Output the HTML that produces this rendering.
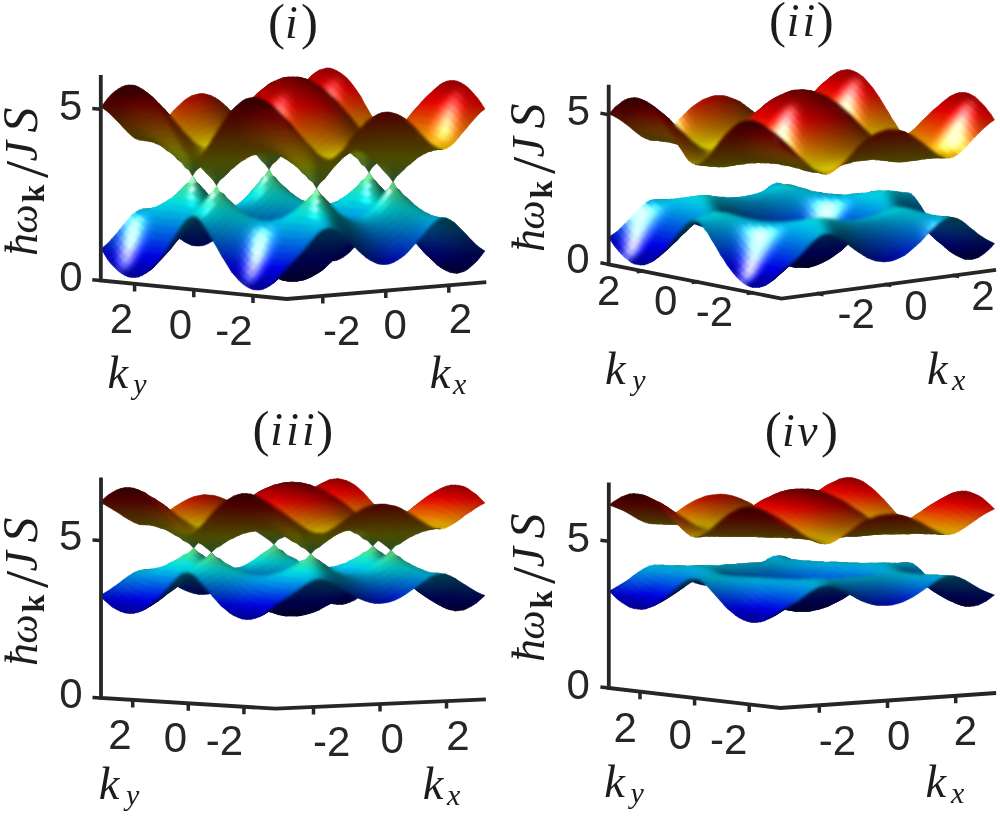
<!DOCTYPE html>
<html><head><meta charset="utf-8"><title>Magnon bands</title>
<style>
html,body{margin:0;padding:0;background:#fff}
body{width:1000px;height:816px;overflow:hidden;position:relative}
svg{position:absolute;left:0;top:0}
.sf path{fill:currentColor;stroke:currentColor;stroke-width:1;stroke-linejoin:round}
</style></head><body>
<svg width="1000" height="816" viewBox="0 0 1000 816">
<rect width="1000" height="816" fill="#fff"/>
<defs><filter id="fsil" x="94" y="163" width="395" height="132" filterUnits="userSpaceOnUse" color-interpolation-filters="sRGB"><feGaussianBlur stdDeviation="1.35"/><feComponentTransfer><feFuncA type="linear" slope="2.4" intercept="-1.3"/></feComponentTransfer></filter>
<filter id="fsiu" x="94" y="62" width="395" height="132" filterUnits="userSpaceOnUse" color-interpolation-filters="sRGB"><feGaussianBlur stdDeviation="1.35"/><feComponentTransfer><feFuncA type="linear" slope="2.4" intercept="-1.3"/></feComponentTransfer></filter>
<filter id="fsiil" x="602" y="177" width="397" height="116" filterUnits="userSpaceOnUse" color-interpolation-filters="sRGB"><feGaussianBlur stdDeviation="1.35"/><feComponentTransfer><feFuncA type="linear" slope="2.4" intercept="-1.3"/></feComponentTransfer></filter>
<filter id="fsiiu" x="602" y="63" width="397" height="116" filterUnits="userSpaceOnUse" color-interpolation-filters="sRGB"><feGaussianBlur stdDeviation="1.35"/><feComponentTransfer><feFuncA type="linear" slope="2.4" intercept="-1.3"/></feComponentTransfer></filter>
<filter id="fsiiil" x="93" y="538" width="397" height="87" filterUnits="userSpaceOnUse" color-interpolation-filters="sRGB"><feGaussianBlur stdDeviation="1.45"/><feComponentTransfer><feFuncA type="linear" slope="2.4" intercept="-1.3"/></feComponentTransfer></filter>
<filter id="fsiiiu" x="93" y="472" width="397" height="87" filterUnits="userSpaceOnUse" color-interpolation-filters="sRGB"><feGaussianBlur stdDeviation="1.45"/><feComponentTransfer><feFuncA type="linear" slope="2.4" intercept="-1.3"/></feComponentTransfer></filter>
<filter id="fsivl" x="602" y="549" width="397" height="79" filterUnits="userSpaceOnUse" color-interpolation-filters="sRGB"><feGaussianBlur stdDeviation="1.45"/><feComponentTransfer><feFuncA type="linear" slope="2.4" intercept="-1.3"/></feComponentTransfer></filter>
<filter id="fsivu" x="602" y="471" width="397" height="78" filterUnits="userSpaceOnUse" color-interpolation-filters="sRGB"><feGaussianBlur stdDeviation="1.45"/><feComponentTransfer><feFuncA type="linear" slope="2.4" intercept="-1.3"/></feComponentTransfer></filter></defs>
<g id="sil" class="sf" transform="scale(.5)">
<path color=#000b4c d="M429 474l8-5-7 10-8 5z"/>
<path color=#00084c d="M422 478l7-4-7 10-7 4z"/>
<path color=#00064c d="M414 481l8-3-7 10-8 3z"/>
<path color=#00054c d="M407 482l7-1-7 10-7 1z"/>
<path color=#00054c d="M399 482l8 0-7 10-8 0z"/>
<path color=#00064c d="M391 481l8 1-7 10-8-1z"/>
<path color=#00084c d="M384 478l7 3-7 10-7-3z"/>
<path color=#000b4c d="M376 474l8 4-7 10-8-4z"/>
<path color=#000e4c d="M368 469l8 5-7 10-7-5z"/>
<path color=#00134c d="M361 463l7 6-6 10-8-6z"/>
<path color=#00404c d="M292 418l8-1-7 1-8 0z"/>
<path color=#00b0d6 d="M285 423l7-5-7 0-7 2z"/>
<path color=#03addc d="M277 430l8-7-7-3-8 5z"/>
<path color=#42dcff d="M269 438l8-8-7-5-8 6z"/>
<path color=#7cffff d="M262 448l7-10-7-7-7 9z"/>
<path color=#77e9ff d="M254 458l8-10-7-8-8 9z"/>
<path color=#59b8ff d="M247 468l7-10-7-9-7 9z"/>
<path color=#3984fe d="M239 478l8-10-7-10-8 10z"/>
<path color=#1e58e0 d="M231 487l8-9-7-10-8 9z"/>
<path color=#0c36ca d="M224 495l7-8-7-10-7 8z"/>
<path color=#031fbd d="M216 503l8-8-7-10-8 7z"/>
<path color=#0111b5 d="M209 509l7-6-7-11-7 6z"/>
<path color=#000e4c d="M421 470l8-3-7 11-8 3z"/>
<path color=#000d4c d="M413 471l8-1-7 11-7 1z"/>
<path color=#000d4c d="M406 471l7 0-6 11-8 0z"/>
<path color=#000e4c d="M398 470l8 1-7 11-8-1z"/>
<path color=#00104c d="M391 467l7 3-7 11-7-3z"/>
<path color=#00134c d="M383 464l8 3-7 11-8-4z"/>
<path color=#00174c d="M375 459l8 5-7 10-8-5z"/>
<path color=#001b4c d="M368 453l7 6-7 10-7-6z"/>
<path color=#00b2d2 d="M299 419l8-4-7 2-8 1z"/>
<path color=#00b7e1 d="M292 426l7-7-7-1-7 5z"/>
<path color=#10b8ef d="M284 434l8-8-7-3-8 7z"/>
<path color=#7ff d="M276 444l8-10-7-4-8 8z"/>
<path color=#bfffff d="M269 455l7-11-7-6-7 10z"/>
<path color=#c3ffff d="M261 466l8-11-7-7-8 10z"/>
<path color=#a3f4ff d="M253 476l8-10-7-8-7 10z"/>
<path color=#76b3ff d="M246 487l7-11-6-8-8 10z"/>
<path color=#4872ff d="M238 496l8-9-7-9-8 9z"/>
<path color=#223be5 d="M231 505l7-9-7-9-7 8z"/>
<path color=#0b16ca d="M223 512l8-7-7-10-8 8z"/>
<path color=#0202bb d="M215 519l8-7-7-9-7 6z"/>
<path color=#00164c d="M420 460l8-1-7 11-8 1z"/>
<path color=#00164c d="M413 460l7 0-7 11-7 0z"/>
<path color=#00174c d="M405 459l8 1-7 11-8-1z"/>
<path color=#00194c d="M397 456l8 3-7 11-7-3z"/>
<path color=#001c4c d="M390 452l7 4-6 11-8-3z"/>
<path color=#001f4c d="M382 448l8 4-7 12-8-5z"/>
<path color=#00244c d="M375 442l7 6-7 11-7-6z"/>
<path color=#00c1e0 d="M306 420l8-7-7 2-8 4z"/>
<path color=#00b7e5 d="M298 428l8-8-7-1-7 7z"/>
<path color=#16b8f6 d="M291 439l7-11-6-2-8 8z"/>
<path color=#6af4ff d="M283 450l8-11-7-5-8 10z"/>
<path color=#b7ffff d="M276 461l7-11-7-6-7 11z"/>
<path color=#dcffff d="M268 473l8-12-7-6-8 11z"/>
<path color=#dbffff d="M260 484l8-11-7-7-8 10z"/>
<path color=#bdecff d="M253 495l7-11-7-8-7 11z"/>
<path color=#89a5ff d="M245 504l8-9-7-8-8 9z"/>
<path color=#4f59ff d="M237 513l8-9-7-8-7 9z"/>
<path color=#2020e0 d="M230 521l7-8-6-8-8 7z"/>
<path color=#0808b7 d="M222 528l8-7-7-9-8 7z"/>
<path color=#00204c d="M412 447l8 2-7 11-8-1z"/>
<path color=#00224c d="M404 445l8 2-7 12-8-3z"/>
<path color=#00254c d="M397 441l7 4-7 11-7-4z"/>
<path color=#00284c d="M389 436l8 5-7 11-8-4z"/>
<path color=#00c5d5 d="M321 412l7-7-7 4-7 4z"/>
<path color=#00c7e5 d="M313 420l8-8-7 1-8 7z"/>
<path color=#00b5e5 d="M305 431l8-11-7 0-8 8z"/>
<path color=#0fabef d="M298 443l7-12-7-3-7 11z"/>
<path color=#3ec0ff d="M290 455l8-12-7-4-8 11z"/>
<path color=#79e2ff d="M282 467l8-12-7-5-7 11z"/>
<path color=#aefeff d="M275 479l7-12-6-6-8 12z"/>
<path color=#d1ffff d="M267 491l8-12-7-6-8 11z"/>
<path color=#dbfeff d="M260 501l7-10-7-7-7 11z"/>
<path color=#c4d2ff d="M252 512l8-11-7-6-8 9z"/>
<path color=#8c8cff d="M244 521l8-9-7-8-8 9z"/>
<path color=#4747ff d="M237 529l7-8-7-8-7 8z"/>
<path color=#1616bd d="M229 535l8-6-7-8-8 7z"/>
<path color=#002d4c d="M404 430l7 4-7 11-7-4z"/>
<path color=#00314c d="M396 425l8 5-7 11-8-5z"/>
<path color=#00d5de d="M327 410l8-9-7 4-7 7z"/>
<path color=#00c9e4 d="M320 421l7-11-6 2-8 8z"/>
<path color=#00b2e3 d="M312 433l8-12-7-1-8 11z"/>
<path color=#079ee7 d="M305 446l7-13-7-2-7 12z"/>
<path color=#1b97f9 d="M297 459l8-13-7-3-8 12z"/>
<path color=#3b9cff d="M289 472l8-13-7-4-8 12z"/>
<path color=#62a9ff d="M282 484l7-12-7-5-7 12z"/>
<path color=#8bb9ff d="M274 496l8-12-7-5-8 12z"/>
<path color=#aec5ff d="M266 507l8-11-7-5-7 10z"/>
<path color=#bdbfff d="M259 518l7-11-6-6-8 11z"/>
<path color=#a7a7ff d="M251 527l8-9-7-6-8 9z"/>
<path color=#6b6bff d="M244 535l7-8-7-6-7 8z"/>
<path color=#2a2acb d="M236 542l8-7-7-6-8 6z"/>
<path color=#0ed2c3 d="M342 398l8-8-7 6-8 5z"/>
<path color=#00dee0 d="M334 409l8-11-7 3-8 9z"/>
<path color=#00c9e2 d="M327 422l7-13-7 1-7 11z"/>
<path color=#00afe2 d="M319 435l8-13-7-1-8 12z"/>
<path color=#0395e2 d="M311 449l8-14-7-2-7 13z"/>
<path color=#0980e8 d="M304 462l7-13-6-3-8 13z"/>
<path color=#1570f3 d="M296 476l8-14-7-3-8 13z"/>
<path color=#2766ff d="M289 488l7-12-7-4-7 12z"/>
<path color=#3e63ff d="M281 501l8-13-7-4-8 12z"/>
<path color=#5866ff d="M273 512l8-11-7-5-8 11z"/>
<path color=#6f6fff d="M266 523l7-11-7-5-7 11z"/>
<path color=#7575ff d="M258 532l8-9-7-5-8 9z"/>
<path color=#5b5bff d="M250 540l8-8-7-5-7 8z"/>
<path color=#2c2cc8 d="M243 547l7-7-6-5-8 7z"/>
<path color=#1adac1 d="M349 396l7-12-6 6-8 8z"/>
<path color=#03e0dd d="M341 409l8-13-7 2-8 11z"/>
<path color=#00c9e1 d="M334 422l7-13-7 0-7 13z"/>
<path color=#00ace0 d="M326 437l8-15-7 0-8 13z"/>
<path color=#0190e0 d="M318 451l8-14-7-2-8 14z"/>
<path color=#0374e2 d="M311 465l7-14-7-2-7 13z"/>
<path color=#065be5 d="M303 479l8-14-7-3-8 14z"/>
<path color=#0a44e9 d="M295 492l8-13-7-3-7 12z"/>
<path color=#1130f0 d="M288 504l7-12-6-4-8 13z"/>
<path color=#1a20f9 d="M280 516l8-12-7-3-8 11z"/>
<path color=#2323f2 d="M273 526l7-10-7-4-7 11z"/>
<path color=#2828e3 d="M265 536l8-10-7-3-8 9z"/>
<path color=#2323cb d="M257 544l8-8-7-4-8 8z"/>
<path color=#1313aa d="M250 551l7-7-7-4-7 7z"/>
<path color=#1fc7a8 d="M508 377l8-10-7 8-8 9z"/>
<path color=#0fcbbc d="M500 386l8-9-7 7-7 8z"/>
<path color=#00cbcc d="M493 394l7-8-6 6-8 8z"/>
<path color=#00bdcb d="M485 401l8-7-7 6-8 7z"/>
<path color=#37d39c d="M363 381l8-12-7 7-8 8z"/>
<path color=#22debc d="M356 394l7-13-7 3-7 12z"/>
<path color=#07dfd8 d="M348 408l8-14-7 2-8 13z"/>
<path color=#00c9df d="M340 423l8-15-7 1-7 13z"/>
<path color=#00abdf d="M333 438l7-15-6-1-8 15z"/>
<path color=#008ddf d="M325 452l8-14-7-1-8 14z"/>
<path color=#016fe0 d="M318 467l7-15-7-1-7 14z"/>
<path color=#0153e1 d="M310 481l8-14-7-2-8 14z"/>
<path color=#0237e2 d="M302 494l8-13-7-2-8 13z"/>
<path color=#031de3 d="M295 507l7-13-7-2-7 12z"/>
<path color=#0405e5 d="M287 518l8-11-7-3-8 12z"/>
<path color=#0505d1 d="M280 529l7-11-7-2-7 10z"/>
<path color=#0505bd d="M272 539l8-10-7-3-8 10z"/>
<path color=#0404aa d="M264 547l8-8-7-3-8 8z"/>
<path color=#020297 d="M257 554l7-7-7-3-7 7z"/>
<path color=#52c573 d="M530 352l8-13-7 12-8 6z"/>
<path color=#45da95 d="M523 364l7-12-7 5-7 10z"/>
<path color=#30deae d="M515 375l8-11-7 3-8 10z"/>
<path color=#1ce0c5 d="M507 384l8-9-7 2-8 9z"/>
<path color=#0ae1d8 d="M500 393l7-9-7 2-7 8z"/>
<path color=#00dbe1 d="M492 400l8-7-7 1-8 7z"/>
<path color=#00ccde d="M484 405l8-5-7 1-7 6z"/>
<path color=#00bed9 d="M477 410l7-5-6 2-8 4z"/>
<path color=#5c7 d="M378 366l7-14-6 12-8 5z"/>
<path color=#44de9b d="M370 380l8-14-7 3-8 12z"/>
<path color=#27dfb8 d="M363 394l7-14-7 1-7 13z"/>
<path color=#09dfd6 d="M355 409l8-15-7 0-8 14z"/>
<path color=#00c9df d="M347 424l8-15-7-1-8 15z"/>
<path color=#00aadf d="M340 439l7-15-7-1-7 15z"/>
<path color=#008bdf d="M332 453l8-14-7-1-8 14z"/>
<path color=#006ddf d="M324 468l8-15-7-1-7 15z"/>
<path color=#0050e0 d="M317 482l7-14-6-1-8 14z"/>
<path color=#0034e1 d="M309 495l8-13-7-1-8 13z"/>
<path color=#0019e2 d="M302 508l7-13-7-1-7 13z"/>
<path color=#0000e2 d="M294 520l8-12-7-1-8 11z"/>
<path color=#0000cb d="M286 530l8-10-7-2-7 11z"/>
<path color=#0000b7 d="M279 540l7-10-6-1-8 10z"/>
<path color=#0000a4 d="M271 548l8-8-7-1-8 8z"/>
<path color=#000094 d="M264 555l7-7-7-1-7 7z"/>
<path color=#204c2d d="M545 352l7 4-7-4-7-13z"/>
<path color=#67da88 d="M537 358l8-6-7-13-8 13z"/>
<path color=#dcffff d="M529 368l8-10-7-6-7 12z"/>
<path color=#6dffec d="M522 378l7-10-6-4-8 11z"/>
<path color=#36fadf d="M514 387l8-9-7-3-8 9z"/>
<path color=#13ebe1 d="M507 396l7-9-7-3-7 9z"/>
<path color=#02dde3 d="M499 403l8-7-7-3-8 7z"/>
<path color=#00ccdf d="M491 408l8-5-7-3-8 5z"/>
<path color=#00bed9 d="M484 413l7-5-7-3-7 5z"/>
<path color=#00afcf d="M476 415l8-2-7-3-8 3z"/>
<path color=#204c2d d="M392 365l8 5-7-6-8-12z"/>
<path color=#b3ffd5 d="M385 370l7-5-7-13-7 14z"/>
<path color=#51eca8 d="M377 382l8-12-7-4-8 14z"/>
<path color=#28e0b9 d="M369 396l8-14-7-2-7 14z"/>
<path color=#09dfd6 d="M362 410l7-14-6-2-8 15z"/>
<path color=#00c9df d="M354 424l8-14-7-1-8 15z"/>
<path color=#00aadf d="M347 439l7-15-7 0-7 15z"/>
<path color=#008bdf d="M339 454l8-15-7 0-8 14z"/>
<path color=#006ddf d="M331 468l8-14-7-1-8 15z"/>
<path color=#0050e0 d="M324 482l7-14-7 0-7 14z"/>
<path color=#0033e1 d="M316 495l8-13-7 0-8 13z"/>
<path color=#0018e1 d="M309 508l7-13-7 0-7 13z"/>
<path color=#0000e2 d="M301 520l8-12-7 0-8 12z"/>
<path color=#0000cb d="M293 530l8-10-7 0-8 10z"/>
<path color=#0000b7 d="M286 540l7-10-7 0-7 10z"/>
<path color=#0000a4 d="M278 548l8-8-7 0-8 8z"/>
<path color=#000094 d="M271 555l7-7-7 0-7 7z"/>
<path color=#003 d="M666 515l7 6-7 1-7-6z"/>
<path color=#267650 d="M552 365l7 0-7-9-7-4z"/>
<path color=#34a975 d="M544 370l8-5-7-13-8 6z"/>
<path color=#32c395 d="M536 378l8-8-7-12-8 10z"/>
<path color=#3ee7c8 d="M529 387l7-9-7-10-7 10z"/>
<path color=#39f6e7 d="M521 395l8-8-7-9-8 9z"/>
<path color=#1ce7e8 d="M513 403l8-8-7-8-7 9z"/>
<path color=#09c6d4 d="M506 410l7-7-6-7-8 7z"/>
<path color=#01b0c9 d="M498 415l8-5-7-7-8 5z"/>
<path color=#00a2c2 d="M491 419l7-4-7-7-7 5z"/>
<path color=#0095b9 d="M483 422l8-3-7-6-8 2z"/>
<path color=#0088ac d="M475 423l8-1-7-7-7 2z"/>
<path color=#0c4c41 d="M414 388l8 8-7-9-7-8z"/>
<path color=#124c3a d="M407 381l7 7-6-9-8-9z"/>
<path color=#1e6244 d="M399 377l8 4-7-11-8-5z"/>
<path color=#34a16d d="M392 379l7-2-7-12-7 5z"/>
<path color=#d2ffff d="M384 387l8-8-7-9-8 12z"/>
<path color=#42fddb d="M376 398l8-11-7-5-8 14z"/>
<path color=#09e1da d="M369 411l7-13-7-2-7 14z"/>
<path color=#00c9df d="M361 425l8-14-7-1-8 14z"/>
<path color=#00abdf d="M354 439l7-14-7-1-7 15z"/>
<path color=#008cdf d="M346 454l8-15-7 0-8 15z"/>
<path color=#006fdf d="M338 468l8-14-7 0-8 14z"/>
<path color=#0052df d="M331 481l7-13-7 0-7 14z"/>
<path color=#0035e0 d="M323 494l8-13-7 1-8 13z"/>
<path color=#001be1 d="M315 507l8-13-7 1-7 13z"/>
<path color=#0002e1 d="M308 519l7-12-6 1-8 12z"/>
<path color=#0000cd d="M300 529l8-10-7 1-8 10z"/>
<path color=#0000b8 d="M293 539l7-10-7 1-7 10z"/>
<path color=#0000a6 d="M285 547l8-8-7 1-8 8z"/>
<path color=#000095 d="M277 554l8-7-7 1-7 7z"/>
<path color=#000035 d="M673 512l7 6-7 3-7-6z"/>
<path color=#136451 d="M566 375l8 3-7-6-8-7z"/>
<path color=#1f8c6e d="M558 377l8-2-7-10-7 0z"/>
<path color=#20a686 d="M551 382l7-5-6-12-8 5z"/>
<path color=#18b29a d="M543 390l8-8-7-12-8 8z"/>
<path color=#0cb9ae d="M536 398l7-8-7-12-7 9z"/>
<path color=#01b9bc d="M528 406l8-8-7-11-8 8z"/>
<path color=#01acbc d="M520 413l8-7-7-11-8 8z"/>
<path color=#009eb9 d="M513 419l7-6-7-10-7 7z"/>
<path color=#0091b5 d="M505 424l8-5-7-9-8 5z"/>
<path color=#0085af d="M498 428l7-4-7-9-7 4z"/>
<path color=#007aa6 d="M490 431l8-3-7-9-8 3z"/>
<path color=#0b5449 d="M414 394l7 6-7-12-7-7z"/>
<path color=#136451 d="M406 390l8 4-7-13-8-4z"/>
<path color=#1e8c6d d="M398 389l8 1-7-13-7 2z"/>
<path color=#26c29d d="M391 394l7-5-6-10-8 8z"/>
<path color=#8dffff d="M383 402l8-8-7-7-8 11z"/>
<path color=#0ce9e6 d="M376 413l7-11-7-4-7 13z"/>
<path color=#00cae1 d="M368 426l8-13-7-2-8 14z"/>
<path color=#00ace0 d="M360 439l8-13-7-1-7 14z"/>
<path color=#008fdf d="M353 453l7-14-6 0-8 15z"/>
<path color=#0072df d="M345 466l8-13-7 1-8 14z"/>
<path color=#0055df d="M338 480l7-14-7 2-7 13z"/>
<path color=#003adf d="M330 493l8-13-7 1-8 13z"/>
<path color=#001fdf d="M322 505l8-12-7 1-8 13z"/>
<path color=#0007df d="M315 516l7-11-7 2-7 12z"/>
<path color=#0000cf d="M307 527l8-11-7 3-8 10z"/>
<path color=#00b d="M299 536l8-9-7 2-7 10z"/>
<path color=#0000a8 d="M292 544l7-8-6 3-8 8z"/>
<path color=#000098 d="M284 551l8-7-7 3-8 7z"/>
<path color=#000037 d="M680 508l7 6-7 4-7-6z"/>
<path color=#065d57 d="M581 386l7 4-7-5-7-7z"/>
<path color=#0e8172 d="M573 386l8 0-7-8-8-3z"/>
<path color=#129b89 d="M565 389l8-3-7-11-8 2z"/>
<path color=#0da89b d="M558 395l7-6-7-12-7 5z"/>
<path color=#03afac d="M550 402l8-7-7-13-8 8z"/>
<path color=#00a9b2 d="M542 410l8-8-7-12-7 8z"/>
<path color=#009db3 d="M535 418l7-8-6-12-8 8z"/>
<path color=#0090b2 d="M527 425l8-7-7-12-8 7z"/>
<path color=#0084af d="M520 431l7-6-7-12-7 6z"/>
<path color=#0078aa d="M512 436l8-5-7-12-8 5z"/>
<path color=#006da4 d="M504 440l8-4-7-12-7 4z"/>
<path color=#00649c d="M497 442l7-2-6-12-8 3z"/>
<path color=#08625b d="M413 402l8 4-7-12-8-4z"/>
<path color=#0e7d6f d="M405 400l8 2-7-12-8-1z"/>
<path color=#13aa97 d="M398 401l7-1-7-11-7 5z"/>
<path color=#27ebdd d="M390 407l8-6-7-7-8 8z"/>
<path color=#17f5f8 d="M383 416l7-9-7-5-7 11z"/>
<path color=#01cae3 d="M375 426l8-10-7-3-8 13z"/>
<path color=#00afe1 d="M367 439l8-13-7 0-8 13z"/>
<path color=#0092e0 d="M360 451l7-12-7 0-7 14z"/>
<path color=#0076df d="M352 464l8-13-7 2-8 13z"/>
<path color=#005ade d="M344 477l8-13-7 2-7 14z"/>
<path color=#003fdd d="M337 490l7-13-6 3-8 13z"/>
<path color=#0026dd d="M329 502l8-12-7 3-8 12z"/>
<path color=#000edc d="M322 513l7-11-7 3-7 11z"/>
<path color=#0000d4 d="M314 523l8-10-7 3-8 11z"/>
<path color=#0000bf d="M306 532l8-9-7 4-8 9z"/>
<path color=#0000ac d="M299 541l7-9-7 4-7 8z"/>
<path color=#00009b d="M291 547l8-6-7 3-8 7z"/>
<path color=#00003b d="M687 503l7 6-7 5-7-6z"/>
<path color=#000040 d="M679 497l8 6-7 5-8-6z"/>
<path color=#017b7a d="M587 394l8 1-7-5-7-4z"/>
<path color=#049893 d="M580 396l7-2-6-8-8 0z"/>
<path color=#02a6a5 d="M572 401l8-5-7-10-8 3z"/>
<path color=#00a6ad d="M565 407l7-6-7-12-7 6z"/>
<path color=#009eaf d="M557 415l8-8-7-12-8 7z"/>
<path color=#0093b0 d="M549 423l8-8-7-13-8 8z"/>
<path color=#0086b0 d="M542 430l7-7-7-13-7 8z"/>
<path color=#0079ad d="M534 437l8-7-7-12-8 7z"/>
<path color=#006daa d="M527 443l7-6-7-12-7 6z"/>
<path color=#0062a5 d="M519 448l8-5-7-12-8 5z"/>
<path color=#00599f d="M511 452l8-4-7-12-8 4z"/>
<path color=#017170 d="M412 410l8 3-7-11-8-2z"/>
<path color=#049490 d="M405 409l7 1-7-10-7 1z"/>
<path color=#02c2c0 d="M397 412l8-3-7-8-8 6z"/>
<path color=#0de2eb d="M389 418l8-6-7-5-7 9z"/>
<path color=#01c9e5 d="M382 427l7-9-6-2-8 10z"/>
<path color=#00b1e3 d="M374 438l8-11-7-1-8 13z"/>
<path color=#0097e0 d="M367 449l7-11-7 1-7 12z"/>
<path color=#007cde d="M359 462l8-13-7 2-8 13z"/>
<path color=#0061dc d="M351 474l8-12-7 2-8 13z"/>
<path color=#0047db d="M344 486l7-12-7 3-7 13z"/>
<path color=#002eda d="M336 497l8-11-7 4-8 12z"/>
<path color=#0017d9 d="M328 508l8-11-7 5-7 11z"/>
<path color=#0002d7 d="M321 518l7-10-6 5-8 10z"/>
<path color=#0000c4 d="M313 528l8-10-7 5-8 9z"/>
<path color=#0000b2 d="M306 536l7-8-7 4-7 9z"/>
<path color=#0000a1 d="M298 542l8-6-7 5-8 6z"/>
<path color=#000040 d="M693 497l8 6-7 6-7-6z"/>
<path color=#000045 d="M686 491l7 6-6 6-8-6z"/>
<path color=#006f78 d="M602 401l8 2-7-3-8-5z"/>
<path color=#009198 d="M594 402l8-1-7-6-8-1z"/>
<path color=#00a0a9 d="M587 406l7-4-7-8-7 2z"/>
<path color=#00a0b0 d="M579 412l8-6-7-10-8 5z"/>
<path color=#0098b2 d="M572 419l7-7-7-11-7 6z"/>
<path color=#008cb2 d="M564 427l8-8-7-12-8 8z"/>
<path color=#007fb1 d="M556 435l8-8-7-12-8 8z"/>
<path color=#0072af d="M549 443l7-8-7-12-7 7z"/>
<path color=#0065ad d="M541 449l8-6-7-13-8 7z"/>
<path color=#0059a9 d="M533 455l8-6-7-12-7 6z"/>
<path color=#00c6d5 d="M396 421l8-3-7-6-8 6z"/>
<path color=#00c7e5 d="M389 428l7-7-7-3-7 9z"/>
<path color=#00b5e4 d="M381 437l8-9-7-1-8 11z"/>
<path color=#000040 d="M305 536l7-7-6 7-8 6z"/>
<path color=#000046 d="M700 490l8 5-7 8-8-6z"/>
<path color=#00004b d="M693 483l7 7-7 7-7-6z"/>
<path color=#00899a d="M609 407l7-1-6-3-8-2z"/>
<path color=#009eb1 d="M601 410l8-3-7-6-8 1z"/>
<path color=#009eb7 d="M594 415l7-5-7-8-7 4z"/>
<path color=#0096b8 d="M586 422l8-7-7-9-8 6z"/>
<path color=#008ab8 d="M578 431l8-9-7-10-7 7z"/>
<path color=#007cb6 d="M571 439l7-8-6-12-8 8z"/>
<path color=#006db4 d="M563 447l8-8-7-12-8 8z"/>
<path color=#005fb1 d="M556 455l7-8-7-12-7 8z"/>
<path color=#000046 d="M312 529l7-7-7 7-7 7z"/>
<path color=#00004c d="M707 482l8 5-7 8-8-5z"/>
<path color=#00044c d="M700 475l7 7-7 8-7-7z"/>
<path color=#0199c2 d="M601 424l7-7-7-7-7 5z"/>
<path color=#028dc2 d="M593 433l8-9-7-9-8 7z"/>
<path color=#027dbf d="M585 441l8-8-7-11-8 9z"/>
<path color=#00044c d="M326 514l8-8-7 8-8 8z"/>
<path color=#00004c d="M319 520l7-6-7 8-7 7z"/>
<path color=#00114c d="M341 497l7-8-6 9-8 8z"/>
<path color=#000b4c d="M333 505l8-8-7 9-8 8z"/>
<path color=#00074c d="M326 511l7-6-7 9-7 6z"/>
<path color=#00244c d="M363 471l8-9-7 9-8 9z"/>
<path color=#001e4c d="M355 479l8-8-7 9-8 9z"/>
<path color=#00184c d="M348 487l7-8-7 10-7 8z"/>
<path color=#00134c d="M340 495l8-8-7 10-8 8z"/>
<path color=#000f4c d="M333 501l7-6-7 10-7 6z"/>
<path color=#003c4c d="M393 437l7-5-7 6-7 7z"/>
<path color=#00374c d="M385 445l8-8-7 8-8 8z"/>
<path color=#00324c d="M377 453l8-8-7 8-7 9z"/>
<path color=#002c4c d="M370 461l7-8-6 9-8 9z"/>
<path color=#00264c d="M362 469l8-8-7 10-8 8z"/>
<path color=#00204c d="M355 477l7-8-7 10-7 8z"/>
<path color=#001b4c d="M347 484l8-7-7 10-8 8z"/>
<path color=#00174c d="M339 490l8-6-7 11-7 6z"/>
<path color=#00444c d="M666 406l8-3-7 4-8 1z"/>
<path color=#00c1e0 d="M659 413l7-7-7 2-7 4z"/>
<path color=#003e4c d="M392 435l8-6-7 8-8 8z"/>
<path color=#00394c d="M384 443l8-8-7 10-8 8z"/>
<path color=#00344c d="M377 450l7-7-7 10-7 8z"/>
<path color=#002e4c d="M369 458l8-8-7 11-8 8z"/>
<path color=#00294c d="M361 466l8-8-7 11-7 8z"/>
<path color=#00244c d="M354 473l7-7-6 11-8 7z"/>
<path color=#001f4c d="M346 479l8-6-7 11-8 6z"/>
<path color=#00c5d5 d="M673 405l8-7-7 5-8 3z"/>
<path color=#00c7e5 d="M665 413l8-8-7 1-7 7z"/>
<path color=#00414c d="M391 432l8-7-7 10-8 8z"/>
<path color=#003c4c d="M384 439l7-7-7 11-7 7z"/>
<path color=#00374c d="M376 447l8-8-7 11-8 8z"/>
<path color=#00324c d="M368 455l8-8-7 11-8 8z"/>
<path color=#002d4c d="M361 462l7-7-7 11-7 7z"/>
<path color=#00284c d="M353 468l8-6-7 11-8 6z"/>
<path color=#00d5de d="M680 403l8-9-7 4-8 7z"/>
<path color=#00c9e4 d="M672 414l8-11-7 2-8 8z"/>
<path color=#02b4e5 d="M665 426l7-12-7-1-7 11z"/>
<path color=#00454c d="M390 428l8-7-7 11-7 7z"/>
<path color=#00404c d="M383 436l7-8-6 11-8 8z"/>
<path color=#003a4c d="M375 444l8-8-7 11-8 8z"/>
<path color=#00364c d="M368 451l7-7-7 11-7 7z"/>
<path color=#00314c d="M360 457l8-6-7 11-8 6z"/>
<path color=#0ed2c3 d="M694 391l8-8-7 6-7 5z"/>
<path color=#00dee0 d="M687 402l7-11-6 3-8 9z"/>
<path color=#00c9e2 d="M679 415l8-13-7 1-8 11z"/>
<path color=#02b1e3 d="M672 428l7-13-7-1-7 12z"/>
<path color=#00494c d="M390 425l7-8-7 11-7 8z"/>
<path color=#00434c d="M382 433l8-8-7 11-8 8z"/>
<path color=#003e4c d="M374 440l8-7-7 11-7 7z"/>
<path color=#003a4c d="M367 447l7-7-6 11-8 6z"/>
<path color=#1adac1 d="M701 389l8-12-7 6-8 8z"/>
<path color=#03e0dd d="M694 402l7-13-7 2-7 11z"/>
<path color=#00c9e1 d="M686 415l8-13-7 0-8 13z"/>
<path color=#02aee1 d="M678 430l8-15-7 0-7 13z"/>
<path color=#00464c d="M381 432l8-8-7 9-8 7z"/>
<path color=#00414c d="M374 438l7-6-7 8-7 7z"/>
<path color=#37d39c d="M716 374l7-12-6 7-8 8z"/>
<path color=#22debc d="M708 387l8-13-7 3-8 12z"/>
<path color=#07dfd8 d="M701 401l7-14-7 2-7 13z"/>
<path color=#00c9e0 d="M693 416l8-15-7 1-8 13z"/>
<path color=#01ace0 d="M685 431l8-15-7-1-8 15z"/>
<path color=#1fc7a8 d="M403 409l8-10-7 8-7 9z"/>
<path color=#0fcbbc d="M396 418l7-9-6 7-8 8z"/>
<path color=#00cbcc d="M388 426l8-8-7 6-8 8z"/>
<path color=#00bdcb d="M381 433l7-7-7 6-7 6z"/>
<path color=#5c7 d="M730 359l8-14-7 12-8 5z"/>
<path color=#44de9b d="M723 373l7-14-7 3-7 12z"/>
<path color=#27dfb8 d="M715 387l8-14-7 1-8 13z"/>
<path color=#09dfd6 d="M707 402l8-15-7 0-7 14z"/>
<path color=#00c9df d="M700 417l7-15-6-1-8 15z"/>
<path color=#01abdf d="M692 432l8-15-7-1-8 15z"/>
<path color=#018ce0 d="M685 446l7-14-7-1-7 14z"/>
<path color=#000028 d="M570 561l8 2-7-2-8-1z"/>
<path color=#00002a d="M563 558l7 3-7-1-7-3z"/>
<path color=#00002d d="M555 554l8 4-7-1-8-5z"/>
<path color=#45da95 d="M418 395l8-11-7 5-8 10z"/>
<path color=#30deae d="M410 406l8-11-7 4-8 10z"/>
<path color=#1ce0c5 d="M403 416l7-10-7 3-7 9z"/>
<path color=#0ae1d8 d="M395 424l8-8-7 2-8 8z"/>
<path color=#00dbe1 d="M388 431l7-7-7 2-7 7z"/>
<path color=#204c2d d="M745 358l7 5-6-6-8-12z"/>
<path color=#7cf39e d="M737 363l8-5-7-13-8 14z"/>
<path color=#6dffc3 d="M730 375l7-12-7-4-7 14z"/>
<path color=#2de5bd d="M722 389l8-14-7-2-8 14z"/>
<path color=#0be1d7 d="M714 403l8-14-7-2-8 15z"/>
<path color=#01cadf d="M707 417l7-14-7-1-7 15z"/>
<path color=#01abdf d="M699 432l8-15-7 0-8 15z"/>
<path color=#008cdf d="M692 447l7-15-7 0-7 14z"/>
<path color=#000028 d="M577 561l8 2-7 0-8-2z"/>
<path color=#00002a d="M570 558l7 3-7 0-7-3z"/>
<path color=#00002d d="M562 554l8 4-7 0-8-4z"/>
<path color=#71e493 d="M433 390l7-6-7-13-7 13z"/>
<path color=#d8ffff d="M425 400l8-10-7-6-8 11z"/>
<path color=#68ffe6 d="M417 410l8-10-7-5-8 11z"/>
<path color=#34f9dd d="M410 419l7-9-7-4-7 10z"/>
<path color=#13ebe1 d="M402 427l8-8-7-3-8 8z"/>
<path color=#02dde3 d="M395 434l7-7-7-3-7 7z"/>
<path color=#0c4c41 d="M767 381l8 8-7-9-8-8z"/>
<path color=#124c3a d="M759 374l8 7-7-9-8-9z"/>
<path color=#1e6244 d="M752 370l7 4-7-11-7-5z"/>
<path color=#34a16d d="M744 372l8-2-7-12-8 5z"/>
<path color=#99fffe d="M736 380l8-8-7-9-7 12z"/>
<path color=#6cffff d="M729 391l7-11-6-5-8 14z"/>
<path color=#10e8e1 d="M721 404l8-13-7-2-8 14z"/>
<path color=#01cae1 d="M714 418l7-14-7-1-7 14z"/>
<path color=#00abdf d="M706 432l8-14-7-1-8 15z"/>
<path color=#008ddf d="M698 447l8-15-7 0-7 15z"/>
<path color=#000028 d="M599 561l8-1-7 1-8 2z"/>
<path color=#000028 d="M592 561l7 0-7 2-7 0z"/>
<path color=#000029 d="M584 560l8 1-7 2-8-2z"/>
<path color=#00002b d="M577 557l7 3-7 1-7-3z"/>
<path color=#00002e d="M569 552l8 5-7 1-8-4z"/>
<path color=#000032 d="M561 546l8 6-7 2-8-6z"/>
<path color=#267650 d="M447 396l8 1-7-9-8-4z"/>
<path color=#34a975 d="M439 401l8-5-7-12-7 6z"/>
<path color=#36c699 d="M432 410l7-9-6-11-8 10z"/>
<path color=#4df5d6 d="M424 418l8-8-7-10-8 10z"/>
<path color=#4cfffa d="M417 427l7-9-7-8-7 9z"/>
<path color=#2bf6f7 d="M409 435l8-8-7-8-8 8z"/>
<path color=#10cddb d="M401 441l8-6-7-8-7 7z"/>
<path color=#0b5449 d="M766 387l8 6-7-12-8-7z"/>
<path color=#136451 d="M759 383l7 4-7-13-7-4z"/>
<path color=#1e8c6d d="M751 382l8 1-7-13-8 2z"/>
<path color=#25c09b d="M743 387l8-5-7-10-8 8z"/>
<path color=#8effff d="M736 395l7-8-7-7-7 11z"/>
<path color=#20fdfa d="M728 406l8-11-7-4-8 13z"/>
<path color=#02cbe3 d="M721 419l7-13-7-2-7 14z"/>
<path color=#00ade0 d="M713 432l8-13-7-1-8 14z"/>
<path color=#008fdf d="M705 446l8-14-7 0-8 15z"/>
<path color=#00002b d="M614 557l8-3-7 3-8 3z"/>
<path color=#00002a d="M606 559l8-2-7 3-8 1z"/>
<path color=#00002a d="M599 559l7 0-7 2-7 0z"/>
<path color=#00002b d="M591 557l8 2-7 2-8-1z"/>
<path color=#00002d d="M583 554l8 3-7 3-7-3z"/>
<path color=#000030 d="M576 550l7 4-6 3-8-5z"/>
<path color=#000034 d="M568 544l8 6-7 2-8-6z"/>
<path color=#136451 d="M462 407l7 3-7-7-7-6z"/>
<path color=#1f8c6e d="M454 408l8-1-7-10-8-1z"/>
<path color=#20a686 d="M446 414l8-6-7-12-8 5z"/>
<path color=#18b29b d="M439 421l7-7-7-13-7 9z"/>
<path color=#0dbaaf d="M431 429l8-8-7-11-8 8z"/>
<path color=#03babd d="M423 437l8-8-7-11-7 9z"/>
<path color=#02adbd d="M416 445l7-8-6-10-8 8z"/>
<path color=#019eba d="M408 451l8-6-7-10-8 6z"/>
<path color=#08625b d="M766 395l7 4-7-12-7-4z"/>
<path color=#0e7d6f d="M758 393l8 2-7-12-8-1z"/>
<path color=#13aa97 d="M750 394l8-1-7-11-8 5z"/>
<path color=#17dbcc d="M743 400l7-6-7-7-7 8z"/>
<path color=#2affff d="M735 409l8-9-7-5-8 11z"/>
<path color=#03cce5 d="M727 419l8-10-7-3-7 13z"/>
<path color=#00afe1 d="M720 432l7-13-6 0-8 13z"/>
<path color=#0092e0 d="M712 444l8-12-7 0-8 14z"/>
<path color=#000030 d="M628 550l8-4-7 4-7 4z"/>
<path color=#00002e d="M621 553l7-3-6 4-8 3z"/>
<path color=#00002d d="M613 555l8-2-7 4-8 2z"/>
<path color=#00002d d="M606 555l7 0-7 4-7 0z"/>
<path color=#00002e d="M598 553l8 2-7 4-8-2z"/>
<path color=#000030 d="M590 550l8 3-7 4-8-3z"/>
<path color=#003 d="M583 546l7 4-7 4-7-4z"/>
<path color=#000037 d="M575 540l8 6-7 4-8-6z"/>
<path color=#0e8172 d="M468 417l8 1-7-8-7-3z"/>
<path color=#129b89 d="M461 420l7-3-6-10-8 1z"/>
<path color=#0da89b d="M453 426l8-6-7-12-8 6z"/>
<path color=#03afac d="M446 434l7-8-7-12-7 7z"/>
<path color=#00a9b2 d="M438 442l8-8-7-13-8 8z"/>
<path color=#009db3 d="M430 449l8-7-7-13-8 8z"/>
<path color=#0090b2 d="M423 456l7-7-7-12-7 8z"/>
<path color=#0084af d="M415 462l8-6-7-11-8 6z"/>
<path color=#017170 d="M765 403l7 3-6-11-8-2z"/>
<path color=#049490 d="M757 402l8 1-7-10-8 1z"/>
<path color=#02c2c0 d="M750 405l7-3-7-8-7 6z"/>
<path color=#0ce1ea d="M742 411l8-6-7-5-8 9z"/>
<path color=#02cbe6 d="M734 420l8-9-7-2-8 10z"/>
<path color=#00b1e3 d="M727 431l7-11-7-1-7 13z"/>
<path color=#0097e0 d="M719 442l8-11-7 1-8 12z"/>
<path color=#000037 d="M643 541l8-6-7 6-8 5z"/>
<path color=#000034 d="M635 545l8-4-7 5-8 4z"/>
<path color=#000032 d="M628 548l7-3-7 5-7 3z"/>
<path color=#000031 d="M620 549l8-1-7 5-8 2z"/>
<path color=#000031 d="M612 549l8 0-7 6-7 0z"/>
<path color=#000032 d="M605 548l7 1-6 6-8-2z"/>
<path color=#000034 d="M597 545l8 3-7 5-8-3z"/>
<path color=#000037 d="M590 541l7 4-7 5-7-4z"/>
<path color=#00003b d="M582 535l8 6-7 5-8-6z"/>
<path color=#000040 d="M574 528l8 7-7 5-8-7z"/>
<path color=#017b7a d="M483 425l8 2-7-5-8-4z"/>
<path color=#049893 d="M475 427l8-2-7-7-8-1z"/>
<path color=#02a6a5 d="M468 432l7-5-7-10-7 3z"/>
<path color=#00a6ad d="M460 439l8-7-7-12-8 6z"/>
<path color=#009eaf d="M452 446l8-7-7-13-7 8z"/>
<path color=#0093b0 d="M445 454l7-8-6-12-8 8z"/>
<path color=#0086b0 d="M437 462l8-8-7-12-8 7z"/>
<path color=#0079ad d="M430 469l7-7-7-13-7 7z"/>
<path color=#006daa d="M422 474l8-5-7-13-8 6z"/>
<path color=#00c6d5 d="M749 414l7-3-6-6-8 6z"/>
<path color=#00c7e5 d="M741 421l8-7-7-3-8 9z"/>
<path color=#00b5e4 d="M734 430l7-9-7-1-7 11z"/>
<path color=#00003c d="M650 535l7-6-6 6-8 6z"/>
<path color=#000039 d="M642 539l8-4-7 6-8 4z"/>
<path color=#000037 d="M635 541l7-2-7 6-7 3z"/>
<path color=#000036 d="M627 543l8-2-7 7-8 1z"/>
<path color=#000036 d="M619 543l8 0-7 6-8 0z"/>
<path color=#000037 d="M612 541l7 2-7 6-7-1z"/>
<path color=#000039 d="M604 538l8 3-7 7-8-3z"/>
<path color=#00003c d="M596 534l8 4-7 7-7-4z"/>
<path color=#000040 d="M589 529l7 5-6 7-8-6z"/>
<path color=#000045 d="M581 522l8 7-7 6-8-7z"/>
<path color=#006f78 d="M497 433l8 2-7-3-7-5z"/>
<path color=#009198 d="M490 433l7 0-6-6-8-2z"/>
<path color=#00a0a9 d="M482 437l8-4-7-8-8 2z"/>
<path color=#00a0b0 d="M475 443l7-6-7-10-7 5z"/>
<path color=#0098b2 d="M467 451l8-8-7-11-8 7z"/>
<path color=#008db2 d="M459 459l8-8-7-12-8 7z"/>
<path color=#007fb1 d="M452 467l7-8-7-13-7 8z"/>
<path color=#0072b0 d="M444 474l8-7-7-13-8 8z"/>
<path color=#0065ad d="M436 481l8-7-7-12-7 7z"/>
<path color=#0059a9 d="M429 487l7-6-6-12-8 5z"/>
<path color=#000046 d="M664 522l8-7-7 7-8 7z"/>
<path color=#000042 d="M657 527l7-5-7 7-7 6z"/>
<path color=#00003f d="M649 531l8-4-7 8-8 4z"/>
<path color=#00003d d="M641 534l8-3-7 8-7 2z"/>
<path color=#00003b d="M634 535l7-1-6 7-8 2z"/>
<path color=#00003b d="M626 535l8 0-7 8-8 0z"/>
<path color=#00003d d="M619 534l7 1-7 8-7-2z"/>
<path color=#00003f d="M611 531l8 3-7 7-8-3z"/>
<path color=#000042 d="M603 527l8 4-7 7-8-4z"/>
<path color=#000046 d="M596 521l7 6-7 7-7-5z"/>
<path color=#00004b d="M588 515l8 6-7 8-8-7z"/>
<path color=#00899a d="M504 438l8 0-7-3-8-2z"/>
<path color=#009eb1 d="M497 441l7-3-7-5-7 0z"/>
<path color=#009eb7 d="M489 447l8-6-7-8-8 4z"/>
<path color=#0096b8 d="M481 454l8-7-7-10-7 6z"/>
<path color=#018ab8 d="M474 462l7-8-6-11-8 8z"/>
<path color=#017cb7 d="M466 471l8-9-7-11-8 8z"/>
<path color=#006db4 d="M459 479l7-8-7-12-7 8z"/>
<path color=#005fb1 d="M451 487l8-8-7-12-8 7z"/>
<path color=#0051ae d="M443 494l8-7-7-13-8 7z"/>
<path color=#0046a9 d="M436 499l7-5-7-13-7 6z"/>
<path color=#00044c d="M679 507l7-8-6 8-8 8z"/>
<path color=#00004c d="M671 513l8-6-7 8-8 7z"/>
<path color=#000048 d="M664 518l7-5-7 9-7 5z"/>
<path color=#000045 d="M656 522l8-4-7 9-8 4z"/>
<path color=#000043 d="M648 525l8-3-7 9-8 3z"/>
<path color=#000042 d="M641 526l7-1-7 9-7 1z"/>
<path color=#000042 d="M633 526l8 0-7 9-8 0z"/>
<path color=#000043 d="M625 525l8 1-7 9-7-1z"/>
<path color=#000045 d="M618 522l7 3-6 9-8-3z"/>
<path color=#000048 d="M610 518l8 4-7 9-8-4z"/>
<path color=#00004c d="M603 513l7 5-7 9-7-6z"/>
<path color=#00044c d="M595 507l8 6-7 8-8-6z"/>
<path color=#008299 d="M519 441l7 1-6-1-8-3z"/>
<path color=#009eb9 d="M511 444l8-3-7-3-8 0z"/>
<path color=#00a2c2 d="M504 449l7-5-7-6-7 3z"/>
<path color=#029ac3 d="M496 456l8-7-7-8-8 6z"/>
<path color=#048fc3 d="M488 464l8-8-7-9-8 7z"/>
<path color=#047fc1 d="M481 473l7-9-7-10-7 8z"/>
<path color=#026dbd d="M473 482l8-9-7-11-8 9z"/>
<path color=#015cb9 d="M465 490l8-8-7-11-7 8z"/>
<path color=#004db5 d="M458 498l7-8-6-11-8 8z"/>
<path color=#003fb1 d="M450 505l8-7-7-11-8 7z"/>
<path color=#0033ac d="M443 512l7-7-7-11-7 5z"/>
<path color=#00114c d="M693 490l8-8-7 9-8 8z"/>
<path color=#000b4c d="M686 498l7-8-7 9-7 8z"/>
<path color=#00074c d="M678 504l8-6-7 9-8 6z"/>
<path color=#00034c d="M670 509l8-5-7 9-7 5z"/>
<path color=#00004c d="M663 513l7-4-6 9-8 4z"/>
<path color=#00004a d="M655 516l8-3-7 9-8 3z"/>
<path color=#000049 d="M648 517l7-1-7 9-7 1z"/>
<path color=#000049 d="M640 517l8 0-7 9-8 0z"/>
<path color=#00004a d="M632 515l8 2-7 9-8-1z"/>
<path color=#00004c d="M625 513l7 2-7 10-7-3z"/>
<path color=#00034c d="M617 509l8 4-7 9-8-4z"/>
<path color=#00074c d="M610 504l7 5-7 9-7-5z"/>
<path color=#000b4c d="M602 498l8 6-7 9-8-6z"/>
<path color=#009ebd d="M526 444l7-2-7 0-7-1z"/>
<path color=#00a9ce d="M518 449l8-5-7-3-8 3z"/>
<path color=#05a5d3 d="M510 456l8-7-7-5-7 5z"/>
<path color=#15a5de d="M503 464l7-8-6-7-8 7z"/>
<path color=#1795dc d="M495 474l8-10-7-8-8 8z"/>
<path color=#107cd2 d="M488 483l7-9-7-10-7 9z"/>
<path color=#0964c8 d="M480 492l8-9-7-10-8 9z"/>
<path color=#044ec0 d="M472 501l8-9-7-10-8 8z"/>
<path color=#013cba d="M465 510l7-9-7-11-7 8z"/>
<path color=#002db5 d="M457 517l8-7-7-12-8 7z"/>
<path color=#0021b0 d="M450 523l7-6-7-12-7 7z"/>
<path color=#00184c d="M700 480l8-8-7 10-8 8z"/>
<path color=#00134c d="M693 488l7-8-7 10-7 8z"/>
<path color=#000e4c d="M685 494l8-6-7 10-8 6z"/>
<path color=#000b4c d="M677 499l8-5-7 10-8 5z"/>
<path color=#00084c d="M670 503l7-4-7 10-7 4z"/>
<path color=#00064c d="M662 505l8-2-7 10-8 3z"/>
<path color=#00054c d="M654 507l8-2-7 11-7 1z"/>
<path color=#00054c d="M647 507l7 0-6 10-8 0z"/>
<path color=#00064c d="M639 505l8 2-7 10-8-2z"/>
<path color=#00084c d="M632 503l7 2-7 10-7-2z"/>
<path color=#000b4c d="M624 499l8 4-7 10-8-4z"/>
<path color=#000e4c d="M616 494l8 5-7 10-7-5z"/>
<path color=#00134c d="M609 488l7 6-6 10-8-6z"/>
<path color=#00b0d6 d="M533 447l7-4-7-1-7 2z"/>
<path color=#02addc d="M525 454l8-7-7-3-8 5z"/>
<path color=#32ccff d="M517 463l8-9-7-5-8 7z"/>
<path color=#55dcff d="M510 472l7-9-7-7-7 8z"/>
<path color=#4abcff d="M502 482l8-10-7-8-8 10z"/>
<path color=#3190f9 d="M495 492l7-10-7-8-7 9z"/>
<path color=#1c67e0 d="M487 502l8-10-7-9-8 9z"/>
<path color=#0d46ce d="M479 511l8-9-7-10-8 9z"/>
<path color=#042ec2 d="M472 520l7-9-7-10-7 9z"/>
<path color=#011dba d="M464 527l8-7-7-10-8 7z"/>
<path color=#0010b4 d="M457 534l7-7-7-10-7 6z"/>
<path color=#001b4c d="M699 477l8-7-7 10-7 8z"/>
<path color=#00174c d="M692 483l7-6-6 11-8 6z"/>
<path color=#00134c d="M684 488l8-5-7 11-8 5z"/>
<path color=#00104c d="M677 492l7-4-7 11-7 4z"/>
<path color=#000e4c d="M669 494l8-2-7 11-8 2z"/>
<path color=#000d4c d="M661 496l8-2-7 11-8 2z"/>
<path color=#000d4c d="M654 496l7 0-7 11-7 0z"/>
<path color=#000e4c d="M646 494l8 2-7 11-8-2z"/>
<path color=#00104c d="M639 492l7 2-7 11-7-2z"/>
<path color=#00134c d="M631 488l8 4-7 11-8-4z"/>
<path color=#00174c d="M623 483l8 5-7 11-8-5z"/>
<path color=#001b4c d="M616 478l7 5-7 11-7-6z"/>
<path color=#00b2d2 d="M547 444l8-5-7 2-8 2z"/>
<path color=#00b7e1 d="M539 450l8-6-7-1-7 4z"/>
<path color=#15bdf4 d="M532 459l7-9-6-3-8 7z"/>
<path color=#7cffff d="M524 469l8-10-7-5-8 9z"/>
<path color=#abffff d="M517 480l7-11-7-6-7 9z"/>
<path color=#9ff d="M509 490l8-10-7-8-8 10z"/>
<path color=#71c2ff d="M501 501l8-11-7-8-7 10z"/>
<path color=#4784ff d="M494 511l7-10-6-9-8 10z"/>
<path color=#254fec d="M486 521l8-10-7-9-8 9z"/>
<path color=#0f28d2 d="M479 529l7-8-7-10-7 9z"/>
<path color=#040fc3 d="M471 537l8-8-7-9-8 7z"/>
<path color=#0101ba d="M463 544l8-7-7-10-7 7z"/>
<path color=#001f4c d="M699 472l7-6-7 11-7 6z"/>
<path color=#001c4c d="M691 477l8-5-7 11-8 5z"/>
<path color=#00194c d="M683 481l8-4-7 11-7 4z"/>
<path color=#00174c d="M676 483l7-2-6 11-8 2z"/>
<path color=#00164c d="M668 485l8-2-7 11-8 2z"/>
<path color=#00164c d="M661 485l7 0-7 11-7 0z"/>
<path color=#00174c d="M653 483l8 2-7 11-8-2z"/>
<path color=#00194c d="M645 481l8 2-7 11-7-2z"/>
<path color=#001c4c d="M638 477l7 4-6 11-8-4z"/>
<path color=#001f4c d="M630 472l8 5-7 11-8-5z"/>
<path color=#00244c d="M623 467l7 5-7 11-7-5z"/>
<path color=#00c1e0 d="M554 444l8-6-7 1-8 5z"/>
<path color=#00b7e5 d="M546 453l8-9-7 0-8 6z"/>
<path color=#26c8ff d="M539 463l7-10-7-3-7 9z"/>
<path color=#8effff d="M531 474l8-11-7-4-8 10z"/>
<path color=#cfffff d="M524 486l7-12-7-5-7 11z"/>
<path color=#d7ffff d="M516 497l8-11-7-6-8 10z"/>
<path color=#bcffff d="M508 509l8-12-7-7-8 11z"/>
<path color=#8dbcff d="M501 519l7-10-7-8-7 10z"/>
<path color=#5974ff d="M493 529l8-10-7-8-8 10z"/>
<path color=#2b35f4 d="M485 538l8-9-7-8-7 8z"/>
<path color=#0e0ece d="M478 546l7-8-6-9-8 8z"/>
<path color=#0303b2 d="M470 552l8-6-7-9-8 7z"/>
<path color=#000655 d="M843 498l7 9-7-8-7-8z"/>
<path color=#000f5a d="M835 488l8 10-7-7-8-9z"/>
<path color=#00224c d="M690 470l8-4-7 11-8 4z"/>
<path color=#00204c d="M683 472l7-2-7 11-7 2z"/>
<path color=#001f4c d="M675 473l8-1-7 11-8 2z"/>
<path color=#001f4c d="M668 473l7 0-7 12-7 0z"/>
<path color=#00204c d="M660 472l8 1-7 12-8-2z"/>
<path color=#00224c d="M652 470l8 2-7 11-8-2z"/>
<path color=#00254c d="M645 466l7 4-7 11-7-4z"/>
<path color=#00284c d="M637 461l8 5-7 11-8-5z"/>
<path color=#00c5d5 d="M568 436l8-6-7 4-7 4z"/>
<path color=#00c7e5 d="M561 445l7-9-6 2-8 6z"/>
<path color=#01b6e6 d="M553 456l8-11-7-1-8 9z"/>
<path color=#20bcff d="M546 467l7-11-7-3-7 10z"/>
<path color=#68eaff d="M538 479l8-12-7-4-8 11z"/>
<path color=#abffff d="M530 492l8-13-7-5-7 12z"/>
<path color=#d4ffff d="M523 504l7-12-6-6-8 11z"/>
<path color=#e0ffff d="M515 515l8-11-7-7-8 12z"/>
<path color=#cef0ff d="M508 526l7-11-7-6-7 10z"/>
<path color=#a0aeff d="M500 536l8-10-7-7-8 10z"/>
<path color=#6161ff d="M492 545l8-9-7-7-8 9z"/>
<path color=#2828e1 d="M485 553l7-8-7-7-7 8z"/>
<path color=#0a0ab1 d="M477 560l8-7-7-7-8 6z"/>
<path color=#000049 d="M857 513l8 8-7-7-8-7z"/>
<path color=#000157 d="M850 504l7 9-7-6-7-9z"/>
<path color=#000a5d d="M842 494l8 10-7-6-8-10z"/>
<path color=#001562 d="M834 483l8 11-7-6-7-10z"/>
<path color=#00294c d="M690 461l7-2-7 11-7 2z"/>
<path color=#00284c d="M682 463l8-2-7 11-8 1z"/>
<path color=#00284c d="M674 463l8 0-7 10-7 0z"/>
<path color=#00294c d="M667 461l7 2-6 10-8-1z"/>
<path color=#002b4c d="M659 459l8 2-7 11-8-2z"/>
<path color=#002d4c d="M652 455l7 4-7 11-7-4z"/>
<path color=#00314c d="M644 450l8 5-7 11-8-5z"/>
<path color=#00d5de d="M575 435l8-9-7 4-8 6z"/>
<path color=#00c9e4 d="M568 446l7-11-7 1-7 9z"/>
<path color=#02b3e4 d="M560 458l8-12-7-1-8 11z"/>
<path color=#12a9f3 d="M553 470l7-12-7-2-7 11z"/>
<path color=#38b4ff d="M545 483l8-13-7-3-8 12z"/>
<path color=#67c8ff d="M537 496l8-13-7-4-8 13z"/>
<path color=#96ddff d="M530 509l7-13-7-4-7 12z"/>
<path color=#bceaff d="M522 521l8-12-7-5-8 11z"/>
<path color=#d0e7ff d="M514 532l8-11-7-6-7 11z"/>
<path color=#c5c7ff d="M507 542l7-10-6-6-8 10z"/>
<path color=#9696ff d="M499 552l8-10-7-6-8 9z"/>
<path color=#5050ff d="M492 560l7-8-7-7-7 8z"/>
<path color=#1919ba d="M484 567l8-7-7-7-8 7z"/>
<path color=#004 d="M879 533l8 5-7-5-8-5z"/>
<path color=#00003d d="M872 526l7 7-7-5-7-7z"/>
<path color=#000046 d="M864 518l8 8-7-5-8-8z"/>
<path color=#005 d="M857 508l7 10-7-5-7-9z"/>
<path color=#00065f d="M849 498l8 10-7-4-8-10z"/>
<path color=#001164 d="M841 487l8 11-7-4-8-11z"/>
<path color=#001e68 d="M834 476l7 11-7-4-7-11z"/>
<path color=#00314c d="M674 452l7 1-7 10-7-2z"/>
<path color=#00334c d="M666 449l8 3-7 9-8-2z"/>
<path color=#00364c d="M658 445l8 4-7 10-7-4z"/>
<path color=#0ed2c3 d="M590 423l8-9-7 6-8 6z"/>
<path color=#00dee0 d="M582 434l8-11-7 3-8 9z"/>
<path color=#00c9e2 d="M575 446l7-12-7 1-7 11z"/>
<path color=#01b0e3 d="M567 460l8-14-7 0-8 12z"/>
<path color=#099be9 d="M559 473l8-13-7-2-7 12z"/>
<path color=#198ff7 d="M552 487l7-14-6-3-8 13z"/>
<path color=#2f8aff d="M544 500l8-13-7-4-8 13z"/>
<path color=#4c8bff d="M537 513l7-13-7-4-7 13z"/>
<path color=#6b91ff d="M529 525l8-12-7-4-8 12z"/>
<path color=#8896ff d="M521 537l8-12-7-4-8 11z"/>
<path color=#99f d="M514 547l7-10-7-5-7 10z"/>
<path color=#8c8cff d="M506 557l8-10-7-5-8 10z"/>
<path color=#5d5dff d="M498 565l8-8-7-5-7 8z"/>
<path color=#2424c0 d="M491 572l7-7-6-5-8 7z"/>
<path color=#000035 d="M886 537l8 5-7-4-8-5z"/>
<path color=#00003a d="M879 530l7 7-7-4-7-7z"/>
<path color=#004 d="M871 521l8 9-7-4-8-8z"/>
<path color=#000054 d="M863 512l8 9-7-3-7-10z"/>
<path color=#000361 d="M856 502l7 10-6-4-8-10z"/>
<path color=#000e66 d="M848 491l8 11-7-4-8-11z"/>
<path color=#001b6a d="M841 479l7 12-7-4-7-11z"/>
<path color=#1adac1 d="M597 420l7-11-6 5-8 9z"/>
<path color=#03e0dd d="M589 433l8-13-7 3-8 11z"/>
<path color=#00c9e1 d="M582 447l7-14-7 1-7 12z"/>
<path color=#01ade1 d="M574 461l8-14-7-1-8 14z"/>
<path color=#0493e3 d="M566 475l8-14-7-1-8 13z"/>
<path color=#097be8 d="M559 489l7-14-7-2-7 14z"/>
<path color=#1166ef d="M551 503l8-14-7-2-8 13z"/>
<path color=#1b54fa d="M543 516l8-13-7-3-7 13z"/>
<path color=#2847ff d="M536 529l7-13-6-3-8 12z"/>
<path color=#363dff d="M528 540l8-11-7-4-8 12z"/>
<path color=#4242ff d="M521 551l7-11-7-3-7 10z"/>
<path color=#4343fe d="M513 561l8-10-7-4-8 10z"/>
<path color=#3232da d="M505 569l8-8-7-4-8 8z"/>
<path color=#1616ae d="M498 576l7-7-7-4-7 7z"/>
<path color=#003 d="M893 539l8 6-7-3-8-5z"/>
<path color=#000038 d="M886 532l7 7-7-2-7-7z"/>
<path color=#000043 d="M878 524l8 8-7-2-8-9z"/>
<path color=#000052 d="M870 515l8 9-7-3-8-9z"/>
<path color=#000162 d="M863 504l7 11-7-3-7-10z"/>
<path color=#000c67 d="M855 493l8 11-7-2-8-11z"/>
<path color=#001a6b d="M847 481l8 12-7-2-7-12z"/>
<path color=#00286e d="M840 468l7 13-6-2-8-13z"/>
<path color=#1fc7a8 d="M756 402l8-10-7 8-8 9z"/>
<path color=#0fcbbc d="M748 411l8-9-7 7-7 8z"/>
<path color=#00bdcb d="M733 426l8-7-7 6-8 6z"/>
<path color=#37d39c d="M611 405l8-11-7 7-8 8z"/>
<path color=#22debc d="M604 419l7-14-7 4-7 11z"/>
<path color=#07dfd8 d="M596 433l8-14-7 1-8 13z"/>
<path color=#00c9df d="M588 448l8-15-7 0-7 14z"/>
<path color=#01abe0 d="M581 462l7-14-6-1-8 14z"/>
<path color=#028ee0 d="M573 477l8-15-7-1-8 14z"/>
<path color=#0371e2 d="M566 491l7-14-7-2-7 14z"/>
<path color=#0456e4 d="M558 505l8-14-7-2-8 14z"/>
<path color=#063ce6 d="M550 519l8-14-7-2-8 13z"/>
<path color=#0924ea d="M543 531l7-12-7-3-7 13z"/>
<path color=#0c0ded d="M535 543l8-12-7-2-8 11z"/>
<path color=#0e0eda d="M527 554l8-11-7-3-7 11z"/>
<path color=#0d0dc6 d="M520 563l7-9-6-3-8 10z"/>
<path color=#0a0aaf d="M512 572l8-9-7-2-8 8z"/>
<path color=#040499 d="M505 579l7-7-7-3-7 7z"/>
<path color=#000032 d="M900 541l8 5-7-1-8-6z"/>
<path color=#000037 d="M892 534l8 7-7-2-7-7z"/>
<path color=#000042 d="M885 525l7 9-6-2-8-8z"/>
<path color=#000052 d="M877 516l8 9-7-1-8-9z"/>
<path color=#000062 d="M870 505l7 11-7-1-7-11z"/>
<path color=#000b68 d="M862 494l8 11-7-1-8-11z"/>
<path color=#00196c d="M854 482l8 12-7-1-8-12z"/>
<path color=#00286f d="M847 469l7 13-7-1-7-13z"/>
<path color=#52c573 d="M778 377l8-13-7 11-8 7z"/>
<path color=#45da95 d="M771 388l7-11-7 5-7 10z"/>
<path color=#30deae d="M763 399l8-11-7 4-8 10z"/>
<path color=#1ce0c5 d="M755 409l8-10-7 3-8 9z"/>
<path color=#0ae1d8 d="M748 417l7-8-7 2-7 8z"/>
<path color=#00dbe1 d="M740 424l8-7-7 2-8 7z"/>
<path color=#00ccde d="M732 430l8-6-7 2-7 6z"/>
<path color=#00bed9 d="M725 434l7-4-6 2-8 4z"/>
<path color=#00afcf d="M717 437l8-3-7 2-8 3z"/>
<path color=#00404c d="M710 439l7-2-7 2-7 1z"/>
<path color=#5c7 d="M626 390l7-13-6 11-8 6z"/>
<path color=#44de9b d="M618 404l8-14-7 4-8 11z"/>
<path color=#27dfb8 d="M611 419l7-15-7 1-7 14z"/>
<path color=#09dfd6 d="M603 433l8-14-7 0-8 14z"/>
<path color=#00c9df d="M595 448l8-15-7 0-8 15z"/>
<path color=#00aadf d="M588 463l7-15-7 0-7 14z"/>
<path color=#018cdf d="M580 478l8-15-7-1-8 15z"/>
<path color=#016ee0 d="M572 492l8-14-7-1-7 14z"/>
<path color=#0151e1 d="M565 506l7-14-6-1-8 14z"/>
<path color=#0134e1 d="M557 520l8-14-7-1-8 14z"/>
<path color=#011ae3 d="M550 532l7-12-7-1-7 12z"/>
<path color=#0101e3 d="M542 544l8-12-7-1-8 12z"/>
<path color=#0101cc d="M534 555l8-11-7-1-8 11z"/>
<path color=#0101b8 d="M527 565l7-10-7-1-7 9z"/>
<path color=#0000a5 d="M519 573l8-8-7-2-8 9z"/>
<path color=#000094 d="M512 580l7-7-7-1-7 7z"/>
<path color=#000032 d="M907 541l7 6-6-1-8-5z"/>
<path color=#000037 d="M899 534l8 7-7 0-8-7z"/>
<path color=#000042 d="M892 525l7 9-7 0-7-9z"/>
<path color=#000052 d="M884 516l8 9-7 0-8-9z"/>
<path color=#000062 d="M876 506l8 10-7 0-7-11z"/>
<path color=#000b68 d="M869 494l7 12-6-1-8-11z"/>
<path color=#00196c d="M861 482l8 12-7 0-8-12z"/>
<path color=#00286f d="M854 470l7 12-7 0-7-13z"/>
<path color=#003771 d="M846 457l8 13-7-1-8-13z"/>
<path color=#204c2d d="M793 377l7 4-7-5-7-12z"/>
<path color=#59cc7b d="M785 383l8-6-7-13-8 13z"/>
<path color=#edffff d="M777 393l8-10-7-6-7 11z"/>
<path color=#8ff d="M770 403l7-10-6-5-8 11z"/>
<path color=#44ffed d="M762 412l8-9-7-4-8 10z"/>
<path color=#17efe6 d="M755 420l7-8-7-3-7 8z"/>
<path color=#03dde4 d="M747 427l8-7-7-3-8 7z"/>
<path color=#00ccdf d="M739 433l8-6-7-3-8 6z"/>
<path color=#00bed9 d="M732 437l7-4-7-3-7 4z"/>
<path color=#00afcf d="M724 440l8-3-7-3-8 3z"/>
<path color=#00a0c0 d="M716 441l8-1-7-3-7 2z"/>
<path color=#0090ad d="M709 441l7 0-6-2-8 0z"/>
<path color=#008098 d="M701 440l8 1-7-2-8-2z"/>
<path color=#204c2d d="M640 390l8 5-7-7-8-11z"/>
<path color=#8affac d="M633 395l7-5-7-13-7 13z"/>
<path color=#64ffbb d="M625 407l8-12-7-5-8 14z"/>
<path color=#2be3bc d="M617 420l8-13-7-3-7 15z"/>
<path color=#0ae0d7 d="M610 434l7-14-6-1-8 14z"/>
<path color=#00c9df d="M602 449l8-15-7-1-8 15z"/>
<path color=#00aadf d="M595 464l7-15-7-1-7 15z"/>
<path color=#008bdf d="M587 478l8-14-7-1-8 15z"/>
<path color=#006ddf d="M579 493l8-15-7 0-8 14z"/>
<path color=#0050e0 d="M572 507l7-14-7-1-7 14z"/>
<path color=#0034e1 d="M564 520l8-13-7-1-8 14z"/>
<path color=#0019e2 d="M556 533l8-13-7 0-7 12z"/>
<path color=#0000e2 d="M549 544l7-11-6-1-8 12z"/>
<path color=#0000cb d="M541 555l8-11-7 0-8 11z"/>
<path color=#0000b7 d="M534 565l7-10-7 0-7 10z"/>
<path color=#0000a4 d="M526 573l8-8-7 0-8 8z"/>
<path color=#000094 d="M519 580l7-7-7 0-7 7z"/>
<path color=#003 d="M914 540l7 5-7 2-7-6z"/>
<path color=#000038 d="M906 532l8 8-7 1-8-7z"/>
<path color=#000043 d="M899 524l7 8-7 2-7-9z"/>
<path color=#000052 d="M891 515l8 9-7 1-8-9z"/>
<path color=#000162 d="M883 505l8 10-7 1-8-10z"/>
<path color=#000c67 d="M876 493l7 12-7 1-7-12z"/>
<path color=#001a6b d="M868 481l8 12-7 1-8-12z"/>
<path color=#00286e d="M860 469l8 12-7 1-7-12z"/>
<path color=#003870 d="M853 456l7 13-6 1-8-13z"/>
<path color=#267650 d="M800 389l7 1-7-9-7-4z"/>
<path color=#34a975 d="M792 394l8-5-7-12-8 6z"/>
<path color=#2fbf92 d="M784 403l8-9-7-11-8 10z"/>
<path color=#2bd4b5 d="M777 411l7-8-7-10-7 10z"/>
<path color=#22ded0 d="M769 420l8-9-7-8-8 9z"/>
<path color=#0cd7d8 d="M761 428l8-8-7-8-7 8z"/>
<path color=#03c0cf d="M754 434l7-6-6-8-8 7z"/>
<path color=#00afc8 d="M746 440l8-6-7-7-8 6z"/>
<path color=#00a2c2 d="M739 444l7-4-7-7-7 4z"/>
<path color=#0095b9 d="M731 447l8-3-7-7-8 3z"/>
<path color=#0088ac d="M723 448l8-1-7-7-8 1z"/>
<path color=#007c9c d="M716 448l7 0-7-7-7 0z"/>
<path color=#00708c d="M708 446l8 2-7-7-8-1z"/>
<path color=#00667b d="M701 443l7 3-7-6-7-3z"/>
<path color=#005e6c d="M693 439l8 4-7-6-8-5z"/>
<path color=#00585f d="M685 434l8 5-7-7-8-5z"/>
<path color=#005454 d="M678 428l7 6-7-7-7-7z"/>
<path color=#054d47 d="M670 420l8 8-7-8-8-8z"/>
<path color=#0c4c41 d="M662 413l8 7-7-8-7-9z"/>
<path color=#124c3a d="M655 406l7 7-6-10-8-8z"/>
<path color=#1e6244 d="M647 402l8 4-7-11-8-5z"/>
<path color=#34a16d d="M640 404l7-2-7-12-7 5z"/>
<path color=#afffff d="M632 412l8-8-7-9-8 12z"/>
<path color=#62fffb d="M624 423l8-11-7-5-8 13z"/>
<path color=#0de6df d="M617 436l7-13-7-3-7 14z"/>
<path color=#01cae0 d="M609 450l8-14-7-2-8 15z"/>
<path color=#00abdf d="M601 464l8-14-7-1-7 15z"/>
<path color=#008ddf d="M594 478l7-14-6 0-8 14z"/>
<path color=#006fdf d="M586 492l8-14-7 0-8 15z"/>
<path color=#0052df d="M579 506l7-14-7 1-7 14z"/>
<path color=#0035e0 d="M571 519l8-13-7 1-8 13z"/>
<path color=#001be1 d="M563 532l8-13-7 1-8 13z"/>
<path color=#0002e1 d="M556 543l7-11-7 1-7 11z"/>
<path color=#0000cd d="M548 554l8-11-7 1-8 11z"/>
<path color=#0000b8 d="M541 563l7-9-7 1-7 10z"/>
<path color=#0000a6 d="M533 572l8-9-7 2-8 8z"/>
<path color=#000095 d="M525 579l8-7-7 1-7 7z"/>
<path color=#000035 d="M921 537l7 6-7 2-7-5z"/>
<path color=#00003a d="M913 530l8 7-7 3-8-8z"/>
<path color=#004 d="M905 522l8 8-7 2-7-8z"/>
<path color=#000054 d="M898 513l7 9-6 2-8-9z"/>
<path color=#000361 d="M890 502l8 11-7 2-8-10z"/>
<path color=#000e66 d="M883 491l7 11-7 3-7-12z"/>
<path color=#001b6a d="M875 480l8 11-7 2-8-12z"/>
<path color=#002a6d d="M867 468l8 12-7 1-8-12z"/>
<path color=#00386e d="M860 455l7 13-7 1-7-13z"/>
<path color=#136451 d="M814 400l8 3-7-7-8-6z"/>
<path color=#1f8c6e d="M806 401l8-1-7-10-7-1z"/>
<path color=#20a686 d="M799 407l7-6-6-12-8 5z"/>
<path color=#18b29a d="M791 414l8-7-7-13-8 9z"/>
<path color=#0bb8ad d="M784 422l7-8-7-11-7 8z"/>
<path color=#00b8bb d="M776 430l8-8-7-11-8 9z"/>
<path color=#00abbb d="M768 438l8-8-7-10-8 8z"/>
<path color=#009eb9 d="M761 444l7-6-7-10-7 6z"/>
<path color=#0091b5 d="M753 449l8-5-7-10-8 6z"/>
<path color=#0085af d="M745 453l8-4-7-9-7 4z"/>
<path color=#007aa6 d="M738 456l7-3-6-9-8 3z"/>
<path color=#00709c d="M730 457l8-1-7-9-8 1z"/>
<path color=#00678f d="M723 457l7 0-7-9-7 0z"/>
<path color=#006082 d="M715 456l8 1-7-9-8-2z"/>
<path color=#005975 d="M707 453l8 3-7-10-7-3z"/>
<path color=#005469 d="M700 449l7 4-6-10-8-4z"/>
<path color=#00515f d="M692 444l8 5-7-10-8-5z"/>
<path color=#004f57 d="M685 438l7 6-7-10-7-6z"/>
<path color=#005052 d="M677 431l8 7-7-10-8-8z"/>
<path color=#05504b d="M669 425l8 6-7-11-8-7z"/>
<path color=#0b5449 d="M662 418l7 7-7-12-7-7z"/>
<path color=#136451 d="M654 414l8 4-7-12-8-4z"/>
<path color=#1e8c6d d="M646 414l8 0-7-12-7 2z"/>
<path color=#25c09c d="M639 418l7-4-6-10-8 8z"/>
<path color=#9bffff d="M631 427l8-9-7-6-8 11z"/>
<path color=#1bf8f5 d="M624 438l7-11-7-4-7 13z"/>
<path color=#01cbe2 d="M616 450l8-12-7-2-8 14z"/>
<path color=#00ace0 d="M608 464l8-14-7 0-8 14z"/>
<path color=#008fdf d="M601 477l7-13-7 0-7 14z"/>
<path color=#0072df d="M593 491l8-14-7 1-8 14z"/>
<path color=#0055df d="M586 504l7-13-7 1-7 14z"/>
<path color=#003adf d="M578 517l8-13-7 2-8 13z"/>
<path color=#001fdf d="M570 529l8-12-7 2-8 13z"/>
<path color=#0007df d="M563 541l7-12-7 3-7 11z"/>
<path color=#0000cf d="M555 551l8-10-7 2-8 11z"/>
<path color=#00b d="M547 561l8-10-7 3-7 9z"/>
<path color=#0000a8 d="M540 569l7-8-6 2-8 9z"/>
<path color=#000098 d="M532 576l8-7-7 3-8 7z"/>
<path color=#000037 d="M928 533l7 6-7 4-7-6z"/>
<path color=#00003d d="M920 526l8 7-7 4-8-7z"/>
<path color=#000046 d="M912 518l8 8-7 4-8-8z"/>
<path color=#005 d="M905 509l7 9-7 4-7-9z"/>
<path color=#00065f d="M897 499l8 10-7 4-8-11z"/>
<path color=#001164 d="M890 489l7 10-7 3-7-11z"/>
<path color=#001e68 d="M882 477l8 12-7 2-8-11z"/>
<path color=#002b6a d="M874 466l8 11-7 3-8-12z"/>
<path color=#00396b d="M867 454l7 12-7 2-7-13z"/>
<path color=#00466b d="M859 443l8 11-7 1-8-12z"/>
<path color=#065d57 d="M829 411l7 4-7-5-7-7z"/>
<path color=#0e8172 d="M821 410l8 1-7-8-8-3z"/>
<path color=#129b89 d="M813 413l8-3-7-10-8 1z"/>
<path color=#0da89b d="M806 419l7-6-7-12-7 6z"/>
<path color=#03afac d="M798 427l8-8-7-12-8 7z"/>
<path color=#00a9b2 d="M790 435l8-8-7-13-7 8z"/>
<path color=#009db3 d="M783 442l7-7-6-13-8 8z"/>
<path color=#0090b2 d="M775 449l8-7-7-12-8 8z"/>
<path color=#0084af d="M768 455l7-6-7-11-7 6z"/>
<path color=#0078aa d="M760 460l8-5-7-11-8 5z"/>
<path color=#006da4 d="M752 464l8-4-7-11-8 4z"/>
<path color=#00649c d="M745 467l7-3-7-11-7 3z"/>
<path color=#005c93 d="M737 468l8-1-7-11-8 1z"/>
<path color=#058 d="M730 468l7 0-7-11-7 0z"/>
<path color=#00507d d="M722 467l8 1-7-11-8-1z"/>
<path color=#004c72 d="M714 464l8 3-7-11-8-3z"/>
<path color=#004968 d="M707 460l7 4-7-11-7-4z"/>
<path color=#004860 d="M699 456l8 4-7-11-8-5z"/>
<path color=#004859 d="M691 450l8 6-7-12-7-6z"/>
<path color=#004a54 d="M684 444l7 6-6-12-8-7z"/>
<path color=#004f53 d="M676 437l8 7-7-13-8-6z"/>
<path color=#025655 d="M669 431l7 6-7-12-7-7z"/>
<path color=#08625b d="M661 426l8 5-7-13-8-4z"/>
<path color=#0e7d6f d="M653 424l8 2-7-12-8 0z"/>
<path color=#13aa97 d="M646 426l7-2-7-10-7 4z"/>
<path color=#1ce0d1 d="M638 432l8-6-7-8-8 9z"/>
<path color=#2affff d="M630 440l8-8-7-5-7 11z"/>
<path color=#02cbe5 d="M623 451l7-11-6-2-8 12z"/>
<path color=#00afe1 d="M615 463l8-12-7-1-8 14z"/>
<path color=#0092e0 d="M608 476l7-13-7 1-7 13z"/>
<path color=#0076df d="M600 489l8-13-7 1-8 14z"/>
<path color=#005ade d="M592 502l8-13-7 2-7 13z"/>
<path color=#003fdd d="M585 514l7-12-6 2-8 13z"/>
<path color=#0026dd d="M577 526l8-12-7 3-8 12z"/>
<path color=#000edc d="M570 537l7-11-7 3-7 12z"/>
<path color=#0000d4 d="M562 548l8-11-7 4-8 10z"/>
<path color=#0000bf d="M554 557l8-9-7 3-8 10z"/>
<path color=#0000ac d="M547 565l7-8-7 4-7 8z"/>
<path color=#00009b d="M539 572l8-7-7 4-8 7z"/>
<path color=#00003b d="M934 528l8 5-7 6-7-6z"/>
<path color=#000040 d="M927 521l7 7-6 5-8-7z"/>
<path color=#000049 d="M919 513l8 8-7 5-8-8z"/>
<path color=#000157 d="M912 505l7 8-7 5-7-9z"/>
<path color=#000a5d d="M904 495l8 10-7 4-8-10z"/>
<path color=#001562 d="M896 485l8 10-7 4-7-10z"/>
<path color=#002165 d="M889 474l7 11-6 4-8-12z"/>
<path color=#002d67 d="M881 463l8 11-7 3-8-11z"/>
<path color=#003967 d="M874 452l7 11-7 3-7-12z"/>
<path color=#004465 d="M866 442l8 10-7 2-8-11z"/>
<path color=#017b7a d="M835 418l8 2-7-5-7-4z"/>
<path color=#049893 d="M828 420l7-2-6-7-8-1z"/>
<path color=#02a6a5 d="M820 425l8-5-7-10-8 3z"/>
<path color=#00a6ad d="M813 432l7-7-7-12-7 6z"/>
<path color=#009eaf d="M805 439l8-7-7-13-8 8z"/>
<path color=#0093b0 d="M797 447l8-8-7-12-8 8z"/>
<path color=#0086af d="M790 455l7-8-7-12-7 7z"/>
<path color=#0079ad d="M782 462l8-7-7-13-8 7z"/>
<path color=#006daa d="M775 468l7-6-7-13-7 6z"/>
<path color=#0062a5 d="M767 473l8-5-7-13-8 5z"/>
<path color=#00599f d="M759 476l8-3-7-13-8 4z"/>
<path color=#005097 d="M752 479l7-3-7-12-7 3z"/>
<path color=#004a8e d="M744 480l8-1-7-12-8 1z"/>
<path color=#004585 d="M736 480l8 0-7-12-7 0z"/>
<path color=#00417b d="M729 479l7 1-6-12-8-1z"/>
<path color=#003f71 d="M721 476l8 3-7-12-8-3z"/>
<path color=#003e68 d="M714 473l7 3-7-12-7-4z"/>
<path color=#003e60 d="M706 468l8 5-7-13-8-4z"/>
<path color=#003f5a d="M698 462l8 6-7-12-8-6z"/>
<path color=#004155 d="M691 456l7 6-7-12-7-6z"/>
<path color=#004654 d="M683 450l8 6-7-12-8-7z"/>
<path color=#004d56 d="M675 443l8 7-7-13-7-6z"/>
<path color=#005b5e d="M668 438l7 5-6-12-8-5z"/>
<path color=#017170 d="M660 435l8 3-7-12-8-2z"/>
<path color=#049490 d="M653 434l7 1-7-11-7 2z"/>
<path color=#02c2c0 d="M645 437l8-3-7-8-8 6z"/>
<path color=#0fe4ed d="M637 443l8-6-7-5-8 8z"/>
<path color=#02cbe6 d="M630 452l7-9-7-3-7 11z"/>
<path color=#00b1e3 d="M622 462l8-10-7-1-8 12z"/>
<path color=#0097e0 d="M615 474l7-12-7 1-7 13z"/>
<path color=#007cde d="M607 486l8-12-7 2-8 13z"/>
<path color=#0061dc d="M599 498l8-12-7 3-8 13z"/>
<path color=#0047db d="M592 510l7-12-7 4-7 12z"/>
<path color=#002eda d="M584 522l8-12-7 4-8 12z"/>
<path color=#0017d9 d="M576 533l8-11-7 4-7 11z"/>
<path color=#0002d7 d="M569 543l7-10-6 4-8 11z"/>
<path color=#0000c4 d="M561 552l8-9-7 5-8 9z"/>
<path color=#0000b2 d="M554 560l7-8-7 5-7 8z"/>
<path color=#0000a1 d="M546 567l8-7-7 5-8 7z"/>
<path color=#000040 d="M941 522l8 5-7 6-8-5z"/>
<path color=#000045 d="M934 515l7 7-7 6-7-7z"/>
<path color=#00004c d="M926 508l8 7-7 6-8-8z"/>
<path color=#000655 d="M919 499l7 9-7 5-7-8z"/>
<path color=#000f5a d="M911 490l8 9-7 6-8-10z"/>
<path color=#00195f d="M903 480l8 10-7 5-8-10z"/>
<path color=#002461 d="M896 470l7 10-7 5-7-11z"/>
<path color=#002f62 d="M888 459l8 11-7 4-8-11z"/>
<path color=#003a61 d="M880 450l8 9-7 4-7-11z"/>
<path color=#00415d d="M873 441l7 9-6 2-8-10z"/>
<path color=#006f78 d="M850 426l8 2-7-3-8-5z"/>
<path color=#009198 d="M842 427l8-1-7-6-8-2z"/>
<path color=#00a0a9 d="M835 430l7-3-7-9-7 2z"/>
<path color=#00a0b0 d="M827 436l8-6-7-10-8 5z"/>
<path color=#0098b2 d="M819 444l8-8-7-11-7 7z"/>
<path color=#008cb2 d="M812 452l7-8-6-12-8 7z"/>
<path color=#007fb1 d="M804 460l8-8-7-13-8 8z"/>
<path color=#0072af d="M797 467l7-7-7-13-7 8z"/>
<path color=#0065ad d="M789 474l8-7-7-12-8 7z"/>
<path color=#0059a9 d="M781 480l8-6-7-12-7 6z"/>
<path color=#004ea3 d="M774 485l7-5-6-12-8 5z"/>
<path color=#00459d d="M766 489l8-4-7-12-8 3z"/>
<path color=#003e95 d="M759 491l7-2-7-13-7 3z"/>
<path color=#00398d d="M751 493l8-2-7-12-8 1z"/>
<path color=#003583 d="M743 493l8 0-7-13-8 0z"/>
<path color=#00337a d="M736 491l7 2-7-13-7-1z"/>
<path color=#003270 d="M728 489l8 2-7-12-8-3z"/>
<path color=#003268 d="M720 485l8 4-7-13-7-3z"/>
<path color=#003360 d="M713 481l7 4-6-12-8-5z"/>
<path color=#00345a d="M705 475l8 6-7-13-8-6z"/>
<path color=#003755 d="M698 469l7 6-7-13-7-6z"/>
<path color=#003c53 d="M690 462l8 7-7-13-8-6z"/>
<path color=#004254 d="M682 455l8 7-7-12-8-7z"/>
<path color=#004c59 d="M675 449l7 6-7-12-7-5z"/>
<path color=#005d67 d="M667 445l8 4-7-11-8-3z"/>
<path color=#007a81 d="M660 442l7 3-7-10-7-1z"/>
<path color=#00a4ac d="M652 442l8 0-7-8-8 3z"/>
<path color=#00c6d5 d="M644 446l8-4-7-5-8 6z"/>
<path color=#00c8e5 d="M637 452l7-6-7-3-7 9z"/>
<path color=#00b5e4 d="M629 461l8-9-7 0-8 10z"/>
<path color=#009ce1 d="M621 472l8-11-7 1-7 12z"/>
<path color=#0083dd d="M614 483l7-11-6 2-8 12z"/>
<path color=#0069da d="M606 494l8-11-7 3-8 12z"/>
<path color=#0050d8 d="M599 506l7-12-7 4-7 12z"/>
<path color=#0039d6 d="M591 517l8-11-7 4-8 12z"/>
<path color=#0022d4 d="M583 527l8-10-7 5-8 11z"/>
<path color=#000ed2 d="M576 537l7-10-7 6-7 10z"/>
<path color=#000040 d="M553 561l7-7-6 6-8 7z"/>
<path color=#000046 d="M948 515l8 5-7 7-8-5z"/>
<path color=#00004b d="M941 508l7 7-7 7-7-7z"/>
<path color=#00044c d="M933 501l8 7-7 7-8-7z"/>
<path color=#000b52 d="M925 492l8 9-7 7-7-9z"/>
<path color=#001458 d="M918 484l7 8-6 7-8-9z"/>
<path color=#001e5b d="M910 474l8 10-7 6-8-10z"/>
<path color=#00285d d="M903 465l7 9-7 6-7-10z"/>
<path color=#00315d d="M895 455l8 10-7 5-8-11z"/>
<path color=#00385a d="M887 447l8 8-7 4-8-9z"/>
<path color=#003b52 d="M880 439l7 8-7 3-7-9z"/>
<path color=#003d4c d="M872 434l8 5-7 2-8-8z"/>
<path color=#00899a d="M857 431l7 0-6-3-8-2z"/>
<path color=#009eb1 d="M849 434l8-3-7-5-8 1z"/>
<path color=#009eb7 d="M842 440l7-6-7-7-7 3z"/>
<path color=#0096b8 d="M834 447l8-7-7-10-8 6z"/>
<path color=#008ab7 d="M826 455l8-8-7-11-8 8z"/>
<path color=#007bb6 d="M819 464l7-9-7-11-7 8z"/>
<path color=#006db4 d="M811 472l8-8-7-12-8 8z"/>
<path color=#005fb1 d="M804 480l7-8-7-12-7 7z"/>
<path color=#0051ae d="M796 487l8-7-7-13-8 7z"/>
<path color=#0046a9 d="M788 493l8-6-7-13-8 6z"/>
<path color=#003ca4 d="M781 498l7-5-7-13-7 5z"/>
<path color=#00339d d="M773 501l8-3-7-13-8 4z"/>
<path color=#002d95 d="M765 504l8-3-7-12-7 2z"/>
<path color=#00298d d="M758 505l7-1-6-13-8 2z"/>
<path color=#002683 d="M750 505l8 0-7-12-8 0z"/>
<path color=#00257a d="M743 504l7 1-7-12-7-2z"/>
<path color=#002570 d="M735 501l8 3-7-13-8-2z"/>
<path color=#002668 d="M727 498l8 3-7-12-8-4z"/>
<path color=#002760 d="M720 493l7 5-7-13-7-4z"/>
<path color=#002a59 d="M712 487l8 6-7-12-8-6z"/>
<path color=#002d55 d="M704 481l8 6-7-12-7-6z"/>
<path color=#003152 d="M697 474l7 7-6-12-8-7z"/>
<path color=#003751 d="M689 467l8 7-7-12-8-7z"/>
<path color=#003f54 d="M682 460l7 7-7-12-7-6z"/>
<path color=#004c5d d="M674 454l8 6-7-11-8-4z"/>
<path color=#006170 d="M666 450l8 4-7-9-7-3z"/>
<path color=#008393 d="M659 448l7 2-6-8-8 0z"/>
<path color=#00adc2 d="M651 449l8-1-7-6-8 4z"/>
<path color=#00c1e0 d="M644 453l7-4-7-3-7 6z"/>
<path color=#00b7e5 d="M636 460l8-7-7-1-8 9z"/>
<path color=#00a2e0 d="M628 469l8-9-7 1-8 11z"/>
<path color=#008adc d="M621 479l7-10-7 3-7 11z"/>
<path color=#0072d8 d="M613 489l8-10-7 4-8 11z"/>
<path color=#005bd4 d="M605 500l8-11-7 5-7 12z"/>
<path color=#0044d2 d="M598 511l7-11-6 6-8 11z"/>
<path color=#002fcf d="M590 521l8-10-7 6-8 10z"/>
<path color=#00004b d="M567 547l8-8-7 7-8 8z"/>
<path color=#000046 d="M560 553l7-6-7 7-7 7z"/>
<path color=#00004c d="M955 506l8 5-7 9-8-5z"/>
<path color=#00044c d="M948 500l7 6-7 9-7-7z"/>
<path color=#000a4c d="M940 493l8 7-7 8-8-7z"/>
<path color=#001150 d="M932 485l8 8-7 8-8-9z"/>
<path color=#001954 d="M925 476l7 9-7 7-7-8z"/>
<path color=#002257 d="M917 468l8 8-7 8-8-10z"/>
<path color=#002b58 d="M909 459l8 9-7 6-7-9z"/>
<path color=#003256 d="M902 451l7 8-6 6-8-10z"/>
<path color=#003650 d="M894 443l8 8-7 4-8-8z"/>
<path color=#003a4c d="M887 438l7 5-7 4-7-8z"/>
<path color=#003e4c d="M879 435l8 3-7 1-8-5z"/>
<path color=#008299 d="M871 434l8 1-7-1-8-3z"/>
<path color=#009eb9 d="M864 437l7-3-7-3-7 0z"/>
<path color=#00a2c2 d="M856 442l8-5-7-6-8 3z"/>
<path color=#0099c2 d="M848 449l8-7-7-8-7 6z"/>
<path color=#008bc0 d="M841 457l7-8-6-9-8 7z"/>
<path color=#007bbd d="M833 466l8-9-7-10-8 8z"/>
<path color=#006bbb d="M826 475l7-9-7-11-7 9z"/>
<path color=#005bb8 d="M818 483l8-8-7-11-8 8z"/>
<path color=#004cb5 d="M810 491l8-8-7-11-7 8z"/>
<path color=#003fb1 d="M803 498l7-7-6-11-8 7z"/>
<path color=#0033ac d="M795 505l8-7-7-11-8 6z"/>
<path color=#0029a6 d="M788 510l7-5-7-12-7 5z"/>
<path color=#00229f d="M780 514l8-4-7-12-8 3z"/>
<path color=#001c97 d="M772 516l8-2-7-13-8 3z"/>
<path color=#00198e d="M765 517l7-1-7-12-7 1z"/>
<path color=#001784 d="M757 517l8 0-7-12-8 0z"/>
<path color=#00177a d="M749 516l8 1-7-12-7-1z"/>
<path color=#001871 d="M742 514l7 2-6-12-8-3z"/>
<path color=#001a68 d="M734 510l8 4-7-13-8-3z"/>
<path color=#001c60 d="M727 505l7 5-7-12-7-5z"/>
<path color=#002059 d="M719 499l8 6-7-12-8-6z"/>
<path color=#002354 d="M711 492l8 7-7-12-8-6z"/>
<path color=#002850 d="M704 485l7 7-7-11-7-7z"/>
<path color=#002d4e d="M696 478l8 7-7-11-8-7z"/>
<path color=#003450 d="M689 470l7 8-7-11-7-7z"/>
<path color=#003e55 d="M681 463l8 7-7-10-8-6z"/>
<path color=#004d62 d="M673 457l8 6-7-9-8-4z"/>
<path color=#00667b d="M666 454l7 3-7-7-7-2z"/>
<path color=#008ea6 d="M658 452l8 2-7-6-8 1z"/>
<path color=#00b2d2 d="M650 454l8-2-7-3-7 4z"/>
<path color=#00b7e1 d="M643 458l7-4-6-1-8 7z"/>
<path color=#00a7df d="M635 465l8-7-7 2-8 9z"/>
<path color=#0092d9 d="M628 474l7-9-7 4-7 10z"/>
<path color=#007cd4 d="M620 483l8-9-7 5-8 10z"/>
<path color=#0066d0 d="M612 493l8-10-7 6-8 11z"/>
<path color=#0051cd d="M605 503l7-10-7 7-7 11z"/>
<path color=#003dca d="M597 513l8-10-7 8-8 10z"/>
<path color=#000a4c d="M582 531l7-9-6 8-8 9z"/>
<path color=#00004c d="M567 545l7-7-7 9-7 6z"/>
<path color=#00074c d="M962 497l8 5-7 9-8-5z"/>
<path color=#000b4c d="M954 491l8 6-7 9-7-6z"/>
<path color=#00114c d="M947 484l7 7-6 9-8-7z"/>
<path color=#00174e d="M939 476l8 8-7 9-8-8z"/>
<path color=#001f51 d="M932 468l7 8-7 9-7-9z"/>
<path color=#002753 d="M924 460l8 8-7 8-8-8z"/>
<path color=#002e52 d="M916 452l8 8-7 8-8-9z"/>
<path color=#00324e d="M909 445l7 7-7 7-7-8z"/>
<path color=#00374c d="M901 440l8 5-7 6-8-8z"/>
<path color=#003c4c d="M893 436l8 4-7 3-7-5z"/>
<path color=#003f4c d="M886 435l7 1-6 2-8-3z"/>
<path color=#009ebd d="M878 437l8-2-7 0-8-1z"/>
<path color=#00a9ce d="M871 442l7-5-7-3-7 3z"/>
<path color=#01a0ce d="M863 449l8-7-7-5-8 5z"/>
<path color=#0594ce d="M855 458l8-9-7-7-8 7z"/>
<path color=#0583cb d="M848 467l7-9-7-9-7 8z"/>
<path color=#0370c6 d="M840 476l8-9-7-10-8 9z"/>
<path color=#015cc1 d="M833 485l7-9-7-10-7 9z"/>
<path color=#004bbd d="M825 494l8-9-7-10-8 8z"/>
<path color=#003bb9 d="M817 503l8-9-7-11-8 8z"/>
<path color=#002db5 d="M810 510l7-7-7-12-7 7z"/>
<path color=#0021b0 d="M802 516l8-6-7-12-8 7z"/>
<path color=#0018a9 d="M794 521l8-5-7-11-7 5z"/>
<path color=#0011a2 d="M787 525l7-4-6-11-8 4z"/>
<path color=#000c9a d="M779 528l8-3-7-11-8 2z"/>
<path color=#000990 d="M772 529l7-1-7-12-7 1z"/>
<path color=#000986 d="M764 529l8 0-7-12-8 0z"/>
<path color=#000a7c d="M756 528l8 1-7-12-8-1z"/>
<path color=#000c72 d="M749 525l7 3-7-12-7-2z"/>
<path color=#000f68 d="M741 521l8 4-7-11-8-4z"/>
<path color=#001260 d="M733 516l8 5-7-11-7-5z"/>
<path color=#001658 d="M726 510l7 6-6-11-8-6z"/>
<path color=#001a52 d="M718 503l8 7-7-11-8-7z"/>
<path color=#001f4e d="M711 496l7 7-7-11-7-7z"/>
<path color=#00244c d="M703 488l8 8-7-11-8-7z"/>
<path color=#002b4c d="M695 480l8 8-7-10-7-8z"/>
<path color=#00324e d="M688 472l7 8-6-10-8-7z"/>
<path color=#003d56 d="M680 465l8 7-7-9-8-6z"/>
<path color=#005067 d="M673 459l7 6-7-8-7-3z"/>
<path color=#006f87 d="M665 455l8 4-7-5-8-2z"/>
<path color=#0098b6 d="M657 455l8 0-7-3-8 2z"/>
<path color=#00b0d6 d="M650 457l7-2-7-1-7 4z"/>
<path color=#00abd9 d="M642 461l8-4-7 1-8 7z"/>
<path color=#009ad5 d="M634 468l8-7-7 4-7 9z"/>
<path color=#0086cf d="M627 477l7-9-6 6-8 9z"/>
<path color=#0072cb d="M619 486l8-9-7 6-8 10z"/>
<path color=#005ec8 d="M612 495l7-9-7 7-7 10z"/>
<path color=#004cc5 d="M604 505l8-10-7 8-8 10z"/>
<path color=#00174c d="M596 514l8-9-7 8-8 9z"/>
<path color=#00114c d="M589 522l7-8-7 8-7 9z"/>
<path color=#000b4c d="M581 529l8-7-7 9-8 7z"/>
<path color=#00074c d="M574 535l7-6-7 9-7 7z"/>
</g>
<use href="#sil" filter="url(#fsil)"/>
<g id="siu" class="sf" transform="scale(.5)">
<path color=#4e1f00 d="M460 224l7 7-6-10-8-8z"/>
<path color=#521a00 d="M452 217l8 7-7-11-8-7z"/>
<path color=#581600 d="M445 211l7 6-7-11-7-6z"/>
<path color=#601200 d="M437 207l8 4-7-11-8-5z"/>
<path color=#680f00 d="M429 203l8 4-7-12-8-4z"/>
<path color=#720c00 d="M422 200l7 3-7-12-7-2z"/>
<path color=#7c0a00 d="M414 199l8 1-7-11-8-2z"/>
<path color=#860900 d="M407 199l7 0-7-12-7 0z"/>
<path color=#900900 d="M399 200l8-1-7-12-8 2z"/>
<path color=#9a0c00 d="M391 203l8-3-7-11-8 2z"/>
<path color=#a21100 d="M384 207l7-4-7-12-7 4z"/>
<path color=#a91800 d="M376 212l8-5-7-12-8 5z"/>
<path color=#b02100 d="M368 218l8-6-7-12-7 7z"/>
<path color=#b52e01 d="M361 225l7-7-6-11-8 7z"/>
<path color=#bb3d03 d="M353 233l8-8-7-11-8 8z"/>
<path color=#c45208 d="M346 242l7-9-7-11-7 9z"/>
<path color=#4c3f00 d="M285 279l7 3-7-1-7-1z"/>
<path color=#4c3c00 d="M277 273l8 6-7 1-8-3z"/>
<path color=#4c3700 d="M269 266l8 7-7 4-8-6z"/>
<path color=#4e3200 d="M262 258l7 8-7 5-7-7z"/>
<path color=#522e00 d="M254 249l8 9-7 6-8-8z"/>
<path color=#532700 d="M247 240l7 9-7 7-7-8z"/>
<path color=#511f00 d="M239 232l8 8-7 8-8-8z"/>
<path color=#4e1700 d="M231 224l8 8-7 8-8-8z"/>
<path color=#4c1100 d="M224 216l7 8-7 8-7-7z"/>
<path color=#4c0b00 d="M216 210l8 6-7 9-8-6z"/>
<path color=#4c0700 d="M209 205l7 5-7 9-7-5z"/>
<path color=#542300 d="M459 229l8 7-7-12-8-7z"/>
<path color=#592000 d="M451 223l8 6-7-12-7-6z"/>
<path color=#601c00 d="M444 219l7 4-6-12-8-4z"/>
<path color=#681a00 d="M436 215l8 4-7-12-8-4z"/>
<path color=#711800 d="M429 212l7 3-7-12-7-3z"/>
<path color=#7a1700 d="M421 211l8 1-7-12-8-1z"/>
<path color=#841700 d="M413 211l8 0-7-12-7 0z"/>
<path color=#8e1900 d="M406 212l7-1-6-12-8 1z"/>
<path color=#971c00 d="M398 215l8-3-7-12-8 3z"/>
<path color=#9f2200 d="M391 219l7-4-7-12-7 4z"/>
<path color=#a62900 d="M383 224l8-5-7-12-8 5z"/>
<path color=#ac3300 d="M375 230l8-6-7-12-8 6z"/>
<path color=#b13f00 d="M368 237l7-7-7-12-7 7z"/>
<path color=#b54d01 d="M360 245l8-8-7-12-8 8z"/>
<path color=#ba5e03 d="M352 253l8-8-7-12-7 9z"/>
<path color=#4c3e00 d="M292 277l7 6-7-1-7-3z"/>
<path color=#4c3a00 d="M284 270l8 7-7 2-8-6z"/>
<path color=#503600 d="M276 261l8 9-7 3-8-7z"/>
<path color=#563200 d="M269 252l7 9-7 5-7-8z"/>
<path color=#582b00 d="M261 242l8 10-7 6-8-9z"/>
<path color=#572200 d="M253 233l8 9-7 7-7-9z"/>
<path color=#541900 d="M246 224l7 9-6 7-8-8z"/>
<path color=#501100 d="M238 216l8 8-7 8-8-8z"/>
<path color=#4c0a00 d="M231 208l7 8-7 8-7-8z"/>
<path color=#4c0400 d="M223 202l8 6-7 8-8-6z"/>
<path color=#4c0000 d="M215 197l8 5-7 8-7-5z"/>
<path color=#592a00 d="M458 236l8 5-7-12-8-6z"/>
<path color=#602700 d="M451 231l7 5-7-13-7-4z"/>
<path color=#682600 d="M443 227l8 4-7-12-8-4z"/>
<path color=#702500 d="M436 225l7 2-7-12-7-3z"/>
<path color=#7a2500 d="M428 224l8 1-7-13-8-1z"/>
<path color=#832600 d="M420 224l8 0-7-13-8 0z"/>
<path color=#8d2900 d="M413 225l7-1-7-13-7 1z"/>
<path color=#952d00 d="M405 228l8-3-7-13-8 3z"/>
<path color=#9d3300 d="M397 231l8-3-7-13-7 4z"/>
<path color=#a43c00 d="M390 236l7-5-6-12-8 5z"/>
<path color=#a94600 d="M382 242l8-6-7-12-8 6z"/>
<path color=#ae5100 d="M375 249l7-7-7-12-7 7z"/>
<path color=#b25f00 d="M367 257l8-8-7-12-8 8z"/>
<path color=#b56e01 d="M359 265l8-8-7-12-8 8z"/>
<path color=#4c4200 d="M306 283l8 5-7-3-8-2z"/>
<path color=#4c3d00 d="M298 276l8 7-7 0-7-6z"/>
<path color=#523b00 d="M291 267l7 9-6 1-8-7z"/>
<path color=#5a3800 d="M283 257l8 10-7 3-8-9z"/>
<path color=#5d3100 d="M276 247l7 10-7 4-7-9z"/>
<path color=#5d2800 d="M268 237l8 10-7 5-8-10z"/>
<path color=#5b1e00 d="M260 227l8 10-7 5-8-9z"/>
<path color=#581400 d="M253 217l7 10-7 6-7-9z"/>
<path color=#520b00 d="M245 209l8 8-7 7-8-8z"/>
<path color=#4c0400 d="M237 201l8 8-7 7-7-8z"/>
<path color=#4b0000 d="M230 195l7 6-6 7-8-6z"/>
<path color=#460000 d="M222 189l8 6-7 7-8-5z"/>
<path color=#683200 d="M450 240l8 4-7-13-8-4z"/>
<path color=#703200 d="M442 237l8 3-7-13-7-2z"/>
<path color=#7a3300 d="M435 236l7 1-6-12-8-1z"/>
<path color=#833500 d="M427 236l8 0-7-12-8 0z"/>
<path color=#8d3900 d="M420 237l7-1-7-12-7 1z"/>
<path color=#953e00 d="M412 240l8-3-7-12-8 3z"/>
<path color=#9d4500 d="M404 244l8-4-7-12-8 3z"/>
<path color=#a34e00 d="M397 249l7-5-7-13-7 5z"/>
<path color=#a95900 d="M389 255l8-6-7-13-8 6z"/>
<path color=#ad6500 d="M381 262l8-7-7-13-7 7z"/>
<path color=#b07200 d="M374 269l7-7-6-13-8 8z"/>
<path color=#b28000 d="M366 277l8-8-7-12-8 8z"/>
<path color=#4c4300 d="M313 284l8 7-7-3-8-5z"/>
<path color=#544200 d="M305 275l8 9-7-1-8-7z"/>
<path color=#5d4100 d="M298 264l7 11-7 1-7-9z"/>
<path color=#613a00 d="M290 253l8 11-7 3-8-10z"/>
<path color=#622f00 d="M282 242l8 11-7 4-7-10z"/>
<path color=#612400 d="M275 232l7 10-6 5-8-10z"/>
<path color=#5f1900 d="M267 221l8 11-7 5-8-10z"/>
<path color=#5a0f00 d="M260 212l7 9-7 6-7-10z"/>
<path color=#550600 d="M252 203l8 9-7 5-8-8z"/>
<path color=#4c0000 d="M244 195l8 8-7 6-8-8z"/>
<path color=#450000 d="M237 188l7 7-7 6-7-6z"/>
<path color=#400000 d="M229 183l8 5-7 7-8-6z"/>
<path color=#a10000 d="M625 151l7-7-7 5-7 7z"/>
<path color=#b20000 d="M617 159l8-8-7 5-8 8z"/>
<path color=#713f00 d="M449 250l8 2-7-12-8-3z"/>
<path color=#7b4100 d="M442 248l7 2-7-13-7-1z"/>
<path color=#854500 d="M434 248l8 0-7-12-8 0z"/>
<path color=#8e4a00 d="M426 250l8-2-7-12-7 1z"/>
<path color=#975000 d="M419 252l7-2-6-13-8 3z"/>
<path color=#9f5900 d="M411 256l8-4-7-12-8 4z"/>
<path color=#a56200 d="M404 261l7-5-7-12-7 5z"/>
<path color=#aa6d00 d="M396 267l8-6-7-12-8 6z"/>
<path color=#ae7900 d="M388 274l8-7-7-12-8 7z"/>
<path color=#b08600 d="M381 282l7-8-7-12-7 7z"/>
<path color=#4c4900 d="M327 294l8 8-7-6-7-5z"/>
<path color=#554b00 d="M320 285l7 9-6-3-8-7z"/>
<path color=#604b00 d="M312 274l8 11-7-1-8-9z"/>
<path color=#654400 d="M305 262l7 12-7 1-7-11z"/>
<path color=#673900 d="M297 251l8 11-7 2-8-11z"/>
<path color=#672d00 d="M289 239l8 12-7 2-8-11z"/>
<path color=#652100 d="M282 228l7 11-7 3-7-10z"/>
<path color=#621500 d="M274 217l8 11-7 4-8-11z"/>
<path color=#5d0a00 d="M266 207l8 10-7 4-7-9z"/>
<path color=#570100 d="M259 198l7 9-6 5-8-9z"/>
<path color=#490000 d="M251 190l8 8-7 5-8-8z"/>
<path color=#400000 d="M244 183l7 7-7 5-7-7z"/>
<path color=#3b0000 d="M236 178l8 5-7 5-8-5z"/>
<path color=#9b0000 d="M631 147l8-7-7 4-7 7z"/>
<path color=#ac0000 d="M624 156l7-9-6 4-8 8z"/>
<path color=#bf0000 d="M616 165l8-9-7 3-8 10z"/>
<path color=#850 d="M441 259l8 0-7-11-8 0z"/>
<path color=#935c00 d="M433 261l8-2-7-11-8 2z"/>
<path color=#9c6400 d="M426 263l7-2-7-11-7 2z"/>
<path color=#a46d00 d="M418 267l8-4-7-11-8 4z"/>
<path color=#aa7800 d="M410 273l8-6-7-11-7 5z"/>
<path color=#af8400 d="M403 279l7-6-6-12-8 6z"/>
<path color=#b29000 d="M395 286l8-7-7-12-8 7z"/>
<path color=#b39d00 d="M388 294l7-8-7-12-7 8z"/>
<path color=#565500 d="M334 297l8 9-7-4-8-8z"/>
<path color=#635800 d="M327 285l7 12-7-3-7-9z"/>
<path color=#695100 d="M319 273l8 12-7 0-8-11z"/>
<path color=#6b4600 d="M311 261l8 12-7 1-7-12z"/>
<path color=#6b3900 d="M304 249l7 12-6 1-8-11z"/>
<path color=#6a2b00 d="M296 237l8 12-7 2-8-12z"/>
<path color=#681e00 d="M289 225l7 12-7 2-7-11z"/>
<path color=#641100 d="M281 214l8 11-7 3-8-11z"/>
<path color=#5f0600 d="M273 204l8 10-7 3-8-10z"/>
<path color=#500 d="M266 195l7 9-7 3-7-9z"/>
<path color=#460000 d="M258 186l8 9-7 3-8-8z"/>
<path color=#3d0000 d="M250 179l8 7-7 4-7-7z"/>
<path color=#370000 d="M243 174l7 5-6 4-8-5z"/>
<path color=#980000 d="M638 145l8-7-7 2-8 7z"/>
<path color=#a80000 d="M631 153l7-8-7 2-7 9z"/>
<path color=#b00 d="M623 163l8-10-7 3-8 9z"/>
<path color=#a67a00 d="M433 273l7-3-7-9-7 2z"/>
<path color=#af8500 d="M425 277l8-4-7-10-8 4z"/>
<path color=#b59100 d="M417 282l8-5-7-10-8 6z"/>
<path color=#ba9e01 d="M410 289l7-7-7-9-7 6z"/>
<path color=#bdad02 d="M402 297l8-8-7-10-8 7z"/>
<path color=#bebb03 d="M395 305l7-8-7-11-7 8z"/>
<path color=#4b550a d="M349 310l7 10-6-7-8-7z"/>
<path color=#636501 d="M341 299l8 11-7-4-8-9z"/>
<path color=#6c6000 d="M334 286l7 13-7-2-7-12z"/>
<path color=#6e5500 d="M326 273l8 13-7-1-8-12z"/>
<path color=#6f4700 d="M318 260l8 13-7 0-8-12z"/>
<path color=#6e3800 d="M311 247l7 13-7 1-7-12z"/>
<path color=#6d2a00 d="M303 235l8 12-7 2-8-12z"/>
<path color=#6a1b00 d="M295 223l8 12-7 2-7-12z"/>
<path color=#660e00 d="M288 212l7 11-6 2-8-11z"/>
<path color=#610300 d="M280 202l8 10-7 2-8-10z"/>
<path color=#540000 d="M273 192l7 10-7 2-7-9z"/>
<path color=#400 d="M265 184l8 8-7 3-8-9z"/>
<path color=#3a0000 d="M257 177l8 7-7 2-8-7z"/>
<path color=#350000 d="M250 171l7 6-7 2-7-5z"/>
<path color=#950000 d="M645 143l8-7-7 2-8 7z"/>
<path color=#a60000 d="M638 152l7-9-7 2-7 8z"/>
<path color=#b80000 d="M630 161l8-9-7 1-8 10z"/>
<path color=#cd0000 d="M622 172l8-11-7 2-8 10z"/>
<path color=#c9b001 d="M424 289l8-6-7-6-8 5z"/>
<path color=#d5c609 d="M417 296l7-7-7-7-7 7z"/>
<path color=#eceb20 d="M409 304l8-8-7-7-8 8z"/>
<path color=#576710 d="M356 313l7 12-7-5-7-10z"/>
<path color=#6a6e03 d="M348 300l8 13-7-3-8-11z"/>
<path color=#716600 d="M340 287l8 13-7-1-7-13z"/>
<path color=#725700 d="M333 273l7 14-6-1-8-13z"/>
<path color=#724800 d="M325 260l8 13-7 0-8-13z"/>
<path color=#703800 d="M318 247l7 13-7 0-7-13z"/>
<path color=#6e2800 d="M310 234l8 13-7 0-8-12z"/>
<path color=#6b1a00 d="M302 222l8 12-7 1-8-12z"/>
<path color=#670c00 d="M295 211l7 11-7 1-7-11z"/>
<path color=#620100 d="M287 200l8 11-7 1-8-10z"/>
<path color=#520000 d="M280 191l7 9-7 2-7-10z"/>
<path color=#430000 d="M272 183l8 8-7 1-8-8z"/>
<path color=#380000 d="M264 176l8 7-7 1-8-7z"/>
<path color=#300 d="M257 170l7 6-7 1-7-6z"/>
<path color=#940000 d="M652 143l8-7-7 0-8 7z"/>
<path color=#a40000 d="M644 152l8-9-7 0-7 9z"/>
<path color=#b70000 d="M637 162l7-10-6 0-8 9z"/>
<path color=#cb0000 d="M629 172l8-10-7-1-8 11z"/>
<path color=#405e1e d="M523 318l7 10-7-6-7-9z"/>
<path color=#465a13 d="M515 308l8 10-7-5-8-8z"/>
<path color=#4b6c21 d="M370 328l8 12-7-4-8-11z"/>
<path color=#5d7014 d="M363 314l7 14-7-3-7-12z"/>
<path color=#6e7205 d="M355 301l8 13-7-1-8-13z"/>
<path color=#736800 d="M347 287l8 14-7-1-8-13z"/>
<path color=#735800 d="M340 274l7 13-7 0-7-14z"/>
<path color=#734800 d="M332 260l8 14-7-1-8-13z"/>
<path color=#713700 d="M324 247l8 13-7 0-7-13z"/>
<path color=#6f2800 d="M317 234l7 13-6 0-8-13z"/>
<path color=#6c1900 d="M309 222l8 12-7 0-8-12z"/>
<path color=#680b00 d="M302 211l7 11-7 0-7-11z"/>
<path color=#620000 d="M294 201l8 10-7 0-8-11z"/>
<path color=#520000 d="M286 191l8 10-7-1-7-9z"/>
<path color=#420000 d="M279 183l7 8-6 0-8-8z"/>
<path color=#370000 d="M271 176l8 7-7 0-8-7z"/>
<path color=#320000 d="M264 170l7 6-7 0-7-6z"/>
<path color=#940000 d="M659 145l7-7-6-2-8 7z"/>
<path color=#a40000 d="M651 153l8-8-7-2-8 9z"/>
<path color=#b70000 d="M644 163l7-10-7-1-7 10z"/>
<path color=#cb0000 d="M636 174l8-11-7-1-8 10z"/>
<path color=#2f5021 d="M537 323l8 5-7 11-8-11z"/>
<path color=#405e1e d="M529 315l8 8-7 5-7-10z"/>
<path color=#465a13 d="M522 306l7 9-6 3-8-10z"/>
<path color=#48520a d="M514 298l8 8-7 2-8-8z"/>
<path color=#305222 d="M385 337l7 4-7 11-7-12z"/>
<path color=#4b6c21 d="M377 327l8 10-7 3-8-12z"/>
<path color=#5d7014 d="M369 314l8 13-7 1-7-14z"/>
<path color=#6e7205 d="M362 301l7 13-6 0-8-13z"/>
<path color=#736800 d="M354 288l8 13-7 0-8-14z"/>
<path color=#735800 d="M347 275l7 13-7-1-7-13z"/>
<path color=#734800 d="M339 261l8 14-7-1-8-14z"/>
<path color=#713700 d="M331 248l8 13-7-1-8-13z"/>
<path color=#6f2800 d="M324 236l7 12-7-1-7-13z"/>
<path color=#6c1900 d="M316 224l8 12-7-2-8-12z"/>
<path color=#680b00 d="M309 212l7 12-7-2-7-11z"/>
<path color=#620000 d="M301 202l8 10-7-1-8-10z"/>
<path color=#520000 d="M293 192l8 10-7-1-8-10z"/>
<path color=#420000 d="M286 184l7 8-7-1-7-8z"/>
<path color=#370000 d="M278 177l8 7-7-1-8-7z"/>
<path color=#320000 d="M271 171l7 6-7-1-7-6z"/>
<path color=#950000 d="M666 147l7-6-7-3-7 7z"/>
<path color=#a70101 d="M658 156l8-9-7-2-8 8z"/>
<path color=#bb0303 d="M651 165l7-9-7-3-7 10z"/>
<path color=#d10505 d="M643 176l8-11-7-2-8 11z"/>
<path color=#344c19 d="M552 317l7-2-7 8-7 5z"/>
<path color=#354c18 d="M544 313l8 4-7 11-8-5z"/>
<path color=#3b4d12 d="M536 306l8 7-7 10-8-8z"/>
<path color=#44500c d="M529 299l7 7-7 9-7-9z"/>
<path color=#354c18 d="M399 330l8-5-7 10-8 6z"/>
<path color=#344c19 d="M392 329l7 1-7 11-7-4z"/>
<path color=#3e5416 d="M384 323l8 6-7 8-8-10z"/>
<path color=#576710 d="M376 313l8 10-7 4-8-13z"/>
<path color=#6a6e03 d="M369 301l7 12-7 1-7-13z"/>
<path color=#716600 d="M361 289l8 12-7 0-8-13z"/>
<path color=#725700 d="M354 276l7 13-7-1-7-13z"/>
<path color=#724800 d="M346 263l8 13-7-1-8-14z"/>
<path color=#703800 d="M338 250l8 13-7-2-8-13z"/>
<path color=#6e2800 d="M331 238l7 12-7-2-7-12z"/>
<path color=#6b1a00 d="M323 226l8 12-7-2-8-12z"/>
<path color=#670c00 d="M315 215l8 11-7-2-7-12z"/>
<path color=#620100 d="M308 204l7 11-6-3-8-10z"/>
<path color=#520000 d="M300 195l8 9-7-2-8-10z"/>
<path color=#430000 d="M293 187l7 8-7-3-7-8z"/>
<path color=#380000 d="M285 180l8 7-7-3-8-7z"/>
<path color=#300 d="M277 174l8 6-7-3-7-6z"/>
<path color=#990202 d="M673 151l7-6-7-4-7 6z"/>
<path color=#b00707 d="M665 160l8-9-7-4-8 9z"/>
<path color=#cc1212 d="M657 169l8-9-7-4-7 9z"/>
<path color=#ea1a1a d="M650 180l7-11-6-4-8 11z"/>
<path color=#3c4c11 d="M558 306l8 1-7 8-7 2z"/>
<path color=#3e4c0f d="M551 302l7 4-6 11-8-4z"/>
<path color=#424c0a d="M543 296l8 6-7 11-8-7z"/>
<path color=#3c4c11 d="M398 321l8-2-7 11-7-1z"/>
<path color=#3e4c0f d="M391 318l7 3-6 8-8-6z"/>
<path color=#4b550a d="M383 310l8 8-7 5-8-10z"/>
<path color=#636501 d="M376 301l7 9-7 3-7-12z"/>
<path color=#6f4700 d="M353 265l7 12-6-1-8-13z"/>
<path color=#6e3800 d="M345 253l8 12-7-2-8-13z"/>
<path color=#6d2a00 d="M338 241l7 12-7-3-7-12z"/>
<path color=#6a1b00 d="M330 229l8 12-7-3-8-12z"/>
<path color=#660e00 d="M322 218l8 11-7-3-8-11z"/>
<path color=#610300 d="M315 208l7 10-7-3-7-11z"/>
<path color=#540000 d="M307 199l8 9-7-4-8-9z"/>
<path color=#400 d="M299 191l8 8-7-4-7-8z"/>
<path color=#3a0000 d="M292 184l7 7-6-4-8-7z"/>
<path color=#350000 d="M284 178l8 6-7-4-8-6z"/>
<path color=#9f0404 d="M680 157l7-7-7-5-7 6z"/>
<path color=#be1212 d="M672 165l8-8-7-6-8 9z"/>
<path color=#eb2c2c d="M664 174l8-9-7-5-8 9z"/>
<path color=#f44 d="M657 184l7-10-7-5-7 11z"/>
<path color=#ff5e50 d="M649 196l8-12-7-4-8 11z"/>
<path color=#400 d="M291 183l8 6-7-5-8-6z"/>
<path color=#a40303 d="M687 163l7-7-7-6-7 7z"/>
<path color=#c41212 d="M679 171l8-8-7-6-8 8z"/>
<path color=#f93434 d="M671 180l8-9-7-6-8 9z"/>
<path color=#ff615f d="M664 190l7-10-7-6-7 10z"/>
<path color=#ff957e d="M656 201l8-11-7-6-8 12z"/>
<path color=#460000 d="M306 195l7 7-7-6-7-7z"/>
<path color=#490000 d="M298 190l8 5-7-6-8-6z"/>
<path color=#a90101 d="M693 171l8-7-7-8-7 7z"/>
<path color=#c30a0a d="M686 178l7-7-6-8-8 8z"/>
<path color=#ef2424 d="M678 187l8-9-7-7-8 9z"/>
<path color=#ff5d4f d="M671 197l7-10-7-7-7 10z"/>
<path color=#ffa07d d="M663 208l8-11-7-7-8 11z"/>
<path color=#4c0000 d="M312 203l8 6-7-7-7-7z"/>
<path color=#4f0000 d="M305 197l7 6-6-8-8-5z"/>
<path color=#b00000 d="M700 179l8-6-7-9-8 7z"/>
<path color=#c40404 d="M693 187l7-8-7-8-7 7z"/>
<path color=#da1a10 d="M685 196l8-9-7-9-8 9z"/>
<path color=#f8472c d="M677 205l8-9-7-9-7 10z"/>
<path color=#ff8354 d="M670 215l7-10-6-8-8 11z"/>
<path color=#4c0a00 d="M335 225l7 9-7-8-7-9z"/>
<path color=#4d0400 d="M327 218l8 7-7-8-8-8z"/>
<path color=#530000 d="M319 211l8 7-7-9-8-6z"/>
<path color=#560000 d="M312 206l7 5-7-8-7-6z"/>
<path color=#b90000 d="M707 189l8-6-7-10-8 6z"/>
<path color=#c00c01 d="M700 196l7-7-7-10-7 8z"/>
<path color=#c91f05 d="M692 205l8-9-7-9-8 9z"/>
<path color=#d83c11 d="M684 214l8-9-7-9-8 9z"/>
<path color=#f26427 d="M677 224l7-10-7-9-7 10z"/>
<path color=#4c1000 d="M342 235l7 7-7-8-7-9z"/>
<path color=#4f0a00 d="M334 227l8 8-7-10-8-7z"/>
<path color=#560500 d="M326 221l8 6-7-9-8-7z"/>
<path color=#5e0000 d="M319 216l7 5-7-10-7-5z"/>
<path color=#b41000 d="M714 200l8-7-7-10-8 6z"/>
<path color=#ba1c00 d="M706 207l8-7-7-11-7 7z"/>
<path color=#bf2b01 d="M699 215l7-8-6-11-8 9z"/>
<path color=#c73f05 d="M691 224l8-9-7-10-8 9z"/>
<path color=#d3590e d="M684 233l7-9-7-10-7 10z"/>
<path color=#bd9e00 d="M409 293l8-2-7 2-8 0z"/>
<path color=#4c3100 d="M379 276l7 7-6-6-8-9z"/>
<path color=#4c2400 d="M364 260l7 8-7-8-7-9z"/>
<path color=#4c1d00 d="M356 252l8 8-7-9-8-9z"/>
<path color=#4c1700 d="M348 245l8 7-7-10-7-7z"/>
<path color=#501200 d="M341 238l7 7-6-10-8-8z"/>
<path color=#570d00 d="M333 232l8 6-7-11-8-6z"/>
<path color=#5f0800 d="M326 227l7 5-7-11-7-5z"/>
<path color=#b02100 d="M721 211l7-6-6-12-8 7z"/>
<path color=#b52d00 d="M713 218l8-7-7-11-8 7z"/>
<path color=#b93b00 d="M706 226l7-8-7-11-7 8z"/>
<path color=#be4c01 d="M698 235l8-9-7-11-8 9z"/>
<path color=#d6b000 d="M416 294l8-4-7 1-8 2z"/>
<path color=#b69800 d="M409 296l7-2-7-1-7 0z"/>
<path color=#876f00 d="M401 294l8 2-7-3-8-4z"/>
<path color=#675000 d="M393 291l8 3-7-5-8-6z"/>
<path color=#563d00 d="M386 285l7 6-7-8-7-7z"/>
<path color=#4e3200 d="M378 278l8 7-7-9-8-8z"/>
<path color=#4c2b00 d="M371 270l7 8-7-10-7-8z"/>
<path color=#4c2400 d="M363 263l8 7-7-10-8-8z"/>
<path color=#4e1f00 d="M355 256l8 7-7-11-8-7z"/>
<path color=#521a00 d="M348 249l7 7-7-11-7-7z"/>
<path color=#581600 d="M340 243l8 6-7-11-8-6z"/>
<path color=#5f1200 d="M333 238l7 5-7-11-7-5z"/>
<path color=#ac3300 d="M728 223l7-6-7-12-7 6z"/>
<path color=#b13f00 d="M720 230l8-7-7-12-8 7z"/>
<path color=#b54c00 d="M713 238l7-8-7-12-7 8z"/>
<path color=#b85c00 d="M705 246l8-8-7-12-8 9z"/>
<path color=#d2b200 d="M415 299l8-4-7-1-7 2z"/>
<path color=#a68e00 d="M408 300l7-1-6-3-8-2z"/>
<path color=#7b6600 d="M400 298l8 2-7-6-8-3z"/>
<path color=#624d00 d="M393 294l7 4-7-7-7-6z"/>
<path color=#553e00 d="M385 288l8 6-7-9-8-7z"/>
<path color=#503400 d="M377 281l8 7-7-10-7-8z"/>
<path color=#4e2d00 d="M370 274l7 7-6-11-8-7z"/>
<path color=#502800 d="M362 267l8 7-7-11-8-7z"/>
<path color=#542300 d="M355 261l7 6-7-11-7-7z"/>
<path color=#592000 d="M347 255l8 6-7-12-8-6z"/>
<path color=#601d00 d="M339 250l8 5-7-12-7-5z"/>
<path color=#a94600 d="M735 235l7-6-7-12-7 6z"/>
<path color=#ae5100 d="M727 242l8-7-7-12-8 7z"/>
<path color=#b15f00 d="M719 250l8-8-7-12-7 8z"/>
<path color=#b46d00 d="M712 258l7-8-6-12-8 8z"/>
<path color=#938300 d="M407 306l8 0-7-6-8-2z"/>
<path color=#706100 d="M400 304l7 2-7-8-7-4z"/>
<path color=#5d4c00 d="M392 299l8 5-7-10-8-6z"/>
<path color=#543f00 d="M384 293l8 6-7-11-8-7z"/>
<path color=#513700 d="M377 286l7 7-7-12-7-7z"/>
<path color=#523100 d="M369 279l8 7-7-12-8-7z"/>
<path color=#552d00 d="M361 273l8 6-7-12-7-6z"/>
<path color=#592a00 d="M354 267l7 6-6-12-8-6z"/>
<path color=#602700 d="M346 263l8 4-7-12-8-5z"/>
<path color=#a95900 d="M742 248l7-6-7-13-7 6z"/>
<path color=#ad6500 d="M734 255l8-7-7-13-8 7z"/>
<path color=#af7200 d="M726 262l8-7-7-13-8 8z"/>
<path color=#b17f00 d="M719 270l7-8-7-12-7 8z"/>
<path color=#817a00 d="M406 313l8 1-7-8-7-2z"/>
<path color=#675d00 d="M399 310l7 3-6-9-8-5z"/>
<path color=#594c00 d="M391 305l8 5-7-11-8-6z"/>
<path color=#544200 d="M384 298l7 7-7-12-7-7z"/>
<path color=#533c00 d="M376 292l8 6-7-12-8-7z"/>
<path color=#553700 d="M368 286l8 6-7-13-8-6z"/>
<path color=#5a3400 d="M361 280l7 6-7-13-7-6z"/>
<path color=#603300 d="M353 275l8 5-7-13-8-4z"/>
<path color=#a10000 d="M520 183l8-7-7 5-8 7z"/>
<path color=#b20000 d="M512 191l8-8-7 5-8 8z"/>
<path color=#c40000 d="M505 200l7-9-7 5-7 9z"/>
<path color=#5e5b00 d="M398 317l8 5-7-12-8-5z"/>
<path color=#564d00 d="M390 311l8 6-7-12-7-7z"/>
<path color=#544600 d="M383 304l7 7-6-13-8-6z"/>
<path color=#554100 d="M375 298l8 6-7-12-8-6z"/>
<path color=#5a3f00 d="M368 292l7 6-7-12-7-6z"/>
<path color=#603e00 d="M360 288l8 4-7-12-8-5z"/>
<path color=#300000 d="M542 166l8-4-7 4-8 4z"/>
<path color=#8c0000 d="M534 172l8-6-7 4-7 6z"/>
<path color=#9b0000 d="M527 179l7-7-6 4-8 7z"/>
<path color=#ac0000 d="M519 187l8-8-7 4-8 8z"/>
<path color=#bf0000 d="M512 197l7-10-7 4-7 9z"/>
<path color=#555602 d="M397 323l8 7-7-13-8-6z"/>
<path color=#534f00 d="M390 317l7 6-7-12-7-7z"/>
<path color=#544a00 d="M382 310l8 7-7-13-8-6z"/>
<path color=#594800 d="M374 304l8 6-7-12-7-6z"/>
<path color=#5f4800 d="M367 299l7 5-6-12-8-4z"/>
<path color=#4b550a d="M701 303l8 10-7-6-8-8z"/>
<path color=#7c0000 d="M549 164l8-5-7 3-8 4z"/>
<path color=#890000 d="M541 169l8-5-7 2-8 6z"/>
<path color=#980000 d="M534 176l7-7-7 3-7 7z"/>
<path color=#a80000 d="M526 185l8-9-7 3-8 8z"/>
<path color=#b00 d="M518 194l8-9-7 2-7 10z"/>
<path color=#525000 d="M389 320l8 8-7-11-8-7z"/>
<path color=#574f00 d="M381 314l8 6-7-10-8-6z"/>
<path color=#5f5100 d="M374 309l7 5-7-10-7-5z"/>
<path color=#576710 d="M708 306l8 12-7-5-8-10z"/>
<path color=#6a6e03 d="M701 293l7 13-7-3-7-11z"/>
<path color=#280000 d="M571 155l8-1-7 1-8 1z"/>
<path color=#6e0000 d="M563 158l8-3-7 1-7 3z"/>
<path color=#7a0000 d="M556 162l7-4-6 1-8 5z"/>
<path color=#870000 d="M548 168l8-6-7 2-8 5z"/>
<path color=#950000 d="M541 175l7-7-7 1-7 7z"/>
<path color=#a60000 d="M533 183l8-8-7 1-8 9z"/>
<path color=#b80000 d="M525 193l8-10-7 2-8 9z"/>
<path color=#cd0000 d="M518 204l7-11-7 1-7 11z"/>
<path color=#5f5800 d="M381 316l7 5-7-7-7-5z"/>
<path color=#4b6c21 d="M723 321l7 12-7-4-7-11z"/>
<path color=#5d7014 d="M715 307l8 14-7-3-8-12z"/>
<path color=#6e7205 d="M707 294l8 13-7-1-7-13z"/>
<path color=#630000 d="M578 155l8-1-7 0-8 1z"/>
<path color=#6d0000 d="M570 158l8-3-7 0-8 3z"/>
<path color=#790000 d="M563 162l7-4-7 0-7 4z"/>
<path color=#860000 d="M555 168l8-6-7 0-8 6z"/>
<path color=#940000 d="M548 175l7-7-7 0-7 7z"/>
<path color=#a40000 d="M540 184l8-9-7 0-8 8z"/>
<path color=#b70000 d="M532 193l8-9-7-1-8 10z"/>
<path color=#cb0000 d="M525 204l7-11-7 0-7 11z"/>
<path color=#405e1e d="M418 349l8 11-7-7-8-8z"/>
<path color=#465a13 d="M410 340l8 9-7-4-8-9z"/>
<path color=#48520a d="M403 331l7 9-7-4-7-8z"/>
<path color=#494c03 d="M395 324l8 7-7-3-8-7z"/>
<path color=#4c4a00 d="M388 319l7 5-7-3-7-5z"/>
<path color=#305222 d="M737 330l8 4-7 11-8-12z"/>
<path color=#4b6c21 d="M730 320l7 10-7 3-7-12z"/>
<path color=#5d7014 d="M722 307l8 13-7 1-8-14z"/>
<path color=#6e7205 d="M714 294l8 13-7 0-8-13z"/>
<path color=#280000 d="M600 155l8 2-7-2-8-1z"/>
<path color=#590000 d="M592 155l8 0-7-1-7 0z"/>
<path color=#630000 d="M585 156l7-1-6-1-8 1z"/>
<path color=#6d0000 d="M577 159l8-3-7-1-8 3z"/>
<path color=#790000 d="M570 164l7-5-7-1-7 4z"/>
<path color=#860000 d="M562 169l8-5-7-2-8 6z"/>
<path color=#940000 d="M554 176l8-7-7-1-7 7z"/>
<path color=#a40000 d="M547 185l7-9-6-1-8 9z"/>
<path color=#b70000 d="M539 194l8-9-7-1-8 9z"/>
<path color=#cb0000 d="M532 205l7-11-7-1-7 11z"/>
<path color=#2f5021 d="M433 355l7 5-7 11-7-11z"/>
<path color=#405e1e d="M425 346l8 9-7 5-8-11z"/>
<path color=#465a13 d="M417 337l8 9-7 3-8-9z"/>
<path color=#48520a d="M410 330l7 7-7 3-7-9z"/>
<path color=#494c03 d="M402 323l8 7-7 1-8-7z"/>
<path color=#4c4a00 d="M395 317l7 6-7 1-7-5z"/>
<path color=#354c18 d="M752 323l7-5-7 10-7 6z"/>
<path color=#344c19 d="M744 322l8 1-7 11-8-4z"/>
<path color=#3e5416 d="M736 316l8 6-7 8-7-10z"/>
<path color=#576710 d="M729 306l7 10-6 4-8-13z"/>
<path color=#6a6e03 d="M721 294l8 12-7 1-8-13z"/>
<path color=#2b0000 d="M615 159l7 3-7-2-7-3z"/>
<path color=#510000 d="M607 158l8 1-7-2-8-2z"/>
<path color=#5a0000 d="M599 158l8 0-7-3-8 0z"/>
<path color=#630000 d="M592 159l7-1-7-3-7 1z"/>
<path color=#6e0000 d="M584 162l8-3-7-3-8 3z"/>
<path color=#7a0000 d="M577 166l7-4-7-3-7 5z"/>
<path color=#870000 d="M569 172l8-6-7-2-8 5z"/>
<path color=#950000 d="M561 179l8-7-7-3-8 7z"/>
<path color=#a60101 d="M554 187l7-8-7-3-7 9z"/>
<path color=#ba0202 d="M546 197l8-10-7-2-8 9z"/>
<path color=#d00303 d="M538 208l8-11-7-3-7 11z"/>
<path color=#344c19 d="M447 349l8-2-7 7-8 6z"/>
<path color=#354c18 d="M439 345l8 4-7 11-7-5z"/>
<path color=#3b4d12 d="M432 338l7 7-6 10-8-9z"/>
<path color=#44500c d="M424 330l8 8-7 8-8-9z"/>
<path color=#474c05 d="M417 323l7 7-7 7-7-7z"/>
<path color=#4c4c00 d="M409 317l8 6-7 7-8-7z"/>
<path color=#4c4700 d="M401 312l8 5-7 6-7-6z"/>
<path color=#3c4c11 d="M751 314l8-2-7 11-8-1z"/>
<path color=#3e4c0f d="M743 311l8 3-7 8-8-6z"/>
<path color=#4b550a d="M736 303l7 8-7 5-7-10z"/>
<path color=#4b0000 d="M622 163l7 3-7-4-7-3z"/>
<path color=#530000 d="M614 162l8 1-7-4-8-1z"/>
<path color=#5b0000 d="M606 162l8 0-7-4-8 0z"/>
<path color=#650000 d="M599 163l7-1-7-4-7 1z"/>
<path color=#700000 d="M591 166l8-3-7-4-8 3z"/>
<path color=#7c0000 d="M583 170l8-4-7-4-7 4z"/>
<path color=#890000 d="M576 176l7-6-6-4-8 6z"/>
<path color=#990202 d="M568 183l8-7-7-4-8 7z"/>
<path color=#b00808 d="M561 191l7-8-7-4-7 8z"/>
<path color=#cb1010 d="M553 201l8-10-7-4-8 10z"/>
<path color=#e61717 d="M545 211l8-10-7-4-8 11z"/>
<path color=#3e4c0f d="M462 338l7-4-7 5-7 8z"/>
<path color=#3c4c11 d="M454 338l8 0-7 9-8 2z"/>
<path color=#3e4c0f d="M446 334l8 4-7 11-8-4z"/>
<path color=#424c0a d="M439 328l7 6-7 11-7-7z"/>
<path color=#484c05 d="M431 321l8 7-7 10-8-8z"/>
<path color=#4c4b00 d="M423 314l8 7-7 9-7-7z"/>
<path color=#4c4600 d="M416 308l7 6-6 9-8-6z"/>
<path color=#4c4100 d="M408 303l8 5-7 9-8-5z"/>
<path color=#450000 d="M644 176l7 6-7-5-7-6z"/>
<path color=#490000 d="M636 172l8 4-7-5-8-5z"/>
<path color=#4f0000 d="M628 169l8 3-7-6-7-3z"/>
<path color=#560000 d="M621 167l7 2-6-6-8-1z"/>
<path color=#5e0000 d="M613 167l8 0-7-5-8 0z"/>
<path color=#680000 d="M606 169l7-2-7-5-7 1z"/>
<path color=#730000 d="M598 171l8-2-7-6-8 3z"/>
<path color=#7f0000 d="M590 176l8-5-7-5-8 4z"/>
<path color=#8d0000 d="M583 181l7-5-7-6-7 6z"/>
<path color=#a00505 d="M575 188l8-7-7-5-8 7z"/>
<path color=#c11515 d="M567 196l8-8-7-5-7 8z"/>
<path color=#ed2e2e d="M560 206l7-10-6-5-8 10z"/>
<path color=#ff4343 d="M552 216l8-10-7-5-8 10z"/>
<path color=#ff5749 d="M545 227l7-11-7-5-7 12z"/>
<path color=#444c09 d="M468 329l8-1-7 6-7 4z"/>
<path color=#444c09 d="M461 327l7 2-6 9-8 0z"/>
<path color=#474c06 d="M453 322l8 5-7 11-8-4z"/>
<path color=#4b4c01 d="M446 316l7 6-7 12-7-6z"/>
<path color=#4c4900 d="M438 310l8 6-7 12-8-7z"/>
<path color=#4c4300 d="M430 304l8 6-7 11-8-7z"/>
<path color=#4c3e00 d="M423 298l7 6-7 10-7-6z"/>
<path color=#4c3a00 d="M415 293l8 5-7 10-8-5z"/>
<path color=#490000 d="M651 183l7 5-7-6-7-6z"/>
<path color=#4e0000 d="M643 178l8 5-7-7-8-4z"/>
<path color=#530000 d="M635 176l8 2-7-6-8-3z"/>
<path color=#5b0000 d="M628 174l7 2-7-7-7-2z"/>
<path color=#630000 d="M620 174l8 0-7-7-8 0z"/>
<path color=#6d0000 d="M612 175l8-1-7-7-7 2z"/>
<path color=#700 d="M605 178l7-3-6-6-8 2z"/>
<path color=#840000 d="M597 182l8-4-7-7-8 5z"/>
<path color=#920000 d="M590 188l7-6-7-6-7 5z"/>
<path color=#a50505 d="M582 195l8-7-7-7-8 7z"/>
<path color=#c91818 d="M574 203l8-8-7-7-8 8z"/>
<path color=#ff3e3e d="M567 212l7-9-7-7-7 10z"/>
<path color=#ff6a68 d="M559 222l8-10-7-6-8 10z"/>
<path color=#ff9881 d="M551 233l8-11-7-6-7 11z"/>
<path color=#4c4c01 d="M483 321l8-3-7 4-8 6z"/>
<path color=#4a4c02 d="M475 320l8 1-7 7-8 1z"/>
<path color=#4c4c01 d="M468 317l7 3-7 9-7-2z"/>
<path color=#4c4a00 d="M460 311l8 6-7 10-8-5z"/>
<path color=#4c4500 d="M452 305l8 6-7 11-7-6z"/>
<path color=#4c4000 d="M445 299l7 6-6 11-8-6z"/>
<path color=#4c3a00 d="M437 292l8 7-7 11-8-6z"/>
<path color=#4c3600 d="M430 287l7 5-7 12-7-6z"/>
<path color=#4c3100 d="M422 282l8 5-7 11-8-5z"/>
<path color=#4b0000 d="M673 202l7 8-7-7-7-8z"/>
<path color=#4c0000 d="M665 196l8 6-7-7-8-7z"/>
<path color=#4f0000 d="M657 190l8 6-7-8-7-5z"/>
<path color=#540000 d="M650 186l7 4-6-7-8-5z"/>
<path color=#590000 d="M642 183l8 3-7-8-8-2z"/>
<path color=#600000 d="M635 182l7 1-7-7-7-2z"/>
<path color=#690000 d="M627 182l8 0-7-8-8 0z"/>
<path color=#730000 d="M619 183l8-1-7-8-8 1z"/>
<path color=#7e0000 d="M612 186l7-3-7-8-7 3z"/>
<path color=#8a0000 d="M604 190l8-4-7-8-8 4z"/>
<path color=#980000 d="M596 196l8-6-7-8-7 6z"/>
<path color=#aa0202 d="M589 202l7-6-6-8-8 7z"/>
<path color=#c70f0f d="M581 210l8-8-7-7-8 8z"/>
<path color=#fa2f2f d="M574 219l7-9-7-7-7 9z"/>
<path color=#ff6d5f d="M566 229l8-10-7-7-8 10z"/>
<path color=#ffaf8d d="M558 239l8-10-7-7-8 11z"/>
<path color=#4c4900 d="M490 314l7 0-6 4-8 3z"/>
<path color=#4c4800 d="M482 312l8 2-7 7-8-1z"/>
<path color=#4c4600 d="M475 307l7 5-7 8-7-3z"/>
<path color=#4c4100 d="M467 301l8 6-7 10-8-6z"/>
<path color=#4c3c00 d="M459 294l8 7-7 10-8-6z"/>
<path color=#4c3700 d="M452 288l7 6-7 11-7-6z"/>
<path color=#4c3200 d="M444 281l8 7-7 11-8-7z"/>
<path color=#4c2d00 d="M436 276l8 5-7 11-7-5z"/>
<path color=#4c2800 d="M429 271l7 5-6 11-8-5z"/>
<path color=#4d0400 d="M680 211l7 7-7-8-7-8z"/>
<path color=#530000 d="M672 204l8 7-7-9-8-6z"/>
<path color=#560000 d="M664 199l8 5-7-8-8-6z"/>
<path color=#5b0000 d="M657 195l7 4-7-9-7-4z"/>
<path color=#610000 d="M649 192l8 3-7-9-8-3z"/>
<path color=#680000 d="M641 191l8 1-7-9-7-1z"/>
<path color=#700000 d="M634 191l7 0-6-9-8 0z"/>
<path color=#7a0000 d="M626 192l8-1-7-9-8 1z"/>
<path color=#850000 d="M619 195l7-3-7-9-7 3z"/>
<path color=#920000 d="M611 199l8-4-7-9-8 4z"/>
<path color=#a00000 d="M603 204l8-5-7-9-8 6z"/>
<path color=#b00101 d="M596 211l7-7-7-8-7 6z"/>
<path color=#c60606 d="M588 219l8-8-7-9-8 8z"/>
<path color=#e12117 d="M580 227l8-8-7-9-7 9z"/>
<path color=#ff553a d="M573 237l7-10-6-8-8 10z"/>
<path color=#ff9667 d="M565 247l8-10-7-8-8 10z"/>
<path color=#4c4400 d="M504 310l8-1-7 1-8 4z"/>
<path color=#4c4400 d="M497 308l7 2-7 4-7 0z"/>
<path color=#4c4200 d="M489 304l8 4-7 6-8-2z"/>
<path color=#4c3e00 d="M481 298l8 6-7 8-7-5z"/>
<path color=#4c3900 d="M474 291l7 7-6 9-8-6z"/>
<path color=#4c3400 d="M466 284l8 7-7 10-8-7z"/>
<path color=#4c2e00 d="M459 277l7 7-7 10-7-6z"/>
<path color=#4c2900 d="M451 270l8 7-7 11-8-7z"/>
<path color=#4c2400 d="M443 265l8 5-7 11-8-5z"/>
<path color=#4c1f00 d="M436 260l7 5-7 11-7-5z"/>
<path color=#4c1700 d="M702 235l7 9-7-9-7-8z"/>
<path color=#4c1000 d="M694 228l8 7-7-8-8-9z"/>
<path color=#4f0a00 d="M686 220l8 8-7-10-7-7z"/>
<path color=#560500 d="M679 214l7 6-6-9-8-7z"/>
<path color=#5f0000 d="M671 209l8 5-7-10-8-5z"/>
<path color=#630000 d="M664 205l7 4-7-10-7-4z"/>
<path color=#690000 d="M656 202l8 3-7-10-8-3z"/>
<path color=#700000 d="M648 201l8 1-7-10-8-1z"/>
<path color=#790000 d="M641 201l7 0-7-10-7 0z"/>
<path color=#830000 d="M633 202l8-1-7-10-8 1z"/>
<path color=#8f0000 d="M625 205l8-3-7-10-7 3z"/>
<path color=#9b0000 d="M618 209l7-4-6-10-8 4z"/>
<path color=#a90000 d="M610 214l8-5-7-10-8 5z"/>
<path color=#b90000 d="M603 221l7-7-7-10-7 7z"/>
<path color=#c10d02 d="M595 228l8-7-7-10-8 8z"/>
<path color=#cc2208 d="M587 237l8-9-7-9-8 8z"/>
<path color=#e04319 d="M580 246l7-9-7-10-7 10z"/>
<path color=#ff7235 d="M572 256l8-10-7-9-8 10z"/>
<path color=#4c4100 d="M511 305l8 2-7 2-8 1z"/>
<path color=#4c4000 d="M504 302l7 3-7 5-7-2z"/>
<path color=#4c3c00 d="M496 296l8 6-7 6-8-4z"/>
<path color=#4c3700 d="M488 289l8 7-7 8-8-6z"/>
<path color=#4c3200 d="M481 281l7 8-7 9-7-7z"/>
<path color=#4c2c00 d="M473 274l8 7-7 10-8-7z"/>
<path color=#4c2600 d="M465 267l8 7-7 10-7-7z"/>
<path color=#4c2000 d="M458 260l7 7-6 10-8-7z"/>
<path color=#4c1b00 d="M450 254l8 6-7 10-8-5z"/>
<path color=#4c1700 d="M443 249l7 5-7 11-7-5z"/>
<path color=#4c2400 d="M716 253l8 8-7-8-8-9z"/>
<path color=#4c1d00 d="M709 245l7 8-7-9-7-9z"/>
<path color=#4c1700 d="M701 238l8 7-7-10-8-7z"/>
<path color=#501200 d="M693 231l8 7-7-10-8-8z"/>
<path color=#570d00 d="M686 225l7 6-7-11-7-6z"/>
<path color=#5f0800 d="M678 220l8 5-7-11-8-5z"/>
<path color=#690400 d="M670 216l8 4-7-11-7-4z"/>
<path color=#730000 d="M663 213l7 3-6-11-8-3z"/>
<path color=#7a0000 d="M655 212l8 1-7-11-8-1z"/>
<path color=#830000 d="M648 212l7 0-7-11-7 0z"/>
<path color=#8e0000 d="M640 213l8-1-7-11-8 1z"/>
<path color=#900 d="M632 216l8-3-7-11-8 3z"/>
<path color=#a60000 d="M625 220l7-4-7-11-7 4z"/>
<path color=#ae0700 d="M617 225l8-5-7-11-8 5z"/>
<path color=#b41000 d="M610 231l7-6-7-11-7 7z"/>
<path color=#ba1c00 d="M602 238l8-7-7-10-8 7z"/>
<path color=#c02c02 d="M594 247l8-9-7-10-8 9z"/>
<path color=#ca4208 d="M587 256l7-9-7-10-7 9z"/>
<path color=#4c4000 d="M526 305l7 1-7-1-7 2z"/>
<path color=#4c3f00 d="M518 301l8 4-7 2-8-2z"/>
<path color=#4c3b00 d="M510 296l8 5-7 4-7-3z"/>
<path color=#4c3700 d="M503 289l7 7-6 6-8-6z"/>
<path color=#4c3100 d="M495 281l8 8-7 7-8-7z"/>
<path color=#4e2c00 d="M488 273l7 8-7 8-7-8z"/>
<path color=#4e2500 d="M480 265l8 8-7 8-8-7z"/>
<path color=#4c1e00 d="M472 257l8 8-7 9-8-7z"/>
<path color=#4c1800 d="M465 250l7 7-7 10-7-7z"/>
<path color=#4c1300 d="M457 244l8 6-7 10-8-6z"/>
<path color=#4c0f00 d="M450 239l7 5-7 10-7-5z"/>
<path color=#4c2400 d="M715 256l8 7-7-10-7-8z"/>
<path color=#4e1f00 d="M708 249l7 7-6-11-8-7z"/>
<path color=#521a00 d="M700 242l8 7-7-11-8-7z"/>
<path color=#581600 d="M693 236l7 6-7-11-7-6z"/>
<path color=#601200 d="M685 231l8 5-7-11-8-5z"/>
<path color=#680f00 d="M677 227l8 4-7-11-8-4z"/>
<path color=#720c00 d="M670 225l7 2-7-11-7-3z"/>
<path color=#7c0a00 d="M662 224l8 1-7-12-8-1z"/>
<path color=#860900 d="M654 224l8 0-7-12-7 0z"/>
<path color=#900900 d="M647 225l7-1-6-12-8 1z"/>
<path color=#9a0c00 d="M639 227l8-2-7-12-8 3z"/>
<path color=#a21100 d="M632 231l7-4-7-11-7 4z"/>
<path color=#a91800 d="M624 236l8-5-7-11-8 5z"/>
<path color=#b02100 d="M616 243l8-7-7-11-7 6z"/>
<path color=#b52d00 d="M609 250l7-7-6-12-8 7z"/>
<path color=#b93b01 d="M601 258l8-8-7-12-8 9z"/>
<path color=#bf4d02 d="M594 266l7-8-7-11-7 9z"/>
<path color=#4c3f00 d="M533 303l7 3-7 0-7-1z"/>
<path color=#4c3c00 d="M525 298l8 5-7 2-8-4z"/>
<path color=#4c3700 d="M517 290l8 8-7 3-8-5z"/>
<path color=#4e3200 d="M510 282l7 8-7 6-7-7z"/>
<path color=#522e00 d="M502 273l8 9-7 7-8-8z"/>
<path color=#532700 d="M495 265l7 8-7 8-7-8z"/>
<path color=#511f00 d="M487 256l8 9-7 8-8-8z"/>
<path color=#4e1700 d="M479 248l8 8-7 9-8-8z"/>
<path color=#4c1100 d="M472 241l7 7-7 9-7-7z"/>
<path color=#4c0b00 d="M464 235l8 6-7 9-8-6z"/>
<path color=#4c0700 d="M457 230l7 5-7 9-7-5z"/>
<path color=#c72a00 d="M829 220l8-9-7 8-8 9z"/>
<path color=#ca3d00 d="M821 230l8-10-7 8-8 10z"/>
<path color=#cd5100 d="M814 241l7-11-7 8-7 10z"/>
<path color=#502800 d="M715 260l7 7-7-11-7-7z"/>
<path color=#542300 d="M707 254l8 6-7-11-8-7z"/>
<path color=#592000 d="M699 248l8 6-7-12-7-6z"/>
<path color=#601c00 d="M692 243l7 5-6-12-8-5z"/>
<path color=#681a00 d="M684 240l8 3-7-12-8-4z"/>
<path color=#711800 d="M677 237l7 3-7-13-7-2z"/>
<path color=#7a1700 d="M669 236l8 1-7-12-8-1z"/>
<path color=#841700 d="M661 236l8 0-7-12-8 0z"/>
<path color=#8e1900 d="M654 237l7-1-7-12-7 1z"/>
<path color=#971c00 d="M646 240l8-3-7-12-8 2z"/>
<path color=#9f2200 d="M639 243l7-3-7-13-7 4z"/>
<path color=#a62900 d="M631 248l8-5-7-12-8 5z"/>
<path color=#ac3300 d="M623 255l8-7-7-12-8 7z"/>
<path color=#b13f00 d="M616 262l7-7-7-12-7 7z"/>
<path color=#b54d00 d="M608 269l8-7-7-12-8 8z"/>
<path color=#b85c01 d="M600 277l8-8-7-11-7 8z"/>
<path color=#4c3e00 d="M539 302l8 5-7-1-7-3z"/>
<path color=#4c3a00 d="M532 294l7 8-6 1-8-5z"/>
<path color=#503600 d="M524 286l8 8-7 4-8-8z"/>
<path color=#563200 d="M517 276l7 10-7 4-7-8z"/>
<path color=#582b00 d="M509 267l8 9-7 6-8-9z"/>
<path color=#572200 d="M501 258l8 9-7 6-7-8z"/>
<path color=#541900 d="M494 249l7 9-6 7-8-9z"/>
<path color=#501100 d="M486 240l8 9-7 7-8-8z"/>
<path color=#4c0a00 d="M479 233l7 7-7 8-7-7z"/>
<path color=#4c0400 d="M471 227l8 6-7 8-8-6z"/>
<path color=#4c0000 d="M463 221l8 6-7 8-7-5z"/>
<path color=#cd1c00 d="M836 214l7-10-6 7-8 9z"/>
<path color=#cf2f00 d="M828 224l8-10-7 6-8 10z"/>
<path color=#d24400 d="M821 235l7-11-7 6-7 11z"/>
<path color=#d45b00 d="M813 247l8-12-7 6-8 11z"/>
<path color=#552d00 d="M714 266l8 6-7-12-8-6z"/>
<path color=#592a00 d="M706 260l8 6-7-12-8-6z"/>
<path color=#602700 d="M699 256l7 4-7-12-7-5z"/>
<path color=#682600 d="M691 252l8 4-7-13-8-3z"/>
<path color=#702500 d="M683 250l8 2-7-12-7-3z"/>
<path color=#7a2500 d="M676 248l7 2-6-13-8-1z"/>
<path color=#832600 d="M668 248l8 0-7-12-8 0z"/>
<path color=#8d2900 d="M661 250l7-2-7-12-7 1z"/>
<path color=#952d00 d="M653 252l8-2-7-13-8 3z"/>
<path color=#9d3300 d="M645 256l8-4-7-12-7 3z"/>
<path color=#a43c00 d="M638 261l7-5-6-13-8 5z"/>
<path color=#a94600 d="M630 267l8-6-7-13-8 7z"/>
<path color=#ae5100 d="M623 274l7-7-7-12-7 7z"/>
<path color=#b15f00 d="M615 281l8-7-7-12-8 7z"/>
<path color=#b46d00 d="M607 289l8-8-7-12-8 8z"/>
<path color=#4c4200 d="M554 308l8 5-7-3-8-3z"/>
<path color=#4c3d00 d="M546 300l8 8-7-1-8-5z"/>
<path color=#523b00 d="M539 291l7 9-7 2-7-8z"/>
<path color=#5a3800 d="M531 282l8 9-7 3-8-8z"/>
<path color=#5d3100 d="M524 271l7 11-7 4-7-10z"/>
<path color=#5d2800 d="M516 261l8 10-7 5-8-9z"/>
<path color=#5b1e00 d="M508 251l8 10-7 6-8-9z"/>
<path color=#581400 d="M501 242l7 9-7 7-7-9z"/>
<path color=#520b00 d="M493 233l8 9-7 7-8-9z"/>
<path color=#4c0400 d="M485 226l8 7-7 7-7-7z"/>
<path color=#4b0000 d="M478 219l7 7-6 7-8-6z"/>
<path color=#460000 d="M470 214l8 5-7 8-8-6z"/>
<path color=#cb0000 d="M850 198l8-9-7 6-8 9z"/>
<path color=#d20e00 d="M843 208l7-10-7 6-7 10z"/>
<path color=#d42200 d="M835 219l8-11-7 6-8 10z"/>
<path color=#d63900 d="M828 231l7-12-7 5-7 11z"/>
<path color=#d85000 d="M820 243l8-12-7 4-8 12z"/>
<path color=#5a3400 d="M713 273l8 6-7-13-8-6z"/>
<path color=#603300 d="M706 268l7 5-7-13-7-4z"/>
<path color=#683200 d="M698 265l8 3-7-12-8-4z"/>
<path color=#703200 d="M690 262l8 3-7-13-8-2z"/>
<path color=#7a3300 d="M683 261l7 1-7-12-7-2z"/>
<path color=#833500 d="M675 261l8 0-7-13-8 0z"/>
<path color=#8d3900 d="M668 262l7-1-7-13-7 2z"/>
<path color=#953e00 d="M660 265l8-3-7-12-8 2z"/>
<path color=#9d4500 d="M652 268l8-3-7-13-8 4z"/>
<path color=#a34e00 d="M645 273l7-5-7-12-7 5z"/>
<path color=#a95900 d="M637 279l8-6-7-12-8 6z"/>
<path color=#ad6500 d="M629 286l8-7-7-12-7 7z"/>
<path color=#af7200 d="M622 294l7-8-6-12-8 7z"/>
<path color=#b17f00 d="M614 302l8-8-7-13-8 8z"/>
<path color=#4c4300 d="M561 309l7 7-6-3-8-5z"/>
<path color=#544200 d="M553 299l8 10-7-1-8-8z"/>
<path color=#5d4100 d="M546 289l7 10-7 1-7-9z"/>
<path color=#613a00 d="M538 278l8 11-7 2-8-9z"/>
<path color=#622f00 d="M530 267l8 11-7 4-7-11z"/>
<path color=#612400 d="M523 256l7 11-6 4-8-10z"/>
<path color=#5f1900 d="M515 246l8 10-7 5-8-10z"/>
<path color=#5a0f00 d="M508 236l7 10-7 5-7-9z"/>
<path color=#550600 d="M500 228l8 8-7 6-8-9z"/>
<path color=#4c0000 d="M492 220l8 8-7 5-8-7z"/>
<path color=#450000 d="M485 213l7 7-7 6-7-7z"/>
<path color=#400000 d="M477 208l8 5-7 6-8-5z"/>
<path color=#b20000 d="M865 184l7-8-6 5-8 8z"/>
<path color=#c40000 d="M857 193l8-9-7 5-8 9z"/>
<path color=#d70200 d="M850 204l7-11-7 5-7 10z"/>
<path color=#d91700 d="M842 215l8-11-7 4-8 11z"/>
<path color=#da2e00 d="M834 227l8-12-7 4-7 12z"/>
<path color=#db4700 d="M827 239l7-12-6 4-8 12z"/>
<path color=#dc6100 d="M819 252l8-13-7 4-8 12z"/>
<path color=#683e00 d="M705 277l8 4-7-13-8-3z"/>
<path color=#713f00 d="M697 274l8 3-7-12-8-3z"/>
<path color=#7b4100 d="M690 273l7 1-7-12-7-1z"/>
<path color=#854500 d="M682 273l8 0-7-12-8 0z"/>
<path color=#8e4a00 d="M674 274l8-1-7-12-7 1z"/>
<path color=#975000 d="M667 277l7-3-6-12-8 3z"/>
<path color=#9f5900 d="M659 281l8-4-7-12-8 3z"/>
<path color=#a56200 d="M652 286l7-5-7-13-7 5z"/>
<path color=#aa6d00 d="M644 292l8-6-7-13-8 6z"/>
<path color=#ad7900 d="M636 299l8-7-7-13-8 7z"/>
<path color=#b08600 d="M629 306l7-7-7-13-7 8z"/>
<path color=#b09300 d="M621 314l8-8-7-12-8 8z"/>
<path color=#4c4900 d="M575 319l8 7-7-5-8-5z"/>
<path color=#554b00 d="M568 309l7 10-7-3-7-7z"/>
<path color=#604b00 d="M560 298l8 11-7 0-8-10z"/>
<path color=#654400 d="M553 287l7 11-7 1-7-10z"/>
<path color=#673900 d="M545 275l8 12-7 2-8-11z"/>
<path color=#672d00 d="M537 264l8 11-7 3-8-11z"/>
<path color=#652100 d="M530 252l7 12-7 3-7-11z"/>
<path color=#621500 d="M522 242l8 10-7 4-8-10z"/>
<path color=#5d0a00 d="M514 232l8 10-7 4-7-10z"/>
<path color=#570100 d="M507 223l7 9-6 4-8-8z"/>
<path color=#490000 d="M499 215l8 8-7 5-8-8z"/>
<path color=#400000 d="M492 208l7 7-7 5-7-7z"/>
<path color=#3b0000 d="M484 202l8 6-7 5-8-5z"/>
<path color=#9b0000 d="M879 172l8-7-7 4-8 7z"/>
<path color=#ac0000 d="M872 180l7-8-7 4-7 8z"/>
<path color=#bf0000 d="M864 190l8-10-7 4-8 9z"/>
<path color=#d40000 d="M857 200l7-10-7 3-7 11z"/>
<path color=#dc0e00 d="M849 212l8-12-7 4-8 11z"/>
<path color=#dd2600 d="M841 224l8-12-7 3-8 12z"/>
<path color=#dd3f00 d="M834 237l7-13-7 3-7 12z"/>
<path color=#de5a00 d="M826 250l8-13-7 2-8 13z"/>
<path color=#724c00 d="M704 285l8 3-7-11-8-3z"/>
<path color=#7d5000 d="M697 284l7 1-7-11-7-1z"/>
<path color=#850 d="M689 284l8 0-7-11-8 0z"/>
<path color=#935c00 d="M681 285l8-1-7-11-8 1z"/>
<path color=#9c6400 d="M674 288l7-3-7-11-7 3z"/>
<path color=#a46d00 d="M666 292l8-4-7-11-8 4z"/>
<path color=#aa7800 d="M658 297l8-5-7-11-7 5z"/>
<path color=#af8400 d="M651 303l7-6-6-11-8 6z"/>
<path color=#b29000 d="M643 311l8-8-7-11-8 7z"/>
<path color=#b39d00 d="M636 319l7-8-7-12-7 7z"/>
<path color=#565500 d="M582 321l8 10-7-5-8-7z"/>
<path color=#635800 d="M575 310l7 11-7-2-7-10z"/>
<path color=#695100 d="M567 298l8 12-7-1-8-11z"/>
<path color=#6b4600 d="M559 286l8 12-7 0-7-11z"/>
<path color=#6b3900 d="M552 273l7 13-6 1-8-12z"/>
<path color=#6a2b00 d="M544 261l8 12-7 2-8-11z"/>
<path color=#681e00 d="M537 250l7 11-7 3-7-12z"/>
<path color=#641100 d="M529 239l8 11-7 2-8-10z"/>
<path color=#5f0600 d="M521 228l8 11-7 3-8-10z"/>
<path color=#500 d="M514 219l7 9-7 4-7-9z"/>
<path color=#460000 d="M506 211l8 8-7 4-8-8z"/>
<path color=#3d0000 d="M498 204l8 7-7 4-7-7z"/>
<path color=#370000 d="M491 198l7 6-6 4-8-6z"/>
<path color=#980000 d="M886 169l8-7-7 3-8 7z"/>
<path color=#a80000 d="M879 178l7-9-7 3-7 8z"/>
<path color=#b00 d="M871 187l8-9-7 2-8 10z"/>
<path color=#cf0000 d="M863 198l8-11-7 3-7 10z"/>
<path color=#df0700 d="M856 210l7-12-6 2-8 12z"/>
<path color=#df1f00 d="M848 222l8-12-7 2-8 12z"/>
<path color=#df3a00 d="M841 235l7-13-7 2-7 13z"/>
<path color=#df5500 d="M833 249l8-14-7 2-8 13z"/>
<path color=#df7200 d="M825 263l8-14-7 1-8 14z"/>
<path color=#8f6700 d="M696 293l7 0-6-9-8 0z"/>
<path color=#9c7000 d="M688 295l8-2-7-9-8 1z"/>
<path color=#a67a00 d="M681 297l7-2-7-10-7 3z"/>
<path color=#af8500 d="M673 301l8-4-7-9-8 4z"/>
<path color=#b59100 d="M665 307l8-6-7-9-8 5z"/>
<path color=#b99e00 d="M658 314l7-7-7-10-7 6z"/>
<path color=#bbab00 d="M650 321l8-7-7-11-8 8z"/>
<path color=#bbb801 d="M642 330l8-9-7-10-7 8z"/>
<path color=#4b550a d="M597 335l7 10-6-7-8-7z"/>
<path color=#636501 d="M589 323l8 12-7-4-8-10z"/>
<path color=#6c6000 d="M582 311l7 12-7-2-7-11z"/>
<path color=#6e5500 d="M574 298l8 13-7-1-8-12z"/>
<path color=#6f4700 d="M566 285l8 13-7 0-8-12z"/>
<path color=#6e3800 d="M559 272l7 13-7 1-7-13z"/>
<path color=#6d2a00 d="M551 260l8 12-7 1-8-12z"/>
<path color=#6a1b00 d="M543 248l8 12-7 1-7-11z"/>
<path color=#660e00 d="M536 237l7 11-6 2-8-11z"/>
<path color=#610300 d="M528 226l8 11-7 2-8-11z"/>
<path color=#540000 d="M521 217l7 9-7 2-7-9z"/>
<path color=#400 d="M513 209l8 8-7 2-8-8z"/>
<path color=#3a0000 d="M505 202l8 7-7 2-8-7z"/>
<path color=#350000 d="M498 196l7 6-7 2-7-6z"/>
<path color=#950000 d="M893 168l8-7-7 1-8 7z"/>
<path color=#a60000 d="M886 176l7-8-7 1-7 9z"/>
<path color=#b80000 d="M878 186l8-10-7 2-8 9z"/>
<path color=#cd0000 d="M870 197l8-11-7 1-8 11z"/>
<path color=#e10200 d="M863 209l7-12-7 1-7 12z"/>
<path color=#e11b00 d="M855 221l8-12-7 1-8 12z"/>
<path color=#e03600 d="M847 234l8-13-7 1-7 13z"/>
<path color=#df5200 d="M840 248l7-14-6 1-8 14z"/>
<path color=#df6f00 d="M832 263l8-15-7 1-8 14z"/>
<path color=#b99500 d="M687 304l8-3-7-6-7 2z"/>
<path color=#c2a200 d="M680 308l7-4-6-7-8 4z"/>
<path color=#c8af00 d="M672 314l8-6-7-7-8 6z"/>
<path color=#cfc104 d="M665 321l7-7-7-7-7 7z"/>
<path color=#dbda0f d="M657 329l8-8-7-7-8 7z"/>
<path color=#3e5416 d="M611 350l8 10-7-9-8-6z"/>
<path color=#576710 d="M604 338l7 12-7-5-7-10z"/>
<path color=#6a6e03 d="M596 325l8 13-7-3-8-12z"/>
<path color=#716600 d="M588 311l8 14-7-2-7-12z"/>
<path color=#725700 d="M581 298l7 13-6 0-8-13z"/>
<path color=#724800 d="M573 285l8 13-7 0-8-13z"/>
<path color=#703800 d="M566 271l7 14-7 0-7-13z"/>
<path color=#6e2800 d="M558 259l8 12-7 1-8-12z"/>
<path color=#6b1a00 d="M550 247l8 12-7 1-8-12z"/>
<path color=#670c00 d="M543 236l7 11-7 1-7-11z"/>
<path color=#620100 d="M535 225l8 11-7 1-8-11z"/>
<path color=#520000 d="M527 216l8 9-7 1-7-9z"/>
<path color=#430000 d="M520 207l7 9-6 1-8-8z"/>
<path color=#380000 d="M512 200l8 7-7 2-8-7z"/>
<path color=#300 d="M505 195l7 5-7 2-7-6z"/>
<path color=#940000 d="M900 168l8-7-7 0-8 7z"/>
<path color=#a40000 d="M892 177l8-9-7 0-7 8z"/>
<path color=#b70000 d="M885 186l7-9-6-1-8 10z"/>
<path color=#cb0000 d="M877 197l8-11-7 0-8 11z"/>
<path color=#e20000 d="M870 209l7-12-7 0-7 12z"/>
<path color=#e21900 d="M862 221l8-12-7 0-8 12z"/>
<path color=#e13400 d="M854 235l8-14-7 0-8 13z"/>
<path color=#e05000 d="M847 249l7-14-7-1-7 14z"/>
<path color=#e06e01 d="M839 263l8-14-7-1-8 15z"/>
<path color=#405e1e d="M771 342l7 11-7-7-7-8z"/>
<path color=#465a13 d="M763 333l8 9-7-4-8-9z"/>
<path color=#48520a d="M755 325l8 8-7-4-8-8z"/>
<path color=#494c03 d="M748 317l7 8-7-4-7-7z"/>
<path color=#4c4a00 d="M740 312l8 5-7-3-8-5z"/>
<path color=#4c4600 d="M732 307l8 5-7-3-7-5z"/>
<path color=#4b6c21 d="M618 352l8 13-7-5-8-10z"/>
<path color=#5d7014 d="M611 339l7 13-7-2-7-12z"/>
<path color=#6e7205 d="M603 326l8 13-7-1-8-13z"/>
<path color=#736800 d="M595 312l8 14-7-1-8-14z"/>
<path color=#735800 d="M588 298l7 14-7-1-7-13z"/>
<path color=#734800 d="M580 285l8 13-7 0-8-13z"/>
<path color=#713700 d="M572 272l8 13-7 0-7-14z"/>
<path color=#6f2800 d="M565 259l7 13-6-1-8-12z"/>
<path color=#6c1900 d="M557 247l8 12-7 0-8-12z"/>
<path color=#680b00 d="M550 236l7 11-7 0-7-11z"/>
<path color=#620000 d="M542 225l8 11-7 0-8-11z"/>
<path color=#520000 d="M534 216l8 9-7 0-8-9z"/>
<path color=#420000 d="M527 207l7 9-7 0-7-9z"/>
<path color=#370000 d="M519 200l8 7-7 0-8-7z"/>
<path color=#320000 d="M512 195l7 5-7 0-7-5z"/>
<path color=#940000 d="M907 169l7-7-6-1-8 7z"/>
<path color=#a40000 d="M899 178l8-9-7-1-8 9z"/>
<path color=#b70000 d="M892 187l7-9-7-1-7 9z"/>
<path color=#cc0101 d="M884 198l8-11-7-1-8 11z"/>
<path color=#e30202 d="M876 210l8-12-7-1-7 12z"/>
<path color=#e41b02 d="M869 222l7-12-6-1-8 12z"/>
<path color=#e33603 d="M861 236l8-14-7-1-8 14z"/>
<path color=#e25203 d="M854 250l7-14-7-1-7 14z"/>
<path color=#e16f02 d="M846 264l8-14-7-1-8 14z"/>
<path color=#e18d02 d="M838 279l8-15-7-1-8 15z"/>
<path color=#2f5021 d="M785 348l8 5-7 11-8-11z"/>
<path color=#405e1e d="M777 339l8 9-7 5-7-11z"/>
<path color=#465a13 d="M770 331l7 8-6 3-8-9z"/>
<path color=#48520a d="M762 323l8 8-7 2-8-8z"/>
<path color=#494c03 d="M755 316l7 7-7 2-7-8z"/>
<path color=#4c4a00 d="M747 310l8 6-7 1-8-5z"/>
<path color=#4c4600 d="M739 306l8 4-7 2-8-5z"/>
<path color=#4c4300 d="M732 303l7 3-7 1-7-3z"/>
<path color=#4c4100 d="M724 301l8 2-7 1-8-2z"/>
<path color=#4c4000 d="M716 301l8 0-7 1-7 0z"/>
<path color=#305222 d="M633 362l7 4-7 11-7-12z"/>
<path color=#4b6c21 d="M625 351l8 11-7 3-8-13z"/>
<path color=#5d7014 d="M617 339l8 12-7 1-7-13z"/>
<path color=#6e7205 d="M610 326l7 13-6 0-8-13z"/>
<path color=#736800 d="M602 313l8 13-7 0-8-14z"/>
<path color=#735800 d="M595 299l7 14-7-1-7-14z"/>
<path color=#734800 d="M587 286l8 13-7-1-8-13z"/>
<path color=#713700 d="M579 273l8 13-7-1-8-13z"/>
<path color=#6f2800 d="M572 260l7 13-7-1-7-13z"/>
<path color=#6c1900 d="M564 248l8 12-7-1-8-12z"/>
<path color=#680b00 d="M556 237l8 11-7-1-7-11z"/>
<path color=#620000 d="M549 226l7 11-6-1-8-11z"/>
<path color=#520000 d="M541 217l8 9-7-1-8-9z"/>
<path color=#420000 d="M534 209l7 8-7-1-7-9z"/>
<path color=#370000 d="M526 202l8 7-7-2-8-7z"/>
<path color=#320000 d="M519 196l7 6-7-2-7-5z"/>
<path color=#950000 d="M914 172l7-7-7-3-7 7z"/>
<path color=#a70202 d="M906 180l8-8-7-3-8 9z"/>
<path color=#bd0505 d="M899 190l7-10-7-2-7 9z"/>
<path color=#d60a0a d="M891 201l8-11-7-3-8 11z"/>
<path color=#ef0f0d d="M883 212l8-11-7-3-8 12z"/>
<path color=#ef290e d="M876 225l7-13-7-2-7 12z"/>
<path color=#ed430d d="M868 238l8-13-7-3-8 14z"/>
<path color=#ea5c0b d="M860 252l8-14-7-2-7 14z"/>
<path color=#e77608 d="M853 266l7-14-6-2-8 14z"/>
<path color=#e49105 d="M845 280l8-14-7-2-8 15z"/>
<path color=#344c19 d="M800 342l7-2-7 7-7 6z"/>
<path color=#354c18 d="M792 338l8 4-7 11-8-5z"/>
<path color=#3b4d12 d="M784 331l8 7-7 10-8-9z"/>
<path color=#44500c d="M777 323l7 8-7 8-7-8z"/>
<path color=#474c05 d="M769 316l8 7-7 8-8-8z"/>
<path color=#4c4c00 d="M761 310l8 6-7 7-7-7z"/>
<path color=#4c4700 d="M754 304l7 6-6 6-8-6z"/>
<path color=#4c4300 d="M746 300l8 4-7 6-8-4z"/>
<path color=#4c4000 d="M739 297l7 3-7 6-7-3z"/>
<path color=#4c3e00 d="M731 296l8 1-7 6-8-2z"/>
<path color=#4c3d00 d="M723 296l8 0-7 5-8 0z"/>
<path color=#4c3d00 d="M716 297l7-1-7 5-7 1z"/>
<path color=#4c3e00 d="M708 300l8-3-7 5-8 3z"/>
<path color=#4c4000 d="M701 304l7-4-7 5-7 4z"/>
<path color=#4c4300 d="M693 310l8-6-7 5-8 6z"/>
<path color=#3a4c12 d="M655 349l7-8-6 8-8 10z"/>
<path color=#354c18 d="M647 355l8-6-7 10-8 7z"/>
<path color=#344c19 d="M640 354l7 1-7 11-7-4z"/>
<path color=#3e5416 d="M632 348l8 6-7 8-8-11z"/>
<path color=#576710 d="M624 338l8 10-7 3-8-12z"/>
<path color=#6a6e03 d="M617 326l7 12-7 1-7-13z"/>
<path color=#716600 d="M609 313l8 13-7 0-8-13z"/>
<path color=#725700 d="M601 300l8 13-7 0-7-14z"/>
<path color=#724800 d="M594 287l7 13-6-1-8-13z"/>
<path color=#703800 d="M586 275l8 12-7-1-8-13z"/>
<path color=#6e2800 d="M579 262l7 13-7-2-7-13z"/>
<path color=#6b1a00 d="M571 250l8 12-7-2-8-12z"/>
<path color=#670c00 d="M563 239l8 11-7-2-8-11z"/>
<path color=#620100 d="M556 229l7 10-7-2-7-11z"/>
<path color=#520000 d="M548 220l8 9-7-3-8-9z"/>
<path color=#430000 d="M541 211l7 9-7-3-7-8z"/>
<path color=#380000 d="M533 204l8 7-7-2-8-7z"/>
<path color=#300 d="M525 199l8 5-7-2-7-6z"/>
<path color=#990101 d="M921 176l7-7-7-4-7 7z"/>
<path color=#b00707 d="M913 184l8-8-7-4-8 8z"/>
<path color=#d11616 d="M905 194l8-10-7-4-7 10z"/>
<path color=#f62626 d="M898 204l7-10-6-4-8 11z"/>
<path color=#ff3731 d="M890 216l8-12-7-3-8 11z"/>
<path color=#ff5132 d="M883 228l7-12-7-4-7 13z"/>
<path color=#ff652b d="M875 241l8-13-7-3-8 13z"/>
<path color=#ff7621 d="M867 254l8-13-7-3-8 14z"/>
<path color=#f48615 d="M860 268l7-14-7-2-7 14z"/>
<path color=#e9990a d="M852 281l8-13-7-2-8 14z"/>
<path color=#3e4c0f d="M814 331l8-4-7 5-8 8z"/>
<path color=#3c4c11 d="M806 331l8 0-7 9-7 2z"/>
<path color=#3e4c0f d="M799 327l7 4-6 11-8-4z"/>
<path color=#424c0a d="M791 321l8 6-7 11-8-7z"/>
<path color=#484c05 d="M784 314l7 7-7 10-7-8z"/>
<path color=#4c4b00 d="M776 307l8 7-7 9-8-7z"/>
<path color=#4c4600 d="M768 301l8 6-7 9-8-6z"/>
<path color=#4c4100 d="M761 296l7 5-7 9-7-6z"/>
<path color=#4c3d00 d="M753 292l8 4-7 8-8-4z"/>
<path color=#4c3a00 d="M745 289l8 3-7 8-7-3z"/>
<path color=#4c3800 d="M738 288l7 1-6 8-8-1z"/>
<path color=#4c3700 d="M730 288l8 0-7 8-8 0z"/>
<path color=#4c3700 d="M723 289l7-1-7 8-7 1z"/>
<path color=#4c3800 d="M715 292l8-3-7 8-8 3z"/>
<path color=#4c3a00 d="M707 296l8-4-7 8-7 4z"/>
<path color=#4c3d00 d="M700 301l7-5-6 8-8 6z"/>
<path color=#4c4100 d="M692 308l8-7-7 9-8 6z"/>
<path color=#4c4600 d="M685 315l7-7-7 8-7 8z"/>
<path color=#4c4b00 d="M677 323l8-8-7 9-8 8z"/>
<path color=#484c05 d="M669 331l8-8-7 9-8 9z"/>
<path color=#424c0a d="M662 338l7-7-7 10-7 8z"/>
<path color=#3e4c0f d="M654 344l8-6-7 11-8 6z"/>
<path color=#3c4c11 d="M646 345l8-1-7 11-7-1z"/>
<path color=#3e4c0f d="M639 342l7 3-6 9-8-6z"/>
<path color=#4b550a d="M631 335l8 7-7 6-8-10z"/>
<path color=#636501 d="M624 325l7 10-7 3-7-12z"/>
<path color=#6c6000 d="M616 314l8 11-7 1-8-13z"/>
<path color=#6e5500 d="M608 302l8 12-7-1-8-13z"/>
<path color=#6f4700 d="M601 290l7 12-7-2-7-13z"/>
<path color=#6e3800 d="M593 277l8 13-7-3-8-12z"/>
<path color=#6d2a00 d="M586 265l7 12-7-2-7-13z"/>
<path color=#6a1b00 d="M578 254l8 11-7-3-8-12z"/>
<path color=#660e00 d="M570 243l8 11-7-4-8-11z"/>
<path color=#610300 d="M563 233l7 10-7-4-7-10z"/>
<path color=#540000 d="M555 223l8 10-7-4-8-9z"/>
<path color=#400 d="M547 215l8 8-7-3-7-9z"/>
<path color=#3a0000 d="M540 208l7 7-6-4-8-7z"/>
<path color=#350000 d="M532 203l8 5-7-4-8-5z"/>
<path color=#9d0202 d="M928 181l7-7-7-5-7 7z"/>
<path color=#b80c0c d="M920 189l8-8-7-5-8 8z"/>
<path color=#e52626 d="M912 199l8-10-7-5-8 10z"/>
<path color=#ff4848 d="M905 209l7-10-7-5-7 10z"/>
<path color=#ff7062 d="M897 220l8-11-7-5-8 12z"/>
<path color=#ff906a d="M890 232l7-12-7-4-7 12z"/>
<path color=#ff9f60 d="M882 245l8-13-7-4-8 13z"/>
<path color=#ffa449 d="M874 258l8-13-7-4-8 13z"/>
<path color=#ffa32d d="M867 271l7-13-7-4-7 14z"/>
<path color=#f3a513 d="M859 283l8-12-7-3-8 13z"/>
<path color=#444c09 d="M821 322l8-1-7 6-8 4z"/>
<path color=#444c09 d="M813 320l8 2-7 9-8 0z"/>
<path color=#474c06 d="M806 315l7 5-7 11-7-4z"/>
<path color=#4b4c01 d="M798 309l8 6-7 12-8-6z"/>
<path color=#4c4900 d="M790 303l8 6-7 12-7-7z"/>
<path color=#4c4300 d="M783 297l7 6-6 11-8-7z"/>
<path color=#4c3e00 d="M775 291l8 6-7 10-8-6z"/>
<path color=#4c3a00 d="M768 286l7 5-7 10-7-5z"/>
<path color=#4c3600 d="M760 282l8 4-7 10-8-4z"/>
<path color=#4c3300 d="M752 280l8 2-7 10-8-3z"/>
<path color=#4c3100 d="M745 278l7 2-7 9-7-1z"/>
<path color=#4c3000 d="M737 278l8 0-7 10-8 0z"/>
<path color=#4c3000 d="M730 280l7-2-7 10-7 1z"/>
<path color=#4c3100 d="M722 282l8-2-7 9-8 3z"/>
<path color=#4c3300 d="M714 286l8-4-7 10-8 4z"/>
<path color=#4c3600 d="M707 291l7-5-7 10-7 5z"/>
<path color=#4c3a00 d="M699 297l8-6-7 10-8 7z"/>
<path color=#4c3e00 d="M691 304l8-7-7 11-7 7z"/>
<path color=#4c4300 d="M684 312l7-8-6 11-8 8z"/>
<path color=#4c4900 d="M676 320l8-8-7 11-8 8z"/>
<path color=#4b4c01 d="M669 327l7-7-7 11-7 7z"/>
<path color=#474c06 d="M661 333l8-6-7 11-8 6z"/>
<path color=#444c09 d="M653 336l8-3-7 11-8 1z"/>
<path color=#444c09 d="M646 336l7 0-7 9-7-3z"/>
<path color=#474c05 d="M638 332l8 4-7 6-8-7z"/>
<path color=#565500 d="M630 324l8 8-7 3-7-10z"/>
<path color=#635800 d="M623 315l7 9-6 1-8-11z"/>
<path color=#695100 d="M615 304l8 11-7-1-8-12z"/>
<path color=#6b4600 d="M608 292l7 12-7-2-7-12z"/>
<path color=#6b3900 d="M600 281l8 11-7-2-8-13z"/>
<path color=#6a2b00 d="M592 269l8 12-7-4-7-12z"/>
<path color=#681e00 d="M585 258l7 11-6-4-8-11z"/>
<path color=#400 d="M539 208l8 5-7-5-8-5z"/>
<path color=#a20101 d="M934 188l8-7-7-7-7 7z"/>
<path color=#bb0909 d="M927 196l7-8-6-7-8 8z"/>
<path color=#e62222 d="M919 205l8-9-7-7-8 10z"/>
<path color=#ff4d4b d="M912 215l7-10-7-6-7 10z"/>
<path color=#ff8d75 d="M904 226l8-11-7-6-8 11z"/>
<path color=#ffbf91 d="M896 237l8-11-7-6-7 12z"/>
<path color=#ffda93 d="M889 249l7-12-6-5-8 13z"/>
<path color=#ffdc7b d="M881 262l8-13-7-4-8 13z"/>
<path color=#ffcb4f d="M874 274l7-12-7-4-7 13z"/>
<path color=#ffb51f d="M866 286l8-12-7-3-8 12z"/>
<path color=#e6b503 d="M858 296l8-10-7-3-8 12z"/>
<path color=#4c4c01 d="M835 314l8-3-7 4-7 6z"/>
<path color=#4a4c02 d="M828 313l7 1-6 7-8 1z"/>
<path color=#4c4c01 d="M820 310l8 3-7 9-8-2z"/>
<path color=#4c4a00 d="M813 305l7 5-7 10-7-5z"/>
<path color=#4c4500 d="M805 298l8 7-7 10-8-6z"/>
<path color=#4c4000 d="M797 292l8 6-7 11-8-6z"/>
<path color=#4c3a00 d="M790 285l7 7-7 11-7-6z"/>
<path color=#4c3600 d="M782 280l8 5-7 12-8-6z"/>
<path color=#4c3100 d="M775 275l7 5-7 11-7-5z"/>
<path color=#4c2d00 d="M767 271l8 4-7 11-8-4z"/>
<path color=#4c2b00 d="M759 269l8 2-7 11-8-2z"/>
<path color=#4c2900 d="M752 268l7 1-7 11-7-2z"/>
<path color=#4c2800 d="M744 268l8 0-7 10-8 0z"/>
<path color=#4c2800 d="M736 269l8-1-7 10-7 2z"/>
<path color=#4c2900 d="M729 272l7-3-6 11-8 2z"/>
<path color=#4c2b00 d="M721 275l8-3-7 10-8 4z"/>
<path color=#4c2d00 d="M714 280l7-5-7 11-7 5z"/>
<path color=#4c3100 d="M706 286l8-6-7 11-8 6z"/>
<path color=#4c3600 d="M698 293l8-7-7 11-8 7z"/>
<path color=#4c3a00 d="M691 301l7-8-7 11-7 8z"/>
<path color=#4c4000 d="M683 309l8-8-7 11-8 8z"/>
<path color=#4c4500 d="M675 316l8-7-7 11-7 7z"/>
<path color=#4c4a00 d="M668 323l7-7-6 11-8 6z"/>
<path color=#4c4c01 d="M660 327l8-4-7 10-8 3z"/>
<path color=#4a4c02 d="M653 329l7-2-7 9-7 0z"/>
<path color=#4c4c01 d="M645 328l8 1-7 7-8-4z"/>
<path color=#4c4900 d="M637 323l8 5-7 4-8-8z"/>
<path color=#554b00 d="M630 315l7 8-7 1-7-9z"/>
<path color=#604b00 d="M622 306l8 9-7 0-8-11z"/>
<path color=#654400 d="M615 296l7 10-7-2-7-12z"/>
<path color=#673900 d="M607 285l8 11-7-4-8-11z"/>
<path color=#672d00 d="M599 274l8 11-7-4-8-12z"/>
<path color=#652100 d="M592 263l7 11-7-5-7-11z"/>
<path color=#490000 d="M546 214l8 6-7-7-8-5z"/>
<path color=#a80000 d="M941 195l8-6-7-8-8 7z"/>
<path color=#bc0404 d="M934 203l7-8-7-7-7 8z"/>
<path color=#dc1111 d="M926 212l8-9-7-7-8 9z"/>
<path color=#ff3d2f d="M919 222l7-10-7-7-7 10z"/>
<path color=#ff7c5a d="M911 232l8-10-7-7-8 11z"/>
<path color=#ffbc84 d="M903 244l8-12-7-6-8 11z"/>
<path color=#ffed9d d="M896 255l7-11-7-7-7 12z"/>
<path color=#ffff97 d="M888 267l8-12-7-6-8 13z"/>
<path color=#ffed6a d="M880 278l8-11-7-5-7 12z"/>
<path color=#ffc225 d="M873 288l7-10-6-4-8 12z"/>
<path color=#e6b602 d="M865 297l8-9-7-2-8 10z"/>
<path color=#4c4900 d="M842 307l8 0-7 4-8 3z"/>
<path color=#4c4800 d="M835 305l7 2-7 7-7-1z"/>
<path color=#4c4600 d="M827 300l8 5-7 8-8-3z"/>
<path color=#4c4100 d="M819 294l8 6-7 10-7-5z"/>
<path color=#4c3c00 d="M812 287l7 7-6 11-8-7z"/>
<path color=#4c3700 d="M804 281l8 6-7 11-8-6z"/>
<path color=#4c3200 d="M797 274l7 7-7 11-7-7z"/>
<path color=#4c2d00 d="M789 269l8 5-7 11-8-5z"/>
<path color=#4c2800 d="M781 264l8 5-7 11-7-5z"/>
<path color=#4c2500 d="M774 260l7 4-6 11-8-4z"/>
<path color=#4c2200 d="M766 258l8 2-7 11-8-2z"/>
<path color=#4c2000 d="M759 256l7 2-7 11-7-1z"/>
<path color=#4c1f00 d="M751 256l8 0-7 12-8 0z"/>
<path color=#4c1f00 d="M743 258l8-2-7 12-8 1z"/>
<path color=#4c2000 d="M736 260l7-2-7 11-7 3z"/>
<path color=#4c2200 d="M728 264l8-4-7 12-8 3z"/>
<path color=#4c2500 d="M720 269l8-5-7 11-7 5z"/>
<path color=#4c2800 d="M713 275l7-6-6 11-8 6z"/>
<path color=#4c2d00 d="M705 282l8-7-7 11-8 7z"/>
<path color=#4c3200 d="M698 290l7-8-7 11-7 8z"/>
<path color=#4c3700 d="M690 298l8-8-7 11-8 8z"/>
<path color=#4c3c00 d="M682 306l8-8-7 11-8 7z"/>
<path color=#4c4100 d="M675 313l7-7-7 10-7 7z"/>
<path color=#4c4600 d="M667 319l8-6-7 10-8 4z"/>
<path color=#4c4800 d="M660 323l7-4-7 8-7 2z"/>
<path color=#4c4900 d="M652 324l8-1-7 6-8-1z"/>
<path color=#4c4700 d="M644 321l8 3-7 4-8-5z"/>
<path color=#4c4300 d="M637 316l7 5-7 2-7-8z"/>
<path color=#544200 d="M629 309l8 7-7-1-8-9z"/>
<path color=#5d4100 d="M621 300l8 9-7-3-7-10z"/>
<path color=#613a00 d="M614 290l7 10-6-4-8-11z"/>
<path color=#622f00 d="M606 280l8 10-7-5-8-11z"/>
<path color=#612400 d="M599 269l7 11-7-6-7-11z"/>
<path color=#4c0000 d="M560 227l8 7-7-7-7-7z"/>
<path color=#4f0000 d="M553 222l7 5-6-7-8-6z"/>
<path color=#b00000 d="M948 204l8-7-7-8-8 6z"/>
<path color=#c20101 d="M941 212l7-8-7-9-7 8z"/>
<path color=#cf1006 d="M933 220l8-8-7-9-8 9z"/>
<path color=#e02f14 d="M925 230l8-10-7-8-7 10z"/>
<path color=#fd5d2e d="M918 240l7-10-6-8-8 10z"/>
<path color=#ff9551 d="M910 251l8-11-7-8-8 12z"/>
<path color=#ffce73 d="M903 262l7-11-7-7-7 11z"/>
<path color=#fff381 d="M895 272l8-10-7-7-8 12z"/>
<path color=#ffed62 d="M887 282l8-10-7-5-8 11z"/>
<path color=#fcbe1c d="M880 291l7-9-7-4-7 10z"/>
<path color=#e5b700 d="M872 297l8-6-7-3-8 9z"/>
<path color=#4c4400 d="M857 303l7-1-6 1-8 4z"/>
<path color=#4c4400 d="M849 301l8 2-7 4-8 0z"/>
<path color=#4c4200 d="M842 297l7 4-7 6-7-2z"/>
<path color=#4c3e00 d="M834 291l8 6-7 8-8-5z"/>
<path color=#4c3900 d="M826 284l8 7-7 9-8-6z"/>
<path color=#4c3400 d="M819 277l7 7-7 10-7-7z"/>
<path color=#4c2e00 d="M811 270l8 7-7 10-8-6z"/>
<path color=#4c2900 d="M804 263l7 7-7 11-7-7z"/>
<path color=#4c2400 d="M796 258l8 5-7 11-8-5z"/>
<path color=#4c1f00 d="M788 253l8 5-7 11-8-5z"/>
<path color=#4c1c00 d="M781 249l7 4-7 11-7-4z"/>
<path color=#4c1900 d="M773 247l8 2-7 11-8-2z"/>
<path color=#4c1700 d="M765 245l8 2-7 11-7-2z"/>
<path color=#4c1600 d="M758 245l7 0-6 11-8 0z"/>
<path color=#4c1600 d="M750 247l8-2-7 11-8 2z"/>
<path color=#4c1700 d="M743 249l7-2-7 11-7 2z"/>
<path color=#4c1900 d="M735 253l8-4-7 11-8 4z"/>
<path color=#4c1c00 d="M727 258l8-5-7 11-8 5z"/>
<path color=#4c1f00 d="M720 264l7-6-7 11-7 6z"/>
<path color=#4c2400 d="M712 271l8-7-7 11-8 7z"/>
<path color=#4c2900 d="M704 279l8-8-7 11-7 8z"/>
<path color=#4c2e00 d="M697 287l7-8-6 11-8 8z"/>
<path color=#4c3400 d="M689 295l8-8-7 11-8 8z"/>
<path color=#4c3900 d="M682 304l7-9-7 11-7 7z"/>
<path color=#4c3e00 d="M674 311l8-7-7 9-8 6z"/>
<path color=#4c4200 d="M666 316l8-5-7 8-7 4z"/>
<path color=#4c4400 d="M659 319l7-3-6 7-8 1z"/>
<path color=#4c4400 d="M651 320l8-1-7 5-8-3z"/>
<path color=#4c4200 d="M644 317l7 3-7 1-7-5z"/>
<path color=#4c3d00 d="M636 311l8 6-7-1-8-7z"/>
<path color=#523b00 d="M628 304l8 7-7-2-8-9z"/>
<path color=#5a3800 d="M621 295l7 9-7-4-7-10z"/>
<path color=#5d3100 d="M613 286l8 9-7-5-8-10z"/>
<path color=#4d0400 d="M575 242l8 8-7-8-8-8z"/>
<path color=#530000 d="M567 236l8 6-7-8-8-7z"/>
<path color=#560000 d="M560 231l7 5-7-9-7-5z"/>
<path color=#b90000 d="M955 214l8-7-7-10-8 7z"/>
<path color=#bf0b00 d="M948 221l7-7-7-10-7 8z"/>
<path color=#c51b01 d="M940 230l8-9-7-9-8 8z"/>
<path color=#cd3006 d="M932 239l8-9-7-10-8 10z"/>
<path color=#db4d11 d="M925 249l7-10-7-9-7 10z"/>
<path color=#f07322 d="M917 259l8-10-7-9-8 11z"/>
<path color=#ff9e38 d="M909 269l8-10-7-8-7 11z"/>
<path color=#ffc246 d="M902 278l7-9-6-7-8 10z"/>
<path color=#ffc634 d="M894 287l8-9-7-6-8 10z"/>
<path color=#e6af08 d="M887 294l7-7-7-5-7 9z"/>
<path color=#e1b700 d="M879 298l8-4-7-3-8 6z"/>
<path color=#4c4100 d="M864 298l7 2-7 2-7 1z"/>
<path color=#4c4000 d="M856 295l8 3-7 5-8-2z"/>
<path color=#4c3c00 d="M848 289l8 6-7 6-7-4z"/>
<path color=#4c3700 d="M841 282l7 7-6 8-8-6z"/>
<path color=#4c3200 d="M833 274l8 8-7 9-8-7z"/>
<path color=#4c2c00 d="M826 267l7 7-7 10-7-7z"/>
<path color=#4c2600 d="M818 260l8 7-7 10-8-7z"/>
<path color=#4c2000 d="M810 253l8 7-7 10-7-7z"/>
<path color=#4c1b00 d="M803 247l7 6-6 10-8-5z"/>
<path color=#4c1700 d="M795 242l8 5-7 11-8-5z"/>
<path color=#4c1300 d="M788 238l7 4-7 11-7-4z"/>
<path color=#4c1000 d="M780 236l8 2-7 11-8-2z"/>
<path color=#4c0e00 d="M772 234l8 2-7 11-8-2z"/>
<path color=#4c0d00 d="M765 234l7 0-7 11-7 0z"/>
<path color=#4c0d00 d="M757 236l8-2-7 11-8 2z"/>
<path color=#4c0e00 d="M749 238l8-2-7 11-7 2z"/>
<path color=#4c1000 d="M742 242l7-4-6 11-8 4z"/>
<path color=#4c1300 d="M734 247l8-5-7 11-8 5z"/>
<path color=#4c1700 d="M727 253l7-6-7 11-7 6z"/>
<path color=#4c1b00 d="M719 261l8-8-7 11-8 7z"/>
<path color=#4c2000 d="M711 269l8-8-7 10-8 8z"/>
<path color=#4c2600 d="M704 277l7-8-7 10-7 8z"/>
<path color=#4c2c00 d="M696 286l8-9-7 10-8 8z"/>
<path color=#4c3200 d="M689 295l7-9-7 9-7 9z"/>
<path color=#4c3700 d="M681 303l8-8-7 9-8 7z"/>
<path color=#4c3c00 d="M673 310l8-7-7 8-8 5z"/>
<path color=#4c4000 d="M666 315l7-5-7 6-7 3z"/>
<path color=#4c4100 d="M658 318l8-3-7 4-8 1z"/>
<path color=#4c4100 d="M650 317l8 1-7 2-7-3z"/>
<path color=#4c3e00 d="M643 314l7 3-6 0-8-6z"/>
<path color=#4c3a00 d="M635 309l8 5-7-3-8-7z"/>
<path color=#503600 d="M628 301l7 8-7-5-7-9z"/>
<path color=#563200 d="M620 293l8 8-7-6-8-9z"/>
<path color=#4c1000 d="M589 259l8 8-7-9-7-8z"/>
<path color=#4f0a00 d="M582 252l7 7-6-9-8-8z"/>
<path color=#560500 d="M574 246l8 6-7-10-8-6z"/>
<path color=#5e0000 d="M567 241l7 5-7-10-7-5z"/>
<path color=#b41000 d="M962 224l8-6-7-11-8 7z"/>
<path color=#ba1c00 d="M954 232l8-8-7-10-7 7z"/>
<path color=#be2a00 d="M947 240l7-8-6-11-8 9z"/>
<path color=#c33b01 d="M939 249l8-9-7-10-8 9z"/>
<path color=#c95004 d="M932 258l7-9-7-10-7 10z"/>
<path color=#d2680a d="M924 267l8-9-7-9-8 10z"/>
<path color=#dd8311 d="M916 277l8-10-7-8-8 10z"/>
<path color=#e49b15 d="M909 285l7-8-7-8-7 9z"/>
<path color=#dfa40b d="M901 292l8-7-7-7-8 9z"/>
<path color=#daab00 d="M893 297l8-5-7-5-7 7z"/>
<path color=#d6b000 d="M886 299l7-2-6-3-8 4z"/>
<path color=#4c4000 d="M878 298l8 1-7-1-8 2z"/>
<path color=#4c3f00 d="M871 294l7 4-7 2-7-2z"/>
<path color=#4c3b00 d="M863 289l8 5-7 4-8-3z"/>
<path color=#4c3700 d="M855 282l8 7-7 6-8-6z"/>
<path color=#4c3100 d="M848 274l7 8-7 7-7-7z"/>
<path color=#4e2c00 d="M840 266l8 8-7 8-8-8z"/>
<path color=#4e2500 d="M833 258l7 8-7 8-7-7z"/>
<path color=#4c1e00 d="M825 250l8 8-7 9-8-7z"/>
<path color=#4c1800 d="M817 243l8 7-7 10-8-7z"/>
<path color=#4c1300 d="M810 237l7 6-7 10-7-6z"/>
<path color=#4c0e00 d="M802 232l8 5-7 10-8-5z"/>
<path color=#4c0b00 d="M794 228l8 4-7 10-7-4z"/>
<path color=#4c0800 d="M787 226l7 2-6 10-8-2z"/>
<path color=#4c0600 d="M779 224l8 2-7 10-8-2z"/>
<path color=#4c0500 d="M772 224l7 0-7 10-7 0z"/>
<path color=#4c0500 d="M764 225l8-1-7 10-8 2z"/>
<path color=#4c0600 d="M756 228l8-3-7 11-8 2z"/>
<path color=#4c0800 d="M749 232l7-4-7 10-7 4z"/>
<path color=#4c0b00 d="M741 237l8-5-7 10-8 5z"/>
<path color=#4c0e00 d="M733 243l8-6-7 10-7 6z"/>
<path color=#4c1300 d="M726 251l7-8-6 10-8 8z"/>
<path color=#4c1800 d="M718 259l8-8-7 10-8 8z"/>
<path color=#4c1e00 d="M711 268l7-9-7 10-7 8z"/>
<path color=#4c2400 d="M703 277l8-9-7 9-8 9z"/>
<path color=#4c2b00 d="M695 287l8-10-7 9-7 9z"/>
<path color=#c67e00 d="M688 296l7-9-6 8-8 8z"/>
<path color=#c99000 d="M680 304l8-8-7 7-8 7z"/>
<path color=#cd9f00 d="M673 311l7-7-7 6-7 5z"/>
<path color=#cea900 d="M665 316l8-5-7 4-8 3z"/>
<path color=#bd9e00 d="M657 318l8-2-7 2-8-1z"/>
<path color=#927800 d="M650 317l7 1-7-1-7-3z"/>
<path color=#4c3c00 d="M642 314l8 3-7-3-8-5z"/>
<path color=#563e00 d="M634 308l8 6-7-5-7-8z"/>
<path color=#4c3100 d="M627 301l7 7-6-7-8-8z"/>
<path color=#4c2b00 d="M619 293l8 8-7-8-8-9z"/>
<path color=#4c2400 d="M612 285l7 8-7-9-7-8z"/>
<path color=#4c1d00 d="M604 277l8 8-7-9-8-9z"/>
<path color=#4c1700 d="M596 269l8 8-7-10-8-8z"/>
<path color=#501200 d="M589 262l7 7-7-10-7-7z"/>
<path color=#570d00 d="M581 256l8 6-7-10-8-6z"/>
<path color=#5f0800 d="M574 251l7 5-7-10-7-5z"/>
</g>
<use href="#siu" filter="url(#fsiu)"/>
<g id="siil" class="sf" transform="scale(.5)">
<path color=#007993 d="M1560 368l8 2-6-3-9-1z"/>
<path color=#00a2c2 d="M1552 369l8-1-7-2-8 3z"/>
<path color=#00aed7 d="M1543 372l9-3-7 0-8 5z"/>
<path color=#00a4d7 d="M1535 378l8-6-6 2-8 7z"/>
<path color=#0093d3 d="M1527 385l8-7-6 3-8 8z"/>
<path color=#000a4c d="M1404 444l8 2-6 8-8-3z"/>
<path color=#000e4c d="M1396 440l8 4-6 7-9-3z"/>
<path color=#0095b2 d="M1314 400l8-1-6 0-9 0z"/>
<path color=#00afd5 d="M1306 404l8-4-7-1-8 2z"/>
<path color=#0cb8e7 d="M1297 411l9-7-7-3-8 5z"/>
<path color=#89ffff d="M1289 419l8-8-6-5-8 7z"/>
<path color=#dbffff d="M1281 428l8-9-6-6-8 8z"/>
<path color=#d9ffff d="M1273 437l8-9-6-7-9 9z"/>
<path color=#b4ffff d="M1265 447l8-10-7-7-8 9z"/>
<path color=#80cbff d="M1256 456l9-9-7-8-8 8z"/>
<path color=#4a82ff d="M1248 464l8-8-6-9-8 8z"/>
<path color=#1f47e0 d="M1240 472l8-8-6-9-8 8z"/>
<path color=#0923c4 d="M1232 479l8-7-6-9-9 6z"/>
<path color=#0110b7 d="M1224 485l8-6-7-10-8 6z"/>
<path color=#008ba7 d="M1558 369l8 1-6-2-8 1z"/>
<path color=#00aacb d="M1550 371l8-2-6 0-9 3z"/>
<path color=#00abd4 d="M1542 375l8-4-7 1-8 6z"/>
<path color=#009ed2 d="M1533 381l9-6-7 3-8 7z"/>
<path color=#00404c d="M1328 399l9 0-7 1-8-1z"/>
<path color=#00abcc d="M1320 402l8-3-6 0-8 1z"/>
<path color=#00b3dd d="M1312 408l8-6-6-2-8 4z"/>
<path color=#37ddff d="M1304 416l8-8-6-4-9 7z"/>
<path color=#afffff d="M1296 425l8-9-7-5-8 8z"/>
<path color=#deffff d="M1287 434l9-9-7-6-8 9z"/>
<path color=#e1ffff d="M1279 444l8-10-6-6-8 9z"/>
<path color=#d1ffff d="M1271 454l8-10-6-7-8 10z"/>
<path color=#b0ecff d="M1263 464l8-10-6-7-9 9z"/>
<path color=#7da6ff d="M1255 472l8-8-7-8-8 8z"/>
<path color=#445cff d="M1246 480l9-8-7-8-8 8z"/>
<path color=#1923da d="M1238 487l8-7-6-8-8 7z"/>
<path color=#0505bf d="M1230 494l8-7-6-8-8 6z"/>
<path color=#00accd d="M1548 373l8-3-6 1-8 4z"/>
<path color=#00a6d0 d="M1540 377l8-4-6 2-9 6z"/>
<path color=#00a1bd d="M1335 400l8-2-6 1-9 0z"/>
<path color=#00b6db d="M1327 405l8-5-7-1-8 3z"/>
<path color=#06b6e6 d="M1318 412l9-7-7-3-8 6z"/>
<path color=#55f3ff d="M1310 421l8-9-6-4-8 8z"/>
<path color=#a1ffff d="M1302 430l8-9-6-5-8 9z"/>
<path color=#c0ffff d="M1294 441l8-11-6-5-9 9z"/>
<path color=#d0ffff d="M1286 451l8-10-7-7-8 10z"/>
<path color=#d9ffff d="M1277 461l9-10-7-7-8 10z"/>
<path color=#d6ffff d="M1269 471l8-10-6-7-8 10z"/>
<path color=#bad5ff d="M1261 480l8-9-6-7-8 8z"/>
<path color=#818aff d="M1253 488l8-8-6-8-9 8z"/>
<path color=#3f3fff d="M1245 495l8-7-7-8-8 7z"/>
<path color=#1212c2 d="M1237 502l8-7-7-8-8 7z"/>
<path color=#00b5d3 d="M1341 402l8-4-6 0-8 2z"/>
<path color=#00bae2 d="M1333 408l8-6-6-2-8 5z"/>
<path color=#12bdf3 d="M1325 416l8-8-6-3-9 7z"/>
<path color=#4ce3ff d="M1317 425l8-9-7-4-8 9z"/>
<path color=#75f4ff d="M1308 436l9-11-7-4-8 9z"/>
<path color=#8df4ff d="M1300 446l8-10-6-6-8 11z"/>
<path color=#a3f3ff d="M1292 457l8-11-6-5-8 10z"/>
<path color=#bef7ff d="M1284 467l8-10-6-6-9 10z"/>
<path color=#d9fbff d="M1276 477l8-10-7-6-8 10z"/>
<path color=#e3f1ff d="M1267 487l9-10-7-6-8 9z"/>
<path color=#c7c7ff d="M1259 495l8-8-6-7-8 8z"/>
<path color=#8080ff d="M1251 503l8-8-6-7-8 7z"/>
<path color=#3333db d="M1243 509l8-6-6-8-8 7z"/>
<path color=#00afc5 d="M1356 398l8-2-6 1-9 1z"/>
<path color=#00c0de d="M1348 404l8-6-7 0-8 4z"/>
<path color=#01b9e4 d="M1339 411l9-7-7-2-8 6z"/>
<path color=#12b8f3 d="M1331 420l8-9-6-3-8 8z"/>
<path color=#2fbeff d="M1323 430l8-10-6-4-8 9z"/>
<path color=#43baff d="M1315 440l8-10-6-5-9 11z"/>
<path color=#52b1ff d="M1307 451l8-11-7-4-8 10z"/>
<path color=#66acff d="M1298 462l9-11-7-5-8 11z"/>
<path color=#82b0ff d="M1290 473l8-11-6-5-8 10z"/>
<path color=#a7beff d="M1282 483l8-10-6-6-8 10z"/>
<path color=#ced0ff d="M1274 493l8-10-6-6-9 10z"/>
<path color=#dedeff d="M1266 501l8-8-7-6-8 8z"/>
<path color=#b9b9ff d="M1257 509l9-8-7-6-8 8z"/>
<path color=#6464ff d="M1249 515l8-6-6-6-8 6z"/>
<path color=#00454c d="M1551 372l8-2-6 2-9 3z"/>
<path color=#00c0d6 d="M1362 399l8-4-6 1-8 2z"/>
<path color=#00c4e3 d="M1354 406l8-7-6-1-8 6z"/>
<path color=#01b7e6 d="M1346 414l8-8-6-2-9 7z"/>
<path color=#0aabec d="M1338 423l8-9-7-3-8 9z"/>
<path color=#149ef4 d="M1329 434l9-11-7-3-8 10z"/>
<path color=#1c8cfa d="M1321 445l8-11-6-4-8 10z"/>
<path color=#237aff d="M1313 456l8-11-6-5-8 11z"/>
<path color=#2d6bff d="M1305 467l8-11-6-5-9 11z"/>
<path color=#3e63ff d="M1297 478l8-11-7-5-8 11z"/>
<path color=#5764ff d="M1288 488l9-10-7-5-8 10z"/>
<path color=#7979ff d="M1280 498l8-10-6-5-8 10z"/>
<path color=#9a9aff d="M1272 506l8-8-6-5-8 8z"/>
<path color=#9f9fff d="M1264 514l8-8-6-5-9 8z"/>
<path color=#6d6dff d="M1256 520l8-6-7-5-8 6z"/>
<path color=#00484c d="M1557 370l8-1-6 1-8 2z"/>
<path color=#00bcc9 d="M1377 395l8-2-6 1-9 1z"/>
<path color=#00cade d="M1369 400l8-5-7 0-8 4z"/>
<path color=#00c4e5 d="M1360 407l9-7-7-1-8 7z"/>
<path color=#01b4e5 d="M1352 416l8-9-6-1-8 8z"/>
<path color=#03a1e6 d="M1344 426l8-10-6-2-8 9z"/>
<path color=#068be7 d="M1336 437l8-11-6-3-9 11z"/>
<path color=#0873e7 d="M1328 448l8-11-7-3-8 11z"/>
<path color=#0a5be9 d="M1319 459l9-11-7-3-8 11z"/>
<path color=#0d44eb d="M1311 471l8-12-6-3-8 11z"/>
<path color=#1230f0 d="M1303 482l8-11-6-4-8 11z"/>
<path color=#1a20f9 d="M1295 492l8-10-6-4-9 10z"/>
<path color=#2626f5 d="M1287 502l8-10-7-4-8 10z"/>
<path color=#3636f0 d="M1278 510l9-8-7-4-8 8z"/>
<path color=#3f3fe7 d="M1270 518l8-8-6-4-8 8z"/>
<path color=#3333ca d="M1262 525l8-7-6-4-8 6z"/>
<path color=#00adb4 d="M1564 369l8 0-7 0-8 1z"/>
<path color=#00bcc4 d="M1555 371l9-2-7 1-8 3z"/>
<path color=#00beca d="M1547 374l8-3-6 2-8 3z"/>
<path color=#00b9ca d="M1539 377l8-3-6 2-8 4z"/>
<path color=#00b1c7 d="M1531 381l8-4-6 3-9 3z"/>
<path color=#00b5bc d="M1391 393l9-2-7 1-8 1z"/>
<path color=#00cad5 d="M1383 396l8-3-6 0-8 2z"/>
<path color=#00cfe2 d="M1375 402l8-6-6-1-8 5z"/>
<path color=#00c4e5 d="M1367 409l8-7-6-2-9 7z"/>
<path color=#00b2e5 d="M1359 418l8-9-7-2-8 9z"/>
<path color=#019be4 d="M1350 428l9-10-7-2-8 10z"/>
<path color=#0182e3 d="M1342 439l8-11-6-2-8 11z"/>
<path color=#0169e2 d="M1334 451l8-12-6-2-8 11z"/>
<path color=#014ee2 d="M1326 462l8-11-6-3-9 11z"/>
<path color=#0235e2 d="M1318 473l8-11-7-3-8 12z"/>
<path color=#021ce3 d="M1309 484l9-11-7-2-8 11z"/>
<path color=#0404e5 d="M1301 495l8-11-6-2-8 10z"/>
<path color=#0505d1 d="M1293 504l8-9-6-3-8 10z"/>
<path color=#0707bf d="M1285 513l8-9-6-2-9 8z"/>
<path color=#0808ae d="M1277 521l8-8-7-3-8 8z"/>
<path color=#06069c d="M1269 528l8-7-7-3-8 7z"/>
<path color=#00494c d="M1578 370l8 1-6-1-8-1z"/>
<path color=#00c0c5 d="M1562 372l8-2-6-1-9 2z"/>
<path color=#00c8d0 d="M1554 374l8-2-7-1-8 3z"/>
<path color=#00c7d3 d="M1545 377l9-3-7 0-8 3z"/>
<path color=#00c2d4 d="M1537 381l8-4-6 0-8 4z"/>
<path color=#00bbd1 d="M1529 384l8-3-6 0-8 3z"/>
<path color=#00b3ce d="M1521 386l8-2-6 0-9 3z"/>
<path color=#00acca d="M1513 389l8-3-7 1-8 2z"/>
<path color=#00a5c5 d="M1504 391l9-2-7 0-8 2z"/>
<path color=#009fbf d="M1496 392l8-1-6 0-8 2z"/>
<path color=#009aba d="M1488 394l8-2-6 1-8 1z"/>
<path color=#0096b4 d="M1480 395l8-1-6 0-9 1z"/>
<path color=#00404c d="M1472 395l8 0-7 0-8 1z"/>
<path color=#004a4c d="M1414 391l8 1-6-1-8 0z"/>
<path color=#00aaaf d="M1406 391l8 0-6 0-8 0z"/>
<path color=#00c1c5 d="M1398 393l8-2-6 0-9 2z"/>
<path color=#00d0da d="M1390 397l8-4-7 0-8 3z"/>
<path color=#00d1e3 d="M1381 403l9-6-7-1-8 6z"/>
<path color=#00c4e6 d="M1373 411l8-8-6-1-8 7z"/>
<path color=#00b0e5 d="M1365 420l8-9-6-2-8 9z"/>
<path color=#0099e3 d="M1357 430l8-10-6-2-9 10z"/>
<path color=#0080e2 d="M1349 441l8-11-7-2-8 11z"/>
<path color=#0066e2 d="M1340 452l9-11-7-2-8 12z"/>
<path color=#004be1 d="M1332 464l8-12-6-1-8 11z"/>
<path color=#0031e2 d="M1324 475l8-11-6-2-8 11z"/>
<path color=#0017e2 d="M1316 486l8-11-6-2-9 11z"/>
<path color=#0000e1 d="M1308 497l8-11-7-2-8 11z"/>
<path color=#0000cb d="M1299 506l9-9-7-2-8 9z"/>
<path color=#0000b7 d="M1291 515l8-9-6-2-8 9z"/>
<path color=#0000a4 d="M1283 523l8-8-6-2-8 8z"/>
<path color=#000094 d="M1275 529l8-6-6-2-8 7z"/>
<path color=#00888e d="M1585 371l8 2-7-2-8-1z"/>
<path color=#00abaf d="M1576 372l9-1-7-1-8 0z"/>
<path color=#00c0c5 d="M1568 374l8-2-6-2-8 2z"/>
<path color=#00c8d0 d="M1560 377l8-3-6-2-8 2z"/>
<path color=#00c7d3 d="M1552 380l8-3-6-3-9 3z"/>
<path color=#00c2d4 d="M1544 383l8-3-7-3-8 4z"/>
<path color=#00bbd1 d="M1535 386l9-3-7-2-8 3z"/>
<path color=#00b3ce d="M1527 389l8-3-6-2-8 2z"/>
<path color=#00acca d="M1519 392l8-3-6-3-8 3z"/>
<path color=#00a5c5 d="M1511 394l8-2-6-3-9 2z"/>
<path color=#009fbf d="M1503 395l8-1-7-3-8 1z"/>
<path color=#009aba d="M1494 397l9-2-7-3-8 2z"/>
<path color=#0096b4 d="M1486 398l8-1-6-3-8 1z"/>
<path color=#0092af d="M1478 398l8 0-6-3-8 0z"/>
<path color=#008ea9 d="M1470 398l8 0-6-3-9 0z"/>
<path color=#008ba2 d="M1462 398l8 0-7-3-8 0z"/>
<path color=#00889c d="M1453 397l9 1-7-3-8-1z"/>
<path color=#008797 d="M1445 396l8 1-6-3-8 0z"/>
<path color=#008894 d="M1437 395l8 1-6-2-8-1z"/>
<path color=#008d96 d="M1429 394l8 1-6-2-9-1z"/>
<path color=#00989e d="M1421 393l8 1-7-2-8-1z"/>
<path color=#00aaaf d="M1412 393l9 0-7-2-8 0z"/>
<path color=#00c1c5 d="M1404 395l8-2-6-2-8 2z"/>
<path color=#00d0da d="M1396 399l8-4-6-2-8 4z"/>
<path color=#00d1e3 d="M1388 404l8-5-6-2-9 6z"/>
<path color=#00c4e5 d="M1380 412l8-8-7-1-8 8z"/>
<path color=#00b0e5 d="M1371 421l9-9-7-1-8 9z"/>
<path color=#0099e3 d="M1363 431l8-10-6-1-8 10z"/>
<path color=#0080e2 d="M1355 442l8-11-6-1-8 11z"/>
<path color=#0065e2 d="M1347 453l8-11-6-1-9 11z"/>
<path color=#004be1 d="M1339 465l8-12-7-1-8 12z"/>
<path color=#0030e2 d="M1330 476l9-11-7-1-8 11z"/>
<path color=#0017e2 d="M1322 487l8-11-6-1-8 11z"/>
<path color=#0000e1 d="M1314 497l8-10-6-1-8 11z"/>
<path color=#0000cb d="M1306 507l8-10-6 0-9 9z"/>
<path color=#0000b6 d="M1298 516l8-9-7-1-8 9z"/>
<path color=#0000a4 d="M1289 524l9-8-7-1-8 8z"/>
<path color=#000094 d="M1281 530l8-6-6-1-8 6z"/>
<path color=#008e95 d="M1591 374l8 1-6-2-8-2z"/>
<path color=#00adb4 d="M1583 375l8-1-6-3-9 1z"/>
<path color=#00bcc4 d="M1575 378l8-3-7-3-8 2z"/>
<path color=#00beca d="M1566 381l9-3-7-4-8 3z"/>
<path color=#00b9ca d="M1558 385l8-4-6-4-8 3z"/>
<path color=#00b1c7 d="M1550 389l8-4-6-5-8 3z"/>
<path color=#00a8c3 d="M1542 392l8-3-6-6-9 3z"/>
<path color=#009fbe d="M1534 395l8-3-7-6-8 3z"/>
<path color=#0096b8 d="M1525 398l9-3-7-6-8 3z"/>
<path color=#008fb2 d="M1517 400l8-2-6-6-8 2z"/>
<path color=#0089ac d="M1509 402l8-2-6-6-8 1z"/>
<path color=#0084a7 d="M1501 403l8-1-6-7-9 2z"/>
<path color=#0080a2 d="M1493 404l8-1-7-6-8 1z"/>
<path color=#007d9d d="M1484 404l9 0-7-6-8 0z"/>
<path color=#007a98 d="M1476 404l8 0-6-6-8 0z"/>
<path color=#007893 d="M1468 404l8 0-6-6-8 0z"/>
<path color=#00778f d="M1460 403l8 1-6-6-9-1z"/>
<path color=#00778b d="M1452 401l8 2-7-6-8-1z"/>
<path color=#007989 d="M1443 400l9 1-7-5-8-1z"/>
<path color=#007f8b d="M1435 398l8 2-6-5-8-1z"/>
<path color=#008a92 d="M1427 397l8 1-6-4-8-1z"/>
<path color=#009ca3 d="M1419 397l8 0-6-4-9 0z"/>
<path color=#00b5bc d="M1411 398l8-1-7-4-8 2z"/>
<path color=#00cad5 d="M1402 401l9-3-7-3-8 4z"/>
<path color=#00cfe2 d="M1394 405l8-4-6-2-8 5z"/>
<path color=#00c4e5 d="M1386 412l8-7-6-1-8 8z"/>
<path color=#00b1e5 d="M1378 421l8-9-6 0-9 9z"/>
<path color=#009ae3 d="M1370 431l8-10-7 0-8 10z"/>
<path color=#0081e2 d="M1361 442l9-11-7 0-8 11z"/>
<path color=#0067e1 d="M1353 453l8-11-6 0-8 11z"/>
<path color=#004de1 d="M1345 464l8-11-6 0-8 12z"/>
<path color=#0033e1 d="M1337 476l8-12-6 1-9 11z"/>
<path color=#0019e1 d="M1329 487l8-11-7 0-8 11z"/>
<path color=#0001e2 d="M1320 497l9-10-7 0-8 10z"/>
<path color=#00c d="M1312 507l8-10-6 0-8 10z"/>
<path color=#0000b8 d="M1304 515l8-8-6 0-8 9z"/>
<path color=#0000a5 d="M1296 523l8-8-6 1-9 8z"/>
<path color=#000095 d="M1288 530l8-7-7 1-8 6z"/>
<path color=#00747f d="M1606 377l8 2-7-1-8-3z"/>
<path color=#0099a3 d="M1597 377l9 0-7-2-8-1z"/>
<path color=#00b0bb d="M1589 380l8-3-6-3-8 1z"/>
<path color=#00b5c4 d="M1581 383l8-3-6-5-8 3z"/>
<path color=#00b0c4 d="M1573 387l8-4-6-5-9 3z"/>
<path color=#00a7c1 d="M1565 391l8-4-7-6-8 4z"/>
<path color=#009dbc d="M1556 396l9-5-7-6-8 4z"/>
<path color=#0092b6 d="M1548 400l8-4-6-7-8 3z"/>
<path color=#0088b0 d="M1540 403l8-3-6-8-8 3z"/>
<path color=#0080aa d="M1532 406l8-3-6-8-9 3z"/>
<path color=#0078a3 d="M1524 408l8-2-7-8-8 2z"/>
<path color=#00729e d="M1515 410l9-2-7-8-8 2z"/>
<path color=#006d98 d="M1507 412l8-2-6-8-8 1z"/>
<path color=#006a93 d="M1499 412l8 0-6-9-8 1z"/>
<path color=#00678f d="M1491 413l8-1-6-8-9 0z"/>
<path color=#00658a d="M1483 412l8 1-7-9-8 0z"/>
<path color=#006485 d="M1474 412l9 0-7-8-8 0z"/>
<path color=#006481 d="M1466 410l8 2-6-8-8-1z"/>
<path color=#00657e d="M1458 409l8 1-6-7-8-2z"/>
<path color=#00677c d="M1450 407l8 2-6-8-9-1z"/>
<path color=#006c7d d="M1442 404l8 3-7-7-8-2z"/>
<path color=#007583 d="M1433 402l9 2-7-6-8-1z"/>
<path color=#008691 d="M1425 401l8 1-6-5-8 0z"/>
<path color=#00a0aa d="M1417 401l8 0-6-4-8 1z"/>
<path color=#00bcc9 d="M1409 403l8-2-6-3-9 3z"/>
<path color=#00cade d="M1401 407l8-4-7-2-8 4z"/>
<path color=#00c4e5 d="M1392 413l9-6-7-2-8 7z"/>
<path color=#00b3e4 d="M1384 421l8-8-6-1-8 9z"/>
<path color=#009de2 d="M1376 431l8-10-6 0-8 10z"/>
<path color=#0085e1 d="M1368 441l8-10-6 0-9 11z"/>
<path color=#006be0 d="M1360 452l8-11-7 1-8 11z"/>
<path color=#0051df d="M1351 463l9-11-7 1-8 11z"/>
<path color=#0037df d="M1343 475l8-12-6 1-8 12z"/>
<path color=#001edf d="M1335 485l8-10-6 1-8 11z"/>
<path color=#0006df d="M1327 496l8-11-6 2-9 10z"/>
<path color=#0000cf d="M1319 505l8-9-7 1-8 10z"/>
<path color=#00b d="M1310 514l9-9-7 2-8 8z"/>
<path color=#0000a8 d="M1302 522l8-8-6 1-8 8z"/>
<path color=#000098 d="M1294 528l8-6-6 1-8 7z"/>
<path color=#008493 d="M1612 380l8 1-6-2-8-2z"/>
<path color=#00a4b3 d="M1604 382l8-2-6-3-9 0z"/>
<path color=#00afc2 d="M1596 385l8-3-7-5-8 3z"/>
<path color=#00acc4 d="M1587 389l9-4-7-5-8 3z"/>
<path color=#00a3c1 d="M1579 394l8-5-6-6-8 4z"/>
<path color=#0097bc d="M1571 399l8-5-6-7-8 4z"/>
<path color=#008ab6 d="M1563 404l8-5-6-8-9 5z"/>
<path color=#007fb0 d="M1555 409l8-5-7-8-8 4z"/>
<path color=#0075a9 d="M1546 413l9-4-7-9-8 3z"/>
<path color=#006ca2 d="M1538 416l8-3-6-10-8 3z"/>
<path color=#00659c d="M1530 418l8-2-6-10-8 2z"/>
<path color=#005f96 d="M1522 420l8-2-6-10-9 2z"/>
<path color=#005a90 d="M1514 422l8-2-7-10-8 2z"/>
<path color=#00578b d="M1505 423l9-1-7-10-8 0z"/>
<path color=#005586 d="M1497 423l8 0-6-11-8 1z"/>
<path color=#005381 d="M1489 422l8 1-6-10-8-1z"/>
<path color=#00537c d="M1481 421l8 1-6-10-9 0z"/>
<path color=#005378 d="M1473 419l8 2-7-9-8-2z"/>
<path color=#005474 d="M1464 417l9 2-7-9-8-1z"/>
<path color=#005671 d="M1456 415l8 2-6-8-8-2z"/>
<path color=#005a71 d="M1448 412l8 3-6-8-8-3z"/>
<path color=#006274 d="M1440 409l8 3-6-8-9-2z"/>
<path color=#006f7f d="M1432 407l8 2-7-7-8-1z"/>
<path color=#008695 d="M1423 405l9 2-7-6-8 0z"/>
<path color=#00a6b6 d="M1415 406l8-1-6-4-8 2z"/>
<path color=#00c0d6 d="M1407 409l8-3-6-3-8 4z"/>
<path color=#00c4e3 d="M1399 414l8-5-6-2-9 6z"/>
<path color=#00b6e4 d="M1391 421l8-7-7-1-8 8z"/>
<path color=#00a1e2 d="M1382 430l9-9-7 0-8 10z"/>
<path color=#0089e0 d="M1374 440l8-10-6 1-8 10z"/>
<path color=#0070de d="M1366 450l8-10-6 1-8 11z"/>
<path color=#0057dd d="M1358 462l8-12-6 2-9 11z"/>
<path color=#003edd d="M1350 472l8-10-7 1-8 12z"/>
<path color=#0025dc d="M1341 483l9-11-7 3-8 10z"/>
<path color=#000edc d="M1333 493l8-10-6 2-8 11z"/>
<path color=#0000d3 d="M1325 503l8-10-6 3-8 9z"/>
<path color=#0000bf d="M1317 511l8-8-6 2-9 9z"/>
<path color=#0000ac d="M1309 519l8-8-7 3-8 8z"/>
<path color=#00009c d="M1301 525l8-6-7 3-8 6z"/>
<path color=#0096aa d="M1618 384l9-1-7-2-8-1z"/>
<path color=#00abc2 d="M1610 387l8-3-6-4-8 2z"/>
<path color=#00abc7 d="M1602 391l8-4-6-5-8 3z"/>
<path color=#02a3c6 d="M1594 397l8-6-6-6-9 4z"/>
<path color=#0196c1 d="M1586 403l8-6-7-8-8 5z"/>
<path color=#0087bb d="M1577 408l9-5-7-9-8 5z"/>
<path color=#007ab4 d="M1569 414l8-6-6-9-8 5z"/>
<path color=#006ead d="M1561 419l8-5-6-10-8 5z"/>
<path color=#0063a7 d="M1553 423l8-4-6-10-9 4z"/>
<path color=#005aa0 d="M1545 427l8-4-7-10-8 3z"/>
<path color=#005399 d="M1536 429l9-2-7-11-8 2z"/>
<path color=#004d93 d="M1528 432l8-3-6-11-8 2z"/>
<path color=#00498d d="M1520 433l8-1-6-12-8 2z"/>
<path color=#004687 d="M1512 434l8-1-6-11-9 1z"/>
<path color=#004481 d="M1504 434l8 0-7-11-8 0z"/>
<path color=#00437c d="M1495 433l9 1-7-11-8-1z"/>
<path color=#004376 d="M1487 432l8 1-6-11-8-1z"/>
<path color=#004371 d="M1479 429l8 3-6-11-8-2z"/>
<path color=#00456d d="M1471 427l8 2-6-10-9-2z"/>
<path color=#004769 d="M1463 423l8 4-7-10-8-2z"/>
<path color=#004b67 d="M1454 420l9 3-7-8-8-3z"/>
<path color=#005169 d="M1446 416l8 4-6-8-8-3z"/>
<path color=#005b6f d="M1438 413l8 3-6-7-8-2z"/>
<path color=#006d80 d="M1430 410l8 3-6-6-9-2z"/>
<path color=#008b9e d="M1422 409l8 1-7-5-8 1z"/>
<path color=#00afc5 d="M1413 411l9-2-7-3-8 3z"/>
<path color=#00c0de d="M1405 414l8-3-6-2-8 5z"/>
<path color=#00b8e4 d="M1397 420l8-6-6 0-8 7z"/>
<path color=#00a6e2 d="M1389 428l8-8-6 1-9 9z"/>
<path color=#0090df d="M1381 438l8-10-7 2-8 10z"/>
<path color=#0077dc d="M1372 448l9-10-7 2-8 10z"/>
<path color=#005fdb d="M1364 459l8-11-6 2-8 12z"/>
<path color=#0046da d="M1356 470l8-11-6 3-8 10z"/>
<path color=#002ed9 d="M1348 480l8-10-6 2-9 11z"/>
<path color=#0017d8 d="M1340 490l8-10-7 3-8 10z"/>
<path color=#0002d7 d="M1331 499l9-9-7 3-8 10z"/>
<path color=#0000c5 d="M1323 508l8-9-6 4-8 8z"/>
<path color=#0000b2 d="M1315 515l8-7-6 3-8 8z"/>
<path color=#0000a1 d="M1307 522l8-7-6 4-8 6z"/>
<path color=#00859b d="M1633 385l8 0-6-1-8-1z"/>
<path color=#00a5bf d="M1625 388l8-3-6-2-9 1z"/>
<path color=#00accb d="M1617 392l8-4-7-4-8 3z"/>
<path color=#04a7ce d="M1608 398l9-6-7-5-8 4z"/>
<path color=#079ccd d="M1600 405l8-7-6-7-8 6z"/>
<path color=#048ac4 d="M1592 411l8-6-6-8-8 6z"/>
<path color=#0178bc d="M1584 418l8-7-6-8-9 5z"/>
<path color=#0069b5 d="M1576 424l8-6-7-10-8 6z"/>
<path color=#005dae d="M1567 429l9-5-7-10-8 5z"/>
<path color=#0052a7 d="M1559 434l8-5-6-10-8 4z"/>
<path color=#0049a0 d="M1551 438l8-4-6-11-8 4z"/>
<path color=#004299 d="M1543 441l8-3-6-11-9 2z"/>
<path color=#003c92 d="M1535 443l8-2-7-12-8 3z"/>
<path color=#00388b d="M1526 444l9-1-7-11-8 1z"/>
<path color=#003685 d="M1518 445l8-1-6-11-8 1z"/>
<path color=#00347f d="M1510 445l8 0-6-11-8 0z"/>
<path color=#003478 d="M1502 444l8 1-6-11-9-1z"/>
<path color=#003472 d="M1494 442l8 2-7-11-8-1z"/>
<path color=#00356c d="M1485 440l9 2-7-10-8-3z"/>
<path color=#003767 d="M1477 437l8 3-6-11-8-2z"/>
<path color=#003962 d="M1469 433l8 4-6-10-8-4z"/>
<path color=#003d5f d="M1461 428l8 5-6-10-9-3z"/>
<path color=#00425f d="M1453 424l8 4-7-8-8-4z"/>
<path color=#004a62 d="M1444 420l9 4-7-8-8-3z"/>
<path color=#00586d d="M1436 416l8 4-6-7-8-3z"/>
<path color=#007085 d="M1428 414l8 2-6-6-8-1z"/>
<path color=#0095ac d="M1420 413l8 1-6-5-9 2z"/>
<path color=#00b5d3 d="M1412 415l8-2-7-2-8 3z"/>
<path color=#00bae1 d="M1403 420l9-5-7-1-8 6z"/>
<path color=#00abe1 d="M1395 427l8-7-6 0-8 8z"/>
<path color=#0097de d="M1387 436l8-9-6 1-8 10z"/>
<path color=#0080db d="M1379 445l8-9-6 2-9 10z"/>
<path color=#0068d9 d="M1371 456l8-11-7 3-8 11z"/>
<path color=#0000a8 d="M1313 517l8-6-6 4-8 7z"/>
<path color=#00404c d="M1648 387l8 1-7 0-8-3z"/>
<path color=#009bb6 d="M1639 388l9-1-7-2-8 0z"/>
<path color=#00accd d="M1631 392l8-4-6-3-8 3z"/>
<path color=#06acd5 d="M1623 398l8-6-6-4-8 4z"/>
<path color=#18b1e4 d="M1615 405l8-7-6-6-9 6z"/>
<path color=#159ddc d="M1607 413l8-8-7-7-8 7z"/>
<path color=#0980cb d="M1598 420l9-7-7-8-8 6z"/>
<path color=#026abf d="M1590 427l8-7-6-9-8 7z"/>
<path color=#0059b7 d="M1582 434l8-7-6-9-8 6z"/>
<path color=#004cb0 d="M1574 439l8-5-6-10-9 5z"/>
<path color=#0041a9 d="M1566 444l8-5-7-10-8 5z"/>
<path color=#0038a2 d="M1557 449l9-5-7-10-8 4z"/>
<path color=#00319a d="M1549 452l8-3-6-11-8 3z"/>
<path color=#002c93 d="M1541 454l8-2-6-11-8 2z"/>
<path color=#003c58 d="M1451 427l8 5-6-8-9-4z"/>
<path color=#00475f d="M1443 422l8 5-7-7-8-4z"/>
<path color=#00596f d="M1434 418l9 4-7-6-8-2z"/>
<path color=#00788f d="M1426 416l8 2-6-4-8-1z"/>
<path color=#00a1bd d="M1418 417l8-1-6-3-8 2z"/>
<path color=#00b6db d="M1410 420l8-3-6-2-9 5z"/>
<path color=#00b0e0 d="M1402 426l8-6-7 0-8 7z"/>
<path color=#009edd d="M1393 433l9-7-7 1-8 9z"/>
<path color=#0089da d="M1385 442l8-9-6 3-8 9z"/>
<path color=#000046 d="M1320 511l8-6-7 6-8 6z"/>
<path color=#008ba7 d="M1654 389l8-1-6 0-8-1z"/>
<path color=#00aacb d="M1646 392l8-3-6-2-9 1z"/>
<path color=#02add6 d="M1638 398l8-6-7-4-8 4z"/>
<path color=#2bc9fd d="M1629 405l9-7-7-6-8 6z"/>
<path color=#3fccff d="M1621 413l8-8-6-7-8 7z"/>
<path color=#2aa5f3 d="M1613 421l8-8-6-8-8 8z"/>
<path color=#127bd7 d="M1605 429l8-8-6-8-9 7z"/>
<path color=#055dc4 d="M1597 437l8-8-7-9-8 7z"/>
<path color=#014aba d="M1588 444l9-7-7-10-8 7z"/>
<path color=#003bb3 d="M1580 450l8-6-6-10-8 5z"/>
<path color=#0030ac d="M1572 455l8-5-6-11-8 5z"/>
<path color=#00475e d="M1441 424l8 4-6-6-9-4z"/>
<path color=#005f76 d="M1433 420l8 4-7-6-8-2z"/>
<path color=#00859f d="M1424 419l9 1-7-4-8 1z"/>
<path color=#00abcc d="M1416 420l8-1-6-2-8 3z"/>
<path color=#00b3dd d="M1408 424l8-4-6 0-8 6z"/>
<path color=#00a6dd d="M1400 431l8-7-6 2-9 7z"/>
<path color=#0092d9 d="M1392 439l8-8-7 2-8 9z"/>
<path color=#00044c d="M1334 499l8-7-6 6-8 7z"/>
<path color=#00004c d="M1326 505l8-6-6 6-8 6z"/>
<path color=#003f4c d="M1669 389l8 0-7 1-8-2z"/>
<path color=#00a2c2 d="M1660 391l9-2-7-1-8 1z"/>
<path color=#00aed7 d="M1652 396l8-5-6-2-8 3z"/>
<path color=#23c7fa d="M1644 403l8-7-6-4-8 6z"/>
<path color=#70ffff d="M1636 411l8-8-6-5-9 7z"/>
<path color=#6fefff d="M1628 420l8-9-7-6-8 8z"/>
<path color=#49b5ff d="M1619 429l9-9-7-7-8 8z"/>
<path color=#247eeb d="M1611 438l8-9-6-8-8 8z"/>
<path color=#0d55cf d="M1603 446l8-8-6-9-8 8z"/>
<path color=#033bc0 d="M1595 453l8-7-6-9-9 7z"/>
<path color=#004b62 d="M1439 424l8 5-6-5-8-4z"/>
<path color=#006a82 d="M1431 422l8 2-6-4-9-1z"/>
<path color=#0095b2 d="M1423 421l8 1-7-3-8 1z"/>
<path color=#00afd5 d="M1414 424l9-3-7-1-8 4z"/>
<path color=#00acdb d="M1406 429l8-5-6 0-8 7z"/>
<path color=#009cd8 d="M1398 436l8-7-6 2-8 8z"/>
<path color=#00104c d="M1349 485l8-7-6 6-9 8z"/>
<path color=#000b4c d="M1341 492l8-7-7 7-8 7z"/>
<path color=#00064c d="M1333 498l8-6-7 7-8 6z"/>
<path color=#0095b2 d="M1675 391l8-2-6 0-8 0z"/>
<path color=#00afd5 d="M1667 395l8-4-6-2-9 2z"/>
<path color=#08b4e4 d="M1659 401l8-6-7-4-8 5z"/>
<path color=#71ffff d="M1650 409l9-8-7-5-8 7z"/>
<path color=#b1ffff d="M1642 418l8-9-6-6-8 8z"/>
<path color=#9effff d="M1634 428l8-10-6-7-8 9z"/>
<path color=#71d0ff d="M1626 437l8-9-6-8-9 9z"/>
<path color=#428dff d="M1618 446l8-9-7-8-8 9z"/>
<path color=#007993 d="M1429 423l8 2-6-3-8-1z"/>
<path color=#00a2c2 d="M1421 424l8-1-6-2-9 3z"/>
<path color=#00aed7 d="M1413 427l8-3-7 0-8 5z"/>
<path color=#00a4d7 d="M1404 432l9-5-7 2-8 7z"/>
<path color=#0093d3 d="M1396 440l8-8-6 4-8 8z"/>
<path color=#00174c d="M1355 478l8-7-6 7-8 7z"/>
<path color=#00124c d="M1347 485l8-7-6 7-8 7z"/>
<path color=#000e4c d="M1339 490l8-5-6 7-8 6z"/>
<path color=#00abcc d="M1681 393l9-3-7-1-8 2z"/>
<path color=#00b3dd d="M1673 398l8-5-6-2-8 4z"/>
<path color=#38ddff d="M1665 406l8-8-6-3-8 6z"/>
<path color=#b5ffff d="M1657 415l8-9-6-5-9 8z"/>
<path color=#daffff d="M1649 425l8-10-7-6-8 9z"/>
<path color=#c7ffff d="M1640 435l9-10-7-7-8 10z"/>
<path color=#a0f1ff d="M1632 444l8-9-6-7-8 9z"/>
<path color=#00aacb d="M1419 426l8-2-6 0-8 3z"/>
<path color=#00abd4 d="M1411 430l8-4-6 1-9 5z"/>
<path color=#009ed2 d="M1403 436l8-6-7 2-8 8z"/>
<path color=#00234c d="M1370 464l8-7-6 7-9 7z"/>
<path color=#001e4c d="M1362 471l8-7-7 7-8 7z"/>
<path color=#00194c d="M1353 477l9-6-7 7-8 7z"/>
<path color=#00154c d="M1345 482l8-5-6 8-8 5z"/>
<path color=#00a1bd d="M1696 391l8-3-6 1-8 1z"/>
<path color=#00b6db d="M1688 395l8-4-6-1-9 3z"/>
<path color=#08b8e8 d="M1680 402l8-7-7-2-8 5z"/>
<path color=#6fffff d="M1671 411l9-9-7-4-8 8z"/>
<path color=#cdffff d="M1663 421l8-10-6-5-8 9z"/>
<path color=#e5ffff d="M1655 431l8-10-6-6-8 10z"/>
<path color=#e0ffff d="M1647 441l8-10-6-6-9 10z"/>
<path color=#cff d="M1639 451l8-10-7-6-8 9z"/>
<path color=#009bb6 d="M1425 425l9 0-7-1-8 2z"/>
<path color=#00accd d="M1417 428l8-3-6 1-8 4z"/>
<path color=#00a6d0 d="M1409 432l8-4-6 2-8 6z"/>
<path color=#002f4c d="M1384 451l9-7-7 6-8 7z"/>
<path color=#002a4c d="M1376 457l8-6-6 6-8 7z"/>
<path color=#00254c d="M1368 463l8-6-6 7-8 7z"/>
<path color=#00214c d="M1360 469l8-6-6 8-9 6z"/>
<path color=#001d4c d="M1352 473l8-4-7 8-8 5z"/>
<path color=#00424c d="M1711 388l8-1-7 2-8-1z"/>
<path color=#00b5d3 d="M1702 392l9-4-7 0-8 3z"/>
<path color=#00bae2 d="M1694 398l8-6-6-1-8 4z"/>
<path color=#1dc8fe d="M1686 406l8-8-6-3-8 7z"/>
<path color=#7dffff d="M1678 416l8-10-6-4-9 9z"/>
<path color=#b8ffff d="M1670 426l8-10-7-5-8 10z"/>
<path color=#cfffff d="M1661 437l9-11-7-5-8 10z"/>
<path color=#dbffff d="M1653 447l8-10-6-6-8 10z"/>
<path color=#00354c d="M1391 445l8-6-6 5-9 7z"/>
<path color=#00314c d="M1383 451l8-6-7 6-8 6z"/>
<path color=#002d4c d="M1374 456l9-5-7 6-8 6z"/>
<path color=#00294c d="M1366 461l8-5-6 7-8 6z"/>
<path color=#00264c d="M1358 465l8-4-6 8-8 4z"/>
<path color=#00afc5 d="M1717 389l8-3-6 1-8 1z"/>
<path color=#00c0de d="M1709 394l8-5-6-1-9 4z"/>
<path color=#01bae5 d="M1701 401l8-7-7-2-8 6z"/>
<path color=#27cdff d="M1692 410l9-9-7-3-8 8z"/>
<path color=#62f2ff d="M1684 420l8-10-6-4-8 10z"/>
<path color=#85fdff d="M1676 431l8-11-6-4-8 10z"/>
<path color=#9bfaff d="M1668 442l8-11-6-5-9 11z"/>
<path color=#00374c d="M1389 444l8-5-6 6-8 6z"/>
<path color=#00344c d="M1381 449l8-5-6 7-9 5z"/>
<path color=#00304c d="M1373 454l8-5-7 7-8 5z"/>
<path color=#002e4c d="M1365 457l8-3-7 7-8 4z"/>
<path color=#00c0d6 d="M1723 390l9-4-7 0-8 3z"/>
<path color=#00c4e3 d="M1715 396l8-6-6-1-8 5z"/>
<path color=#04bae8 d="M1707 404l8-8-6-2-8 7z"/>
<path color=#1dbeff d="M1699 413l8-9-6-3-9 9z"/>
<path color=#38c2ff d="M1691 424l8-11-7-3-8 10z"/>
<path color=#4abaff d="M1682 435l9-11-7-4-8 11z"/>
<path color=#58afff d="M1674 446l8-11-6-4-8 11z"/>
<path color=#003a4c d="M1387 443l8-4-6 5-8 5z"/>
<path color=#00374c d="M1379 447l8-4-6 6-8 5z"/>
<path color=#00354c d="M1371 450l8-3-6 7-8 3z"/>
<path color=#00484c d="M1746 383l8-1-6 2-8 0z"/>
<path color=#00bcc9 d="M1738 386l8-3-6 1-8 2z"/>
<path color=#00cade d="M1730 391l8-5-6 0-9 4z"/>
<path color=#00c4e5 d="M1722 398l8-7-7-1-8 6z"/>
<path color=#03b7e8 d="M1713 406l9-8-7-2-8 8z"/>
<path color=#0eabf0 d="M1705 416l8-10-6-2-8 9z"/>
<path color=#179bf7 d="M1697 427l8-11-6-3-8 11z"/>
<path color=#1d88fc d="M1689 438l8-11-6-3-9 11z"/>
<path color=#2374ff d="M1681 450l8-12-7-3-8 11z"/>
<path color=#00484c d="M1426 425l9-1-7 1-8 2z"/>
<path color=#00474c d="M1418 428l8-3-6 2-8 3z"/>
<path color=#00454c d="M1410 431l8-3-6 2-8 5z"/>
<path color=#003d4c d="M1385 442l9-4-7 5-8 4z"/>
<path color=#003b4c d="M1377 445l8-3-6 5-8 3z"/>
<path color=#00b5bc d="M1753 383l8-2-7 1-8 1z"/>
<path color=#00cad5 d="M1744 386l9-3-7 0-8 3z"/>
<path color=#00cfe2 d="M1736 392l8-6-6 0-8 5z"/>
<path color=#00c4e6 d="M1728 400l8-8-6-1-8 7z"/>
<path color=#02b3e6 d="M1720 409l8-9-6-2-9 8z"/>
<path color=#049ee7 d="M1712 419l8-10-7-3-8 10z"/>
<path color=#0687e8 d="M1703 430l9-11-7-3-8 11z"/>
<path color=#076ee8 d="M1695 441l8-11-6-3-8 11z"/>
<path color=#0855e9 d="M1687 453l8-12-6-3-8 12z"/>
<path color=#00adb4 d="M1433 424l8 0-6 0-9 1z"/>
<path color=#00bcc4 d="M1425 426l8-2-7 1-8 3z"/>
<path color=#00beca d="M1416 429l9-3-7 2-8 3z"/>
<path color=#00b9ca d="M1408 432l8-3-6 2-8 4z"/>
<path color=#00b1c7 d="M1400 436l8-4-6 3-8 3z"/>
<path color=#00404c d="M1384 442l8-3-7 3-8 3z"/>
<path color=#00c1c5 d="M1759 384l8-2-6-1-8 2z"/>
<path color=#00d0da d="M1751 388l8-4-6-1-9 3z"/>
<path color=#00d1e3 d="M1743 393l8-5-7-2-8 6z"/>
<path color=#00c4e6 d="M1734 401l9-8-7-1-8 8z"/>
<path color=#00b1e5 d="M1726 410l8-9-6-1-8 9z"/>
<path color=#019ae4 d="M1718 420l8-10-6-1-8 10z"/>
<path color=#0181e3 d="M1710 431l8-11-6-1-9 11z"/>
<path color=#0166e3 d="M1702 443l8-12-7-1-8 11z"/>
<path color=#000048 d="M1579 532l8 2-7-2-8-2z"/>
<path color=#00494c d="M1447 425l9 1-7-1-8-1z"/>
<path color=#00c0c5 d="M1431 427l8-2-6-1-8 2z"/>
<path color=#00c8d0 d="M1423 429l8-2-6-1-9 3z"/>
<path color=#00c7d3 d="M1415 432l8-3-7 0-8 3z"/>
<path color=#00c2d4 d="M1406 436l9-4-7 0-8 4z"/>
<path color=#00bbd1 d="M1398 439l8-3-6 0-8 3z"/>
<path color=#00b4ce d="M1390 441l8-2-6 0-8 3z"/>
<path color=#00889c d="M1815 388l8 0-7-3-8 0z"/>
<path color=#008797 d="M1806 387l9 1-7-3-8-1z"/>
<path color=#008894 d="M1798 385l8 2-6-3-8-1z"/>
<path color=#008d96 d="M1790 384l8 1-6-2-8-1z"/>
<path color=#00989e d="M1782 384l8 0-6-2-9-1z"/>
<path color=#00aaaf d="M1774 384l8 0-7-3-8 1z"/>
<path color=#00c1c5 d="M1765 385l9-1-7-2-8 2z"/>
<path color=#00d0da d="M1757 389l8-4-6-1-8 4z"/>
<path color=#00d1e3 d="M1749 395l8-6-6-1-8 5z"/>
<path color=#00c4e6 d="M1741 402l8-7-6-2-9 8z"/>
<path color=#00b0e5 d="M1733 411l8-9-7-1-8 9z"/>
<path color=#0099e3 d="M1724 421l9-10-7-1-8 10z"/>
<path color=#0080e2 d="M1716 432l8-11-6-1-8 11z"/>
<path color=#0065e2 d="M1708 444l8-12-6-1-8 12z"/>
<path color=#000028 d="M1593 535l8 0-6 0-8-1z"/>
<path color=#00002a d="M1585 533l8 2-6-1-8-2z"/>
<path color=#00002d d="M1577 529l8 4-6-1-9-3z"/>
<path color=#00888e d="M1454 426l8 2-6-2-9-1z"/>
<path color=#00abaf d="M1446 427l8-1-7-1-8 0z"/>
<path color=#00c0c5 d="M1437 429l9-2-7-2-8 2z"/>
<path color=#00c8d0 d="M1429 432l8-3-6-2-8 2z"/>
<path color=#00c7d3 d="M1421 435l8-3-6-3-8 3z"/>
<path color=#00c2d4 d="M1413 438l8-3-6-3-9 4z"/>
<path color=#00bbd1 d="M1405 441l8-3-7-2-8 3z"/>
<path color=#00b4ce d="M1397 444l8-3-7-2-8 2z"/>
<path color=#00778e d="M1821 393l8 1-6-6-8 0z"/>
<path color=#00778b d="M1813 392l8 1-6-5-9-1z"/>
<path color=#007989 d="M1805 390l8 2-7-5-8-2z"/>
<path color=#007f8b d="M1796 389l9 1-7-5-8-1z"/>
<path color=#008a92 d="M1788 387l8 2-6-5-8 0z"/>
<path color=#009ca3 d="M1780 387l8 0-6-3-8 0z"/>
<path color=#00b5bc d="M1772 388l8-1-6-3-9 1z"/>
<path color=#00cad5 d="M1764 391l8-3-7-3-8 4z"/>
<path color=#00cfe2 d="M1755 396l9-5-7-2-8 6z"/>
<path color=#00c4e5 d="M1747 403l8-7-6-1-8 7z"/>
<path color=#00b1e5 d="M1739 412l8-9-6-1-8 9z"/>
<path color=#009ae3 d="M1731 421l8-9-6-1-9 10z"/>
<path color=#0081e2 d="M1723 432l8-11-7 0-8 11z"/>
<path color=#0067e1 d="M1714 443l9-11-7 0-8 12z"/>
<path color=#000063 d="M1616 535l8-2-6 0-8 2z"/>
<path color=#000028 d="M1608 535l8 0-6 0-9 0z"/>
<path color=#00002b d="M1591 532l9 2-7 1-8-2z"/>
<path color=#00002e d="M1583 529l8 3-6 1-8-4z"/>
<path color=#008e95 d="M1460 429l8 1-6-2-8-2z"/>
<path color=#00adb4 d="M1452 430l8-1-6-3-8 1z"/>
<path color=#00bcc4 d="M1444 433l8-3-6-3-9 2z"/>
<path color=#00beca d="M1436 436l8-3-7-4-8 3z"/>
<path color=#00b9ca d="M1427 440l9-4-7-4-8 3z"/>
<path color=#00b1c7 d="M1419 443l8-3-6-5-8 3z"/>
<path color=#00a8c3 d="M1411 447l8-4-6-5-8 3z"/>
<path color=#009fbe d="M1403 450l8-3-6-6-8 3z"/>
<path color=#006481 d="M1827 401l8 1-6-8-8-1z"/>
<path color=#00657e d="M1819 399l8 2-6-8-8-1z"/>
<path color=#00677c d="M1811 397l8 2-6-7-8-2z"/>
<path color=#006c7d d="M1803 395l8 2-6-7-9-1z"/>
<path color=#007583 d="M1795 393l8 2-7-6-8-2z"/>
<path color=#008691 d="M1786 391l9 2-7-6-8 0z"/>
<path color=#00a0aa d="M1778 391l8 0-6-4-8 1z"/>
<path color=#00bcc9 d="M1770 393l8-2-6-3-8 3z"/>
<path color=#00cade d="M1762 397l8-4-6-2-9 5z"/>
<path color=#00c4e5 d="M1754 403l8-6-7-1-8 7z"/>
<path color=#00b3e4 d="M1745 412l9-9-7 0-8 9z"/>
<path color=#009de2 d="M1737 421l8-9-6 0-8 9z"/>
<path color=#0085e1 d="M1729 432l8-11-6 0-8 11z"/>
<path color=#006be0 d="M1721 443l8-11-6 0-9 11z"/>
<path color=#00002a d="M1622 533l9-2-7 2-8 2z"/>
<path color=#00002a d="M1614 533l8 0-6 2-8 0z"/>
<path color=#00002b d="M1606 532l8 1-6 2-8-1z"/>
<path color=#00002d d="M1598 530l8 2-6 2-9-2z"/>
<path color=#000030 d="M1590 527l8 3-7 2-8-3z"/>
<path color=#000034 d="M1581 523l9 4-7 2-8-5z"/>
<path color=#00747f d="M1475 432l8 2-6-2-9-2z"/>
<path color=#0099a3 d="M1467 432l8 0-7-2-8-1z"/>
<path color=#00b0bb d="M1458 435l9-3-7-3-8 1z"/>
<path color=#00b5c4 d="M1450 438l8-3-6-5-8 3z"/>
<path color=#00b0c4 d="M1442 442l8-4-6-5-8 3z"/>
<path color=#00a8c1 d="M1434 446l8-4-6-6-9 4z"/>
<path color=#009dbc d="M1426 451l8-5-7-6-8 3z"/>
<path color=#0092b6 d="M1417 455l9-4-7-8-8 4z"/>
<path color=#0088b0 d="M1409 458l8-3-6-8-8 3z"/>
<path color=#005378 d="M1834 410l8 2-7-10-8-1z"/>
<path color=#005474 d="M1826 408l8 2-7-9-8-2z"/>
<path color=#005671 d="M1817 405l9 3-7-9-8-2z"/>
<path color=#005a71 d="M1809 402l8 3-6-8-8-2z"/>
<path color=#006274 d="M1801 399l8 3-6-7-8-2z"/>
<path color=#006f7f d="M1793 397l8 2-6-6-9-2z"/>
<path color=#008695 d="M1785 396l8 1-7-6-8 0z"/>
<path color=#00a6b6 d="M1776 396l9 0-7-5-8 2z"/>
<path color=#00c0d6 d="M1768 399l8-3-6-3-8 4z"/>
<path color=#00c4e3 d="M1760 404l8-5-6-2-8 6z"/>
<path color=#00b6e4 d="M1752 411l8-7-6-1-9 9z"/>
<path color=#00a1e2 d="M1744 420l8-9-7 1-8 9z"/>
<path color=#0089e0 d="M1735 430l9-10-7 1-8 11z"/>
<path color=#0070de d="M1727 441l8-11-6 2-8 11z"/>
<path color=#00002e d="M1637 528l8-3-6 3-8 3z"/>
<path color=#00002d d="M1629 530l8-2-6 3-9 2z"/>
<path color=#00002d d="M1621 530l8 0-7 3-8 0z"/>
<path color=#00002e d="M1612 530l9 0-7 3-8-1z"/>
<path color=#000030 d="M1604 528l8 2-6 2-8-2z"/>
<path color=#003 d="M1596 524l8 4-6 2-8-3z"/>
<path color=#000037 d="M1588 520l8 4-6 3-9-4z"/>
<path color=#008493 d="M1481 435l8 1-6-2-8-2z"/>
<path color=#00a4b3 d="M1473 437l8-2-6-3-8 0z"/>
<path color=#00afc2 d="M1465 440l8-3-6-5-9 3z"/>
<path color=#00acc4 d="M1457 444l8-4-7-5-8 3z"/>
<path color=#01a3c2 d="M1448 449l9-5-7-6-8 4z"/>
<path color=#0197bd d="M1440 454l8-5-6-7-8 4z"/>
<path color=#008bb6 d="M1432 459l8-5-6-8-8 5z"/>
<path color=#007fb0 d="M1424 464l8-5-6-8-9 4z"/>
<path color=#0075a9 d="M1416 467l8-3-7-9-8 3z"/>
<path color=#004371 d="M1840 420l8 2-6-10-8-2z"/>
<path color=#00456d d="M1832 417l8 3-6-10-8-2z"/>
<path color=#004769 d="M1824 414l8 3-6-9-9-3z"/>
<path color=#004b67 d="M1816 410l8 4-7-9-8-3z"/>
<path color=#005169 d="M1807 406l9 4-7-8-8-3z"/>
<path color=#005b6f d="M1799 403l8 3-6-7-8-2z"/>
<path color=#006d80 d="M1791 401l8 2-6-6-8-1z"/>
<path color=#008b9e d="M1783 400l8 1-6-5-9 0z"/>
<path color=#00afc5 d="M1775 401l8-1-7-4-8 3z"/>
<path color=#00c0de d="M1766 405l9-4-7-2-8 5z"/>
<path color=#00b8e4 d="M1758 411l8-6-6-1-8 7z"/>
<path color=#00a6e2 d="M1750 419l8-8-6 0-8 9z"/>
<path color=#0090df d="M1742 428l8-9-6 1-9 10z"/>
<path color=#0077dc d="M1734 439l8-11-7 2-8 11z"/>
<path color=#000034 d="M1652 521l8-4-7 4-8 4z"/>
<path color=#000032 d="M1643 524l9-3-7 4-8 3z"/>
<path color=#000031 d="M1635 526l8-2-6 4-8 2z"/>
<path color=#000031 d="M1627 526l8 0-6 4-8 0z"/>
<path color=#000032 d="M1619 526l8 0-6 4-9 0z"/>
<path color=#000034 d="M1611 524l8 2-7 4-8-2z"/>
<path color=#000037 d="M1602 521l9 3-7 4-8-4z"/>
<path color=#00003b d="M1594 516l8 5-6 3-8-4z"/>
<path color=#0096aa d="M1488 438l8 0-7-2-8-1z"/>
<path color=#00abc2 d="M1479 442l9-4-7-3-8 2z"/>
<path color=#01abc7 d="M1471 446l8-4-6-5-8 3z"/>
<path color=#04a5c8 d="M1463 452l8-6-6-6-8 4z"/>
<path color=#0397c3 d="M1455 457l8-5-6-8-9 5z"/>
<path color=#0188bb d="M1447 463l8-6-7-8-8 5z"/>
<path color=#007ab4 d="M1438 469l9-6-7-9-8 5z"/>
<path color=#006ead d="M1430 474l8-5-6-10-8 5z"/>
<path color=#0063a7 d="M1422 478l8-4-6-10-8 3z"/>
<path color=#00356c d="M1847 430l8 3-7-11-8-2z"/>
<path color=#003767 d="M1838 427l9 3-7-10-8-3z"/>
<path color=#003962 d="M1830 423l8 4-6-10-8-3z"/>
<path color=#003d5f d="M1822 419l8 4-6-9-8-4z"/>
<path color=#00425f d="M1814 414l8 5-6-9-9-4z"/>
<path color=#004a62 d="M1806 410l8 4-7-8-8-3z"/>
<path color=#00586d d="M1797 406l9 4-7-7-8-2z"/>
<path color=#007085 d="M1789 404l8 2-6-5-8-1z"/>
<path color=#0095ac d="M1781 404l8 0-6-4-8 1z"/>
<path color=#00b5d3 d="M1773 406l8-2-6-3-9 4z"/>
<path color=#00bae1 d="M1765 410l8-4-7-1-8 6z"/>
<path color=#00abe1 d="M1756 417l9-7-7 1-8 8z"/>
<path color=#0097de d="M1748 426l8-9-6 2-8 9z"/>
<path color=#0080db d="M1740 436l8-10-6 2-8 11z"/>
<path color=#00003c d="M1666 512l8-5-6 5-8 5z"/>
<path color=#000039 d="M1658 517l8-5-6 5-8 4z"/>
<path color=#000037 d="M1650 519l8-2-6 4-9 3z"/>
<path color=#000036 d="M1642 521l8-2-7 5-8 2z"/>
<path color=#000036 d="M1633 522l9-1-7 5-8 0z"/>
<path color=#000037 d="M1625 521l8 1-6 4-8 0z"/>
<path color=#000039 d="M1617 519l8 2-6 5-8-2z"/>
<path color=#00003c d="M1609 516l8 3-6 5-9-3z"/>
<path color=#000040 d="M1601 512l8 4-7 5-8-5z"/>
<path color=#00859b d="M1502 440l8 0-6-1-8-1z"/>
<path color=#00a5bf d="M1494 443l8-3-6-2-8 0z"/>
<path color=#00accb d="M1486 447l8-4-6-5-9 4z"/>
<path color=#09acd3 d="M1478 453l8-6-7-5-8 4z"/>
<path color=#0ea3d4 d="M1469 459l9-6-7-7-8 6z"/>
<path color=#078dc8 d="M1461 466l8-7-6-7-8 5z"/>
<path color=#0279bd d="M1453 473l8-7-6-9-8 6z"/>
<path color=#0069b5 d="M1445 479l8-6-6-10-9 6z"/>
<path color=#005dae d="M1437 484l8-5-7-10-8 5z"/>
<path color=#0052a7 d="M1429 489l8-5-7-10-8 4z"/>
<path color=#003c58 d="M1812 417l8 5-6-8-8-4z"/>
<path color=#00475f d="M1804 412l8 5-6-7-9-4z"/>
<path color=#00596f d="M1796 409l8 3-7-6-8-2z"/>
<path color=#00788f d="M1787 407l9 2-7-5-8 0z"/>
<path color=#00a1bd d="M1779 407l8 0-6-3-8 2z"/>
<path color=#00b6db d="M1771 410l8-3-6-1-8 4z"/>
<path color=#00b0e0 d="M1763 416l8-6-6 0-9 7z"/>
<path color=#009edd d="M1755 424l8-8-7 1-8 9z"/>
<path color=#0089da d="M1746 433l9-9-7 2-8 10z"/>
<path color=#000046 d="M1681 502l8-7-6 6-9 6z"/>
<path color=#000042 d="M1673 507l8-5-7 5-8 5z"/>
<path color=#00003f d="M1664 511l9-4-7 5-8 5z"/>
<path color=#00003c d="M1656 513l8-2-6 6-8 2z"/>
<path color=#00003b d="M1648 515l8-2-6 6-8 2z"/>
<path color=#00003b d="M1640 516l8-1-6 6-9 1z"/>
<path color=#00003c d="M1632 515l8 1-7 6-8-1z"/>
<path color=#00003f d="M1623 513l9 2-7 6-8-2z"/>
<path color=#000042 d="M1615 510l8 3-6 6-8-3z"/>
<path color=#000046 d="M1607 506l8 4-6 6-8-4z"/>
<path color=#00004a d="M1599 501l8 5-6 6-9-5z"/>
<path color=#00404c d="M1517 442l8 1-6 0-9-3z"/>
<path color=#009bb6 d="M1509 443l8-1-7-2-8 0z"/>
<path color=#00accd d="M1500 447l9-4-7-3-8 3z"/>
<path color=#0cb2db d="M1492 453l8-6-6-4-8 4z"/>
<path color=#29c1f5 d="M1484 460l8-7-6-6-8 6z"/>
<path color=#21a9e8 d="M1476 468l8-8-6-7-9 6z"/>
<path color=#0e86d1 d="M1468 475l8-7-7-9-8 7z"/>
<path color=#046cc0 d="M1459 482l9-7-7-9-8 7z"/>
<path color=#015ab7 d="M1451 489l8-7-6-9-8 6z"/>
<path color=#004cb0 d="M1443 494l8-5-6-10-8 5z"/>
<path color=#0041a9 d="M1435 499l8-5-6-10-8 5z"/>
<path color=#00475e d="M1802 414l8 5-6-7-8-3z"/>
<path color=#005f76 d="M1794 410l8 4-6-5-9-2z"/>
<path color=#00859f d="M1786 409l8 1-7-3-8 0z"/>
<path color=#00abcc d="M1777 411l9-2-7-2-8 3z"/>
<path color=#00b3dd d="M1769 415l8-4-6-1-8 6z"/>
<path color=#00a6dd d="M1761 421l8-6-6 1-8 8z"/>
<path color=#0092d9 d="M1753 429l8-8-6 3-9 9z"/>
<path color=#00044c d="M1695 489l9-7-7 6-8 7z"/>
<path color=#00004c d="M1687 495l8-6-6 6-8 7z"/>
<path color=#000048 d="M1679 500l8-5-6 7-8 5z"/>
<path color=#000045 d="M1671 504l8-4-6 7-9 4z"/>
<path color=#000043 d="M1663 507l8-3-7 7-8 2z"/>
<path color=#000042 d="M1654 508l9-1-7 6-8 2z"/>
<path color=#000042 d="M1646 509l8-1-6 7-8 1z"/>
<path color=#000043 d="M1638 508l8 1-6 7-8-1z"/>
<path color=#000045 d="M1630 507l8 1-6 7-9-2z"/>
<path color=#000048 d="M1622 504l8 3-7 6-8-3z"/>
<path color=#00004c d="M1613 500l9 4-7 6-8-4z"/>
<path color=#00044c d="M1605 495l8 5-6 6-8-5z"/>
<path color=#008ba7 d="M1523 444l8-1-6 0-8-1z"/>
<path color=#00aacb d="M1515 447l8-3-6-2-8 1z"/>
<path color=#05afd9 d="M1507 453l8-6-6-4-9 4z"/>
<path color=#44e1ff d="M1499 460l8-7-7-6-8 6z"/>
<path color=#5ae7ff d="M1490 468l9-8-7-7-8 7z"/>
<path color=#3cb6ff d="M1482 476l8-8-6-8-8 8z"/>
<path color=#1b84e0 d="M1474 484l8-8-6-8-8 7z"/>
<path color=#0961c8 d="M1466 491l8-7-6-9-9 7z"/>
<path color=#024abb d="M1458 498l8-7-7-9-8 7z"/>
<path color=#003bb3 d="M1449 505l9-7-7-9-8 5z"/>
<path color=#0030ac d="M1441 510l8-5-6-11-8 5z"/>
<path color=#004b62 d="M1800 415l8 4-6-5-8-4z"/>
<path color=#006a82 d="M1792 412l8 3-6-5-8-1z"/>
<path color=#0095b2 d="M1784 412l8 0-6-3-9 2z"/>
<path color=#00afd5 d="M1776 414l8-2-7-1-8 4z"/>
<path color=#00acdb d="M1767 419l9-5-7 1-8 6z"/>
<path color=#009cd8 d="M1759 426l8-7-6 2-8 8z"/>
<path color=#00064c d="M1694 488l8-6-7 7-8 6z"/>
<path color=#00024c d="M1685 493l9-5-7 7-8 5z"/>
<path color=#00004c d="M1677 496l8-3-6 7-8 4z"/>
<path color=#00004a d="M1669 499l8-3-6 8-8 3z"/>
<path color=#000049 d="M1661 501l8-2-6 8-9 1z"/>
<path color=#000049 d="M1653 501l8 0-7 7-8 1z"/>
<path color=#00004a d="M1644 501l9 0-7 8-8-1z"/>
<path color=#00004c d="M1636 499l8 2-6 7-8-1z"/>
<path color=#00024c d="M1628 497l8 2-6 8-8-3z"/>
<path color=#00064c d="M1620 493l8 4-6 7-9-4z"/>
<path color=#000b4c d="M1612 489l8 4-7 7-8-5z"/>
<path color=#003f4c d="M1538 444l8 0-6 1-9-2z"/>
<path color=#00a2c2 d="M1530 446l8-2-7-1-8 1z"/>
<path color=#00afd7 d="M1521 451l9-5-7-2-8 3z"/>
<path color=#36daff d="M1513 458l8-7-6-4-8 6z"/>
<path color=#93ffff d="M1505 466l8-8-6-5-8 7z"/>
<path color=#8cffff d="M1497 475l8-9-6-6-9 8z"/>
<path color=#5ecaff d="M1489 484l8-9-7-7-8 8z"/>
<path color=#318af8 d="M1480 493l9-9-7-8-8 8z"/>
<path color=#135bd5 d="M1472 501l8-8-6-9-8 7z"/>
<path color=#053dc2 d="M1464 508l8-7-6-10-8 7z"/>
<path color=#012bb8 d="M1456 515l8-7-6-10-9 7z"/>
<path color=#001fb0 d="M1448 520l8-5-7-10-8 5z"/>
<path color=#00536a d="M1798 415l9 4-7-4-8-3z"/>
<path color=#007993 d="M1790 413l8 2-6-3-8 0z"/>
<path color=#00a2c2 d="M1782 414l8-1-6-1-8 2z"/>
<path color=#00aed7 d="M1774 417l8-3-6 0-9 5z"/>
<path color=#00a4d7 d="M1766 423l8-6-7 2-8 7z"/>
<path color=#0093d3 d="M1757 430l9-7-7 3-8 8z"/>
<path color=#000a4c d="M1692 485l8-5-6 8-9 5z"/>
<path color=#00084c d="M1684 488l8-3-7 8-8 3z"/>
<path color=#00064c d="M1675 491l9-3-7 8-8 3z"/>
<path color=#00054c d="M1667 492l8-1-6 8-8 2z"/>
<path color=#00054c d="M1659 493l8-1-6 9-8 0z"/>
<path color=#00064c d="M1651 493l8 0-6 8-9 0z"/>
<path color=#00084c d="M1643 491l8 2-7 8-8-2z"/>
<path color=#000a4c d="M1634 489l9 2-7 8-8-2z"/>
<path color=#000e4c d="M1626 486l8 3-6 8-8-4z"/>
<path color=#00124c d="M1618 482l8 4-6 7-8-4z"/>
<path color=#0095b2 d="M1544 445l8-1-6 0-8 0z"/>
<path color=#00afd5 d="M1536 450l8-5-6-1-8 2z"/>
<path color=#0ebae9 d="M1528 456l8-6-6-4-9 5z"/>
<path color=#90ffff d="M1520 464l8-8-7-5-8 7z"/>
<path color=#cdffff d="M1511 473l9-9-7-6-8 8z"/>
<path color=#b5ffff d="M1503 482l8-9-6-7-8 9z"/>
<path color=#85e3ff d="M1495 492l8-10-6-7-8 9z"/>
<path color=#529dff d="M1487 501l8-9-6-8-9 9z"/>
<path color=#2861ee d="M1479 509l8-8-7-8-8 8z"/>
<path color=#0e36cf d="M1470 517l9-8-7-8-8 7z"/>
<path color=#031dbf d="M1462 524l8-7-6-9-8 7z"/>
<path color=#000fb6 d="M1454 530l8-6-6-9-8 5z"/>
<path color=#008ba7 d="M1788 414l9 1-7-2-8 1z"/>
<path color=#00aacb d="M1780 416l8-2-6 0-8 3z"/>
<path color=#00abd4 d="M1772 420l8-4-6 1-8 6z"/>
<path color=#009ed2 d="M1764 426l8-6-6 3-9 7z"/>
<path color=#00104c d="M1690 480l8-4-6 9-8 3z"/>
<path color=#000e4c d="M1682 482l8-2-6 8-9 3z"/>
<path color=#000d4c d="M1674 484l8-2-7 9-8 1z"/>
<path color=#000d4c d="M1665 484l9 0-7 8-8 1z"/>
<path color=#000e4c d="M1657 484l8 0-6 9-8 0z"/>
<path color=#00104c d="M1649 483l8 1-6 9-8-2z"/>
<path color=#00124c d="M1641 481l8 2-6 8-9-2z"/>
<path color=#00154c d="M1633 478l8 3-7 8-8-3z"/>
<path color=#00194c d="M1624 474l9 4-7 8-8-4z"/>
<path color=#00abcc d="M1551 448l8-4-7 0-8 1z"/>
<path color=#00b3de d="M1542 453l9-5-7-3-8 5z"/>
<path color=#48eeff d="M1534 461l8-8-6-3-8 6z"/>
<path color=#c9ffff d="M1526 470l8-9-6-5-8 8z"/>
<path color=#e4ffff d="M1518 480l8-10-6-6-9 9z"/>
<path color=#d0ffff d="M1510 490l8-10-7-7-8 9z"/>
<path color=#adfeff d="M1501 499l9-9-7-8-8 10z"/>
<path color=#80bdff d="M1493 509l8-10-6-7-8 9z"/>
<path color=#4f78ff d="M1485 518l8-9-6-8-8 8z"/>
<path color=#243cea d="M1477 526l8-8-6-9-9 8z"/>
<path color=#0a15cb d="M1469 533l8-7-7-9-8 7z"/>
<path color=#0202bb d="M1461 539l8-6-7-9-8 6z"/>
<path color=#00accd d="M1778 418l9-3-7 1-8 4z"/>
<path color=#00a6d0 d="M1770 422l8-4-6 2-8 6z"/>
<path color=#00174c d="M1688 473l8-2-6 9-8 2z"/>
<path color=#00164c d="M1680 475l8-2-6 9-8 2z"/>
<path color=#00164c d="M1672 475l8 0-6 9-9 0z"/>
<path color=#00174c d="M1664 475l8 0-7 9-8 0z"/>
<path color=#00184c d="M1655 474l9 1-7 9-8-1z"/>
<path color=#001b4c d="M1647 472l8 2-6 9-8-2z"/>
<path color=#001d4c d="M1639 470l8 2-6 9-8-3z"/>
<path color=#00a1bd d="M1565 446l8-3-6 1-8 0z"/>
<path color=#00b6db d="M1557 450l8-4-6-2-8 4z"/>
<path color=#0bbbeb d="M1549 457l8-7-6-2-9 5z"/>
<path color=#7affff d="M1541 466l8-9-7-4-8 8z"/>
<path color=#cbffff d="M1532 476l9-10-7-5-8 9z"/>
<path color=#dcffff d="M1524 486l8-10-6-6-8 10z"/>
<path color=#d8ffff d="M1516 496l8-10-6-6-8 10z"/>
<path color=#cdffff d="M1508 506l8-10-6-6-9 9z"/>
<path color=#b5e4ff d="M1500 516l8-10-7-7-8 10z"/>
<path color=#8aa5ff d="M1491 525l9-9-7-7-8 9z"/>
<path color=#525cff d="M1483 533l8-8-6-7-8 8z"/>
<path color=#2121e2 d="M1475 541l8-8-6-7-8 7z"/>
<path color=#0808b7 d="M1467 547l8-6-6-8-8 6z"/>
<path color=#00abcb d="M1777 419l8-3-7 2-8 4z"/>
<path color=#001f4c d="M1678 466l8 0-6 9-8 0z"/>
<path color=#00204c d="M1670 466l8 0-6 9-8 0z"/>
<path color=#00214c d="M1662 466l8 0-6 9-9-1z"/>
<path color=#00234c d="M1654 464l8 2-7 8-8-2z"/>
<path color=#00264c d="M1645 462l9 2-7 8-8-2z"/>
<path color=#00424c d="M1580 443l8-1-6 2-9-1z"/>
<path color=#00b5d3 d="M1572 447l8-4-7 0-8 3z"/>
<path color=#00bae2 d="M1563 453l9-6-7-1-8 4z"/>
<path color=#21ccff d="M1555 461l8-8-6-3-8 7z"/>
<path color=#78ffff d="M1547 471l8-10-6-4-8 9z"/>
<path color=#a6ffff d="M1539 481l8-10-6-5-9 10z"/>
<path color=#b7ffff d="M1531 492l8-11-7-5-8 10z"/>
<path color=#c4ffff d="M1522 502l9-10-7-6-8 10z"/>
<path color=#d2ffff d="M1514 513l8-11-6-6-8 10z"/>
<path color=#d9fbff d="M1506 523l8-10-6-7-8 10z"/>
<path color=#cbd9ff d="M1498 532l8-9-6-7-9 9z"/>
<path color=#9c9cff d="M1490 540l8-8-7-7-8 8z"/>
<path color=#55f d="M1481 548l9-8-7-7-8 8z"/>
<path color=#1b1bc3 d="M1473 554l8-6-6-7-8 6z"/>
<path color=#001461 d="M1857 465l8 8-6-5-9-9z"/>
<path color=#00afc5 d="M1586 444l8-3-6 1-8 1z"/>
<path color=#00c0de d="M1578 449l8-5-6-1-8 4z"/>
<path color=#02bae5 d="M1570 456l8-7-6-2-9 6z"/>
<path color=#25cbff d="M1562 465l8-9-7-3-8 8z"/>
<path color=#55e4ff d="M1553 475l9-10-7-4-8 10z"/>
<path color=#6ee5ff d="M1545 486l8-11-6-4-8 10z"/>
<path color=#7eddff d="M1537 497l8-11-6-5-8 11z"/>
<path color=#91d7ff d="M1529 508l8-11-6-5-9 10z"/>
<path color=#acdaff d="M1521 518l8-10-7-6-8 11z"/>
<path color=#cce3ff d="M1512 529l9-11-7-5-8 10z"/>
<path color=#e3e5ff d="M1504 538l8-9-6-6-8 9z"/>
<path color=#dbdbff d="M1496 547l8-9-6-6-8 8z"/>
<path color=#9e9eff d="M1488 554l8-7-6-7-9 8z"/>
<path color=#4646e7 d="M1480 561l8-7-7-6-8 6z"/>
<path color=#00065e d="M1871 478l9 8-7-5-8-8z"/>
<path color=#001162 d="M1863 469l8 9-6-5-8-8z"/>
<path color=#001c65 d="M1855 460l8 9-6-4-8-9z"/>
<path color=#00c0d6 d="M1593 445l8-4-7 0-8 3z"/>
<path color=#00c4e3 d="M1584 451l9-6-7-1-8 5z"/>
<path color=#04bae8 d="M1576 459l8-8-6-2-8 7z"/>
<path color=#18b9fa d="M1568 468l8-9-6-3-8 9z"/>
<path color=#2cb5ff d="M1560 479l8-11-6-3-9 10z"/>
<path color=#37a8ff d="M1552 490l8-11-7-4-8 11z"/>
<path color=#4299ff d="M1543 501l9-11-7-4-8 11z"/>
<path color=#508eff d="M1535 512l8-11-6-4-8 11z"/>
<path color=#668bff d="M1527 523l8-11-6-4-8 10z"/>
<path color=#8593ff d="M1519 533l8-10-6-5-9 11z"/>
<path color=#ababff d="M1511 543l8-10-7-4-8 9z"/>
<path color=#c5c5ff d="M1502 552l9-9-7-5-8 9z"/>
<path color=#b3b3ff d="M1494 559l8-7-6-5-8 7z"/>
<path color=#6969ff d="M1486 566l8-7-6-5-8 7z"/>
<path color=#00003a d="M1902 504l9 6-7-5-8-5z"/>
<path color=#004 d="M1894 497l8 7-6-4-8-7z"/>
<path color=#000053 d="M1886 490l8 7-6-4-8-7z"/>
<path color=#00035f d="M1878 482l8 8-6-4-9-8z"/>
<path color=#000d64 d="M1870 473l8 9-7-4-8-9z"/>
<path color=#001966 d="M1861 464l9 9-7-4-8-9z"/>
<path color=#00474c d="M1779 418l9-3-7 2-8 4z"/>
<path color=#00454c d="M1771 421l8-3-6 3-8 4z"/>
<path color=#00bcc9 d="M1607 441l8-3-6 1-8 2z"/>
<path color=#00cade d="M1599 446l8-5-6 0-8 4z"/>
<path color=#00c4e5 d="M1591 453l8-7-6-1-9 6z"/>
<path color=#03b6e7 d="M1583 461l8-8-7-2-8 8z"/>
<path color=#0aa7ed d="M1574 471l9-10-7-2-8 9z"/>
<path color=#1095f1 d="M1566 482l8-11-6-3-8 11z"/>
<path color=#147ff3 d="M1558 493l8-11-6-3-8 11z"/>
<path color=#1768f6 d="M1550 505l8-12-6-3-9 11z"/>
<path color=#1d54fc d="M1542 516l8-11-7-4-8 11z"/>
<path color=#2644ff d="M1533 527l9-11-7-4-8 11z"/>
<path color=#343aff d="M1525 537l8-10-6-4-8 10z"/>
<path color=#4949ff d="M1517 547l8-10-6-4-8 10z"/>
<path color=#5e5eff d="M1509 556l8-9-6-4-9 9z"/>
<path color=#6363ff d="M1501 563l8-7-7-4-8 7z"/>
<path color=#4545dd d="M1493 570l8-7-7-4-8 7z"/>
<path color=#000038 d="M1909 507l8 6-6-3-9-6z"/>
<path color=#000042 d="M1901 500l8 7-7-3-8-7z"/>
<path color=#000051 d="M1892 493l9 7-7-3-8-7z"/>
<path color=#000060 d="M1884 485l8 8-6-3-8-8z"/>
<path color=#000b64 d="M1876 476l8 9-6-3-8-9z"/>
<path color=#001767 d="M1868 467l8 9-6-3-9-9z"/>
<path color=#002468 d="M1860 457l8 10-7-3-8-9z"/>
<path color=#00bcc4 d="M1786 417l8-2-6 0-9 3z"/>
<path color=#00beca d="M1778 420l8-3-7 1-8 3z"/>
<path color=#00b9ca d="M1769 423l9-3-7 1-8 4z"/>
<path color=#00b1c7 d="M1761 426l8-3-6 2-8 4z"/>
<path color=#00424c d="M1753 429l8-3-6 3-8 3z"/>
<path color=#00b5bc d="M1622 438l8-2-6 1-9 1z"/>
<path color=#00cad5 d="M1614 441l8-3-7 0-8 3z"/>
<path color=#00cfe2 d="M1605 447l9-6-7 0-8 5z"/>
<path color=#00c4e6 d="M1597 454l8-7-6-1-8 7z"/>
<path color=#01b2e6 d="M1589 463l8-9-6-1-8 8z"/>
<path color=#039de6 d="M1581 474l8-11-6-2-9 10z"/>
<path color=#0485e5 d="M1573 485l8-11-7-3-8 11z"/>
<path color=#046ce5 d="M1564 496l9-11-7-3-8 11z"/>
<path color=#0552e5 d="M1556 507l8-11-6-3-8 12z"/>
<path color=#0639e7 d="M1548 519l8-12-6-2-8 11z"/>
<path color=#0821e9 d="M1540 530l8-11-6-3-9 11z"/>
<path color=#0a0bec d="M1532 540l8-10-7-3-8 10z"/>
<path color=#0e0eda d="M1523 550l9-10-7-3-8 10z"/>
<path color=#1212ca d="M1515 559l8-9-6-3-8 9z"/>
<path color=#1414b9 d="M1507 566l8-7-6-3-8 7z"/>
<path color=#0e0ea3 d="M1499 573l8-7-6-3-8 7z"/>
<path color=#000032 d="M1923 514l8 5-6-2-8-4z"/>
<path color=#000037 d="M1915 509l8 5-6-1-8-6z"/>
<path color=#000042 d="M1907 502l8 7-6-2-8-7z"/>
<path color=#000051 d="M1899 495l8 7-6-2-9-7z"/>
<path color=#000060 d="M1891 486l8 9-7-2-8-8z"/>
<path color=#000a65 d="M1882 478l9 8-7-1-8-9z"/>
<path color=#001668 d="M1874 468l8 10-6-2-8-9z"/>
<path color=#002369 d="M1866 459l8 9-6-1-8-10z"/>
<path color=#00494c d="M1809 415l8 2-7-1-8-2z"/>
<path color=#00abaf d="M1800 415l9 0-7-1-8 1z"/>
<path color=#00c0c5 d="M1792 417l8-2-6 0-8 2z"/>
<path color=#00c8d0 d="M1784 420l8-3-6 0-8 3z"/>
<path color=#00c7d3 d="M1776 423l8-3-6 0-9 3z"/>
<path color=#00c2d4 d="M1768 426l8-3-7 0-8 3z"/>
<path color=#00bbd1 d="M1759 429l9-3-7 0-8 3z"/>
<path color=#00b3ce d="M1751 432l8-3-6 0-8 3z"/>
<path color=#00acca d="M1743 434l8-2-6 0-8 3z"/>
<path color=#00a5c5 d="M1735 436l8-2-6 1-9 2z"/>
<path color=#009fbf d="M1727 438l8-2-7 1-8 1z"/>
<path color=#009aba d="M1718 439l9-1-7 0-8 2z"/>
<path color=#00404c d="M1702 440l8 0-6 0-8 1z"/>
<path color=#00c1c5 d="M1628 439l8-2-6-1-8 2z"/>
<path color=#00d0da d="M1620 442l8-3-6-1-8 3z"/>
<path color=#00d1e3 d="M1612 448l8-6-6-1-9 6z"/>
<path color=#00c4e6 d="M1604 456l8-8-7-1-8 7z"/>
<path color=#00b0e5 d="M1595 465l9-9-7-2-8 9z"/>
<path color=#0099e4 d="M1587 475l8-10-6-2-8 11z"/>
<path color=#0180e3 d="M1579 486l8-11-6-1-8 11z"/>
<path color=#0166e2 d="M1571 498l8-12-6-1-9 11z"/>
<path color=#014be2 d="M1563 509l8-11-7-2-8 11z"/>
<path color=#0131e2 d="M1554 521l9-12-7-2-8 12z"/>
<path color=#0117e3 d="M1546 532l8-11-6-2-8 11z"/>
<path color=#0101e2 d="M1538 542l8-10-6-2-8 10z"/>
<path color=#0101cc d="M1530 552l8-10-6-2-9 10z"/>
<path color=#0101b8 d="M1522 560l8-8-7-2-8 9z"/>
<path color=#0101a5 d="M1513 568l9-8-7-1-8 7z"/>
<path color=#010195 d="M1505 575l8-7-6-2-8 7z"/>
<path color=#000032 d="M1930 515l8 4-7 0-8-5z"/>
<path color=#000037 d="M1922 509l8 6-7-1-8-5z"/>
<path color=#000042 d="M1913 503l9 6-7 0-8-7z"/>
<path color=#000051 d="M1905 495l8 8-6-1-8-7z"/>
<path color=#000060 d="M1897 487l8 8-6 0-8-9z"/>
<path color=#000a65 d="M1889 478l8 9-6-1-9-8z"/>
<path color=#001668 d="M1881 469l8 9-7 0-8-10z"/>
<path color=#002369 d="M1872 460l9 9-7-1-8-9z"/>
<path color=#002f68 d="M1864 451l8 9-6-1-8-9z"/>
<path color=#00888e d="M1815 417l8 1-6-1-8-2z"/>
<path color=#00abaf d="M1807 417l8 0-6-2-9 0z"/>
<path color=#00c0c5 d="M1799 419l8-2-7-2-8 2z"/>
<path color=#00c8d0 d="M1790 422l9-3-7-2-8 3z"/>
<path color=#00c7d3 d="M1782 425l8-3-6-2-8 3z"/>
<path color=#00c2d4 d="M1774 429l8-4-6-2-8 3z"/>
<path color=#00bbd1 d="M1766 432l8-3-6-3-9 3z"/>
<path color=#00b3ce d="M1758 435l8-3-7-3-8 3z"/>
<path color=#00acca d="M1749 437l9-2-7-3-8 2z"/>
<path color=#00a5c5 d="M1741 439l8-2-6-3-8 2z"/>
<path color=#009fbf d="M1733 441l8-2-6-3-8 2z"/>
<path color=#009aba d="M1725 442l8-1-6-3-9 1z"/>
<path color=#0096b4 d="M1717 443l8-1-7-3-8 1z"/>
<path color=#0092af d="M1708 443l9 0-7-3-8 0z"/>
<path color=#008ea9 d="M1700 444l8-1-6-3-8 1z"/>
<path color=#008ba2 d="M1692 443l8 1-6-3-8-1z"/>
<path color=#00889c d="M1684 443l8 0-6-3-9 0z"/>
<path color=#008797 d="M1676 442l8 1-7-3-8-1z"/>
<path color=#008894 d="M1667 440l9 2-7-3-8-1z"/>
<path color=#008d96 d="M1659 439l8 1-6-2-8-1z"/>
<path color=#00989e d="M1651 439l8 0-6-2-8-1z"/>
<path color=#00aaaf d="M1643 439l8 0-6-3-9 1z"/>
<path color=#00c1c5 d="M1635 440l8-1-7-2-8 2z"/>
<path color=#00d0da d="M1626 444l9-4-7-1-8 3z"/>
<path color=#00d1e3 d="M1618 450l8-6-6-2-8 6z"/>
<path color=#00c4e6 d="M1610 457l8-7-6-2-8 8z"/>
<path color=#00b0e5 d="M1602 466l8-9-6-1-9 9z"/>
<path color=#0099e3 d="M1594 476l8-10-7-1-8 10z"/>
<path color=#0080e2 d="M1585 487l9-11-7-1-8 11z"/>
<path color=#0065e2 d="M1577 498l8-11-6-1-8 12z"/>
<path color=#004be1 d="M1569 510l8-12-6 0-8 11z"/>
<path color=#0030e2 d="M1561 521l8-11-6-1-9 12z"/>
<path color=#0017e2 d="M1553 532l8-11-7 0-8 11z"/>
<path color=#0000e1 d="M1544 543l9-11-7 0-8 10z"/>
<path color=#0000cb d="M1536 552l8-9-6-1-8 10z"/>
<path color=#0000b6 d="M1528 561l8-9-6 0-8 8z"/>
<path color=#0000a4 d="M1520 569l8-8-6-1-9 8z"/>
<path color=#000094 d="M1512 575l8-6-7-1-8 7z"/>
<path color=#003 d="M1936 515l8 4-6 0-8-4z"/>
<path color=#000038 d="M1928 509l8 6-6 0-8-6z"/>
<path color=#000042 d="M1920 502l8 7-6 0-9-6z"/>
<path color=#000051 d="M1912 495l8 7-7 1-8-8z"/>
<path color=#000060 d="M1903 487l9 8-7 0-8-8z"/>
<path color=#000b64 d="M1895 478l8 9-6 0-8-9z"/>
<path color=#001767 d="M1887 469l8 9-6 0-8-9z"/>
<path color=#002468 d="M1879 460l8 9-6 0-9-9z"/>
<path color=#002f67 d="M1871 451l8 9-7 0-8-9z"/>
<path color=#008e95 d="M1821 419l9 1-7-2-8-1z"/>
<path color=#00adb4 d="M1813 420l8-1-6-2-8 0z"/>
<path color=#00bcc4 d="M1805 423l8-3-6-3-8 2z"/>
<path color=#00beca d="M1797 426l8-3-6-4-9 3z"/>
<path color=#00b9ca d="M1789 430l8-4-7-4-8 3z"/>
<path color=#00b1c7 d="M1780 434l9-4-7-5-8 4z"/>
<path color=#00a8c3 d="M1772 437l8-3-6-5-8 3z"/>
<path color=#009fbe d="M1764 440l8-3-6-5-8 3z"/>
<path color=#0096b8 d="M1756 443l8-3-6-5-9 2z"/>
<path color=#008fb2 d="M1748 445l8-2-7-6-8 2z"/>
<path color=#0089ac d="M1739 447l9-2-7-6-8 2z"/>
<path color=#0084a7 d="M1731 448l8-1-6-6-8 1z"/>
<path color=#0080a2 d="M1723 449l8-1-6-6-8 1z"/>
<path color=#007d9d d="M1715 450l8-1-6-6-9 0z"/>
<path color=#007a98 d="M1707 450l8 0-7-7-8 1z"/>
<path color=#007893 d="M1698 449l9 1-7-6-8-1z"/>
<path color=#00778f d="M1690 448l8 1-6-6-8 0z"/>
<path color=#00778b d="M1682 447l8 1-6-5-8-1z"/>
<path color=#007989 d="M1674 445l8 2-6-5-9-2z"/>
<path color=#007f8b d="M1666 444l8 1-7-5-8-1z"/>
<path color=#008a92 d="M1657 442l9 2-7-5-8 0z"/>
<path color=#009ca3 d="M1649 442l8 0-6-3-8 0z"/>
<path color=#00b5bc d="M1641 443l8-1-6-3-8 1z"/>
<path color=#00cad5 d="M1633 446l8-3-6-3-9 4z"/>
<path color=#00cfe2 d="M1625 451l8-5-7-2-8 6z"/>
<path color=#00c4e5 d="M1616 458l9-7-7-1-8 7z"/>
<path color=#00b1e5 d="M1608 466l8-8-6-1-8 9z"/>
<path color=#009ae3 d="M1600 476l8-10-6 0-8 10z"/>
<path color=#0081e2 d="M1592 487l8-11-6 0-9 11z"/>
<path color=#0067e1 d="M1584 498l8-11-7 0-8 11z"/>
<path color=#004de1 d="M1575 510l9-12-7 0-8 12z"/>
<path color=#0033e1 d="M1567 521l8-11-6 0-8 11z"/>
<path color=#0019e1 d="M1559 532l8-11-6 0-8 11z"/>
<path color=#0001e2 d="M1551 542l8-10-6 0-9 11z"/>
<path color=#00c d="M1543 552l8-10-7 1-8 9z"/>
<path color=#0000b8 d="M1534 561l9-9-7 0-8 9z"/>
<path color=#0000a5 d="M1526 568l8-7-6 0-8 8z"/>
<path color=#000095 d="M1518 575l8-7-6 1-8 6z"/>
<path color=#000035 d="M1943 513l8 4-7 2-8-4z"/>
<path color=#00003a d="M1934 508l9 5-7 2-8-6z"/>
<path color=#004 d="M1926 501l8 7-6 1-8-7z"/>
<path color=#000053 d="M1918 494l8 7-6 1-8-7z"/>
<path color=#00035f d="M1910 486l8 8-6 1-9-8z"/>
<path color=#000d64 d="M1902 477l8 9-7 1-8-9z"/>
<path color=#001966 d="M1893 468l9 9-7 1-8-9z"/>
<path color=#002567 d="M1885 459l8 9-6 1-8-9z"/>
<path color=#003166 d="M1877 450l8 9-6 1-8-9z"/>
<path color=#00747f d="M1836 422l8 2-6-1-8-3z"/>
<path color=#0099a3 d="M1828 423l8-1-6-2-9-1z"/>
<path color=#00b0bb d="M1820 425l8-2-7-4-8 1z"/>
<path color=#00b5c4 d="M1811 428l9-3-7-5-8 3z"/>
<path color=#00b0c4 d="M1803 432l8-4-6-5-8 3z"/>
<path color=#00a7c1 d="M1795 437l8-5-6-6-8 4z"/>
<path color=#009dbc d="M1787 441l8-4-6-7-9 4z"/>
<path color=#0092b6 d="M1779 445l8-4-7-7-8 3z"/>
<path color=#0088b0 d="M1770 448l9-3-7-8-8 3z"/>
<path color=#0080aa d="M1762 451l8-3-6-8-8 3z"/>
<path color=#0078a3 d="M1754 454l8-3-6-8-8 2z"/>
<path color=#00729e d="M1746 456l8-2-6-9-9 2z"/>
<path color=#006d98 d="M1738 457l8-1-7-9-8 1z"/>
<path color=#006a93 d="M1729 458l9-1-7-9-8 1z"/>
<path color=#00678f d="M1721 458l8 0-6-9-8 1z"/>
<path color=#00658a d="M1713 458l8 0-6-8-8 0z"/>
<path color=#006485 d="M1705 457l8 1-6-8-9-1z"/>
<path color=#006481 d="M1697 456l8 1-7-8-8-1z"/>
<path color=#00657e d="M1688 454l9 2-7-8-8-1z"/>
<path color=#00677c d="M1680 452l8 2-6-7-8-2z"/>
<path color=#006c7d d="M1672 450l8 2-6-7-8-1z"/>
<path color=#007583 d="M1664 448l8 2-6-6-9-2z"/>
<path color=#008691 d="M1656 446l8 2-7-6-8 0z"/>
<path color=#00a0aa d="M1647 446l9 0-7-4-8 1z"/>
<path color=#00bcc9 d="M1639 448l8-2-6-3-8 3z"/>
<path color=#00cade d="M1631 452l8-4-6-2-8 5z"/>
<path color=#00c4e5 d="M1623 458l8-6-6-1-9 7z"/>
<path color=#00b3e4 d="M1615 466l8-8-7 0-8 8z"/>
<path color=#009de2 d="M1606 476l9-10-7 0-8 10z"/>
<path color=#0085e1 d="M1598 486l8-10-6 0-8 11z"/>
<path color=#006be0 d="M1590 497l8-11-6 1-8 11z"/>
<path color=#0051df d="M1582 509l8-12-6 1-9 12z"/>
<path color=#0037df d="M1574 520l8-11-7 1-8 11z"/>
<path color=#001edf d="M1565 531l9-11-7 1-8 11z"/>
<path color=#0006df d="M1557 541l8-10-6 1-8 10z"/>
<path color=#0000cf d="M1549 551l8-10-6 1-8 10z"/>
<path color=#00b d="M1541 559l8-8-6 1-9 9z"/>
<path color=#0000a8 d="M1533 567l8-8-7 2-8 7z"/>
<path color=#000098 d="M1525 573l8-6-7 1-8 7z"/>
<path color=#000037 d="M1949 510l8 5-6 2-8-4z"/>
<path color=#00003d d="M1941 505l8 5-6 3-9-5z"/>
<path color=#000046 d="M1933 499l8 6-7 3-8-7z"/>
<path color=#005 d="M1924 491l9 8-7 2-8-7z"/>
<path color=#00065e d="M1916 483l8 8-6 3-8-8z"/>
<path color=#001162 d="M1908 475l8 8-6 3-8-9z"/>
<path color=#001c65 d="M1900 466l8 9-6 2-9-9z"/>
<path color=#002865 d="M1892 457l8 9-7 2-8-9z"/>
<path color=#003264 d="M1883 448l9 9-7 2-8-9z"/>
<path color=#003b5f d="M1875 441l8 7-6 2-8-8z"/>
<path color=#008493 d="M1842 425l9 1-7-2-8-2z"/>
<path color=#00a4b3 d="M1834 427l8-2-6-3-8 1z"/>
<path color=#00afc2 d="M1826 430l8-3-6-4-8 2z"/>
<path color=#00acc4 d="M1818 435l8-5-6-5-9 3z"/>
<path color=#00a2c1 d="M1810 440l8-5-7-7-8 4z"/>
<path color=#0096bc d="M1801 445l9-5-7-8-8 5z"/>
<path color=#008ab6 d="M1793 450l8-5-6-8-8 4z"/>
<path color=#007fb0 d="M1785 454l8-4-6-9-8 4z"/>
<path color=#0075a9 d="M1777 458l8-4-6-9-9 3z"/>
<path color=#006ca2 d="M1769 461l8-3-7-10-8 3z"/>
<path color=#00659c d="M1760 464l9-3-7-10-8 3z"/>
<path color=#005f96 d="M1752 466l8-2-6-10-8 2z"/>
<path color=#005a90 d="M1744 467l8-1-6-10-8 1z"/>
<path color=#00578b d="M1736 468l8-1-6-10-9 1z"/>
<path color=#005586 d="M1728 468l8 0-7-10-8 0z"/>
<path color=#005381 d="M1719 468l9 0-7-10-8 0z"/>
<path color=#00537c d="M1711 466l8 2-6-10-8-1z"/>
<path color=#005378 d="M1703 465l8 1-6-9-8-1z"/>
<path color=#005474 d="M1695 463l8 2-6-9-9-2z"/>
<path color=#005671 d="M1687 460l8 3-7-9-8-2z"/>
<path color=#005a71 d="M1678 457l9 3-7-8-8-2z"/>
<path color=#006274 d="M1670 454l8 3-6-7-8-2z"/>
<path color=#006f7f d="M1662 452l8 2-6-6-8-2z"/>
<path color=#008695 d="M1654 451l8 1-6-6-9 0z"/>
<path color=#00a6b6 d="M1646 451l8 0-7-5-8 2z"/>
<path color=#00c0d6 d="M1637 454l9-3-7-3-8 4z"/>
<path color=#00c4e3 d="M1629 459l8-5-6-2-8 6z"/>
<path color=#00b6e4 d="M1621 466l8-7-6-1-8 8z"/>
<path color=#00a1e2 d="M1613 475l8-9-6 0-9 10z"/>
<path color=#0089e0 d="M1605 485l8-10-7 1-8 10z"/>
<path color=#0070de d="M1596 496l9-11-7 1-8 11z"/>
<path color=#0057dd d="M1588 507l8-11-6 1-8 12z"/>
<path color=#003edd d="M1580 518l8-11-6 2-8 11z"/>
<path color=#0025dc d="M1572 528l8-10-6 2-9 11z"/>
<path color=#000edc d="M1564 539l8-11-7 3-8 10z"/>
<path color=#0000d3 d="M1555 548l9-9-7 2-8 10z"/>
<path color=#0000bf d="M1547 557l8-9-6 3-8 8z"/>
<path color=#0000ac d="M1539 564l8-7-6 2-8 8z"/>
<path color=#00009c d="M1531 571l8-7-6 3-8 6z"/>
<path color=#00003b d="M1955 507l8 4-6 4-8-5z"/>
<path color=#000040 d="M1947 501l8 6-6 3-8-5z"/>
<path color=#000049 d="M1939 495l8 6-6 4-8-6z"/>
<path color=#000157 d="M1931 488l8 7-6 4-9-8z"/>
<path color=#000a5d d="M1923 480l8 8-7 3-8-8z"/>
<path color=#001461 d="M1914 472l9 8-7 3-8-8z"/>
<path color=#002063 d="M1906 463l8 9-6 3-8-9z"/>
<path color=#002b63 d="M1898 455l8 8-6 3-8-9z"/>
<path color=#003461 d="M1890 447l8 8-6 2-9-9z"/>
<path color=#003b5b d="M1882 439l8 8-7 1-8-7z"/>
<path color=#0096aa d="M1849 429l8-1-6-2-9-1z"/>
<path color=#00abc2 d="M1841 432l8-3-7-4-8 2z"/>
<path color=#00abc7 d="M1832 437l9-5-7-5-8 3z"/>
<path color=#00a2c5 d="M1824 442l8-5-6-7-8 5z"/>
<path color=#0095c0 d="M1816 448l8-6-6-7-8 5z"/>
<path color=#0087ba d="M1808 454l8-6-6-8-9 5z"/>
<path color=#007ab4 d="M1800 459l8-5-7-9-8 5z"/>
<path color=#006ead d="M1791 464l9-5-7-9-8 4z"/>
<path color=#0063a7 d="M1783 468l8-4-6-10-8 4z"/>
<path color=#005aa0 d="M1775 472l8-4-6-10-8 3z"/>
<path color=#005399 d="M1767 475l8-3-6-11-9 3z"/>
<path color=#004d93 d="M1759 477l8-2-7-11-8 2z"/>
<path color=#00498d d="M1750 478l9-1-7-11-8 1z"/>
<path color=#004687 d="M1742 479l8-1-6-11-8 1z"/>
<path color=#004481 d="M1734 479l8 0-6-11-8 0z"/>
<path color=#00437c d="M1726 478l8 1-6-11-9 0z"/>
<path color=#004376 d="M1718 477l8 1-7-10-8-2z"/>
<path color=#004371 d="M1709 475l9 2-7-11-8-1z"/>
<path color=#00456d d="M1701 472l8 3-6-10-8-2z"/>
<path color=#004769 d="M1693 469l8 3-6-9-8-3z"/>
<path color=#004b67 d="M1685 465l8 4-6-9-9-3z"/>
<path color=#005169 d="M1677 461l8 4-7-8-8-3z"/>
<path color=#005b6f d="M1668 458l9 3-7-7-8-2z"/>
<path color=#006d80 d="M1660 456l8 2-6-6-8-1z"/>
<path color=#008b9e d="M1652 455l8 1-6-5-8 0z"/>
<path color=#00afc5 d="M1644 456l8-1-6-4-9 3z"/>
<path color=#00c0de d="M1636 460l8-4-7-2-8 5z"/>
<path color=#00b8e4 d="M1627 466l9-6-7-1-8 7z"/>
<path color=#00a6e2 d="M1619 474l8-8-6 0-8 9z"/>
<path color=#0090df d="M1611 483l8-9-6 1-8 10z"/>
<path color=#0077dc d="M1603 493l8-10-6 2-9 11z"/>
<path color=#005fdb d="M1595 504l8-11-7 3-8 11z"/>
<path color=#0046da d="M1586 515l9-11-7 3-8 11z"/>
<path color=#002ed9 d="M1578 525l8-10-6 3-8 10z"/>
<path color=#0017d8 d="M1570 535l8-10-6 3-8 11z"/>
<path color=#0002d7 d="M1562 545l8-10-6 4-9 9z"/>
<path color=#0000c5 d="M1554 553l8-8-7 3-8 9z"/>
<path color=#0000b2 d="M1545 561l9-8-7 4-8 7z"/>
<path color=#0000a1 d="M1537 567l8-6-6 3-8 7z"/>
<path color=#000040 d="M1962 502l8 4-7 5-8-4z"/>
<path color=#000045 d="M1954 497l8 5-7 5-8-6z"/>
<path color=#00004c d="M1945 491l9 6-7 4-8-6z"/>
<path color=#000655 d="M1937 484l8 7-6 4-8-7z"/>
<path color=#000f5b d="M1929 476l8 8-6 4-8-8z"/>
<path color=#00195e d="M1921 468l8 8-6 4-9-8z"/>
<path color=#002460 d="M1913 460l8 8-7 4-8-9z"/>
<path color=#002e60 d="M1904 452l9 8-7 3-8-8z"/>
<path color=#00365d d="M1896 444l8 8-6 3-8-8z"/>
<path color=#003a55 d="M1888 438l8 6-6 3-8-8z"/>
<path color=#00859b d="M1863 431l9 0-7-1-8-2z"/>
<path color=#00a5bf d="M1855 433l8-2-6-3-8 1z"/>
<path color=#00abcb d="M1847 438l8-5-6-4-8 3z"/>
<path color=#02a4cc d="M1839 443l8-5-6-6-9 5z"/>
<path color=#0298c8 d="M1831 450l8-7-7-6-8 5z"/>
<path color=#0187c2 d="M1822 456l9-6-7-8-8 6z"/>
<path color=#07b d="M1814 463l8-7-6-8-8 6z"/>
<path color=#0069b5 d="M1806 469l8-6-6-9-8 5z"/>
<path color=#005dae d="M1798 474l8-5-6-10-9 5z"/>
<path color=#0052a7 d="M1790 479l8-5-7-10-8 4z"/>
<path color=#0049a0 d="M1781 483l9-4-7-11-8 4z"/>
<path color=#004299 d="M1773 486l8-3-6-11-8 3z"/>
<path color=#003c92 d="M1765 488l8-2-6-11-8 2z"/>
<path color=#00388b d="M1757 490l8-2-6-11-9 1z"/>
<path color=#003685 d="M1749 490l8 0-7-12-8 1z"/>
<path color=#00347f d="M1740 490l9 0-7-11-8 0z"/>
<path color=#003478 d="M1732 489l8 1-6-11-8-1z"/>
<path color=#003472 d="M1724 488l8 1-6-11-8-1z"/>
<path color=#00356c d="M1716 485l8 3-6-11-9-2z"/>
<path color=#003767 d="M1708 482l8 3-7-10-8-3z"/>
<path color=#003962 d="M1699 478l9 4-7-10-8-3z"/>
<path color=#003d5f d="M1691 474l8 4-6-9-8-4z"/>
<path color=#00425f d="M1683 469l8 5-6-9-8-4z"/>
<path color=#004a62 d="M1675 465l8 4-6-8-9-3z"/>
<path color=#00586d d="M1667 461l8 4-7-7-8-2z"/>
<path color=#007085 d="M1658 459l9 2-7-5-8-1z"/>
<path color=#0095ac d="M1650 458l8 1-6-4-8 1z"/>
<path color=#00b5d3 d="M1642 461l8-3-6-2-8 4z"/>
<path color=#00bae1 d="M1634 465l8-4-6-1-9 6z"/>
<path color=#00abe1 d="M1626 472l8-7-7 1-8 8z"/>
<path color=#0097de d="M1617 481l9-9-7 2-8 9z"/>
<path color=#0080db d="M1609 491l8-10-6 2-8 10z"/>
<path color=#0068d9 d="M1601 501l8-10-6 2-8 11z"/>
<path color=#0050d7 d="M1593 511l8-10-6 3-9 11z"/>
<path color=#0038d6 d="M1585 522l8-11-7 4-8 10z"/>
<path color=#0022d4 d="M1576 531l9-9-7 3-8 10z"/>
<path color=#000ed3 d="M1568 540l8-9-6 4-8 10z"/>
<path color=#0000a8 d="M1544 562l8-6-7 5-8 6z"/>
<path color=#000046 d="M1968 497l8 4-6 5-8-4z"/>
<path color=#00004a d="M1960 492l8 5-6 5-8-5z"/>
<path color=#00044c d="M1952 486l8 6-6 5-9-6z"/>
<path color=#000b53 d="M1944 479l8 7-7 5-8-7z"/>
<path color=#001458 d="M1935 472l9 7-7 5-8-8z"/>
<path color=#001e5c d="M1927 464l8 8-6 4-8-8z"/>
<path color=#00285d d="M1919 456l8 8-6 4-8-8z"/>
<path color=#00315c d="M1911 449l8 7-6 4-9-8z"/>
<path color=#003757 d="M1903 442l8 7-7 3-8-8z"/>
<path color=#00374c d="M1894 436l9 6-7 2-8-6z"/>
<path color=#003c4c d="M1886 433l8 3-6 2-8-5z"/>
<path color=#009bb6 d="M1870 434l8-2-6-1-9 0z"/>
<path color=#00accd d="M1862 438l8-4-7-3-8 2z"/>
<path color=#03a9d2 d="M1853 444l9-6-7-5-8 5z"/>
<path color=#0ba3d7 d="M1845 451l8-7-6-6-8 5z"/>
<path color=#0890cf d="M1837 458l8-7-6-8-8 7z"/>
<path color=#037ac5 d="M1829 465l8-7-6-8-9 6z"/>
<path color=#0168bd d="M1821 472l8-7-7-9-8 7z"/>
<path color=#0059b6 d="M1812 479l9-7-7-9-8 6z"/>
<path color=#004cb0 d="M1804 485l8-6-6-10-8 5z"/>
<path color=#0041a9 d="M1796 490l8-5-6-11-8 5z"/>
<path color=#0038a2 d="M1788 494l8-4-6-11-9 4z"/>
<path color=#00319a d="M1780 497l8-3-7-11-8 3z"/>
<path color=#002c93 d="M1771 500l9-3-7-11-8 2z"/>
<path color=#00288c d="M1763 501l8-1-6-12-8 2z"/>
<path color=#002684 d="M1755 502l8-1-6-11-8 0z"/>
<path color=#00257d d="M1747 502l8 0-6-12-9 0z"/>
<path color=#002676 d="M1739 500l8 2-7-12-8-1z"/>
<path color=#00276f d="M1730 498l9 2-7-11-8-1z"/>
<path color=#002869 d="M1722 496l8 2-6-10-8-3z"/>
<path color=#002b63 d="M1714 492l8 4-6-11-8-3z"/>
<path color=#002d5d d="M1706 487l8 5-6-10-9-4z"/>
<path color=#003159 d="M1698 483l8 4-7-9-8-4z"/>
<path color=#003557 d="M1689 477l9 6-7-9-8-5z"/>
<path color=#003c58 d="M1681 472l8 5-6-8-8-4z"/>
<path color=#00475f d="M1673 467l8 5-6-7-8-4z"/>
<path color=#00596f d="M1665 464l8 3-6-6-9-2z"/>
<path color=#00788f d="M1657 462l8 2-7-5-8-1z"/>
<path color=#00a1bd d="M1648 462l9 0-7-4-8 3z"/>
<path color=#00b6db d="M1640 465l8-3-6-1-8 4z"/>
<path color=#00b0e0 d="M1632 471l8-6-6 0-8 7z"/>
<path color=#009edd d="M1624 479l8-8-6 1-9 9z"/>
<path color=#0089da d="M1616 488l8-9-7 2-8 10z"/>
<path color=#0072d7 d="M1607 497l9-9-7 3-8 10z"/>
<path color=#005bd5 d="M1599 507l8-10-6 4-8 10z"/>
<path color=#0044d3 d="M1591 517l8-10-6 4-8 11z"/>
<path color=#002fd1 d="M1583 526l8-9-6 5-9 9z"/>
<path color=#001bce d="M1575 535l8-9-7 5-8 9z"/>
<path color=#000046 d="M1550 556l8-6-6 6-8 6z"/>
<path color=#00004c d="M1975 490l8 4-7 7-8-4z"/>
<path color=#00044c d="M1966 486l9 4-7 7-8-5z"/>
<path color=#000a4c d="M1958 480l8 6-6 6-8-6z"/>
<path color=#001150 d="M1950 474l8 6-6 6-8-7z"/>
<path color=#001955 d="M1942 467l8 7-6 5-9-7z"/>
<path color=#002358 d="M1934 460l8 7-7 5-8-8z"/>
<path color=#002c59 d="M1925 452l9 8-7 4-8-8z"/>
<path color=#003357 d="M1917 445l8 7-6 4-8-7z"/>
<path color=#003650 d="M1909 440l8 5-6 4-8-7z"/>
<path color=#00394c d="M1901 435l8 5-6 2-9-6z"/>
<path color=#003e4c d="M1893 433l8 2-7 1-8-3z"/>
<path color=#008ba7 d="M1884 434l9-1-7 0-8-1z"/>
<path color=#00aacb d="M1876 437l8-3-6-2-8 2z"/>
<path color=#01acd6 d="M1868 443l8-6-6-3-8 4z"/>
<path color=#19b7eb d="M1860 450l8-7-6-5-9 6z"/>
<path color=#21adef d="M1852 458l8-8-7-6-8 7z"/>
<path color=#138ddb d="M1843 466l9-8-7-7-8 7z"/>
<path color=#076fcb d="M1835 474l8-8-6-8-8 7z"/>
<path color=#0159c0 d="M1827 482l8-8-6-9-8 7z"/>
<path color=#0049b9 d="M1819 489l8-7-6-10-9 7z"/>
<path color=#003bb3 d="M1811 495l8-6-7-10-8 6z"/>
<path color=#0030ac d="M1802 500l9-5-7-10-8 5z"/>
<path color=#0027a5 d="M1794 505l8-5-6-10-8 4z"/>
<path color=#00209d d="M1786 508l8-3-6-11-8 3z"/>
<path color=#001c95 d="M1778 511l8-3-6-11-9 3z"/>
<path color=#00198d d="M1770 513l8-2-7-11-8 1z"/>
<path color=#001785 d="M1761 513l9 0-7-12-8 1z"/>
<path color=#00177d d="M1753 513l8 0-6-11-8 0z"/>
<path color=#001875 d="M1745 511l8 2-6-11-8-2z"/>
<path color=#001a6d d="M1737 509l8 2-6-11-9-2z"/>
<path color=#001c66 d="M1729 506l8 3-7-11-8-2z"/>
<path color=#001f5f d="M1720 502l9 4-7-10-8-4z"/>
<path color=#002359 d="M1712 497l8 5-6-10-8-5z"/>
<path color=#002654 d="M1704 491l8 6-6-10-8-4z"/>
<path color=#002b51 d="M1696 486l8 5-6-8-9-6z"/>
<path color=#003150 d="M1688 480l8 6-7-9-8-5z"/>
<path color=#003954 d="M1679 474l9 6-7-8-8-5z"/>
<path color=#00475e d="M1671 469l8 5-6-7-8-3z"/>
<path color=#005f76 d="M1663 465l8 4-6-5-8-2z"/>
<path color=#00859f d="M1655 464l8 1-6-3-9 0z"/>
<path color=#00abcc d="M1647 466l8-2-7-2-8 3z"/>
<path color=#00b3dd d="M1638 470l9-4-7-1-8 6z"/>
<path color=#00a6dd d="M1630 476l8-6-6 1-8 8z"/>
<path color=#0092d9 d="M1622 484l8-8-6 3-8 9z"/>
<path color=#007dd5 d="M1614 493l8-9-6 4-9 9z"/>
<path color=#0067d2 d="M1606 503l8-10-7 4-8 10z"/>
<path color=#0051d0 d="M1597 512l9-9-7 4-8 10z"/>
<path color=#003dcd d="M1589 521l8-9-6 5-8 9z"/>
<path color=#002aca d="M1581 530l8-9-6 5-8 9z"/>
<path color=#00044c d="M1565 544l8-7-7 6-8 7z"/>
<path color=#00004c d="M1557 550l8-6-7 6-8 6z"/>
<path color=#00064c d="M1981 483l8 4-6 7-8-4z"/>
<path color=#000b4c d="M1973 479l8 4-6 7-9-4z"/>
<path color=#00104c d="M1965 474l8 5-7 7-8-6z"/>
<path color=#00164d d="M1956 468l9 6-7 6-8-6z"/>
<path color=#001e52 d="M1948 461l8 7-6 6-8-7z"/>
<path color=#002754 d="M1940 455l8 6-6 6-8-7z"/>
<path color=#002f54 d="M1932 448l8 7-6 5-9-8z"/>
<path color=#003350 d="M1924 442l8 6-7 4-8-7z"/>
<path color=#00374c d="M1915 437l9 5-7 3-8-5z"/>
<path color=#003c4c d="M1907 435l8 2-6 3-8-5z"/>
<path color=#003f4c d="M1899 434l8 1-6 0-8-2z"/>
<path color=#00a2c2 d="M1891 437l8-3-6-1-9 1z"/>
<path color=#00aed7 d="M1883 442l8-5-7-3-8 3z"/>
<path color=#1abef1 d="M1874 449l9-7-7-5-8 6z"/>
<path color=#4bdeff d="M1866 457l8-8-6-6-8 7z"/>
<path color=#41c1ff d="M1858 465l8-8-6-7-8 8z"/>
<path color=#2491ef d="M1850 474l8-9-6-7-9 8z"/>
<path color=#0f68d5 d="M1842 483l8-9-7-8-8 8z"/>
<path color=#044cc6 d="M1833 491l9-8-7-9-8 8z"/>
<path color=#0139be d="M1825 498l8-7-6-9-8 7z"/>
<path color=#002bb7 d="M1817 505l8-7-6-9-8 6z"/>
<path color=#001fb0 d="M1809 511l8-6-6-10-9 5z"/>
<path color=#0016a9 d="M1801 515l8-4-7-11-8 5z"/>
<path color=#0010a1 d="M1792 519l9-4-7-10-8 3z"/>
<path color=#000b99 d="M1784 522l8-3-6-11-8 3z"/>
<path color=#000990 d="M1776 523l8-1-6-11-8 2z"/>
<path color=#000987 d="M1768 524l8-1-6-10-9 0z"/>
<path color=#00097e d="M1760 523l8 1-7-11-8 0z"/>
<path color=#000b75 d="M1751 522l9 1-7-10-8-2z"/>
<path color=#000e6c d="M1743 519l8 3-6-11-8-2z"/>
<path color=#001264 d="M1735 516l8 3-6-10-8-3z"/>
<path color=#00155c d="M1727 511l8 5-6-10-9-4z"/>
<path color=#001955 d="M1719 506l8 5-7-9-8-5z"/>
<path color=#001d4f d="M1710 500l9 6-7-9-8-6z"/>
<path color=#00224c d="M1702 494l8 6-6-9-8-5z"/>
<path color=#00294c d="M1694 487l8 7-6-8-8-6z"/>
<path color=#002f4c d="M1686 480l8 7-6-7-9-6z"/>
<path color=#003952 d="M1678 474l8 6-7-6-8-5z"/>
<path color=#004b62 d="M1669 470l9 4-7-5-8-4z"/>
<path color=#006a82 d="M1661 467l8 3-6-5-8-1z"/>
<path color=#0095b2 d="M1653 467l8 0-6-3-8 2z"/>
<path color=#00afd5 d="M1645 469l8-2-6-1-9 4z"/>
<path color=#00acdb d="M1637 474l8-5-7 1-8 6z"/>
<path color=#009cd8 d="M1628 481l9-7-7 2-8 8z"/>
<path color=#0088d4 d="M1620 489l8-8-6 3-8 9z"/>
<path color=#0073d1 d="M1612 498l8-9-6 4-8 10z"/>
<path color=#005fcd d="M1604 507l8-9-6 5-9 9z"/>
<path color=#004bca d="M1596 515l8-8-7 5-8 9z"/>
<path color=#0039c6 d="M1587 523l9-8-7 6-8 9z"/>
<path color=#00104c d="M1579 531l8-8-6 7-8 7z"/>
<path color=#000b4c d="M1571 537l8-6-6 6-8 7z"/>
<path color=#00064c d="M1563 543l8-6-6 7-8 6z"/>
</g>
<use href="#siil" filter="url(#fsiil)"/>
<g id="siiu" class="sf" transform="scale(.5)">
<path color=#4c2900 d="M1511 229l8 6-7-7-8-7z"/>
<path color=#4c2200 d="M1502 223l9 6-7-8-8-6z"/>
<path color=#4f1d00 d="M1494 218l8 5-6-8-8-6z"/>
<path color=#551900 d="M1486 213l8 5-6-9-8-6z"/>
<path color=#5c1500 d="M1478 209l8 4-6-10-9-4z"/>
<path color=#641200 d="M1470 206l8 3-7-10-8-3z"/>
<path color=#6c0e00 d="M1461 203l9 3-7-10-8-3z"/>
<path color=#750b00 d="M1453 202l8 1-6-10-8-2z"/>
<path color=#7e0900 d="M1445 202l8 0-6-11-8 0z"/>
<path color=#870900 d="M1437 202l8 0-6-11-9 0z"/>
<path color=#900900 d="M1429 204l8-2-7-11-8 2z"/>
<path color=#990b00 d="M1420 206l9-2-7-11-8 3z"/>
<path color=#a11000 d="M1412 210l8-4-6-10-8 3z"/>
<path color=#a91600 d="M1404 214l8-4-6-11-8 5z"/>
<path color=#b01f00 d="M1396 220l8-6-6-10-9 6z"/>
<path color=#b92c02 d="M1388 226l8-6-7-10-8 6z"/>
<path color=#c7420a d="M1379 233l9-7-7-10-8 8z"/>
<path color=#e46a22 d="M1371 241l8-8-6-9-8 8z"/>
<path color=#ffa64c d="M1363 249l8-8-6-9-8 8z"/>
<path color=#ffea7e d="M1355 257l8-8-6-9-9 9z"/>
<path color=#4c3f00 d="M1306 280l8 1-7 0-8-1z"/>
<path color=#4c3c00 d="M1297 275l9 5-7 0-8-3z"/>
<path color=#4c3700 d="M1289 269l8 6-6 2-8-4z"/>
<path color=#503300 d="M1281 263l8 6-6 4-8-6z"/>
<path color=#542f00 d="M1273 255l8 8-6 4-9-7z"/>
<path color=#542700 d="M1265 248l8 7-7 5-8-7z"/>
<path color=#521e00 d="M1256 241l9 7-7 5-8-6z"/>
<path color=#4d1600 d="M1248 235l8 6-6 6-8-6z"/>
<path color=#4c1000 d="M1240 229l8 6-6 6-8-5z"/>
<path color=#4c0b00 d="M1232 224l8 5-6 7-9-5z"/>
<path color=#4c0600 d="M1224 221l8 3-7 7-8-3z"/>
<path color=#512b00 d="M1509 232l8 5-6-8-9-6z"/>
<path color=#542600 d="M1501 227l8 5-7-9-8-5z"/>
<path color=#592300 d="M1492 223l9 4-7-9-8-5z"/>
<path color=#5f1f00 d="M1484 219l8 4-6-10-8-4z"/>
<path color=#661c00 d="M1476 216l8 3-6-10-8-3z"/>
<path color=#6d1a00 d="M1468 214l8 2-6-10-9-3z"/>
<path color=#751800 d="M1460 213l8 1-7-11-8-1z"/>
<path color=#7d1700 d="M1451 213l9 0-7-11-8 0z"/>
<path color=#851700 d="M1443 213l8 0-6-11-8 0z"/>
<path color=#8d1900 d="M1435 215l8-2-6-11-8 2z"/>
<path color=#951c00 d="M1427 217l8-2-6-11-9 2z"/>
<path color=#9d2000 d="M1419 221l8-4-7-11-8 4z"/>
<path color=#a52700 d="M1410 225l9-4-7-11-8 4z"/>
<path color=#ac3000 d="M1402 230l8-5-6-11-8 6z"/>
<path color=#b43c01 d="M1394 236l8-6-6-10-8 6z"/>
<path color=#bd4c04 d="M1386 242l8-6-6-10-9 7z"/>
<path color=#cf6710 d="M1378 249l8-7-7-9-8 8z"/>
<path color=#ef932b d="M1369 257l9-8-7-8-8 8z"/>
<path color=#ffc94f d="M1361 264l8-7-6-8-8 8z"/>
<path color=#4c3e00 d="M1312 278l8 4-6-1-8-1z"/>
<path color=#4c3900 d="M1304 273l8 5-6 2-9-5z"/>
<path color=#503600 d="M1296 266l8 7-7 2-8-6z"/>
<path color=#573300 d="M1287 258l9 8-7 3-8-6z"/>
<path color=#592c00 d="M1279 251l8 7-6 5-8-8z"/>
<path color=#582300 d="M1271 243l8 8-6 4-8-7z"/>
<path color=#551900 d="M1263 236l8 7-6 5-9-7z"/>
<path color=#501100 d="M1255 229l8 7-7 5-8-6z"/>
<path color=#4c0a00 d="M1246 223l9 6-7 6-8-6z"/>
<path color=#4c0400 d="M1238 218l8 5-6 6-8-5z"/>
<path color=#4c0000 d="M1230 214l8 4-6 6-8-3z"/>
<path color=#cb0a00 d="M1638 174l8-8-6 5-8 9z"/>
<path color=#ce1b00 d="M1630 184l8-10-6 6-8 8z"/>
<path color=#593100 d="M1507 237l8 4-6-9-8-5z"/>
<path color=#5d2d00 d="M1499 233l8 4-6-10-9-4z"/>
<path color=#632b00 d="M1491 230l8 3-7-10-8-4z"/>
<path color=#692800 d="M1482 227l9 3-7-11-8-3z"/>
<path color=#6f2700 d="M1474 225l8 2-6-11-8-2z"/>
<path color=#762600 d="M1466 224l8 1-6-11-8-1z"/>
<path color=#7d2500 d="M1458 224l8 0-6-11-9 0z"/>
<path color=#842600 d="M1450 225l8-1-7-11-8 0z"/>
<path color=#8c2800 d="M1441 226l9-1-7-12-8 2z"/>
<path color=#932c00 d="M1433 229l8-3-6-11-8 2z"/>
<path color=#9a3100 d="M1425 232l8-3-6-12-8 4z"/>
<path color=#a23800 d="M1417 236l8-4-6-11-9 4z"/>
<path color=#a94100 d="M1409 240l8-4-7-11-8 5z"/>
<path color=#b04c00 d="M1400 246l9-6-7-10-8 6z"/>
<path color=#b85a01 d="M1392 252l8-6-6-10-8 6z"/>
<path color=#c36e07 d="M1384 258l8-6-6-10-8 7z"/>
<path color=#d78d15 d="M1376 265l8-7-6-9-9 8z"/>
<path color=#f0b128 d="M1368 271l8-6-7-8-8 7z"/>
<path color=#4c4000 d="M1327 282l8 2-7-1-8-1z"/>
<path color=#4c3c00 d="M1318 277l9 5-7 0-8-4z"/>
<path color=#4c3700 d="M1310 270l8 7-6 1-8-5z"/>
<path color=#573700 d="M1302 263l8 7-6 3-8-7z"/>
<path color=#5c3100 d="M1294 255l8 8-6 3-9-8z"/>
<path color=#5d2800 d="M1286 247l8 8-7 3-8-7z"/>
<path color=#5c1e00 d="M1277 238l9 9-7 4-8-8z"/>
<path color=#581400 d="M1269 231l8 7-6 5-8-7z"/>
<path color=#530b00 d="M1261 224l8 7-6 5-8-7z"/>
<path color=#4c0400 d="M1253 218l8 6-6 5-9-6z"/>
<path color=#4a0000 d="M1245 213l8 5-7 5-8-5z"/>
<path color=#460000 d="M1237 209l8 4-7 5-8-4z"/>
<path color=#a80000 d="M1661 154l8-6-6 5-8 6z"/>
<path color=#b90000 d="M1653 162l8-8-6 5-9 7z"/>
<path color=#c00 d="M1645 170l8-8-7 4-8 8z"/>
<path color=#d30e00 d="M1636 179l9-9-7 4-8 10z"/>
<path color=#d42200 d="M1628 189l8-10-6 5-8 9z"/>
<path color=#673700 d="M1497 240l8 3-6-10-8-3z"/>
<path color=#6c3500 d="M1489 238l8 2-6-10-9-3z"/>
<path color=#723400 d="M1481 237l8 1-7-11-8-2z"/>
<path color=#783400 d="M1472 236l9 1-7-12-8-1z"/>
<path color=#7f3400 d="M1464 236l8 0-6-12-8 0z"/>
<path color=#853600 d="M1456 236l8 0-6-12-8 1z"/>
<path color=#8b3800 d="M1448 238l8-2-6-11-9 1z"/>
<path color=#923c00 d="M1440 240l8-2-7-12-8 3z"/>
<path color=#994200 d="M1431 243l9-3-7-11-8 3z"/>
<path color=#a04900 d="M1423 247l8-4-6-11-8 4z"/>
<path color=#a75200 d="M1415 251l8-4-6-11-8 4z"/>
<path color=#ae5d00 d="M1407 256l8-5-6-11-9 6z"/>
<path color=#b56a01 d="M1399 261l8-5-7-10-8 6z"/>
<path color=#be7a03 d="M1390 267l9-6-7-9-8 6z"/>
<path color=#ca8f09 d="M1382 273l8-6-6-9-8 7z"/>
<path color=#d5a40f d="M1374 278l8-5-6-8-8 6z"/>
<path color=#4c3f00 d="M1333 281l8 4-6-1-8-2z"/>
<path color=#4c3a00 d="M1325 275l8 6-6 1-9-5z"/>
<path color=#553a00 d="M1317 268l8 7-7 2-8-7z"/>
<path color=#5d3600 d="M1308 260l9 8-7 2-8-7z"/>
<path color=#602e00 d="M1300 252l8 8-6 3-8-8z"/>
<path color=#602400 d="M1292 243l8 9-6 3-8-8z"/>
<path color=#5e1900 d="M1284 235l8 8-6 4-9-9z"/>
<path color=#5b0f00 d="M1276 227l8 8-7 3-8-7z"/>
<path color=#550600 d="M1267 220l9 7-7 4-8-7z"/>
<path color=#4c0000 d="M1259 213l8 7-6 4-8-6z"/>
<path color=#450000 d="M1251 208l8 5-6 5-8-5z"/>
<path color=#400000 d="M1243 204l8 4-6 5-8-4z"/>
<path color=#a10000 d="M1667 151l8-7-6 4-8 6z"/>
<path color=#b20000 d="M1659 158l8-7-6 3-8 8z"/>
<path color=#c50000 d="M1651 167l8-9-6 4-8 8z"/>
<path color=#d70200 d="M1643 176l8-9-6 3-9 9z"/>
<path color=#d81700 d="M1635 186l8-10-7 3-8 10z"/>
<path color=#714300 d="M1495 248l8 2-6-10-8-2z"/>
<path color=#764300 d="M1487 247l8 1-6-10-8-1z"/>
<path color=#7c4300 d="M1479 247l8 0-6-10-9-1z"/>
<path color=#814400 d="M1471 247l8 0-7-11-8 0z"/>
<path color=#874600 d="M1462 248l9-1-7-11-8 0z"/>
<path color=#8d4900 d="M1454 249l8-1-6-12-8 2z"/>
<path color=#934d00 d="M1446 251l8-2-6-11-8 2z"/>
<path color=#995300 d="M1438 254l8-3-6-11-9 3z"/>
<path color=#a05a00 d="M1430 257l8-3-7-11-8 4z"/>
<path color=#a76300 d="M1421 261l9-4-7-10-8 4z"/>
<path color=#ad6e00 d="M1413 265l8-4-6-10-8 5z"/>
<path color=#b47a00 d="M1405 270l8-5-6-9-8 5z"/>
<path color=#bc8801 d="M1397 275l8-5-6-9-9 6z"/>
<path color=#c39803 d="M1389 280l8-5-7-8-8 6z"/>
<path color=#c8a403 d="M1380 284l9-4-7-7-8 5z"/>
<path color=#4c4200 d="M1348 286l8 3-7-2-8-2z"/>
<path color=#4c3e00 d="M1339 281l9 5-7-1-8-4z"/>
<path color=#503b00 d="M1331 274l8 7-6 0-8-6z"/>
<path color=#5b3b00 d="M1323 266l8 8-6 1-8-7z"/>
<path color=#613400 d="M1315 258l8 8-6 2-9-8z"/>
<path color=#632b00 d="M1307 249l8 9-7 2-8-8z"/>
<path color=#632000 d="M1298 240l9 9-7 3-8-9z"/>
<path color=#611400 d="M1290 232l8 8-6 3-8-8z"/>
<path color=#5d0a00 d="M1282 224l8 8-6 3-8-8z"/>
<path color=#570100 d="M1274 216l8 8-6 3-9-7z"/>
<path color=#490000 d="M1266 210l8 6-7 4-8-7z"/>
<path color=#400000 d="M1257 204l9 6-7 3-8-5z"/>
<path color=#3b0000 d="M1249 200l8 4-6 4-8-4z"/>
<path color=#9c0000 d="M1674 148l8-7-7 3-8 7z"/>
<path color=#ac0000 d="M1666 156l8-8-7 3-8 7z"/>
<path color=#bf0000 d="M1657 164l9-8-7 2-8 9z"/>
<path color=#d30000 d="M1649 174l8-10-6 3-8 9z"/>
<path color=#dc0e00 d="M1641 184l8-10-6 2-8 10z"/>
<path color=#865500 d="M1477 257l8 0-6-10-8 0z"/>
<path color=#8b5700 d="M1469 258l8-1-6-10-9 1z"/>
<path color=#905a00 d="M1461 259l8-1-7-10-8 1z"/>
<path color=#965f00 d="M1452 261l9-2-7-10-8 2z"/>
<path color=#9c6500 d="M1444 263l8-2-6-10-8 3z"/>
<path color=#a26c00 d="M1436 266l8-3-6-9-8 3z"/>
<path color=#a97500 d="M1428 270l8-4-6-9-9 4z"/>
<path color=#b07f00 d="M1420 274l8-4-7-9-8 4z"/>
<path color=#b68b00 d="M1411 278l9-4-7-9-8 5z"/>
<path color=#bd9701 d="M1403 282l8-4-6-8-8 5z"/>
<path color=#c2a301 d="M1395 286l8-4-6-7-8 5z"/>
<path color=#c4ac00 d="M1387 290l8-4-6-6-9 4z"/>
<path color=#4c4200 d="M1354 287l8 4-6-2-8-3z"/>
<path color=#4c3d00 d="M1346 281l8 6-6-1-9-5z"/>
<path color=#573e00 d="M1338 273l8 8-7 0-8-7z"/>
<path color=#5f3b00 d="M1329 265l9 8-7 1-8-8z"/>
<path color=#643200 d="M1321 256l8 9-6 1-8-8z"/>
<path color=#652800 d="M1313 247l8 9-6 2-8-9z"/>
<path color=#651c00 d="M1305 238l8 9-6 2-9-9z"/>
<path color=#621100 d="M1297 229l8 9-7 2-8-8z"/>
<path color=#5e0600 d="M1288 221l9 8-7 3-8-8z"/>
<path color=#500 d="M1280 214l8 7-6 3-8-8z"/>
<path color=#460000 d="M1272 207l8 7-6 2-8-6z"/>
<path color=#3d0000 d="M1264 202l8 5-6 3-9-6z"/>
<path color=#370000 d="M1256 197l8 5-7 2-8-4z"/>
<path color=#980000 d="M1680 146l8-6-6 1-8 7z"/>
<path color=#a80000 d="M1672 154l8-8-6 2-8 8z"/>
<path color=#b00 d="M1664 163l8-9-6 2-9 8z"/>
<path color=#cf0000 d="M1656 172l8-9-7 1-8 10z"/>
<path color=#df0600 d="M1647 183l9-11-7 2-8 10z"/>
<path color=#df1e00 d="M1639 194l8-11-6 1-8 11z"/>
<path color=#9e7200 d="M1459 270l8-2-6-9-9 2z"/>
<path color=#a37800 d="M1451 272l8-2-7-9-8 2z"/>
<path color=#aa8000 d="M1442 274l9-2-7-9-8 3z"/>
<path color=#b08800 d="M1434 277l8-3-6-8-8 4z"/>
<path color=#b69200 d="M1426 281l8-4-6-7-8 4z"/>
<path color=#bc9d00 d="M1418 285l8-4-6-7-9 4z"/>
<path color=#c1a700 d="M1410 288l8-3-7-7-8 4z"/>
<path color=#c4b000 d="M1401 292l9-4-7-6-8 4z"/>
<path color=#c4b500 d="M1393 294l8-2-6-6-8 4z"/>
<path color=#4f3e00 d="M1352 281l8 6-6 0-8-6z"/>
<path color=#5b3f00 d="M1344 273l8 8-6 0-8-8z"/>
<path color=#623a00 d="M1336 264l8 9-6 0-9-8z"/>
<path color=#663100 d="M1328 255l8 9-7 1-8-9z"/>
<path color=#672500 d="M1319 246l9 9-7 1-8-9z"/>
<path color=#661900 d="M1311 237l8 9-6 1-8-9z"/>
<path color=#640d00 d="M1303 228l8 9-6 1-8-9z"/>
<path color=#5f0300 d="M1295 220l8 8-6 1-9-8z"/>
<path color=#530000 d="M1287 212l8 8-7 1-8-7z"/>
<path color=#400 d="M1278 206l9 6-7 2-8-7z"/>
<path color=#3a0000 d="M1270 200l8 6-6 1-8-5z"/>
<path color=#350000 d="M1262 196l8 4-6 2-8-5z"/>
<path color=#950000 d="M1687 146l8-7-7 1-8 6z"/>
<path color=#a50000 d="M1678 154l9-8-7 0-8 8z"/>
<path color=#b80000 d="M1670 162l8-8-6 0-8 9z"/>
<path color=#c00 d="M1662 172l8-10-6 1-8 9z"/>
<path color=#e20100 d="M1654 183l8-11-6 0-9 11z"/>
<path color=#e11900 d="M1646 193l8-10-7 0-8 11z"/>
<path color=#b89600 d="M1449 280l8-2-6-6-9 2z"/>
<path color=#be9f00 d="M1441 283l8-3-7-6-8 3z"/>
<path color=#c3a800 d="M1432 286l9-3-7-6-8 4z"/>
<path color=#c7b100 d="M1424 289l8-3-6-5-8 4z"/>
<path color=#cab900 d="M1416 293l8-4-6-4-8 3z"/>
<path color=#cabe00 d="M1408 296l8-3-6-5-9 4z"/>
<path color=#c4bc00 d="M1400 298l8-2-7-4-8 2z"/>
<path color=#643900 d="M1342 264l8 9-6 0-8-9z"/>
<path color=#672f00 d="M1334 255l8 9-6 0-8-9z"/>
<path color=#682400 d="M1326 246l8 9-6 0-9-9z"/>
<path color=#671700 d="M1318 237l8 9-7 0-8-9z"/>
<path color=#640b00 d="M1309 228l9 9-7 0-8-9z"/>
<path color=#600000 d="M1301 219l8 9-6 0-8-8z"/>
<path color=#510000 d="M1293 212l8 7-6 1-8-8z"/>
<path color=#420000 d="M1285 205l8 7-6 0-9-6z"/>
<path color=#380000 d="M1277 200l8 5-7 1-8-6z"/>
<path color=#300 d="M1269 195l8 5-7 0-8-4z"/>
<path color=#940000 d="M1693 147l8-7-6-1-8 7z"/>
<path color=#a40000 d="M1685 154l8-7-6-1-9 8z"/>
<path color=#b60000 d="M1677 163l8-9-7 0-8 8z"/>
<path color=#cb0000 d="M1668 173l9-10-7-1-8 10z"/>
<path color=#e10000 d="M1660 183l8-10-6-1-8 11z"/>
<path color=#e21700 d="M1652 194l8-11-6 0-8 10z"/>
<path color=#d1bb00 d="M1439 289l8-3-6-3-9 3z"/>
<path color=#d4c200 d="M1431 292l8-3-7-3-8 3z"/>
<path color=#d3c700 d="M1422 295l9-3-7-3-8 4z"/>
<path color=#d0c800 d="M1414 298l8-3-6-2-8 3z"/>
<path color=#c5c000 d="M1406 300l8-2-6-2-8 2z"/>
<path color=#682f00 d="M1340 256l9 9-7-1-8-9z"/>
<path color=#692300 d="M1332 246l8 10-6-1-8-9z"/>
<path color=#681600 d="M1324 237l8 9-6 0-8-9z"/>
<path color=#650a00 d="M1316 228l8 9-6 0-9-9z"/>
<path color=#600000 d="M1308 220l8 8-7 0-8-9z"/>
<path color=#510000 d="M1299 213l9 7-7-1-8-7z"/>
<path color=#420000 d="M1291 206l8 7-6-1-8-7z"/>
<path color=#370000 d="M1283 200l8 6-6-1-8-5z"/>
<path color=#320000 d="M1275 196l8 4-6 0-8-5z"/>
<path color=#940000 d="M1699 148l8-6-6-2-8 7z"/>
<path color=#a40000 d="M1691 156l8-8-6-1-8 7z"/>
<path color=#b70000 d="M1683 165l8-9-6-2-8 9z"/>
<path color=#cb0000 d="M1675 175l8-10-6-2-9 10z"/>
<path color=#e10000 d="M1667 185l8-10-7-2-8 10z"/>
<path color=#e31701 d="M1658 196l9-11-7-2-8 11z"/>
<path color=#d3c700 d="M1429 295l8-3-6 0-9 3z"/>
<path color=#d0c800 d="M1421 298l8-3-7 0-8 3z"/>
<path color=#c5c000 d="M1412 300l9-2-7 0-8 2z"/>
<path color=#650a00 d="M1322 230l8 9-6-2-8-9z"/>
<path color=#600000 d="M1314 222l8 8-6-2-8-8z"/>
<path color=#510000 d="M1306 214l8 8-6-2-9-7z"/>
<path color=#420000 d="M1298 208l8 6-7-1-8-7z"/>
<path color=#370000 d="M1289 202l9 6-7-2-8-6z"/>
<path color=#320000 d="M1281 198l8 4-6-2-8-4z"/>
<path color=#960101 d="M1706 151l8-6-7-3-8 6z"/>
<path color=#a90303 d="M1698 159l8-8-7-3-8 8z"/>
<path color=#be0606 d="M1689 168l9-9-7-3-8 9z"/>
<path color=#d40707 d="M1681 177l8-9-6-3-8 10z"/>
<path color=#e90807 d="M1673 188l8-11-6-2-8 10z"/>
<path color=#e82007 d="M1665 199l8-11-6-3-9 11z"/>
<path color=#e63806 d="M1657 210l8-11-7-3-8 11z"/>
<path color=#300 d="M1288 201l8 4-7-3-8-4z"/>
<path color=#a00808 d="M1712 156l8-7-6-4-8 6z"/>
<path color=#c01818 d="M1704 163l8-7-6-5-8 8z"/>
<path color=#e12727 d="M1696 172l8-9-6-4-9 9z"/>
<path color=#fc2d2d d="M1688 181l8-9-7-4-8 9z"/>
<path color=#ff312b d="M1679 192l9-11-7-4-8 11z"/>
<path color=#ff4325 d="M1671 202l8-10-6-4-8 11z"/>
<path color=#fd551e d="M1663 214l8-12-6-3-8 11z"/>
<path color=#410000 d="M1294 205l8 4-6-4-8-4z"/>
<path color=#ad1111 d="M1719 161l8-7-7-5-8 7z"/>
<path color=#e33737 d="M1710 168l9-7-7-5-8 7z"/>
<path color=#ff6161 d="M1702 177l8-9-6-5-8 9z"/>
<path color=#f77 d="M1694 186l8-9-6-5-8 9z"/>
<path color=#ff8376 d="M1686 196l8-10-6-5-9 11z"/>
<path color=#ff8e68 d="M1678 207l8-11-7-4-8 10z"/>
<path color=#ff9557 d="M1669 218l9-11-7-5-8 12z"/>
<path color=#410000 d="M1309 214l8 6-7-5-8-6z"/>
<path color=#400 d="M1301 210l8 4-7-5-8-4z"/>
<path color=#af0e0e d="M1725 167l8-6-6-7-8 7z"/>
<path color=#ea3939 d="M1717 174l8-7-6-6-9 7z"/>
<path color=#f77 d="M1709 183l8-9-7-6-8 9z"/>
<path color=#ffaba9 d="M1700 192l9-9-7-6-8 9z"/>
<path color=#ffd3bc d="M1692 202l8-10-6-6-8 10z"/>
<path color=#ffe3b5 d="M1684 212l8-10-6-6-8 11z"/>
<path color=#ffe6a1 d="M1676 223l8-11-6-5-9 11z"/>
<path color=#c2ab00 d="M1422 299l8-4-7 3-8 2z"/>
<path color=#4c4400 d="M1413 299l9 0-7 1-8-1z"/>
<path color=#4c0100 d="M1331 232l9 7-7-5-8-8z"/>
<path color=#460000 d="M1323 226l8 6-6-6-8-6z"/>
<path color=#460000 d="M1315 221l8 5-6-6-8-6z"/>
<path color=#490000 d="M1307 216l8 5-6-7-8-4z"/>
<path color=#ae0606 d="M1731 174l8-6-6-7-8 6z"/>
<path color=#da2121 d="M1723 181l8-7-6-7-8 7z"/>
<path color=#ff5959 d="M1715 190l8-9-6-7-8 9z"/>
<path color=#ffa89a d="M1707 199l8-9-6-7-9 9z"/>
<path color=#ffeac8 d="M1699 208l8-9-7-7-8 10z"/>
<path color=#ffffd9 d="M1690 219l9-11-7-6-8 10z"/>
<path color=#ffffd2 d="M1682 229l8-10-6-7-8 11z"/>
<path color=#bfa500 d="M1420 299l8-2-6 2-9 0z"/>
<path color=#4c0500 d="M1338 239l8 7-6-7-9-7z"/>
<path color=#4b0000 d="M1330 233l8 6-7-7-8-6z"/>
<path color=#4c0000 d="M1321 228l9 5-7-7-8-5z"/>
<path color=#4f0000 d="M1313 224l8 4-6-7-8-5z"/>
<path color=#b20202 d="M1738 182l8-6-7-8-8 6z"/>
<path color=#ce0d0d d="M1730 189l8-7-7-8-8 7z"/>
<path color=#f9382f d="M1721 197l9-8-7-8-8 9z"/>
<path color=#ff8166 d="M1713 206l8-9-6-7-8 9z"/>
<path color=#ffce9f d="M1705 215l8-9-6-7-8 9z"/>
<path color=#ffffc8 d="M1697 225l8-10-6-7-9 11z"/>
<path color=#ffffd9 d="M1689 235l8-10-7-6-8 10z"/>
<path color=#cdac00 d="M1426 299l8-4-6 2-8 2z"/>
<path color=#b69b00 d="M1418 300l8-1-6 0-8 0z"/>
<path color=#897200 d="M1410 299l8 1-6-1-9-2z"/>
<path color=#4c2100 d="M1369 268l8 8-6-6-9-8z"/>
<path color=#4c1900 d="M1361 261l8 7-7-6-8-8z"/>
<path color=#4c1100 d="M1352 253l9 8-7-7-8-8z"/>
<path color=#4c0a00 d="M1344 247l8 6-6-7-8-7z"/>
<path color=#4d0400 d="M1336 241l8 6-6-8-8-6z"/>
<path color=#530000 d="M1328 236l8 5-6-8-9-5z"/>
<path color=#570000 d="M1320 232l8 4-7-8-8-4z"/>
<path color=#ba0000 d="M1744 191l8-6-6-9-8 6z"/>
<path color=#c50e04 d="M1736 198l8-7-6-9-8 7z"/>
<path color=#d92c13 d="M1728 205l8-7-6-9-9 8z"/>
<path color=#ff5f36 d="M1720 214l8-9-7-8-8 9z"/>
<path color=#ffa468 d="M1711 223l9-9-7-8-8 9z"/>
<path color=#ffeb9a d="M1703 232l8-9-6-8-8 10z"/>
<path color=#cbaa00 d="M1424 301l9-3-7 1-8 1z"/>
<path color=#a78b00 d="M1416 302l8-1-6-1-8-1z"/>
<path color=#776000 d="M1408 300l8 2-6-3-8-3z"/>
<path color=#594300 d="M1400 295l8 5-6-4-9-6z"/>
<path color=#4c3400 d="M1392 289l8 6-7-5-8-6z"/>
<path color=#4c2d00 d="M1383 283l9 6-7-5-8-8z"/>
<path color=#4c2500 d="M1375 275l8 8-6-7-8-8z"/>
<path color=#4c1e00 d="M1367 268l8 7-6-7-8-7z"/>
<path color=#4c1700 d="M1359 261l8 7-6-7-9-8z"/>
<path color=#4c1000 d="M1351 255l8 6-7-8-8-6z"/>
<path color=#4f0a00 d="M1342 249l9 6-7-8-8-6z"/>
<path color=#570500 d="M1334 245l8 4-6-8-8-5z"/>
<path color=#5f0000 d="M1326 241l8 4-6-9-8-4z"/>
<path color=#b50f00 d="M1751 200l8-5-7-10-8 6z"/>
<path color=#bd1b01 d="M1742 207l9-7-7-9-8 7z"/>
<path color=#c82f06 d="M1734 214l8-7-6-9-8 7z"/>
<path color=#de5118 d="M1726 222l8-8-6-9-8 9z"/>
<path color=#ff853a d="M1718 231l8-9-6-8-9 9z"/>
<path color=#ffc566 d="M1710 240l8-9-7-8-8 9z"/>
<path color=#c2a200 d="M1423 303l8-2-7 0-8 1z"/>
<path color=#937900 d="M1414 303l9 0-7-1-8-2z"/>
<path color=#6a5300 d="M1406 300l8 3-6-3-8-5z"/>
<path color=#543c00 d="M1398 295l8 5-6-5-8-6z"/>
<path color=#4c3100 d="M1390 289l8 6-6-6-9-6z"/>
<path color=#4c2a00 d="M1382 283l8 6-7-6-8-8z"/>
<path color=#4c2300 d="M1373 276l9 7-7-8-8-7z"/>
<path color=#4c1c00 d="M1365 270l8 6-6-8-8-7z"/>
<path color=#4c1600 d="M1357 264l8 6-6-9-8-6z"/>
<path color=#521100 d="M1349 258l8 6-6-9-9-6z"/>
<path color=#590c00 d="M1341 254l8 4-7-9-8-4z"/>
<path color=#620800 d="M1333 251l8 3-7-9-8-4z"/>
<path color=#b01f00 d="M1757 210l8-5-6-10-8 5z"/>
<path color=#b72b00 d="M1749 216l8-6-6-10-9 7z"/>
<path color=#bf3a02 d="M1741 223l8-7-7-9-8 7z"/>
<path color=#cc520a d="M1732 231l9-8-7-9-8 8z"/>
<path color=#e4761d d="M1724 239l8-8-6-9-8 9z"/>
<path color=#ffa83c d="M1716 247l8-8-6-8-8 9z"/>
<path color=#b29500 d="M1421 306l8-2-6-1-9 0z"/>
<path color=#826a00 d="M1413 304l8 2-7-3-8-3z"/>
<path color=#624b00 d="M1404 301l9 3-7-4-8-5z"/>
<path color=#523900 d="M1396 296l8 5-6-6-8-6z"/>
<path color=#4c2f00 d="M1388 290l8 6-6-7-8-6z"/>
<path color=#4c2900 d="M1380 284l8 6-6-7-9-7z"/>
<path color=#4c2200 d="M1372 278l8 6-7-8-8-6z"/>
<path color=#4f1d00 d="M1363 273l9 5-7-8-8-6z"/>
<path color=#551900 d="M1355 268l8 5-6-9-8-6z"/>
<path color=#5c1500 d="M1347 264l8 4-6-10-8-4z"/>
<path color=#631200 d="M1339 261l8 3-6-10-8-3z"/>
<path color=#ac3000 d="M1763 220l8-5-6-10-8 5z"/>
<path color=#b33b00 d="M1755 226l8-6-6-10-8 6z"/>
<path color=#ba4901 d="M1747 233l8-7-6-10-8 7z"/>
<path color=#c25b03 d="M1739 240l8-7-6-10-9 8z"/>
<path color=#d1750d d="M1731 247l8-7-7-9-8 8z"/>
<path color=#e7981e d="M1722 255l9-8-7-8-8 8z"/>
<path color=#c61900 d="M1501 234l8-8-6 6-8 8z"/>
<path color=#ca2a00 d="M1493 243l8-9-6 6-9 9z"/>
<path color=#9f8500 d="M1419 308l8 0-6-2-8-2z"/>
<path color=#765f00 d="M1411 306l8 2-6-4-9-3z"/>
<path color=#5e4700 d="M1403 302l8 4-7-5-8-5z"/>
<path color=#543900 d="M1394 298l9 4-7-6-8-6z"/>
<path color=#503100 d="M1386 292l8 6-6-8-8-6z"/>
<path color=#512b00 d="M1378 287l8 5-6-8-8-6z"/>
<path color=#542600 d="M1370 282l8 5-6-9-9-5z"/>
<path color=#592300 d="M1362 278l8 4-7-9-8-5z"/>
<path color=#5f1f00 d="M1353 274l9 4-7-10-8-4z"/>
<path color=#661c00 d="M1345 271l8 3-6-10-8-3z"/>
<path color=#a94100 d="M1770 231l8-5-7-11-8 5z"/>
<path color=#b04c00 d="M1762 236l8-5-7-11-8 6z"/>
<path color=#b75900 d="M1753 242l9-6-7-10-8 7z"/>
<path color=#be6901 d="M1745 249l8-7-6-9-8 7z"/>
<path color=#c77c05 d="M1737 255l8-6-6-9-8 7z"/>
<path color=#d3940c d="M1729 262l8-7-6-8-9 8z"/>
<path color=#cb0a00 d="M1507 229l9-8-7 5-8 8z"/>
<path color=#ce1b00 d="M1499 238l8-9-6 5-8 9z"/>
<path color=#8f7800 d="M1417 311l8 0-6-3-8-2z"/>
<path color=#6f5900 d="M1409 309l8 2-6-5-8-4z"/>
<path color=#5f4700 d="M1401 305l8 4-6-7-9-4z"/>
<path color=#583c00 d="M1393 301l8 4-7-7-8-6z"/>
<path color=#573500 d="M1384 296l9 5-7-9-8-5z"/>
<path color=#593100 d="M1376 292l8 4-6-9-8-5z"/>
<path color=#5d2d00 d="M1368 288l8 4-6-10-8-4z"/>
<path color=#632b00 d="M1360 285l8 3-6-10-9-4z"/>
<path color=#692800 d="M1352 282l8 3-7-11-8-3z"/>
<path color=#a75200 d="M1776 241l8-4-6-11-8 5z"/>
<path color=#ae5d00 d="M1768 246l8-5-6-10-8 5z"/>
<path color=#b56900 d="M1760 252l8-6-6-10-9 6z"/>
<path color=#b70 d="M1752 257l8-5-7-10-8 7z"/>
<path color=#c28802 d="M1743 263l9-6-7-8-8 6z"/>
<path color=#c99803 d="M1735 269l8-6-6-8-8 7z"/>
<path color=#a70000 d="M1530 209l8-6-6 5-8 6z"/>
<path color=#b90000 d="M1522 217l8-8-6 5-8 7z"/>
<path color=#c00 d="M1514 225l8-8-6 4-9 8z"/>
<path color=#d30e00 d="M1506 234l8-9-7 4-8 9z"/>
<path color=#d42200 d="M1497 244l9-10-7 4-8 10z"/>
<path color=#857000 d="M1415 314l9 1-7-4-8-2z"/>
<path color=#6d5800 d="M1407 312l8 2-6-5-8-4z"/>
<path color=#624a00 d="M1399 308l8 4-6-7-8-4z"/>
<path color=#5f4200 d="M1391 305l8 3-6-7-9-5z"/>
<path color=#5f3d00 d="M1383 301l8 4-7-9-8-4z"/>
<path color=#623900 d="M1374 298l9 3-7-9-8-4z"/>
<path color=#673700 d="M1366 295l8 3-6-10-8-3z"/>
<path color=#6c3500 d="M1358 293l8 2-6-10-8-3z"/>
<path color=#a76300 d="M1783 251l8-4-7-10-8 4z"/>
<path color=#ad6e00 d="M1774 256l9-5-7-10-8 5z"/>
<path color=#b47a00 d="M1766 260l8-4-6-10-8 6z"/>
<path color=#ba8700 d="M1758 265l8-5-6-8-8 5z"/>
<path color=#c09500 d="M1750 270l8-5-6-8-9 6z"/>
<path color=#c5a201 d="M1742 275l8-5-7-7-8 6z"/>
<path color=#910000 d="M1545 199l8-5-6 3-9 6z"/>
<path color=#a10000 d="M1537 206l8-7-7 4-8 6z"/>
<path color=#b20000 d="M1528 213l9-7-7 3-8 8z"/>
<path color=#c50000 d="M1520 222l8-9-6 4-8 8z"/>
<path color=#d70200 d="M1512 231l8-9-6 3-8 9z"/>
<path color=#d81700 d="M1504 241l8-10-6 3-9 10z"/>
<path color=#806d00 d="M1414 318l8 1-7-5-8-2z"/>
<path color=#6f5b00 d="M1405 316l9 2-7-6-8-4z"/>
<path color=#695100 d="M1397 313l8 3-6-8-8-3z"/>
<path color=#674b00 d="M1389 310l8 3-6-8-8-4z"/>
<path color=#694700 d="M1381 307l8 3-6-9-9-3z"/>
<path color=#6d4500 d="M1373 305l8 2-7-9-8-3z"/>
<path color=#714300 d="M1365 303l8 2-7-10-8-2z"/>
<path color=#a97500 d="M1789 260l8-3-6-10-8 4z"/>
<path color=#b07f00 d="M1781 264l8-4-6-9-9 5z"/>
<path color=#b68a00 d="M1773 268l8-4-7-8-8 4z"/>
<path color=#bc9600 d="M1764 273l9-5-7-8-8 5z"/>
<path color=#8c0000 d="M1551 196l8-5-6 3-8 5z"/>
<path color=#9b0000 d="M1543 203l8-7-6 3-8 7z"/>
<path color=#ac0000 d="M1535 211l8-8-6 3-9 7z"/>
<path color=#bf0000 d="M1527 219l8-8-7 2-8 9z"/>
<path color=#d30000 d="M1518 229l9-10-7 3-8 9z"/>
<path color=#dc0e00 d="M1510 239l8-10-6 2-8 10z"/>
<path color=#dc2500 d="M1502 250l8-11-6 2-8 11z"/>
<path color=#7f6f00 d="M1412 322l8 1-6-5-9-2z"/>
<path color=#746200 d="M1404 320l8 2-7-6-8-3z"/>
<path color=#715a00 d="M1395 318l9 2-7-7-8-3z"/>
<path color=#715600 d="M1387 316l8 2-6-8-8-3z"/>
<path color=#745400 d="M1379 314l8 2-6-9-8-2z"/>
<path color=#785300 d="M1371 313l8 1-6-9-8-2z"/>
<path color=#b08800 d="M1795 268l8-3-6-8-8 3z"/>
<path color=#2a0000 d="M1582 182l8-2-6 2-8 2z"/>
<path color=#700000 d="M1574 185l8-3-6 2-8 3z"/>
<path color=#7c0000 d="M1566 189l8-4-6 2-9 4z"/>
<path color=#890000 d="M1558 195l8-6-7 2-8 5z"/>
<path color=#980000 d="M1549 201l9-6-7 1-8 7z"/>
<path color=#a80000 d="M1541 209l8-8-6 2-8 8z"/>
<path color=#b00 d="M1533 218l8-9-6 2-8 8z"/>
<path color=#cf0000 d="M1525 227l8-9-6 1-9 10z"/>
<path color=#df0600 d="M1517 238l8-11-7 2-8 10z"/>
<path color=#df1e00 d="M1508 249l9-11-7 1-8 11z"/>
<path color=#837500 d="M1410 326l8 1-6-5-8-2z"/>
<path color=#7d6c00 d="M1402 325l8 1-6-6-9-2z"/>
<path color=#7c6700 d="M1394 323l8 2-7-7-8-2z"/>
<path color=#7e6500 d="M1385 322l9 1-7-7-8-2z"/>
<path color=#816400 d="M1377 321l8 1-6-8-8-1z"/>
<path color=#630000 d="M1589 181l8-1-7 0-8 2z"/>
<path color=#6e0000 d="M1580 184l9-3-7 1-8 3z"/>
<path color=#7a0000 d="M1572 189l8-5-6 1-8 4z"/>
<path color=#870000 d="M1564 194l8-5-6 0-8 6z"/>
<path color=#950000 d="M1556 201l8-7-6 1-9 6z"/>
<path color=#a50000 d="M1548 209l8-8-7 0-8 8z"/>
<path color=#b80000 d="M1539 217l9-8-7 0-8 9z"/>
<path color=#c00 d="M1531 227l8-10-6 1-8 9z"/>
<path color=#e20100 d="M1523 237l8-10-6 0-8 11z"/>
<path color=#e11900 d="M1515 248l8-11-6 1-9 11z"/>
<path color=#897900 d="M1400 328l8 1-6-4-8-2z"/>
<path color=#8b7700 d="M1392 327l8 1-6-5-9-1z"/>
<path color=#8e7700 d="M1384 326l8 1-7-5-8-1z"/>
<path color=#590000 d="M1603 180l8 0-6-1-8 1z"/>
<path color=#630000 d="M1595 182l8-2-6 0-8 1z"/>
<path color=#6d0000 d="M1587 185l8-3-6-1-9 3z"/>
<path color=#790000 d="M1579 189l8-4-7-1-8 5z"/>
<path color=#860000 d="M1570 195l9-6-7 0-8 5z"/>
<path color=#940000 d="M1562 202l8-7-6-1-8 7z"/>
<path color=#a40000 d="M1554 209l8-7-6-1-8 8z"/>
<path color=#b60000 d="M1546 218l8-9-6 0-9 8z"/>
<path color=#cb0000 d="M1538 228l8-10-7-1-8 10z"/>
<path color=#e10000 d="M1529 238l9-10-7-1-8 10z"/>
<path color=#e21700 d="M1521 249l8-11-6-1-8 11z"/>
<path color=#978700 d="M1398 330l8 1-6-3-8-1z"/>
<path color=#9c8800 d="M1390 329l8 1-6-3-8-1z"/>
<path color=#480000 d="M1626 183l8 2-6-2-8-2z"/>
<path color=#500000 d="M1618 182l8 1-6-2-9-1z"/>
<path color=#590000 d="M1610 182l8 0-7-2-8 0z"/>
<path color=#630000 d="M1601 184l9-2-7-2-8 2z"/>
<path color=#6d0000 d="M1593 187l8-3-6-2-8 3z"/>
<path color=#790000 d="M1585 191l8-4-6-2-8 4z"/>
<path color=#860000 d="M1577 197l8-6-6-2-9 6z"/>
<path color=#940000 d="M1569 203l8-6-7-2-8 7z"/>
<path color=#a40000 d="M1560 211l9-8-7-1-8 7z"/>
<path color=#b70000 d="M1552 220l8-9-6-2-8 9z"/>
<path color=#cb0000 d="M1544 230l8-10-6-2-8 10z"/>
<path color=#e10000 d="M1536 240l8-10-6-2-9 10z"/>
<path color=#e21700 d="M1528 251l8-11-7-2-8 11z"/>
<path color=#4c4800 d="M1421 332l8 1-6 0-8-1z"/>
<path color=#4c4600 d="M1413 331l8 1-6 0-9-1z"/>
<path color=#4c4400 d="M1405 330l8 1-7 0-8-1z"/>
<path color=#4c4300 d="M1397 329l8 1-7 0-8-1z"/>
<path color=#490000 d="M1632 186l9 2-7-3-8-2z"/>
<path color=#510000 d="M1624 185l8 1-6-3-8-1z"/>
<path color=#5a0000 d="M1616 185l8 0-6-3-8 0z"/>
<path color=#630000 d="M1608 187l8-2-6-3-9 2z"/>
<path color=#6e0000 d="M1600 190l8-3-7-3-8 3z"/>
<path color=#7a0000 d="M1591 194l9-4-7-3-8 4z"/>
<path color=#870000 d="M1583 200l8-6-6-3-8 6z"/>
<path color=#960101 d="M1575 206l8-6-6-3-8 6z"/>
<path color=#a90303 d="M1567 214l8-8-6-3-9 8z"/>
<path color=#bd0505 d="M1559 223l8-9-7-3-8 9z"/>
<path color=#d20505 d="M1550 232l9-9-7-3-8 10z"/>
<path color=#e70605 d="M1542 243l8-11-6-2-8 10z"/>
<path color=#e51d04 d="M1534 254l8-11-6-3-8 11z"/>
<path color=#e43603 d="M1526 265l8-11-6-3-9 11z"/>
<path color=#bcb500 d="M1452 333l8-1-6 0-8 2z"/>
<path color=#4c4900 d="M1444 332l8 1-6 1-9 0z"/>
<path color=#4c4800 d="M1436 331l8 1-7 2-8-1z"/>
<path color=#4c4600 d="M1427 330l9 1-7 2-8-1z"/>
<path color=#4c4400 d="M1419 328l8 2-6 2-8-1z"/>
<path color=#4c4200 d="M1411 327l8 1-6 3-8-1z"/>
<path color=#4c4000 d="M1403 326l8 1-6 3-8-1z"/>
<path color=#410000 d="M1655 195l8 5-6-4-8-5z"/>
<path color=#450000 d="M1647 192l8 3-6-4-8-3z"/>
<path color=#4b0000 d="M1639 190l8 2-6-4-9-2z"/>
<path color=#530000 d="M1631 189l8 1-7-4-8-1z"/>
<path color=#5b0000 d="M1622 190l9-1-7-4-8 0z"/>
<path color=#650000 d="M1614 191l8-1-6-5-8 2z"/>
<path color=#700000 d="M1606 194l8-3-6-4-8 3z"/>
<path color=#7c0000 d="M1598 198l8-4-6-4-9 4z"/>
<path color=#8a0101 d="M1590 204l8-6-7-4-8 6z"/>
<path color=#a20a0a d="M1581 210l9-6-7-4-8 6z"/>
<path color=#c21a1a d="M1573 218l8-8-6-4-8 8z"/>
<path color=#e02525 d="M1565 227l8-9-6-4-8 9z"/>
<path color=#f62727 d="M1557 236l8-9-6-4-9 9z"/>
<path color=#ff2822 d="M1549 247l8-11-7-4-8 11z"/>
<path color=#fa391b d="M1540 257l9-10-7-4-8 11z"/>
<path color=#f44d15 d="M1532 269l8-12-6-3-8 11z"/>
<path color=#4c4800 d="M1458 331l9 0-7 1-8 1z"/>
<path color=#4c4700 d="M1450 330l8 1-6 2-8-1z"/>
<path color=#4c4500 d="M1442 328l8 2-6 2-8-1z"/>
<path color=#4c4200 d="M1434 325l8 3-6 3-9-1z"/>
<path color=#4c4000 d="M1426 323l8 2-7 5-8-2z"/>
<path color=#4c3d00 d="M1417 322l9 1-7 5-8-1z"/>
<path color=#4c3b00 d="M1409 320l8 2-6 5-8-1z"/>
<path color=#460000 d="M1678 210l8 7-6-5-8-7z"/>
<path color=#410000 d="M1670 205l8 5-6-5-9-5z"/>
<path color=#400 d="M1662 200l8 5-7-5-8-5z"/>
<path color=#490000 d="M1653 197l9 3-7-5-8-3z"/>
<path color=#4f0000 d="M1645 195l8 2-6-5-8-2z"/>
<path color=#560000 d="M1637 194l8 1-6-5-8-1z"/>
<path color=#5e0000 d="M1629 195l8-1-6-5-9 1z"/>
<path color=#680000 d="M1621 197l8-2-7-5-8 1z"/>
<path color=#730000 d="M1612 200l9-3-7-6-8 3z"/>
<path color=#7f0000 d="M1604 204l8-4-6-6-8 4z"/>
<path color=#900303 d="M1596 209l8-5-6-6-8 6z"/>
<path color=#b41818 d="M1588 216l8-7-6-5-9 6z"/>
<path color=#ef4343 d="M1580 223l8-7-7-6-8 8z"/>
<path color=#ff6969 d="M1571 232l9-9-7-5-8 9z"/>
<path color=#ff7474 d="M1563 241l8-9-6-5-8 9z"/>
<path color=#ff786a d="M1555 251l8-10-6-5-8 11z"/>
<path color=#ff7d58 d="M1547 262l8-11-6-4-9 10z"/>
<path color=#ff8446 d="M1539 273l8-11-7-5-8 12z"/>
<path color=#4c4600 d="M1473 329l8 0-6 0-8 2z"/>
<path color=#4c4500 d="M1465 328l8 1-6 2-9 0z"/>
<path color=#4c4300 d="M1457 326l8 2-7 3-8-1z"/>
<path color=#4c4000 d="M1448 323l9 3-7 4-8-2z"/>
<path color=#4c3d00 d="M1440 320l8 3-6 5-8-3z"/>
<path color=#4c3a00 d="M1432 317l8 3-6 5-8-2z"/>
<path color=#4c3700 d="M1424 315l8 2-6 6-9-1z"/>
<path color=#4c3500 d="M1416 313l8 2-7 7-8-2z"/>
<path color=#4c0100 d="M1693 223l8 7-7-6-8-7z"/>
<path color=#460000 d="M1684 216l9 7-7-6-8-7z"/>
<path color=#460000 d="M1676 211l8 5-6-6-8-5z"/>
<path color=#490000 d="M1668 207l8 4-6-6-8-5z"/>
<path color=#4e0000 d="M1660 204l8 3-6-7-9-3z"/>
<path color=#540000 d="M1652 202l8 2-7-7-8-2z"/>
<path color=#5b0000 d="M1643 201l9 1-7-7-8-1z"/>
<path color=#630000 d="M1635 201l8 0-6-7-8 1z"/>
<path color=#6d0000 d="M1627 203l8-2-6-6-8 2z"/>
<path color=#700 d="M1619 206l8-3-6-6-9 3z"/>
<path color=#840000 d="M1611 210l8-4-7-6-8 4z"/>
<path color=#940303 d="M1602 215l9-5-7-6-8 5z"/>
<path color=#b81717 d="M1594 222l8-7-6-6-8 7z"/>
<path color=#ff4d4d d="M1586 229l8-7-6-6-8 7z"/>
<path color=#ff8f8f d="M1578 238l8-9-6-6-9 9z"/>
<path color=#ffb9b7 d="M1570 247l8-9-7-6-8 9z"/>
<path color=#ffd2ba d="M1561 257l9-10-7-6-8 10z"/>
<path color=#ffd6a8 d="M1553 267l8-10-6-6-8 11z"/>
<path color=#ffd48e d="M1545 278l8-11-6-5-8 11z"/>
<path color=#4c4400 d="M1479 327l9 1-7 1-8 0z"/>
<path color=#4c4200 d="M1471 324l8 3-6 2-8-1z"/>
<path color=#4c3f00 d="M1463 321l8 3-6 4-8-2z"/>
<path color=#4c3b00 d="M1455 317l8 4-6 5-9-3z"/>
<path color=#4c3700 d="M1447 314l8 3-7 6-8-3z"/>
<path color=#4c3400 d="M1438 310l9 4-7 6-8-3z"/>
<path color=#4c3000 d="M1430 308l8 2-6 7-8-2z"/>
<path color=#4c2e00 d="M1422 306l8 2-6 7-8-2z"/>
<path color=#4c0500 d="M1699 229l8 7-6-6-8-7z"/>
<path color=#4b0000 d="M1691 223l8 6-6-6-9-7z"/>
<path color=#4c0000 d="M1683 218l8 5-7-7-8-5z"/>
<path color=#4f0000 d="M1674 214l9 4-7-7-8-4z"/>
<path color=#540000 d="M1666 211l8 3-6-7-8-3z"/>
<path color=#5a0000 d="M1658 209l8 2-6-7-8-2z"/>
<path color=#610000 d="M1650 208l8 1-6-7-9-1z"/>
<path color=#690000 d="M1642 209l8-1-7-7-8 0z"/>
<path color=#720000 d="M1633 211l9-2-7-8-8 2z"/>
<path color=#7d0000 d="M1625 213l8-2-6-8-8 3z"/>
<path color=#8a0000 d="M1617 217l8-4-6-7-8 4z"/>
<path color=#990101 d="M1609 223l8-6-6-7-9 5z"/>
<path color=#b30b0b d="M1601 229l8-6-7-8-8 7z"/>
<path color=#ea3232 d="M1592 236l9-7-7-7-8 7z"/>
<path color=#ff7575 d="M1584 245l8-9-6-7-8 9z"/>
<path color=#ffc4b6 d="M1576 254l8-9-6-7-8 9z"/>
<path color=#fffbd8 d="M1568 263l8-9-6-7-9 10z"/>
<path color=#ffffdb d="M1560 274l8-11-7-6-8 10z"/>
<path color=#ffffcb d="M1551 284l9-10-7-7-8 11z"/>
<path color=#4c4200 d="M1494 326l8 0-6 0-8 2z"/>
<path color=#4c4100 d="M1486 324l8 2-6 2-9-1z"/>
<path color=#4c3e00 d="M1478 320l8 4-7 3-8-3z"/>
<path color=#4c3a00 d="M1469 316l9 4-7 4-8-3z"/>
<path color=#4c3500 d="M1461 311l8 5-6 5-8-4z"/>
<path color=#4c3100 d="M1453 307l8 4-6 6-8-3z"/>
<path color=#4c2d00 d="M1445 303l8 4-6 7-9-4z"/>
<path color=#4c2900 d="M1437 300l8 3-7 7-8-2z"/>
<path color=#4c2600 d="M1429 297l8 3-7 8-8-2z"/>
<path color=#4c1100 d="M1714 244l8 7-7-7-8-8z"/>
<path color=#4c0a00 d="M1705 237l9 7-7-8-8-7z"/>
<path color=#4d0400 d="M1697 231l8 6-6-8-8-6z"/>
<path color=#530000 d="M1689 226l8 5-6-8-8-5z"/>
<path color=#570000 d="M1681 222l8 4-6-8-9-4z"/>
<path color=#5b0000 d="M1673 219l8 3-7-8-8-3z"/>
<path color=#610000 d="M1664 217l9 2-7-8-8-2z"/>
<path color=#680000 d="M1656 217l8 0-6-8-8-1z"/>
<path color=#700000 d="M1648 217l8 0-6-9-8 1z"/>
<path color=#7a0000 d="M1640 219l8-2-6-8-9 2z"/>
<path color=#850000 d="M1632 222l8-3-7-8-8 2z"/>
<path color=#920000 d="M1623 226l9-4-7-9-8 4z"/>
<path color=#a00000 d="M1615 231l8-5-6-9-8 6z"/>
<path color=#b30404 d="M1607 237l8-6-6-8-8 6z"/>
<path color=#d71515 d="M1599 244l8-7-6-8-9 7z"/>
<path color=#ff4c42 d="M1591 252l8-8-7-8-8 9z"/>
<path color=#ff9d82 d="M1582 261l9-9-7-7-8 9z"/>
<path color=#ffeabb d="M1574 270l8-9-6-7-8 9z"/>
<path color=#ffffdb d="M1566 280l8-10-6-7-8 11z"/>
<path color=#ffffe2 d="M1558 290l8-10-6-6-9 10z"/>
<path color=#bda100 d="M1509 326l8-1-7-1-8 2z"/>
<path color=#4c4000 d="M1500 324l9 2-7 0-8 0z"/>
<path color=#4c3d00 d="M1492 320l8 4-6 2-8-2z"/>
<path color=#4c3900 d="M1484 315l8 5-6 4-8-4z"/>
<path color=#4c3400 d="M1476 310l8 5-6 5-9-4z"/>
<path color=#4c2f00 d="M1468 305l8 5-7 6-8-5z"/>
<path color=#4c2a00 d="M1459 300l9 5-7 6-8-4z"/>
<path color=#4c2500 d="M1451 296l8 4-6 7-8-4z"/>
<path color=#4c2100 d="M1443 292l8 4-6 7-8-3z"/>
<path color=#4c1d00 d="M1435 289l8 3-6 8-8-3z"/>
<path color=#c97a00 d="M1818 267l9-8-7 6-8 7z"/>
<path color=#4c2500 d="M1736 266l9 7-7-7-8-7z"/>
<path color=#4c1e00 d="M1728 259l8 7-6-7-8-8z"/>
<path color=#4c1700 d="M1720 252l8 7-6-8-8-7z"/>
<path color=#4c1000 d="M1712 245l8 7-6-8-9-7z"/>
<path color=#4f0a00 d="M1704 240l8 5-7-8-8-6z"/>
<path color=#570500 d="M1695 235l9 5-7-9-8-5z"/>
<path color=#5f0000 d="M1687 231l8 4-6-9-8-4z"/>
<path color=#640000 d="M1679 228l8 3-6-9-8-3z"/>
<path color=#6a0000 d="M1671 227l8 1-6-9-9-2z"/>
<path color=#710000 d="M1663 226l8 1-7-10-8 0z"/>
<path color=#790000 d="M1654 227l9-1-7-9-8 0z"/>
<path color=#830000 d="M1646 228l8-1-6-10-8 2z"/>
<path color=#8e0000 d="M1638 231l8-3-6-9-8 3z"/>
<path color=#9b0000 d="M1630 235l8-4-6-9-9 4z"/>
<path color=#a90000 d="M1622 240l8-5-7-9-8 5z"/>
<path color=#ba0101 d="M1613 246l9-6-7-9-8 6z"/>
<path color=#c81107 d="M1605 253l8-7-6-9-8 7z"/>
<path color=#e3361d d="M1597 260l8-7-6-9-8 8z"/>
<path color=#ff744a d="M1589 269l8-9-6-8-9 9z"/>
<path color=#ffbf83 d="M1581 278l8-9-7-8-8 9z"/>
<path color=#ffffb5 d="M1572 287l9-9-7-8-8 10z"/>
<path color=#4c4000 d="M1515 324l8 2-6-1-8 1z"/>
<path color=#4c3e00 d="M1507 321l8 3-6 2-9-2z"/>
<path color=#4c3900 d="M1499 316l8 5-7 3-8-4z"/>
<path color=#4c3400 d="M1490 310l9 6-7 4-8-5z"/>
<path color=#4c2f00 d="M1482 304l8 6-6 5-8-5z"/>
<path color=#4c2900 d="M1474 298l8 6-6 6-8-5z"/>
<path color=#4c2300 d="M1466 293l8 5-6 7-9-5z"/>
<path color=#4c1e00 d="M1458 288l8 5-7 7-8-4z"/>
<path color=#4c1900 d="M1449 284l9 4-7 8-8-4z"/>
<path color=#4c1500 d="M1441 281l8 3-6 8-8-3z"/>
<path color=#cb6c00 d="M1825 262l8-8-6 5-9 8z"/>
<path color=#cf8000 d="M1817 271l8-9-7 5-8 8z"/>
<path color=#4c2a00 d="M1743 273l8 7-6-7-9-7z"/>
<path color=#4c2300 d="M1735 266l8 7-7-7-8-7z"/>
<path color=#4c1c00 d="M1726 260l9 6-7-7-8-7z"/>
<path color=#4c1600 d="M1718 254l8 6-6-8-8-7z"/>
<path color=#521100 d="M1710 249l8 5-6-9-8-5z"/>
<path color=#590c00 d="M1702 244l8 5-6-9-9-5z"/>
<path color=#620800 d="M1694 241l8 3-7-9-8-4z"/>
<path color=#6b0300 d="M1685 238l9 3-7-10-8-3z"/>
<path color=#740000 d="M1677 237l8 1-6-10-8-1z"/>
<path color=#7b0000 d="M1669 236l8 1-6-10-8-1z"/>
<path color=#840000 d="M1661 237l8-1-6-10-9 1z"/>
<path color=#8d0000 d="M1653 238l8-1-7-10-8 1z"/>
<path color=#980000 d="M1644 241l9-3-7-10-8 3z"/>
<path color=#a50000 d="M1636 245l8-4-6-10-8 4z"/>
<path color=#ae0600 d="M1628 249l8-4-6-10-8 5z"/>
<path color=#b50f00 d="M1620 255l8-6-6-9-9 6z"/>
<path color=#be1c02 d="M1612 262l8-7-7-9-8 7z"/>
<path color=#cc330b d="M1603 269l9-7-7-9-8 7z"/>
<path color=#e95c24 d="M1595 277l8-8-6-9-8 9z"/>
<path color=#ff9a4f d="M1587 286l8-9-6-8-8 9z"/>
<path color=#ffe081 d="M1579 295l8-9-6-8-9 9z"/>
<path color=#4c3e00 d="M1521 323l9 3-7 0-8-2z"/>
<path color=#4c3a00 d="M1513 318l8 5-6 1-8-3z"/>
<path color=#4c3500 d="M1505 312l8 6-6 3-8-5z"/>
<path color=#4e3000 d="M1497 305l8 7-6 4-9-6z"/>
<path color=#4f2a00 d="M1489 299l8 6-7 5-8-6z"/>
<path color=#4e2300 d="M1480 292l9 7-7 5-8-6z"/>
<path color=#4c1c00 d="M1472 286l8 6-6 6-8-5z"/>
<path color=#4c1700 d="M1464 281l8 5-6 7-8-5z"/>
<path color=#4c1200 d="M1456 277l8 4-6 7-9-4z"/>
<path color=#4c0e00 d="M1448 273l8 4-7 7-8-3z"/>
<path color=#c63900 d="M1848 239l8-8-7 6-8 8z"/>
<path color=#ca4b00 d="M1839 248l9-9-7 6-8 9z"/>
<path color=#cd5f00 d="M1831 258l8-10-6 6-8 8z"/>
<path color=#d17300 d="M1823 267l8-9-6 4-8 9z"/>
<path color=#4c2900 d="M1741 275l8 6-6-8-8-7z"/>
<path color=#4c2200 d="M1733 269l8 6-6-9-9-6z"/>
<path color=#4f1d00 d="M1725 263l8 6-7-9-8-6z"/>
<path color=#551900 d="M1716 258l9 5-7-9-8-5z"/>
<path color=#5c1500 d="M1708 254l8 4-6-9-8-5z"/>
<path color=#641200 d="M1700 251l8 3-6-10-8-3z"/>
<path color=#6c0e00 d="M1692 249l8 2-6-10-9-3z"/>
<path color=#750b00 d="M1684 247l8 2-7-11-8-1z"/>
<path color=#7e0900 d="M1675 247l9 0-7-10-8-1z"/>
<path color=#870900 d="M1667 248l8-1-6-11-8 1z"/>
<path color=#900900 d="M1659 249l8-1-6-11-8 1z"/>
<path color=#990b00 d="M1651 252l8-3-6-11-9 3z"/>
<path color=#a11000 d="M1643 255l8-3-7-11-8 4z"/>
<path color=#a91600 d="M1634 260l9-5-7-10-8 4z"/>
<path color=#b01f00 d="M1626 265l8-5-6-11-8 6z"/>
<path color=#b72b00 d="M1618 271l8-6-6-10-8 7z"/>
<path color=#c03c04 d="M1610 278l8-7-6-9-9 7z"/>
<path color=#d1570f d="M1602 286l8-8-7-9-8 8z"/>
<path color=#f1842a d="M1593 294l9-8-7-9-8 9z"/>
<path color=#ffbe52 d="M1585 302l8-8-6-8-8 9z"/>
<path color=#4c3f00 d="M1536 325l8 2-6-1-8 0z"/>
<path color=#4c3c00 d="M1528 321l8 4-6 1-9-3z"/>
<path color=#4c3700 d="M1520 315l8 6-7 2-8-5z"/>
<path color=#503300 d="M1511 308l9 7-7 3-8-6z"/>
<path color=#542f00 d="M1503 301l8 7-6 4-8-7z"/>
<path color=#542700 d="M1495 293l8 8-6 4-8-6z"/>
<path color=#521e00 d="M1487 286l8 7-6 6-9-7z"/>
<path color=#4d1600 d="M1479 280l8 6-7 6-8-6z"/>
<path color=#4c1000 d="M1470 274l9 6-7 6-8-5z"/>
<path color=#4c0b00 d="M1462 270l8 4-6 7-8-4z"/>
<path color=#4c0600 d="M1454 266l8 4-6 7-8-4z"/>
<path color=#c61900 d="M1862 225l8-8-6 6-8 8z"/>
<path color=#ca2a00 d="M1854 234l8-9-6 6-8 8z"/>
<path color=#cd3d00 d="M1846 243l8-9-6 5-9 9z"/>
<path color=#d05100 d="M1838 253l8-10-7 5-8 10z"/>
<path color=#d26700 d="M1829 263l9-10-7 5-8 9z"/>
<path color=#d57d00 d="M1821 273l8-10-6 4-8 9z"/>
<path color=#512b00 d="M1739 278l8 5-6-8-8-6z"/>
<path color=#542600 d="M1731 273l8 5-6-9-8-6z"/>
<path color=#592300 d="M1723 268l8 5-6-10-9-5z"/>
<path color=#5f1f00 d="M1715 265l8 3-7-10-8-4z"/>
<path color=#661c00 d="M1706 262l9 3-7-11-8-3z"/>
<path color=#6d1a00 d="M1698 260l8 2-6-11-8-2z"/>
<path color=#751800 d="M1690 258l8 2-6-11-8-2z"/>
<path color=#7d1700 d="M1682 258l8 0-6-11-9 0z"/>
<path color=#851700 d="M1674 259l8-1-7-11-8 1z"/>
<path color=#8d1900 d="M1665 260l9-1-7-11-8 1z"/>
<path color=#951c00 d="M1657 263l8-3-6-11-8 3z"/>
<path color=#9d2000 d="M1649 266l8-3-6-11-8 3z"/>
<path color=#a52700 d="M1641 270l8-4-6-11-9 5z"/>
<path color=#ac3000 d="M1633 275l8-5-7-10-8 5z"/>
<path color=#b33b00 d="M1624 281l9-6-7-10-8 6z"/>
<path color=#ba4a01 d="M1616 288l8-7-6-10-8 7z"/>
<path color=#c55e06 d="M1608 295l8-7-6-10-8 8z"/>
<path color=#d97d14 d="M1600 302l8-7-6-9-9 8z"/>
<path color=#f6a72d d="M1592 310l8-8-7-8-8 8z"/>
<path color=#4c3e00 d="M1542 324l9 3-7 0-8-2z"/>
<path color=#4c3900 d="M1534 318l8 6-6 1-8-4z"/>
<path color=#503600 d="M1526 311l8 7-6 3-8-6z"/>
<path color=#573300 d="M1518 304l8 7-6 4-9-7z"/>
<path color=#592c00 d="M1510 296l8 8-7 4-8-7z"/>
<path color=#582300 d="M1501 288l9 8-7 5-8-8z"/>
<path color=#551900 d="M1493 281l8 7-6 5-8-7z"/>
<path color=#501100 d="M1485 274l8 7-6 5-8-6z"/>
<path color=#4c0a00 d="M1477 268l8 6-6 6-9-6z"/>
<path color=#4c0400 d="M1469 263l8 5-7 6-8-4z"/>
<path color=#4c0000 d="M1461 260l8 3-7 7-8-4z"/>
<path color=#cb0a00 d="M1869 220l8-8-7 5-8 8z"/>
<path color=#ce1b00 d="M1860 229l9-9-7 5-8 9z"/>
<path color=#d12f00 d="M1852 239l8-10-6 5-8 9z"/>
<path color=#d34400 d="M1844 249l8-10-6 4-8 10z"/>
<path color=#d55b00 d="M1836 259l8-10-6 4-9 10z"/>
<path color=#d77200 d="M1828 269l8-10-7 4-8 10z"/>
<path color=#593100 d="M1737 282l9 4-7-8-8-5z"/>
<path color=#5d2d00 d="M1729 278l8 4-6-9-8-5z"/>
<path color=#632b00 d="M1721 275l8 3-6-10-8-3z"/>
<path color=#692800 d="M1713 273l8 2-6-10-9-3z"/>
<path color=#6f2700 d="M1705 271l8 2-7-11-8-2z"/>
<path color=#762600 d="M1696 270l9 1-7-11-8-2z"/>
<path color=#7d2500 d="M1688 270l8 0-6-12-8 0z"/>
<path color=#842600 d="M1680 270l8 0-6-12-8 1z"/>
<path color=#8c2800 d="M1672 272l8-2-6-11-9 1z"/>
<path color=#932c00 d="M1664 274l8-2-7-12-8 3z"/>
<path color=#9a3100 d="M1655 277l9-3-7-11-8 3z"/>
<path color=#a23800 d="M1647 281l8-4-6-11-8 4z"/>
<path color=#a94100 d="M1639 286l8-5-6-11-8 5z"/>
<path color=#b04c00 d="M1631 291l8-5-6-11-9 6z"/>
<path color=#b75900 d="M1623 297l8-6-7-10-8 7z"/>
<path color=#bf6a02 d="M1614 304l9-7-7-9-8 7z"/>
<path color=#cb8009 d="M1606 310l8-6-6-9-8 7z"/>
<path color=#db9c14 d="M1598 317l8-7-6-8-8 8z"/>
<path color=#4c4000 d="M1557 327l8 3-6-2-8-1z"/>
<path color=#4c3c00 d="M1549 322l8 5-6 0-9-3z"/>
<path color=#4c3700 d="M1541 316l8 6-7 2-8-6z"/>
<path color=#573700 d="M1532 308l9 8-7 2-8-7z"/>
<path color=#5c3100 d="M1524 300l8 8-6 3-8-7z"/>
<path color=#5d2800 d="M1516 292l8 8-6 4-8-8z"/>
<path color=#5c1e00 d="M1508 284l8 8-6 4-9-8z"/>
<path color=#581400 d="M1500 276l8 8-7 4-8-7z"/>
<path color=#530b00 d="M1491 269l9 7-7 5-8-7z"/>
<path color=#4c0400 d="M1483 263l8 6-6 5-8-6z"/>
<path color=#4a0000 d="M1475 258l8 5-6 5-8-5z"/>
<path color=#460000 d="M1467 254l8 4-6 5-8-3z"/>
<path color=#b90000 d="M1883 207l8-7-6 4-8 8z"/>
<path color=#c00 d="M1875 215l8-8-6 5-8 8z"/>
<path color=#d30e00 d="M1867 225l8-10-6 5-9 9z"/>
<path color=#d42200 d="M1859 235l8-10-7 4-8 10z"/>
<path color=#d63800 d="M1850 245l9-10-7 4-8 10z"/>
<path color=#d75000 d="M1842 256l8-11-6 4-8 10z"/>
<path color=#d96800 d="M1834 267l8-11-6 3-8 10z"/>
<path color=#db8000 d="M1826 277l8-10-6 2-9 10z"/>
<path color=#673700 d="M1727 285l9 3-7-10-8-3z"/>
<path color=#6c3500 d="M1719 283l8 2-6-10-8-2z"/>
<path color=#723400 d="M1711 282l8 1-6-10-8-2z"/>
<path color=#783400 d="M1703 281l8 1-6-11-9-1z"/>
<path color=#7f3400 d="M1695 281l8 0-7-11-8 0z"/>
<path color=#853600 d="M1686 282l9-1-7-11-8 0z"/>
<path color=#8b3800 d="M1678 283l8-1-6-12-8 2z"/>
<path color=#923c00 d="M1670 285l8-2-6-11-8 2z"/>
<path color=#994200 d="M1662 288l8-3-6-11-9 3z"/>
<path color=#a04900 d="M1654 292l8-4-7-11-8 4z"/>
<path color=#a75200 d="M1645 296l9-4-7-11-8 5z"/>
<path color=#ae5d00 d="M1637 301l8-5-6-10-8 5z"/>
<path color=#b56900 d="M1629 306l8-5-6-10-8 6z"/>
<path color=#bc7801 d="M1621 312l8-6-6-9-9 7z"/>
<path color=#c48903 d="M1613 318l8-6-7-8-8 6z"/>
<path color=#cc9c07 d="M1604 324l9-6-7-8-8 7z"/>
<path color=#4c3f00 d="M1563 327l9 4-7-1-8-3z"/>
<path color=#4c3a00 d="M1555 321l8 6-6 0-8-5z"/>
<path color=#553a00 d="M1547 314l8 7-6 1-8-6z"/>
<path color=#5d3600 d="M1539 305l8 9-6 2-9-8z"/>
<path color=#602e00 d="M1531 297l8 8-7 3-8-8z"/>
<path color=#602400 d="M1522 288l9 9-7 3-8-8z"/>
<path color=#5e1900 d="M1514 280l8 8-6 4-8-8z"/>
<path color=#5b0f00 d="M1506 272l8 8-6 4-8-8z"/>
<path color=#550600 d="M1498 265l8 7-6 4-9-7z"/>
<path color=#4c0000 d="M1490 259l8 6-7 4-8-6z"/>
<path color=#450000 d="M1481 253l9 6-7 4-8-5z"/>
<path color=#400000 d="M1473 249l8 4-6 5-8-4z"/>
<path color=#a10000 d="M1898 196l8-6-7 3-8 7z"/>
<path color=#b20000 d="M1890 204l8-8-7 4-8 7z"/>
<path color=#c50000 d="M1881 212l9-8-7 3-8 8z"/>
<path color=#d70200 d="M1873 222l8-10-6 3-8 10z"/>
<path color=#d81700 d="M1865 232l8-10-6 3-8 10z"/>
<path color=#d92e00 d="M1857 242l8-10-6 3-9 10z"/>
<path color=#da4600 d="M1849 253l8-11-7 3-8 11z"/>
<path color=#db5f00 d="M1840 264l9-11-7 3-8 11z"/>
<path color=#dc7700 d="M1832 275l8-11-6 3-8 10z"/>
<path color=#714300 d="M1726 294l8 1-7-10-8-2z"/>
<path color=#764300 d="M1717 293l9 1-7-11-8-1z"/>
<path color=#7c4300 d="M1709 292l8 1-6-11-8-1z"/>
<path color=#814400 d="M1701 292l8 0-6-11-8 0z"/>
<path color=#874600 d="M1693 293l8-1-6-11-9 1z"/>
<path color=#8d4900 d="M1685 294l8-1-7-11-8 1z"/>
<path color=#934d00 d="M1676 296l9-2-7-11-8 2z"/>
<path color=#995300 d="M1668 299l8-3-6-11-8 3z"/>
<path color=#a05a00 d="M1660 302l8-3-6-11-8 4z"/>
<path color=#a76300 d="M1652 306l8-4-6-10-9 4z"/>
<path color=#ad6e00 d="M1644 310l8-4-7-10-8 5z"/>
<path color=#b47a00 d="M1635 315l9-5-7-9-8 5z"/>
<path color=#bb8700 d="M1627 320l8-5-6-9-8 6z"/>
<path color=#c19501 d="M1619 325l8-5-6-8-8 6z"/>
<path color=#c6a201 d="M1611 330l8-5-6-7-9 6z"/>
<path color=#4c4200 d="M1578 331l8 3-6-2-8-1z"/>
<path color=#4c3e00 d="M1570 326l8 5-6 0-9-4z"/>
<path color=#503b00 d="M1562 320l8 6-7 1-8-6z"/>
<path color=#5b3b00 d="M1553 312l9 8-7 1-8-7z"/>
<path color=#613400 d="M1545 303l8 9-6 2-8-9z"/>
<path color=#632b00 d="M1537 294l8 9-6 2-8-8z"/>
<path color=#632000 d="M1529 285l8 9-6 3-9-9z"/>
<path color=#611400 d="M1521 277l8 8-7 3-8-8z"/>
<path color=#5d0a00 d="M1512 269l9 8-7 3-8-8z"/>
<path color=#570100 d="M1504 262l8 7-6 3-8-7z"/>
<path color=#490000 d="M1496 255l8 7-6 3-8-6z"/>
<path color=#400000 d="M1488 250l8 5-6 4-9-6z"/>
<path color=#3b0000 d="M1480 245l8 5-7 3-8-4z"/>
<path color=#9c0000 d="M1904 193l8-6-6 3-8 6z"/>
<path color=#ac0000 d="M1896 201l8-8-6 3-8 8z"/>
<path color=#bf0000 d="M1888 210l8-9-6 3-9 8z"/>
<path color=#d30000 d="M1880 219l8-9-7 2-8 10z"/>
<path color=#dc0e00 d="M1871 229l9-10-7 3-8 10z"/>
<path color=#dc2500 d="M1863 240l8-11-6 3-8 10z"/>
<path color=#dd3e00 d="M1855 251l8-11-6 2-8 11z"/>
<path color=#dd5700 d="M1847 263l8-12-6 2-9 11z"/>
<path color=#de7000 d="M1839 274l8-11-7 1-8 11z"/>
<path color=#e08900 d="M1830 284l9-10-7 1-8 10z"/>
<path color=#815300 d="M1716 302l8 0-7-9-8-1z"/>
<path color=#865500 d="M1707 302l9 0-7-10-8 0z"/>
<path color=#8b5700 d="M1699 303l8-1-6-10-8 1z"/>
<path color=#905a00 d="M1691 305l8-2-6-10-8 1z"/>
<path color=#965f00 d="M1683 306l8-1-6-11-9 2z"/>
<path color=#9c6500 d="M1675 309l8-3-7-10-8 3z"/>
<path color=#a26c00 d="M1666 312l9-3-7-10-8 3z"/>
<path color=#a97500 d="M1658 315l8-3-6-10-8 4z"/>
<path color=#b07f00 d="M1650 319l8-4-6-9-8 4z"/>
<path color=#b68a00 d="M1642 323l8-4-6-9-9 5z"/>
<path color=#bc9700 d="M1634 328l8-5-7-8-8 5z"/>
<path color=#c1a200 d="M1625 332l9-4-7-8-8 5z"/>
<path color=#c4ac00 d="M1617 335l8-3-6-7-8 5z"/>
<path color=#4c4200 d="M1584 332l9 4-7-2-8-3z"/>
<path color=#4c3d00 d="M1576 326l8 6-6-1-8-5z"/>
<path color=#573e00 d="M1568 319l8 7-6 0-8-6z"/>
<path color=#5f3b00 d="M1560 310l8 9-6 1-9-8z"/>
<path color=#643200 d="M1552 301l8 9-7 2-8-9z"/>
<path color=#652800 d="M1543 292l9 9-7 2-8-9z"/>
<path color=#651c00 d="M1535 283l8 9-6 2-8-9z"/>
<path color=#621100 d="M1527 275l8 8-6 2-8-8z"/>
<path color=#5e0600 d="M1519 267l8 8-6 2-9-8z"/>
<path color=#500 d="M1511 259l8 8-7 2-8-7z"/>
<path color=#460000 d="M1502 253l9 6-7 3-8-7z"/>
<path color=#3d0000 d="M1494 247l8 6-6 2-8-5z"/>
<path color=#370000 d="M1486 243l8 4-6 3-8-5z"/>
<path color=#980000 d="M1911 192l8-7-7 2-8 6z"/>
<path color=#a80000 d="M1902 199l9-7-7 1-8 8z"/>
<path color=#b00 d="M1894 208l8-9-6 2-8 9z"/>
<path color=#cf0000 d="M1886 218l8-10-6 2-8 9z"/>
<path color=#df0600 d="M1878 228l8-10-6 1-9 10z"/>
<path color=#df1e00 d="M1870 239l8-11-7 1-8 11z"/>
<path color=#df3700 d="M1861 250l9-11-7 1-8 11z"/>
<path color=#df5100 d="M1853 262l8-12-6 1-8 12z"/>
<path color=#e06b00 d="M1845 273l8-11-6 1-8 11z"/>
<path color=#e18500 d="M1837 284l8-11-6 1-9 10z"/>
<path color=#936a00 d="M1706 312l8-1-7-9-8 1z"/>
<path color=#986d00 d="M1697 313l9-1-7-9-8 2z"/>
<path color=#9e7200 d="M1689 315l8-2-6-8-8 1z"/>
<path color=#a37800 d="M1681 317l8-2-6-9-8 3z"/>
<path color=#aa8000 d="M1673 320l8-3-6-8-9 3z"/>
<path color=#b08800 d="M1665 323l8-3-7-8-8 3z"/>
<path color=#b69200 d="M1656 326l9-3-7-8-8 4z"/>
<path color=#bc9d00 d="M1648 330l8-4-6-7-8 4z"/>
<path color=#c1a700 d="M1640 334l8-4-6-7-8 5z"/>
<path color=#c4b000 d="M1632 337l8-3-6-6-9 4z"/>
<path color=#c4b500 d="M1624 340l8-3-7-5-8 3z"/>
<path color=#4c4200 d="M1591 332l8 5-6-1-9-4z"/>
<path color=#4f3e00 d="M1583 326l8 6-7 0-8-6z"/>
<path color=#5b3f00 d="M1574 318l9 8-7 0-8-7z"/>
<path color=#623a00 d="M1566 310l8 8-6 1-8-9z"/>
<path color=#663100 d="M1558 300l8 10-6 0-8-9z"/>
<path color=#672500 d="M1550 291l8 9-6 1-9-9z"/>
<path color=#661900 d="M1542 282l8 9-7 1-8-9z"/>
<path color=#640d00 d="M1533 273l9 9-7 1-8-8z"/>
<path color=#5f0300 d="M1525 265l8 8-6 2-8-8z"/>
<path color=#530000 d="M1517 258l8 7-6 2-8-8z"/>
<path color=#400 d="M1509 251l8 7-6 1-9-6z"/>
<path color=#3a0000 d="M1501 246l8 5-7 2-8-6z"/>
<path color=#350000 d="M1493 241l8 5-7 1-8-4z"/>
<path color=#950000 d="M1917 191l8-6-6 0-8 7z"/>
<path color=#a50000 d="M1909 199l8-8-6 1-9 7z"/>
<path color=#b80000 d="M1901 208l8-9-7 0-8 9z"/>
<path color=#c00 d="M1892 217l9-9-7 0-8 10z"/>
<path color=#e20100 d="M1884 228l8-11-6 1-8 10z"/>
<path color=#e11900 d="M1876 239l8-11-6 0-8 11z"/>
<path color=#e13300 d="M1868 250l8-11-6 0-9 11z"/>
<path color=#e14d00 d="M1860 262l8-12-7 0-8 12z"/>
<path color=#e16700 d="M1851 273l9-11-7 0-8 11z"/>
<path color=#e28100 d="M1843 284l8-11-6 0-8 11z"/>
<path color=#ac8900 d="M1696 321l8-2-7-6-8 2z"/>
<path color=#b28f00 d="M1687 323l9-2-7-6-8 2z"/>
<path color=#b89600 d="M1679 325l8-2-6-6-8 3z"/>
<path color=#be9f00 d="M1671 328l8-3-6-5-8 3z"/>
<path color=#c3a800 d="M1663 331l8-3-6-5-9 3z"/>
<path color=#c7b100 d="M1655 335l8-4-7-5-8 4z"/>
<path color=#cab900 d="M1646 338l9-3-7-5-8 4z"/>
<path color=#cabe00 d="M1638 341l8-3-6-4-8 3z"/>
<path color=#c4bc00 d="M1630 343l8-2-6-4-8 3z"/>
<path color=#4c4600 d="M1605 339l9 3-7-2-8-3z"/>
<path color=#4c4100 d="M1597 333l8 6-6-2-8-5z"/>
<path color=#534100 d="M1589 326l8 7-6-1-8-6z"/>
<path color=#5e4000 d="M1581 318l8 8-6 0-9-8z"/>
<path color=#643900 d="M1573 310l8 8-7 0-8-8z"/>
<path color=#672f00 d="M1564 300l9 10-7 0-8-10z"/>
<path color=#682400 d="M1556 291l8 9-6 0-8-9z"/>
<path color=#671700 d="M1548 282l8 9-6 0-8-9z"/>
<path color=#640b00 d="M1540 273l8 9-6 0-9-9z"/>
<path color=#600000 d="M1532 265l8 8-7 0-8-8z"/>
<path color=#510000 d="M1523 257l9 8-7 0-8-7z"/>
<path color=#420000 d="M1515 251l8 6-6 1-8-7z"/>
<path color=#380000 d="M1507 245l8 6-6 0-8-5z"/>
<path color=#300 d="M1499 241l8 4-6 1-8-5z"/>
<path color=#940000 d="M1923 192l8-7-6 0-8 6z"/>
<path color=#a40000 d="M1915 200l8-8-6-1-8 8z"/>
<path color=#b60000 d="M1907 208l8-8-6-1-8 9z"/>
<path color=#cb0000 d="M1899 218l8-10-6 0-9 9z"/>
<path color=#e10000 d="M1891 229l8-11-7-1-8 11z"/>
<path color=#e21700 d="M1882 240l9-11-7-1-8 11z"/>
<path color=#e23100 d="M1874 251l8-11-6-1-8 11z"/>
<path color=#e14b00 d="M1866 262l8-11-6-1-8 12z"/>
<path color=#e26600 d="M1858 274l8-12-6 0-9 11z"/>
<path color=#e28000 d="M1850 285l8-11-7-1-8 11z"/>
<path color=#e39900 d="M1841 295l9-10-7-1-8 10z"/>
<path color=#caac00 d="M1686 328l8-2-7-3-8 2z"/>
<path color=#ceb300 d="M1677 331l9-3-7-3-8 3z"/>
<path color=#d1bb00 d="M1669 334l8-3-6-3-8 3z"/>
<path color=#d4c200 d="M1661 337l8-3-6-3-8 4z"/>
<path color=#d3c700 d="M1653 340l8-3-6-2-9 3z"/>
<path color=#d0c800 d="M1645 343l8-3-7-2-8 3z"/>
<path color=#c5c000 d="M1636 345l9-2-7-2-8 2z"/>
<path color=#4c4600 d="M1612 340l8 3-6-1-9-3z"/>
<path color=#4c4100 d="M1604 334l8 6-7-1-8-6z"/>
<path color=#564200 d="M1595 327l9 7-7-1-8-7z"/>
<path color=#5f4000 d="M1587 319l8 8-6-1-8-8z"/>
<path color=#653900 d="M1579 310l8 9-6-1-8-8z"/>
<path color=#682f00 d="M1571 301l8 9-6 0-9-10z"/>
<path color=#692300 d="M1563 292l8 9-7-1-8-9z"/>
<path color=#681600 d="M1554 283l9 9-7-1-8-9z"/>
<path color=#650a00 d="M1546 274l8 9-6-1-8-9z"/>
<path color=#600000 d="M1538 266l8 8-6-1-8-8z"/>
<path color=#510000 d="M1530 258l8 8-6-1-9-8z"/>
<path color=#420000 d="M1522 251l8 7-7-1-8-6z"/>
<path color=#370000 d="M1513 246l9 5-7 0-8-6z"/>
<path color=#320000 d="M1505 241l8 5-6-1-8-4z"/>
<path color=#940000 d="M1930 194l8-7-7-2-8 7z"/>
<path color=#a40000 d="M1922 202l8-8-7-2-8 8z"/>
<path color=#b70101 d="M1913 210l9-8-7-2-8 8z"/>
<path color=#cc0101 d="M1905 220l8-10-6-2-8 10z"/>
<path color=#e30202 d="M1897 230l8-10-6-2-8 11z"/>
<path color=#e41902 d="M1889 241l8-11-6-1-9 11z"/>
<path color=#e43202 d="M1881 253l8-12-7-1-8 11z"/>
<path color=#e34d02 d="M1872 264l9-11-7-2-8 11z"/>
<path color=#e36702 d="M1864 276l8-12-6-2-8 12z"/>
<path color=#e48101 d="M1856 286l8-10-6-2-8 11z"/>
<path color=#e49a01 d="M1848 297l8-11-6-1-9 10z"/>
<path color=#4c4a00 d="M1790 323l9 1-7 0-8-1z"/>
<path color=#4c4800 d="M1782 322l8 1-6 0-8-1z"/>
<path color=#4c4600 d="M1774 321l8 1-6 0-8-1z"/>
<path color=#4c4400 d="M1766 320l8 1-6 0-9-1z"/>
<path color=#4c4300 d="M1758 319l8 1-7 0-8 0z"/>
<path color=#4c4000 d="M1733 320l8-1-6 1-8 0z"/>
<path color=#b49600 d="M1725 321l8-1-6 0-9 1z"/>
<path color=#ba9a00 d="M1717 322l8-1-7 0-8 1z"/>
<path color=#d4c200 d="M1667 337l9-3-7 0-8 3z"/>
<path color=#d3c700 d="M1659 341l8-4-6 0-8 3z"/>
<path color=#d0c800 d="M1651 343l8-2-6-1-8 3z"/>
<path color=#4c4600 d="M1618 341l8 4-6-2-8-3z"/>
<path color=#4c4100 d="M1610 336l8 5-6-1-8-6z"/>
<path color=#564200 d="M1602 329l8 7-6-2-9-7z"/>
<path color=#5f4000 d="M1594 321l8 8-7-2-8-8z"/>
<path color=#653900 d="M1585 312l9 9-7-2-8-9z"/>
<path color=#682f00 d="M1577 303l8 9-6-2-8-9z"/>
<path color=#692300 d="M1569 294l8 9-6-2-8-9z"/>
<path color=#600000 d="M1544 267l9 9-7-2-8-8z"/>
<path color=#510000 d="M1536 260l8 7-6-1-8-8z"/>
<path color=#420000 d="M1528 253l8 7-6-2-8-7z"/>
<path color=#370000 d="M1520 248l8 5-6-2-9-5z"/>
<path color=#320000 d="M1512 243l8 5-7-2-8-5z"/>
<path color=#970101 d="M1936 197l8-7-6-3-8 7z"/>
<path color=#ac0606 d="M1928 204l8-7-6-3-8 8z"/>
<path color=#c50d0d d="M1920 213l8-9-6-2-9 8z"/>
<path color=#d11 d="M1912 223l8-10-7-3-8 10z"/>
<path color=#f41313 d="M1903 233l9-10-7-3-8 10z"/>
<path color=#f32b12 d="M1895 244l8-11-6-3-8 11z"/>
<path color=#f04210 d="M1887 255l8-11-6-3-8 12z"/>
<path color=#ee5a0e d="M1879 267l8-12-6-2-9 11z"/>
<path color=#ec730b d="M1871 278l8-11-7-3-8 12z"/>
<path color=#ea8a09 d="M1862 289l9-11-7-2-8 10z"/>
<path color=#e8a005 d="M1854 299l8-10-6-3-8 11z"/>
<path color=#4c4900 d="M1805 323l8 0-6 1-8 0z"/>
<path color=#4c4800 d="M1797 322l8 1-6 1-9-1z"/>
<path color=#4c4600 d="M1789 320l8 2-7 1-8-1z"/>
<path color=#4c4400 d="M1780 318l9 2-7 2-8-1z"/>
<path color=#4c4200 d="M1772 317l8 1-6 3-8-1z"/>
<path color=#4c4000 d="M1764 316l8 1-6 3-8-1z"/>
<path color=#4c3f00 d="M1756 316l8 0-6 3-9 0z"/>
<path color=#4c3e00 d="M1748 316l8 0-7 3-8 0z"/>
<path color=#4c3d00 d="M1739 316l9 0-7 3-8 1z"/>
<path color=#4c3c00 d="M1731 317l8-1-6 4-8 1z"/>
<path color=#4c3c00 d="M1723 318l8-1-6 4-8 1z"/>
<path color=#4c3d00 d="M1715 320l8-2-6 4-9 1z"/>
<path color=#4c3e00 d="M1707 322l8-2-7 3-8 3z"/>
<path color=#4c3f00 d="M1698 325l9-3-7 4-8 2z"/>
<path color=#4c4600 d="M1625 342l8 3-7 0-8-4z"/>
<path color=#4c4100 d="M1616 338l9 4-7-1-8-5z"/>
<path color=#534100 d="M1608 331l8 7-6-2-8-7z"/>
<path color=#5e4000 d="M1600 323l8 8-6-2-8-8z"/>
<path color=#643900 d="M1592 315l8 8-6-2-9-9z"/>
<path color=#672f00 d="M1584 305l8 10-7-3-8-9z"/>
<path color=#300 d="M1518 246l8 5-6-3-8-5z"/>
<path color=#9f0808 d="M1943 201l8-7-7-4-8 7z"/>
<path color=#c51d1d d="M1934 209l9-8-7-4-8 7z"/>
<path color=#f23838 d="M1926 217l8-8-6-5-8 9z"/>
<path color=#ff4848 d="M1918 227l8-10-6-4-8 10z"/>
<path color=#ff524c d="M1910 237l8-10-6-4-9 10z"/>
<path color=#ff6446 d="M1902 248l8-11-7-4-8 11z"/>
<path color=#ff743d d="M1893 259l9-11-7-4-8 11z"/>
<path color=#ff8533 d="M1885 270l8-11-6-4-8 12z"/>
<path color=#ff952a d="M1877 281l8-11-6-3-8 11z"/>
<path color=#ffa31e d="M1869 292l8-11-6-3-9 11z"/>
<path color=#f3ad10 d="M1861 301l8-9-7-3-8 10z"/>
<path color=#4c4800 d="M1820 321l8 0-7 1-8 1z"/>
<path color=#4c4700 d="M1811 320l9 1-7 2-8 0z"/>
<path color=#4c4500 d="M1803 318l8 2-6 3-8-1z"/>
<path color=#4c4200 d="M1795 316l8 2-6 4-8-2z"/>
<path color=#4c4000 d="M1787 314l8 2-6 4-9-2z"/>
<path color=#4c3d00 d="M1779 312l8 2-7 4-8-1z"/>
<path color=#4c3b00 d="M1770 311l9 1-7 5-8-1z"/>
<path color=#4c3a00 d="M1762 310l8 1-6 5-8 0z"/>
<path color=#4c3800 d="M1754 310l8 0-6 6-8 0z"/>
<path color=#4c3700 d="M1746 310l8 0-6 6-9 0z"/>
<path color=#4c3700 d="M1738 311l8-1-7 6-8 1z"/>
<path color=#4c3700 d="M1729 312l9-1-7 6-8 1z"/>
<path color=#4c3700 d="M1721 314l8-2-6 6-8 2z"/>
<path color=#4c3800 d="M1713 316l8-2-6 6-8 2z"/>
<path color=#4c3a00 d="M1705 319l8-3-6 6-9 3z"/>
<path color=#4c3b00 d="M1697 323l8-4-7 6-8 3z"/>
<path color=#4c3d00 d="M1688 327l9-4-7 5-8 3z"/>
<path color=#4c4000 d="M1680 331l8-4-6 4-8 4z"/>
<path color=#4c4600 d="M1631 343l8 2-6 0-8-3z"/>
<path color=#4c4200 d="M1623 339l8 4-6-1-9-4z"/>
<path color=#4f3e00 d="M1615 333l8 6-7-1-8-7z"/>
<path color=#5b3f00 d="M1606 326l9 7-7-2-8-8z"/>
<path color=#623a00 d="M1598 318l8 8-6-3-8-8z"/>
<path color=#663100 d="M1590 309l8 9-6-3-8-10z"/>
<path color=#410000 d="M1525 250l8 5-7-4-8-5z"/>
<path color=#a70b0b d="M1949 206l8-6-6-6-8 7z"/>
<path color=#db2f2f d="M1941 214l8-8-6-5-9 8z"/>
<path color=#ff6464 d="M1933 222l8-8-7-5-8 8z"/>
<path color=#ff8d8d d="M1924 232l9-10-7-5-8 10z"/>
<path color=#ffab9d d="M1916 242l8-10-6-5-8 10z"/>
<path color=#ffbd98 d="M1908 252l8-10-6-5-8 11z"/>
<path color=#ffc789 d="M1900 263l8-11-6-4-9 11z"/>
<path color=#ffcd76 d="M1892 274l8-11-7-4-8 11z"/>
<path color=#ffd160 d="M1883 285l9-11-7-4-8 11z"/>
<path color=#ffcd44 d="M1875 295l8-10-6-4-8 11z"/>
<path color=#ffc01f d="M1867 304l8-9-6-3-8 9z"/>
<path color=#4c4600 d="M1834 320l8-1-6 0-8 2z"/>
<path color=#4c4500 d="M1826 318l8 2-6 1-8 0z"/>
<path color=#4c4300 d="M1818 316l8 2-6 3-9-1z"/>
<path color=#4c4000 d="M1810 313l8 3-7 4-8-2z"/>
<path color=#4c3d00 d="M1801 310l9 3-7 5-8-2z"/>
<path color=#4c3a00 d="M1793 308l8 2-6 6-8-2z"/>
<path color=#4c3700 d="M1785 305l8 3-6 6-8-2z"/>
<path color=#4c3500 d="M1777 304l8 1-6 7-9-1z"/>
<path color=#4c3300 d="M1769 303l8 1-7 7-8-1z"/>
<path color=#4c3100 d="M1760 302l9 1-7 7-8 0z"/>
<path color=#4c3000 d="M1752 302l8 0-6 8-8 0z"/>
<path color=#4c3000 d="M1744 303l8-1-6 8-8 1z"/>
<path color=#4c3000 d="M1736 304l8-1-6 8-9 1z"/>
<path color=#4c3000 d="M1728 306l8-2-7 8-8 2z"/>
<path color=#4c3100 d="M1719 309l9-3-7 8-8 2z"/>
<path color=#4c3300 d="M1711 312l8-3-6 7-8 3z"/>
<path color=#4c3500 d="M1703 316l8-4-6 7-8 4z"/>
<path color=#4c3700 d="M1695 321l8-5-6 7-9 4z"/>
<path color=#4c3a00 d="M1687 325l8-4-7 6-8 4z"/>
<path color=#4c4200 d="M1629 341l8 3-6-1-8-4z"/>
<path color=#4c3d00 d="M1621 336l8 5-6-2-8-6z"/>
<path color=#573e00 d="M1613 330l8 6-6-3-9-7z"/>
<path color=#5f3b00 d="M1605 322l8 8-7-4-8-8z"/>
<path color=#400 d="M1531 256l8 4-6-5-8-5z"/>
<path color=#a80707 d="M1955 212l8-6-6-6-8 6z"/>
<path color=#d52323 d="M1947 220l8-8-6-6-8 8z"/>
<path color=#ff5d5d d="M1939 228l8-8-6-6-8 8z"/>
<path color=#ff9d9b d="M1931 237l8-9-6-6-9 10z"/>
<path color=#ffdbc4 d="M1923 247l8-10-7-5-8 10z"/>
<path color=#ffffd1 d="M1914 258l9-11-7-5-8 10z"/>
<path color=#ffffca d="M1906 269l8-11-6-6-8 11z"/>
<path color=#ffffb7 d="M1898 279l8-10-6-6-8 11z"/>
<path color=#ffff9a d="M1890 290l8-11-6-5-9 11z"/>
<path color=#fff869 d="M1882 299l8-9-7-5-8 10z"/>
<path color=#ffca24 d="M1873 307l9-8-7-4-8 9z"/>
<path color=#4c4400 d="M1841 317l8 1-7 1-8 1z"/>
<path color=#4c4200 d="M1832 315l9 2-7 3-8-2z"/>
<path color=#4c3f00 d="M1824 311l8 4-6 3-8-2z"/>
<path color=#4c3b00 d="M1816 308l8 3-6 5-8-3z"/>
<path color=#4c3700 d="M1808 304l8 4-6 5-9-3z"/>
<path color=#4c3400 d="M1800 301l8 3-7 6-8-2z"/>
<path color=#4c3000 d="M1791 298l9 3-7 7-8-3z"/>
<path color=#4c2d00 d="M1783 296l8 2-6 7-8-1z"/>
<path color=#4c2b00 d="M1775 294l8 2-6 8-8-1z"/>
<path color=#4c2900 d="M1767 294l8 0-6 9-9-1z"/>
<path color=#4c2800 d="M1759 294l8 0-7 8-8 0z"/>
<path color=#4c2800 d="M1750 294l9 0-7 8-8 1z"/>
<path color=#4c2800 d="M1742 296l8-2-6 9-8 1z"/>
<path color=#4c2800 d="M1734 298l8-2-6 8-8 2z"/>
<path color=#4c2900 d="M1726 301l8-3-6 8-9 3z"/>
<path color=#4c2b00 d="M1718 304l8-3-7 8-8 3z"/>
<path color=#4c2d00 d="M1709 309l9-5-7 8-8 4z"/>
<path color=#4c3000 d="M1701 314l8-5-6 7-8 5z"/>
<path color=#4c3400 d="M1693 319l8-5-6 7-8 4z"/>
<path color=#4c4400 d="M1644 345l8-1-6 1-9-1z"/>
<path color=#4c3e00 d="M1627 339l9 4-7-2-8-5z"/>
<path color=#503b00 d="M1619 333l8 6-6-3-8-6z"/>
<path color=#5b3b00 d="M1611 326l8 7-6-3-8-8z"/>
<path color=#4c0100 d="M1562 278l8 7-6-6-9-7z"/>
<path color=#460000 d="M1554 271l8 7-7-6-8-7z"/>
<path color=#460000 d="M1545 266l9 5-7-6-8-5z"/>
<path color=#490000 d="M1537 262l8 4-6-6-8-4z"/>
<path color=#aa0202 d="M1962 219l8-6-7-7-8 6z"/>
<path color=#c80f0f d="M1954 227l8-8-7-7-8 8z"/>
<path color=#ff3535 d="M1945 235l9-8-7-7-8 8z"/>
<path color=#ff7d6f d="M1937 244l8-9-6-7-8 9z"/>
<path color=#ffcaa7 d="M1929 254l8-10-6-7-8 10z"/>
<path color=#ffc d="M1921 264l8-10-6-7-9 11z"/>
<path color=#ffffdb d="M1913 274l8-10-7-6-8 11z"/>
<path color=#ffffd6 d="M1904 285l9-11-7-5-8 10z"/>
<path color=#ffffb9 d="M1896 294l8-9-6-6-8 11z"/>
<path color=#ffff73 d="M1888 303l8-9-6-4-8 9z"/>
<path color=#f7c116 d="M1880 310l8-7-6-4-9 8z"/>
<path color=#e2ba00 d="M1872 315l8-5-7-3-8 6z"/>
<path color=#4c4200 d="M1855 316l8 1-6 0-8 1z"/>
<path color=#4c4100 d="M1847 314l8 2-6 2-8-1z"/>
<path color=#4c3e00 d="M1839 310l8 4-6 3-9-2z"/>
<path color=#4c3a00 d="M1831 306l8 4-7 5-8-4z"/>
<path color=#4c3500 d="M1822 302l9 4-7 5-8-3z"/>
<path color=#4c3100 d="M1814 297l8 5-6 6-8-4z"/>
<path color=#4c2d00 d="M1806 293l8 4-6 7-8-3z"/>
<path color=#4c2900 d="M1798 290l8 3-6 8-9-3z"/>
<path color=#4c2600 d="M1790 288l8 2-7 8-8-2z"/>
<path color=#4c2300 d="M1781 286l9 2-7 8-8-2z"/>
<path color=#4c2100 d="M1773 285l8 1-6 8-8 0z"/>
<path color=#4c2000 d="M1765 285l8 0-6 9-8 0z"/>
<path color=#4c1f00 d="M1757 285l8 0-6 9-9 0z"/>
<path color=#4c1f00 d="M1749 287l8-2-7 9-8 2z"/>
<path color=#4c2000 d="M1740 289l9-2-7 9-8 2z"/>
<path color=#4c2100 d="M1732 292l8-3-6 9-8 3z"/>
<path color=#4c2300 d="M1724 296l8-4-6 9-8 3z"/>
<path color=#4c2600 d="M1716 301l8-5-6 8-9 5z"/>
<path color=#4c2900 d="M1708 306l8-5-7 8-8 5z"/>
<path color=#4c2d00 d="M1699 312l9-6-7 8-8 5z"/>
<path color=#4c3100 d="M1691 319l8-7-6 7-8 6z"/>
<path color=#cbab00 d="M1658 342l9-4-7 3-8 3z"/>
<path color=#bfa500 d="M1650 345l8-3-6 2-8 1z"/>
<path color=#9b8500 d="M1642 345l8 0-6 0-8-2z"/>
<path color=#4c0c00 d="M1576 291l9 8-7-6-8-8z"/>
<path color=#4c0500 d="M1568 284l8 7-6-6-8-7z"/>
<path color=#4b0000 d="M1560 278l8 6-6-6-8-7z"/>
<path color=#4c0000 d="M1552 273l8 5-6-7-9-5z"/>
<path color=#4f0000 d="M1544 269l8 4-7-7-8-4z"/>
<path color=#b00000 d="M1968 227l8-6-6-8-8 6z"/>
<path color=#c60505 d="M1960 234l8-7-6-8-8 8z"/>
<path color=#e11f16 d="M1952 242l8-8-6-7-9 8z"/>
<path color=#ff563b d="M1944 251l8-9-7-7-8 9z"/>
<path color=#ff9c6d d="M1935 261l9-10-7-7-8 10z"/>
<path color=#ffe19d d="M1927 271l8-10-6-7-8 10z"/>
<path color=#ffffbf d="M1919 281l8-10-6-7-8 10z"/>
<path color=#ffffca d="M1911 290l8-9-6-7-9 11z"/>
<path color=#ffffaf d="M1903 299l8-9-7-5-8 9z"/>
<path color=#fff254 d="M1894 307l9-8-7-5-8 9z"/>
<path color=#e4b404 d="M1886 313l8-6-6-4-8 7z"/>
<path color=#dbb600 d="M1878 316l8-3-6-3-8 5z"/>
<path color=#4c4000 d="M1862 314l8 2-7 1-8-1z"/>
<path color=#4c3d00 d="M1853 310l9 4-7 2-8-2z"/>
<path color=#4c3900 d="M1845 306l8 4-6 4-8-4z"/>
<path color=#4c3400 d="M1837 300l8 6-6 4-8-4z"/>
<path color=#4c2f00 d="M1829 295l8 5-6 6-9-4z"/>
<path color=#4c2a00 d="M1821 290l8 5-7 7-8-5z"/>
<path color=#4c2500 d="M1812 286l9 4-7 7-8-4z"/>
<path color=#4c2100 d="M1804 282l8 4-6 7-8-3z"/>
<path color=#4c1d00 d="M1796 279l8 3-6 8-8-2z"/>
<path color=#4c1b00 d="M1788 277l8 2-6 9-9-2z"/>
<path color=#4c1800 d="M1780 276l8 1-7 9-8-1z"/>
<path color=#4c1700 d="M1771 276l9 0-7 9-8 0z"/>
<path color=#4c1600 d="M1763 276l8 0-6 9-8 0z"/>
<path color=#4c1600 d="M1755 278l8-2-6 9-8 2z"/>
<path color=#4c1700 d="M1747 280l8-2-6 9-9 2z"/>
<path color=#4c1800 d="M1739 284l8-4-7 9-8 3z"/>
<path color=#4c1b00 d="M1730 288l9-4-7 8-8 4z"/>
<path color=#4c1d00 d="M1722 293l8-5-6 8-8 5z"/>
<path color=#4c2100 d="M1714 299l8-6-6 8-8 5z"/>
<path color=#4c2500 d="M1706 305l8-6-6 7-9 6z"/>
<path color=#4c2a00 d="M1698 312l8-7-7 7-8 7z"/>
<path color=#cc9800 d="M1673 334l8-7-6 5-8 6z"/>
<path color=#d0a600 d="M1665 340l8-6-6 4-9 4z"/>
<path color=#cdac00 d="M1657 344l8-4-7 2-8 3z"/>
<path color=#b69b00 d="M1648 346l9-2-7 1-8 0z"/>
<path color=#4c1100 d="M1583 299l8 7-6-7-9-8z"/>
<path color=#4c0a00 d="M1575 292l8 7-7-8-8-7z"/>
<path color=#4d0400 d="M1566 286l9 6-7-8-8-6z"/>
<path color=#530000 d="M1558 281l8 5-6-8-8-5z"/>
<path color=#570000 d="M1550 277l8 4-6-8-8-4z"/>
<path color=#b90000 d="M1975 236l8-6-7-9-8 6z"/>
<path color=#c20b01 d="M1966 243l9-7-7-9-8 7z"/>
<path color=#cd1f07 d="M1958 251l8-8-6-9-8 8z"/>
<path color=#e34319 d="M1950 259l8-8-6-9-8 9z"/>
<path color=#ff773b d="M1942 268l8-9-6-8-9 10z"/>
<path color=#ffb766 d="M1934 278l8-10-7-7-8 10z"/>
<path color=#fff48d d="M1925 287l9-9-7-7-8 10z"/>
<path color=#ffffa0 d="M1917 296l8-9-6-6-8 9z"/>
<path color=#ffff7e d="M1909 304l8-8-6-6-8 9z"/>
<path color=#fdc620 d="M1901 311l8-7-6-5-9 8z"/>
<path color=#ddb300 d="M1893 315l8-4-7-4-8 6z"/>
<path color=#ccab00 d="M1884 316l9-1-7-2-8 3z"/>
<path color=#4c4000 d="M1876 315l8 1-6 0-8 0z"/>
<path color=#4c3e00 d="M1868 311l8 4-6 1-8-2z"/>
<path color=#4c3900 d="M1860 307l8 4-6 3-9-4z"/>
<path color=#4c3400 d="M1852 301l8 6-7 3-8-4z"/>
<path color=#4c2f00 d="M1843 295l9 6-7 5-8-6z"/>
<path color=#4c2900 d="M1835 289l8 6-6 5-8-5z"/>
<path color=#4c2300 d="M1827 283l8 6-6 6-8-5z"/>
<path color=#4c1e00 d="M1819 279l8 4-6 7-9-4z"/>
<path color=#4c1900 d="M1811 274l8 5-7 7-8-4z"/>
<path color=#4c1500 d="M1802 271l9 3-7 8-8-3z"/>
<path color=#4c1200 d="M1794 269l8 2-6 8-8-2z"/>
<path color=#4c1000 d="M1786 268l8 1-6 8-8-1z"/>
<path color=#4c0e00 d="M1778 267l8 1-6 8-9 0z"/>
<path color=#4c0d00 d="M1770 268l8-1-7 9-8 0z"/>
<path color=#4c0d00 d="M1761 269l9-1-7 8-8 2z"/>
<path color=#4c0e00 d="M1753 272l8-3-6 9-8 2z"/>
<path color=#4c1000 d="M1745 275l8-3-6 8-8 4z"/>
<path color=#4c1200 d="M1737 280l8-5-6 9-9 4z"/>
<path color=#4c1500 d="M1729 285l8-5-7 8-8 5z"/>
<path color=#4c1900 d="M1720 291l9-6-7 8-8 6z"/>
<path color=#4c1e00 d="M1712 298l8-7-6 8-8 6z"/>
<path color=#c97a00 d="M1688 322l8-8-7 6-8 7z"/>
<path color=#ce8d00 d="M1679 330l9-8-7 5-8 7z"/>
<path color=#d29e00 d="M1671 337l8-7-6 4-8 6z"/>
<path color=#d4ab00 d="M1663 343l8-6-6 3-8 4z"/>
<path color=#cbaa00 d="M1655 346l8-3-6 1-9 2z"/>
<path color=#a78b00 d="M1647 347l8-1-7 0-8-1z"/>
<path color=#776000 d="M1638 345l9 2-7-2-8-4z"/>
<path color=#4c2d00 d="M1614 328l8 7-6-6-9-8z"/>
<path color=#4c2500 d="M1606 321l8 7-7-7-8-7z"/>
<path color=#4c1e00 d="M1597 313l9 8-7-7-8-8z"/>
<path color=#4c1700 d="M1589 307l8 6-6-7-8-7z"/>
<path color=#4c1000 d="M1581 300l8 7-6-8-8-7z"/>
<path color=#4f0a00 d="M1573 295l8 5-6-8-9-6z"/>
<path color=#570500 d="M1565 290l8 5-7-9-8-5z"/>
<path color=#5f0000 d="M1557 286l8 4-7-9-8-4z"/>
<path color=#b50f00 d="M1981 245l8-5-6-10-8 6z"/>
<path color=#bc1a00 d="M1973 252l8-7-6-9-9 7z"/>
<path color=#c32a02 d="M1965 259l8-7-7-9-8 8z"/>
<path color=#cf4209 d="M1956 268l9-9-7-8-8 8z"/>
<path color=#e5661b d="M1948 276l8-8-6-9-8 9z"/>
<path color=#ff983a d="M1940 285l8-9-6-8-8 10z"/>
<path color=#ffce5b d="M1932 294l8-9-6-7-9 9z"/>
<path color=#fff068 d="M1924 302l8-8-7-7-8 9z"/>
<path color=#ffd83d d="M1915 309l9-7-7-6-8 8z"/>
<path color=#deaf03 d="M1907 314l8-5-6-5-8 7z"/>
<path color=#d5af00 d="M1899 316l8-2-6-3-8 4z"/>
<path color=#b29500 d="M1891 316l8 0-6-1-9 1z"/>
<path color=#4c3e00 d="M1883 313l8 3-7 0-8-1z"/>
<path color=#4c3a00 d="M1874 308l9 5-7 2-8-4z"/>
<path color=#4c3500 d="M1866 302l8 6-6 3-8-4z"/>
<path color=#4e3000 d="M1858 296l8 6-6 5-8-6z"/>
<path color=#4f2a00 d="M1850 289l8 7-6 5-9-6z"/>
<path color=#4e2300 d="M1842 283l8 6-7 6-8-6z"/>
<path color=#4c1c00 d="M1833 277l9 6-7 6-8-6z"/>
<path color=#4c1700 d="M1825 271l8 6-6 6-8-4z"/>
<path color=#4c1200 d="M1817 267l8 4-6 8-8-5z"/>
<path color=#4c0e00 d="M1809 263l8 4-6 7-9-3z"/>
<path color=#4c0a00 d="M1801 261l8 2-7 8-8-2z"/>
<path color=#4c0800 d="M1792 259l9 2-7 8-8-1z"/>
<path color=#4c0600 d="M1784 259l8 0-6 9-8-1z"/>
<path color=#4c0500 d="M1776 259l8 0-6 8-8 1z"/>
<path color=#4c0500 d="M1768 261l8-2-6 9-9 1z"/>
<path color=#4c0600 d="M1760 264l8-3-7 8-8 3z"/>
<path color=#4c0800 d="M1751 267l9-3-7 8-8 3z"/>
<path color=#4c0a00 d="M1743 272l8-5-6 8-8 5z"/>
<path color=#4c0e00 d="M1735 278l8-6-6 8-8 5z"/>
<path color=#4c1200 d="M1727 284l8-6-6 7-9 6z"/>
<path color=#4c1700 d="M1719 292l8-8-7 7-8 7z"/>
<path color=#4c1c00 d="M1710 300l9-8-7 6-8 8z"/>
<path color=#c75a00 d="M1702 308l8-8-6 6-8 8z"/>
<path color=#cb6c00 d="M1694 317l8-9-6 6-8 8z"/>
<path color=#cf8000 d="M1686 326l8-9-6 5-9 8z"/>
<path color=#d39300 d="M1678 334l8-8-7 4-8 7z"/>
<path color=#d7a400 d="M1669 341l9-7-7 3-8 6z"/>
<path color=#d7ae00 d="M1661 346l8-5-6 2-8 3z"/>
<path color=#c2a200 d="M1653 349l8-3-6 0-8 1z"/>
<path color=#937900 d="M1645 348l8 1-6-2-9-2z"/>
<path color=#6a5300 d="M1637 345l8 3-7-3-8-4z"/>
<path color=#543c00 d="M1628 341l9 4-7-4-8-6z"/>
<path color=#4c3100 d="M1620 335l8 6-6-6-8-7z"/>
<path color=#4c2a00 d="M1612 328l8 7-6-7-8-7z"/>
<path color=#4c2300 d="M1604 321l8 7-6-7-9-8z"/>
<path color=#4c1c00 d="M1596 315l8 6-7-8-8-6z"/>
<path color=#4c1600 d="M1587 309l9 6-7-8-8-7z"/>
<path color=#521100 d="M1579 304l8 5-6-9-8-5z"/>
<path color=#590c00 d="M1571 299l8 5-6-9-8-5z"/>
<path color=#620800 d="M1563 296l8 3-6-9-8-4z"/>
</g>
<use href="#siiu" filter="url(#fsiiu)"/>
<g id="siiil" class="sf" transform="scale(.5)">
<path color=#00064c d="M417 1180l10-1-8 9-11 1z"/>
<path color=#00064c d="M407 1180l10 0-9 9-10 0z"/>
<path color=#00084c d="M397 1178l10 2-9 9-10-2z"/>
<path color=#000b4c d="M387 1175l10 3-9 9-10-3z"/>
<path color=#000f4c d="M377 1171l10 4-9 9-10-4z"/>
<path color=#00154c d="M367 1167l10 4-9 9-10-5z"/>
<path color=#001c4c d="M356 1161l11 6-9 8-10-6z"/>
<path color=#00404c d="M296 1139l10-1-8 2-10-1z"/>
<path color=#00a6cb d="M286 1144l10-5-8 0-10 2z"/>
<path color=#00a1d4 d="M276 1150l10-6-8-3-10 4z"/>
<path color=#008ed5 d="M266 1158l10-8-8-5-11 7z"/>
<path color=#0278d4 d="M256 1166l10-8-9-6-10 7z"/>
<path color=#0360d2 d="M246 1174l10-8-9-7-10 8z"/>
<path color=#0248cf d="M236 1182l10-8-9-7-10 7z"/>
<path color=#0130c9 d="M226 1189l10-7-9-8-10 7z"/>
<path color=#001cc3 d="M216 1196l10-7-9-8-10 6z"/>
<path color=#000ebe d="M208 1200l8-4-9-9-8 4z"/>
<path color=#00114c d="M415 1170l10 1-8 9-10 0z"/>
<path color=#00134c d="M405 1169l10 1-8 10-10-2z"/>
<path color=#00164c d="M395 1166l10 3-8 9-10-3z"/>
<path color=#001a4c d="M385 1162l10 4-8 9-10-4z"/>
<path color=#001f4c d="M375 1157l10 5-8 9-10-4z"/>
<path color=#00264c d="M365 1152l10 5-8 10-11-6z"/>
<path color=#00acc9 d="M304 1140l10-4-8 2-10 1z"/>
<path color=#00aed9 d="M294 1146l10-6-8-1-10 5z"/>
<path color=#009cdc d="M284 1154l10-8-8-2-10 6z"/>
<path color=#0083db d="M274 1163l10-9-8-4-10 8z"/>
<path color=#0268da d="M264 1172l10-9-8-5-10 8z"/>
<path color=#034ed8 d="M254 1181l10-9-8-6-10 8z"/>
<path color=#0334d5 d="M244 1189l10-8-8-7-10 8z"/>
<path color=#011bcf d="M234 1197l10-8-8-7-10 7z"/>
<path color=#0006c9 d="M224 1203l10-6-8-8-10 7z"/>
<path color=#00b d="M216 1207l8-4-8-7-8 4z"/>
<path color=#00214c d="M403 1157l10 2-8 10-10-3z"/>
<path color=#00254c d="M393 1153l10 4-8 9-10-4z"/>
<path color=#002b4c d="M383 1148l10 5-8 9-10-5z"/>
<path color=#00bed9 d="M313 1140l10-6-9 2-10 4z"/>
<path color=#00b0e0 d="M303 1149l10-9-9 0-10 6z"/>
<path color=#0095e1 d="M293 1158l10-9-9-3-10 8z"/>
<path color=#0077df d="M283 1168l10-10-9-4-10 9z"/>
<path color=#015ade d="M273 1178l10-10-9-5-10 9z"/>
<path color=#023ddc d="M262 1187l11-9-9-6-10 9z"/>
<path color=#0221d9 d="M252 1195l10-8-8-6-10 8z"/>
<path color=#0107d4 d="M242 1203l10-8-8-6-10 8z"/>
<path color=#0000c1 d="M232 1210l10-7-8-6-10 6z"/>
<path color=#0000ad d="M224 1214l8-4-8-7-8 4z"/>
<path color=#00ced2 d="M331 1132l10-7-8 5-10 4z"/>
<path color=#00c9e1 d="M321 1141l10-9-8 2-10 6z"/>
<path color=#00afe4 d="M311 1151l10-10-8-1-10 9z"/>
<path color=#008fe3 d="M301 1161l10-10-8-2-10 9z"/>
<path color=#006de2 d="M291 1172l10-11-8-3-10 10z"/>
<path color=#014ce1 d="M281 1182l10-10-8-4-10 10z"/>
<path color=#012ddf d="M271 1192l10-10-8-4-11 9z"/>
<path color=#0110dc d="M261 1200l10-8-9-5-10 8z"/>
<path color=#0000cf d="M251 1208l10-8-9-5-10 8z"/>
<path color=#0000b5 d="M241 1215l10-7-9-5-10 7z"/>
<path color=#0000a1 d="M233 1219l8-4-9-5-8 4z"/>
<path color=#07ded7 d="M340 1130l10-9-9 4-10 7z"/>
<path color=#00cfe4 d="M330 1141l10-11-9 2-10 9z"/>
<path color=#00aee5 d="M319 1152l11-11-9 0-10 10z"/>
<path color=#008ae4 d="M309 1163l10-11-8-1-10 10z"/>
<path color=#0065e4 d="M299 1175l10-12-8-2-10 11z"/>
<path color=#0042e3 d="M289 1185l10-10-8-3-10 10z"/>
<path color=#0021e1 d="M279 1195l10-10-8-3-10 10z"/>
<path color=#0003e0 d="M269 1204l10-9-8-3-10 8z"/>
<path color=#0000c5 d="M259 1212l10-8-8-4-10 8z"/>
<path color=#0000ac d="M249 1219l10-7-8-4-10 7z"/>
<path color=#000097 d="M241 1223l8-4-8-4-8 4z"/>
<path color=#003 d="M660 1204l8 4-8-2-8-4z"/>
<path color=#2cd8ad d="M358 1119l10-10-8 6-10 6z"/>
<path color=#10e3d3 d="M348 1130l10-11-8 2-10 9z"/>
<path color=#00d2e5 d="M338 1141l10-11-8 0-10 11z"/>
<path color=#00ace5 d="M328 1153l10-12-8 0-11 11z"/>
<path color=#0086e5 d="M318 1165l10-12-9-1-10 11z"/>
<path color=#0060e5 d="M308 1176l10-11-9-2-10 12z"/>
<path color=#003ce4 d="M298 1187l10-11-9-1-10 10z"/>
<path color=#001ae4 d="M288 1197l10-10-9-2-10 10z"/>
<path color=#00d d="M278 1206l10-9-9-2-10 9z"/>
<path color=#0000bf d="M267 1215l11-9-9-2-10 8z"/>
<path color=#0000a5 d="M257 1221l10-6-8-3-10 7z"/>
<path color=#000091 d="M250 1226l7-5-8-2-8 4z"/>
<path color=#000032 d="M668 1206l8 3-8-1-8-4z"/>
<path color=#3cdca0 d="M528 1108l10-9-9 5-10 7z"/>
<path color=#22ddbc d="M517 1116l11-8-9 3-10 8z"/>
<path color=#0adbd1 d="M507 1123l10-7-8 3-10 6z"/>
<path color=#00cfd7 d="M497 1129l10-6-8 2-10 6z"/>
<path color=#00bad0 d="M487 1133l10-4-8 2-10 4z"/>
<path color=#00a8c6 d="M477 1136l10-3-8 2-10 2z"/>
<path color=#003f4c d="M467 1137l10-1-8 1-10 2z"/>
<path color=#3ae4aa d="M366 1118l11-12-9 3-10 10z"/>
<path color=#15e5d0 d="M356 1130l10-12-8 1-10 11z"/>
<path color=#00d3e5 d="M346 1142l10-12-8 0-10 11z"/>
<path color=#00abe5 d="M336 1154l10-12-8-1-10 12z"/>
<path color=#0084e5 d="M326 1166l10-12-8-1-10 12z"/>
<path color=#005de5 d="M316 1177l10-11-8-1-10 11z"/>
<path color=#0038e5 d="M306 1188l10-11-8-1-10 11z"/>
<path color=#0016e5 d="M296 1198l10-10-8-1-10 10z"/>
<path color=#0000da d="M286 1208l10-10-8-1-10 9z"/>
<path color=#0000bc d="M276 1216l10-8-8-2-11 9z"/>
<path color=#0000a2 d="M266 1223l10-7-9-1-10 6z"/>
<path color=#00008e d="M258 1227l8-4-9-2-7 5z"/>
<path color=#000032 d="M677 1205l8 4-9 0-8-3z"/>
<path color=#000038 d="M667 1199l10 6-9 1-10-6z"/>
<path color=#255e39 d="M556 1099l10 3-8-3-10-10z"/>
<path color=#50cb7c d="M546 1104l10-5-8-10-10 10z"/>
<path color=#3cdca1 d="M536 1112l10-8-8-5-10 9z"/>
<path color=#22ddbc d="M526 1120l10-8-8-4-11 8z"/>
<path color=#0adbd1 d="M516 1126l10-6-9-4-10 7z"/>
<path color=#00cfd7 d="M506 1132l10-6-9-3-10 6z"/>
<path color=#00bad0 d="M496 1136l10-4-9-3-10 4z"/>
<path color=#00a8c6 d="M486 1138l10-2-9-3-10 3z"/>
<path color=#0098b8 d="M475 1139l11-1-9-2-10 1z"/>
<path color=#25603a d="M395 1106l10 4-8-5-10-9z"/>
<path color=#54d27f d="M385 1110l10-4-8-10-10 10z"/>
<path color=#3ae4aa d="M375 1120l10-10-8-4-11 12z"/>
<path color=#15e5d0 d="M365 1131l10-11-9-2-10 12z"/>
<path color=#00d3e5 d="M355 1142l10-11-9-1-10 12z"/>
<path color=#00abe5 d="M345 1154l10-12-9 0-10 12z"/>
<path color=#0084e5 d="M335 1166l10-12-9 0-10 12z"/>
<path color=#005de5 d="M324 1177l11-11-9 0-10 11z"/>
<path color=#0038e5 d="M314 1188l10-11-8 0-10 11z"/>
<path color=#0016e5 d="M304 1198l10-10-8 0-10 10z"/>
<path color=#0000da d="M294 1207l10-9-8 0-10 10z"/>
<path color=#0000bc d="M284 1215l10-8-8 1-10 8z"/>
<path color=#0000a2 d="M274 1222l10-7-8 1-10 7z"/>
<path color=#00008e d="M266 1227l8-5-8 1-8 4z"/>
<path color=#003 d="M685 1204l8 3-8 2-8-4z"/>
<path color=#000039 d="M675 1198l10 6-8 1-10-6z"/>
<path color=#268b65 d="M564 1110l10 0-8-8-10-3z"/>
<path color=#2eb487 d="M554 1114l10-4-8-11-10 5z"/>
<path color=#21c5a4 d="M544 1121l10-7-8-10-10 8z"/>
<path color=#0ecabc d="M534 1127l10-6-8-9-10 8z"/>
<path color=#00c4ca d="M524 1133l10-6-8-7-10 6z"/>
<path color=#00b1c7 d="M514 1138l10-5-8-7-10 6z"/>
<path color=#00a0c0 d="M504 1142l10-4-8-6-10 4z"/>
<path color=#0090b7 d="M494 1145l10-3-8-6-10 2z"/>
<path color=#0084ac d="M484 1146l10-1-8-7-11 1z"/>
<path color=#106252 d="M413 1120l10 6-8-9-10-7z"/>
<path color=#1d7356 d="M403 1116l10 4-8-10-10-4z"/>
<path color=#2faa7b d="M393 1117l10-1-8-10-10 4z"/>
<path color=#2cd8ad d="M383 1123l10-6-8-7-10 10z"/>
<path color=#10e3d3 d="M373 1132l10-9-8-3-10 11z"/>
<path color=#00d2e5 d="M363 1143l10-11-8-1-10 11z"/>
<path color=#00ace5 d="M353 1154l10-11-8-1-10 12z"/>
<path color=#0086e5 d="M343 1165l10-11-8 0-10 12z"/>
<path color=#0060e5 d="M333 1176l10-11-8 1-11 11z"/>
<path color=#003ce4 d="M323 1187l10-11-9 1-10 11z"/>
<path color=#001ae3 d="M313 1197l10-10-9 1-10 10z"/>
<path color=#00d d="M303 1206l10-9-9 1-10 9z"/>
<path color=#0000bf d="M293 1214l10-8-9 1-10 8z"/>
<path color=#0000a5 d="M283 1221l10-7-9 1-10 7z"/>
<path color=#000091 d="M275 1225l8-4-9 1-8 5z"/>
<path color=#000037 d="M694 1201l7 3-8 3-8-3z"/>
<path color=#00003c d="M684 1195l10 6-9 3-10-6z"/>
<path color=#004 d="M673 1188l11 7-9 3-10-7z"/>
<path color=#0f7e6f d="M583 1118l10 1-8-4-11-5z"/>
<path color=#17a189 d="M573 1120l10-2-9-8-10 0z"/>
<path color=#13b4a1 d="M563 1124l10-4-9-10-10 4z"/>
<path color=#05bcb7 d="M553 1131l10-7-9-10-10 7z"/>
<path color=#00b2bf d="M543 1137l10-6-9-10-10 6z"/>
<path color=#00a1be d="M533 1143l10-6-9-10-10 6z"/>
<path color=#0090ba d="M522 1147l11-4-9-10-10 5z"/>
<path color=#0081b4 d="M512 1151l10-4-8-9-10 4z"/>
<path color=#0074ac d="M502 1153l10-2-8-9-10 3z"/>
<path color=#006aa2 d="M492 1155l10-2-8-8-10 1z"/>
<path color=#15957f d="M402 1125l10 1-9-10-10 1z"/>
<path color=#18c4ac d="M392 1128l10-3-9-8-10 6z"/>
<path color=#07ded7 d="M382 1134l10-6-9-5-10 9z"/>
<path color=#00cfe4 d="M371 1143l11-9-9-2-10 11z"/>
<path color=#00aee5 d="M361 1153l10-10-8 0-10 11z"/>
<path color=#008ae4 d="M351 1164l10-11-8 1-10 11z"/>
<path color=#0065e4 d="M341 1174l10-10-8 1-10 11z"/>
<path color=#0042e3 d="M331 1184l10-10-8 2-10 11z"/>
<path color=#0021e1 d="M321 1194l10-10-8 3-10 10z"/>
<path color=#0003e0 d="M311 1203l10-9-8 3-10 9z"/>
<path color=#0000c5 d="M301 1211l10-8-8 3-10 8z"/>
<path color=#0000ab d="M291 1218l10-7-8 3-10 7z"/>
<path color=#000097 d="M283 1222l8-4-8 3-8 4z"/>
<path color=#00003b d="M702 1196l8 4-9 4-7-3z"/>
<path color=#000041 d="M692 1190l10 6-8 5-10-6z"/>
<path color=#000049 d="M682 1184l10 6-8 5-11-7z"/>
<path color=#049a96 d="M591 1126l10-1-8-6-10-1z"/>
<path color=#02afad d="M581 1129l10-3-8-8-10 2z"/>
<path color=#00b0b8 d="M571 1135l10-6-8-9-10 4z"/>
<path color=#00a4bb d="M561 1141l10-6-8-11-10 7z"/>
<path color=#0094bb d="M551 1147l10-6-8-10-10 6z"/>
<path color=#0083b9 d="M541 1153l10-6-8-10-10 6z"/>
<path color=#0073b5 d="M531 1157l10-4-8-10-11 4z"/>
<path color=#0065af d="M521 1161l10-4-9-10-10 4z"/>
<path color=#00ced2 d="M390 1137l10-4-8-5-10 6z"/>
<path color=#00c9e1 d="M380 1144l10-7-8-3-11 9z"/>
<path color=#0000b5 d="M299 1213l10-6-8 4-10 7z"/>
<path color=#0000a1 d="M291 1217l8-4-8 5-8 4z"/>
<path color=#000042 d="M710 1191l8 3-8 6-8-4z"/>
<path color=#000047 d="M700 1185l10 6-8 5-10-6z"/>
<path color=#00024c d="M690 1178l10 7-8 5-10-6z"/>
<path color=#00a4b0 d="M600 1133l10-2-9-6-10 1z"/>
<path color=#00a6ba d="M590 1138l10-5-9-7-10 3z"/>
<path color=#009bbd d="M579 1145l11-7-9-9-10 6z"/>
<path color=#008abe d="M569 1151l10-6-8-10-10 6z"/>
<path color=#0078bc d="M559 1158l10-7-8-10-10 6z"/>
<path color=#000047 d="M308 1207l10-6-9 6-10 6z"/>
<path color=#000042 d="M300 1212l8-5-9 6-8 4z"/>
<path color=#00024c d="M316 1201l10-6-8 6-10 6z"/>
<path color=#000049 d="M308 1205l8-4-8 6-8 5z"/>
<path color=#005dd0 d="M355 1173l10-8-9 6-10 9z"/>
<path color=#001a4c d="M345 1180l10-7-9 7-10 7z"/>
<path color=#00124c d="M334 1187l11-7-9 7-10 8z"/>
<path color=#000b4c d="M324 1193l10-6-8 8-10 6z"/>
<path color=#00064c d="M317 1197l7-4-8 8-8 4z"/>
<path color=#00404c d="M655 1135l10-1-8 2-10-1z"/>
<path color=#00394c d="M383 1152l10-5-8 4-10 7z"/>
<path color=#002b4c d="M363 1165l10-7-8 7-10 8z"/>
<path color=#00234c d="M353 1172l10-7-8 8-10 7z"/>
<path color=#001c4c d="M343 1179l10-7-8 8-11 7z"/>
<path color=#00154c d="M333 1184l10-5-9 8-10 6z"/>
<path color=#00104c d="M325 1188l8-4-9 9-7 4z"/>
<path color=#00acc9 d="M663 1136l10-4-8 2-10 1z"/>
<path color=#00aed9 d="M653 1142l10-6-8-1-10 5z"/>
<path color=#003b4c d="M381 1150l11-5-9 7-10 6z"/>
<path color=#00344c d="M371 1157l10-7-8 8-10 7z"/>
<path color=#002d4c d="M361 1163l10-6-8 8-10 7z"/>
<path color=#00264c d="M351 1169l10-6-8 9-10 7z"/>
<path color=#001f4c d="M341 1175l10-6-8 10-10 5z"/>
<path color=#001a4c d="M333 1179l8-4-8 9-8 4z"/>
<path color=#00bed9 d="M672 1136l10-7-9 3-10 4z"/>
<path color=#00b0e0 d="M662 1145l10-9-9 0-10 6z"/>
<path color=#003e4c d="M380 1148l10-6-9 8-10 7z"/>
<path color=#00384c d="M370 1154l10-6-9 9-10 6z"/>
<path color=#00314c d="M360 1160l10-6-9 9-10 6z"/>
<path color=#002b4c d="M350 1166l10-6-9 9-10 6z"/>
<path color=#00264c d="M342 1169l8-3-9 9-8 4z"/>
<path color=#00ced2 d="M690 1128l10-7-8 5-10 3z"/>
<path color=#00c9e1 d="M680 1137l10-9-8 1-10 7z"/>
<path color=#00afe4 d="M670 1147l10-10-8-1-10 9z"/>
<path color=#00434c d="M378 1144l10-6-8 10-10 6z"/>
<path color=#003c4c d="M368 1150l10-6-8 10-10 6z"/>
<path color=#00364c d="M358 1156l10-6-8 10-10 6z"/>
<path color=#00314c d="M350 1160l8-4-8 10-8 3z"/>
<path color=#07ded7 d="M699 1126l10-9-9 4-10 7z"/>
<path color=#00cfe4 d="M688 1137l11-11-9 2-10 9z"/>
<path color=#00aee5 d="M678 1148l10-11-8 0-10 10z"/>
<path color=#00484c d="M376 1142l10-7-8 9-10 6z"/>
<path color=#00414c d="M366 1148l10-6-8 8-10 6z"/>
<path color=#003c4c d="M358 1152l8-4-8 8-8 4z"/>
<path color=#2cd8ad d="M717 1115l10-10-8 6-10 6z"/>
<path color=#10e3d3 d="M707 1126l10-11-8 2-10 9z"/>
<path color=#00d2e5 d="M697 1137l10-11-8 0-11 11z"/>
<path color=#00ace5 d="M687 1149l10-12-9 0-10 11z"/>
<path color=#00002e d="M546 1225l10 4-8-3-11-3z"/>
<path color=#003 d="M536 1221l10 4-9-2-10-5z"/>
<path color=#00454c d="M367 1146l8-4-9 6-8 4z"/>
<path color=#3ae4aa d="M725 1114l10-12-8 3-10 10z"/>
<path color=#15e5d0 d="M715 1126l10-12-8 1-10 11z"/>
<path color=#00d3e5 d="M705 1138l10-12-8 0-10 11z"/>
<path color=#00abe5 d="M695 1150l10-12-8-1-10 12z"/>
<path color=#000056 d="M574 1232l10 0-8-1-10 0z"/>
<path color=#000028 d="M564 1230l10 2-8-1-10-2z"/>
<path color=#00002c d="M554 1227l10 3-8-1-10-4z"/>
<path color=#000031 d="M544 1222l10 5-8-2-10-4z"/>
<path color=#1e4c2f d="M413 1115l10-10-8 10-10 5z"/>
<path color=#3cdca0 d="M403 1124l10-9-8 5-10 7z"/>
<path color=#22ddbc d="M393 1133l10-9-8 3-10 8z"/>
<path color=#0adbd1 d="M383 1139l10-6-8 2-10 7z"/>
<path color=#00d1d7 d="M375 1144l8-5-8 3-8 4z"/>
<path color=#25603a d="M754 1102l10 4-8-5-11-9z"/>
<path color=#53d27f d="M744 1106l10-4-9-10-10 10z"/>
<path color=#3ae4aa d="M734 1115l10-9-9-4-10 12z"/>
<path color=#15e5d0 d="M724 1127l10-12-9-1-10 12z"/>
<path color=#00d3e5 d="M714 1138l10-11-9-1-10 12z"/>
<path color=#00abe5 d="M704 1150l10-12-9 0-10 12z"/>
<path color=#00005e d="M593 1232l10-1-9 0-10 1z"/>
<path color=#000028 d="M573 1230l10 1-9 1-10-2z"/>
<path color=#00002c d="M563 1226l10 4-9 0-10-3z"/>
<path color=#000031 d="M553 1222l10 4-9 1-10-5z"/>
<path color=#000038 d="M542 1216l11 6-9 0-10-6z"/>
<path color=#255e39 d="M432 1115l10 4-9-4-10-10z"/>
<path color=#50cc7c d="M422 1121l10-6-9-10-10 10z"/>
<path color=#3cdca1 d="M412 1128l10-7-9-6-10 9z"/>
<path color=#22ddbc d="M402 1136l10-8-9-4-10 9z"/>
<path color=#0adbd1 d="M391 1142l11-6-9-3-10 6z"/>
<path color=#00d1d7 d="M384 1147l7-5-8-3-8 5z"/>
<path color=#106252 d="M772 1116l10 6-8-9-10-7z"/>
<path color=#1d7356 d="M762 1112l10 4-8-10-10-4z"/>
<path color=#2faa7b d="M752 1113l10-1-8-10-10 4z"/>
<path color=#2cd8ad d="M742 1119l10-6-8-7-10 9z"/>
<path color=#10e3d3 d="M732 1128l10-9-8-4-10 12z"/>
<path color=#00d2e5 d="M722 1139l10-11-8-1-10 11z"/>
<path color=#00ace5 d="M712 1150l10-11-8-1-10 12z"/>
<path color=#000028 d="M601 1230l10-1-8 2-10 1z"/>
<path color=#000028 d="M591 1230l10 0-8 2-10-1z"/>
<path color=#00002a d="M581 1228l10 2-8 1-10-1z"/>
<path color=#00002e d="M571 1225l10 3-8 2-10-4z"/>
<path color=#003 d="M561 1220l10 5-8 1-10-4z"/>
<path color=#000039 d="M551 1214l10 6-8 2-11-6z"/>
<path color=#268b65 d="M440 1126l10 0-8-7-10-4z"/>
<path color=#2eb487 d="M430 1130l10-4-8-11-10 6z"/>
<path color=#21c5a4 d="M420 1137l10-7-8-9-10 7z"/>
<path color=#0ecabd d="M410 1143l10-6-8-9-10 8z"/>
<path color=#00c4ca d="M400 1149l10-6-8-7-11 6z"/>
<path color=#00b3c7 d="M392 1154l8-5-9-7-7 5z"/>
<path color=#15957f d="M761 1121l10 1-9-10-10 1z"/>
<path color=#18c4ac d="M750 1124l11-3-9-8-10 6z"/>
<path color=#07ded7 d="M740 1130l10-6-8-5-10 9z"/>
<path color=#00cfe4 d="M730 1139l10-9-8-2-10 11z"/>
<path color=#00aee5 d="M720 1149l10-10-8 0-10 11z"/>
<path color=#000082 d="M630 1223l10-4-9 3-10 4z"/>
<path color=#00002d d="M620 1226l10-3-9 3-10 3z"/>
<path color=#00002c d="M610 1227l10-1-9 3-10 1z"/>
<path color=#00002c d="M599 1226l11 1-9 3-10 0z"/>
<path color=#00002d d="M589 1225l10 1-8 4-10-2z"/>
<path color=#000031 d="M579 1221l10 4-8 3-10-3z"/>
<path color=#000036 d="M569 1217l10 4-8 4-10-5z"/>
<path color=#00003c d="M559 1211l10 6-8 3-10-6z"/>
<path color=#004 d="M549 1204l10 7-8 3-10-7z"/>
<path color=#0f7e6f d="M459 1134l10 2-9-5-10-5z"/>
<path color=#17a189 d="M448 1136l11-2-9-8-10 0z"/>
<path color=#13b4a1 d="M438 1141l10-5-8-10-10 4z"/>
<path color=#05bcb7 d="M428 1147l10-6-8-11-10 7z"/>
<path color=#00b2bf d="M418 1153l10-6-8-10-10 6z"/>
<path color=#00a1be d="M408 1159l10-6-8-10-10 6z"/>
<path color=#0092bb d="M400 1163l8-4-8-10-8 5z"/>
<path color=#00ced2 d="M749 1133l10-4-9-5-10 6z"/>
<path color=#00c9e1 d="M739 1140l10-7-9-3-10 9z"/>
<path color=#000036 d="M638 1218l10-4-8 5-10 4z"/>
<path color=#000032 d="M628 1221l10-3-8 5-10 3z"/>
<path color=#000031 d="M618 1222l10-1-8 5-10 1z"/>
<path color=#000031 d="M608 1222l10 0-8 5-11-1z"/>
<path color=#000032 d="M598 1220l10 2-9 4-10-1z"/>
<path color=#000036 d="M588 1217l10 3-9 5-10-4z"/>
<path color=#00003b d="M578 1212l10 5-9 4-10-4z"/>
<path color=#000041 d="M568 1207l10 5-9 5-10-6z"/>
<path color=#000049 d="M558 1200l10 7-9 4-10-7z"/>
<path color=#00787a d="M477 1141l10 3-8-3-10-5z"/>
<path color=#049a96 d="M467 1142l10-1-8-5-10-2z"/>
<path color=#02afad d="M457 1146l10-4-8-8-11 2z"/>
<path color=#00b0b8 d="M447 1151l10-5-9-10-10 5z"/>
<path color=#00a4bb d="M437 1157l10-6-9-10-10 6z"/>
<path color=#0094bb d="M427 1163l10-6-9-10-10 6z"/>
<path color=#0083b9 d="M417 1169l10-6-9-10-10 6z"/>
<path color=#0074b5 d="M409 1173l8-4-9-10-8 4z"/>
<path color=#000047 d="M667 1203l10-6-9 5-10 7z"/>
<path color=#000041 d="M656 1209l11-6-9 6-10 5z"/>
<path color=#00003c d="M646 1213l10-4-8 5-10 4z"/>
<path color=#000039 d="M636 1215l10-2-8 5-10 3z"/>
<path color=#000037 d="M626 1216l10-1-8 6-10 1z"/>
<path color=#000037 d="M616 1216l10 0-8 6-10 0z"/>
<path color=#000039 d="M606 1214l10 2-8 6-10-2z"/>
<path color=#00003c d="M596 1211l10 3-8 6-10-3z"/>
<path color=#000041 d="M586 1207l10 4-8 6-10-5z"/>
<path color=#000047 d="M576 1201l10 6-8 5-10-5z"/>
<path color=#00024c d="M566 1195l10 6-8 6-10-7z"/>
<path color=#008d98 d="M485 1147l10 0-8-3-10-3z"/>
<path color=#00a4b0 d="M475 1150l10-3-8-6-10 1z"/>
<path color=#00a6ba d="M465 1155l10-5-8-8-10 4z"/>
<path color=#009bbe d="M455 1161l10-6-8-9-10 5z"/>
<path color=#008abe d="M445 1167l10-6-8-10-10 6z"/>
<path color=#0078bc d="M435 1174l10-7-8-10-10 6z"/>
<path color=#0067b8 d="M425 1179l10-5-8-11-10 6z"/>
<path color=#0059b4 d="M417 1183l8-4-8-10-8 4z"/>
<path color=#00024c d="M675 1197l10-7-8 7-10 6z"/>
<path color=#000049 d="M665 1202l10-5-8 6-11 6z"/>
<path color=#004 d="M655 1206l10-4-9 7-10 4z"/>
<path color=#000041 d="M645 1208l10-2-9 7-10 2z"/>
<path color=#00003f d="M635 1209l10-1-9 7-10 1z"/>
<path color=#00003f d="M625 1209l10 0-9 7-10 0z"/>
<path color=#000041 d="M615 1207l10 2-9 7-10-2z"/>
<path color=#004 d="M604 1204l11 3-9 7-10-3z"/>
<path color=#000049 d="M594 1200l10 4-8 7-10-4z"/>
<path color=#00024c d="M584 1195l10 5-8 7-10-6z"/>
<path color=#000a4c d="M574 1188l10 7-8 6-10-6z"/>
<path color=#009cb3 d="M494 1152l10-2-9-3-10 0z"/>
<path color=#00a1c1 d="M484 1157l10-5-9-5-10 3z"/>
<path color=#0097c4 d="M474 1163l10-6-9-7-10 5z"/>
<path color=#0086c4 d="M464 1170l10-7-9-8-10 6z"/>
<path color=#0072c2 d="M453 1177l11-7-9-9-10 6z"/>
<path color=#005fbf d="M443 1184l10-7-8-10-10 7z"/>
<path color=#004dbb d="M433 1190l10-6-8-10-10 5z"/>
<path color=#003fb6 d="M425 1193l8-3-8-11-8 4z"/>
<path color=#00124c d="M693 1183l10-7-8 7-10 7z"/>
<path color=#000b4c d="M683 1189l10-6-8 7-10 7z"/>
<path color=#00054c d="M673 1194l10-5-8 8-10 5z"/>
<path color=#00014c d="M663 1198l10-4-8 8-10 4z"/>
<path color=#00004a d="M653 1200l10-2-8 8-10 2z"/>
<path color=#000048 d="M643 1201l10-1-8 8-10 1z"/>
<path color=#000048 d="M633 1201l10 0-8 8-10 0z"/>
<path color=#00004a d="M623 1199l10 2-8 8-10-2z"/>
<path color=#00014c d="M613 1196l10 3-8 8-11-3z"/>
<path color=#00054c d="M603 1192l10 4-9 8-10-4z"/>
<path color=#000b4c d="M593 1187l10 5-9 8-10-5z"/>
<path color=#00124c d="M583 1181l10 6-9 8-10-7z"/>
<path color=#0097b4 d="M512 1153l10-2-8 0-10-1z"/>
<path color=#00a2c7 d="M502 1157l10-4-8-3-10 2z"/>
<path color=#09c d="M492 1164l10-7-8-5-10 5z"/>
<path color=#0087cc d="M482 1171l10-7-8-7-10 6z"/>
<path color=#0172ca d="M472 1179l10-8-8-8-10 7z"/>
<path color=#015cc7 d="M462 1186l10-7-8-9-11 7z"/>
<path color=#0046c3 d="M452 1193l10-7-9-9-10 7z"/>
<path color=#0034be d="M442 1199l10-6-9-9-10 6z"/>
<path color=#0026b9 d="M434 1203l8-4-9-9-8 3z"/>
<path color=#00154c d="M692 1180l10-6-9 9-10 6z"/>
<path color=#000f4c d="M682 1185l10-5-9 9-10 5z"/>
<path color=#000b4c d="M672 1189l10-4-9 9-10 4z"/>
<path color=#00084c d="M661 1191l11-2-9 9-10 2z"/>
<path color=#00064c d="M651 1192l10-1-8 9-10 1z"/>
<path color=#00064c d="M641 1192l10 0-8 9-10 0z"/>
<path color=#00084c d="M631 1190l10 2-8 9-10-2z"/>
<path color=#000b4c d="M621 1188l10 2-8 9-10-3z"/>
<path color=#000f4c d="M611 1184l10 4-8 8-10-4z"/>
<path color=#00154c d="M601 1179l10 5-8 8-10-5z"/>
<path color=#001c4c d="M591 1173l10 6-8 8-10-6z"/>
<path color=#00a6cb d="M521 1156l10-5-9 0-10 2z"/>
<path color=#00a1d4 d="M510 1162l11-6-9-3-10 4z"/>
<path color=#008ed5 d="M500 1170l10-8-8-5-10 7z"/>
<path color=#0177d3 d="M490 1178l10-8-8-6-10 7z"/>
<path color=#025fd1 d="M480 1187l10-9-8-7-10 8z"/>
<path color=#0146cd d="M470 1194l10-7-8-8-10 7z"/>
<path color=#0030c9 d="M460 1201l10-7-8-8-10 7z"/>
<path color=#001cc3 d="M450 1208l10-7-8-8-10 6z"/>
<path color=#000ebe d="M442 1212l8-4-8-9-8 4z"/>
<path color=#001a4c d="M690 1176l10-5-8 9-10 5z"/>
<path color=#00164c d="M680 1179l10-3-8 9-10 4z"/>
<path color=#00134c d="M670 1182l10-3-8 10-11 2z"/>
<path color=#00114c d="M660 1183l10-1-9 9-10 1z"/>
<path color=#00114c d="M650 1183l10 0-9 9-10 0z"/>
<path color=#00134c d="M640 1181l10 2-9 9-10-2z"/>
<path color=#00164c d="M630 1178l10 3-9 9-10-2z"/>
<path color=#001a4c d="M620 1174l10 4-9 10-10-4z"/>
<path color=#001f4c d="M609 1170l11 4-9 10-10-5z"/>
<path color=#00264c d="M599 1164l10 6-8 9-10-6z"/>
<path color=#00acc9 d="M539 1152l10-4-8 2-10 1z"/>
<path color=#00aed9 d="M529 1158l10-6-8-1-10 5z"/>
<path color=#009cdc d="M519 1167l10-9-8-2-11 6z"/>
<path color=#0083db d="M509 1175l10-8-9-5-10 8z"/>
<path color=#0268da d="M499 1185l10-10-9-5-10 8z"/>
<path color=#024dd7 d="M489 1193l10-8-9-7-10 9z"/>
<path color=#0233d3 d="M479 1202l10-9-9-6-10 7z"/>
<path color=#011ace d="M469 1209l10-7-9-8-10 7z"/>
<path color=#0006c9 d="M458 1215l11-6-9-8-10 7z"/>
<path color=#00b d="M451 1219l7-4-8-7-8 4z"/>
<path color=#000b4c d="M839 1185l10 7-8-6-10-7z"/>
<path color=#00144c d="M829 1176l10 9-8-6-10-8z"/>
<path color=#00214c d="M688 1170l10-4-8 10-10 3z"/>
<path color=#001e4c d="M678 1172l10-2-8 9-10 3z"/>
<path color=#001d4c d="M668 1173l10-1-8 10-10 1z"/>
<path color=#001d4c d="M658 1173l10 0-8 10-10 0z"/>
<path color=#001e4c d="M648 1171l10 2-8 10-10-2z"/>
<path color=#00214c d="M638 1169l10 2-8 10-10-3z"/>
<path color=#00254c d="M628 1165l10 4-8 9-10-4z"/>
<path color=#002b4c d="M618 1160l10 5-8 9-11-4z"/>
<path color=#00bed9 d="M547 1152l10-6-8 2-10 4z"/>
<path color=#00b0e0 d="M537 1161l10-9-8 0-10 6z"/>
<path color=#0095e1 d="M527 1170l10-9-8-3-10 9z"/>
<path color=#0178df d="M517 1180l10-10-8-3-10 8z"/>
<path color=#025ade d="M507 1190l10-10-8-5-10 10z"/>
<path color=#023cdc d="M497 1199l10-9-8-5-10 8z"/>
<path color=#0120d8 d="M487 1208l10-9-8-6-10 9z"/>
<path color=#0107d4 d="M477 1215l10-7-8-6-10 7z"/>
<path color=#0000c1 d="M467 1222l10-7-8-6-11 6z"/>
<path color=#0000ad d="M459 1226l8-4-9-7-7 4z"/>
<path color=#000049 d="M858 1197l10 7-9-5-10-7z"/>
<path color=#00054c d="M848 1189l10 8-9-5-10-7z"/>
<path color=#000f4c d="M838 1180l10 9-9-4-10-9z"/>
<path color=#001a4d d="M828 1171l10 9-9-4-10-9z"/>
<path color=#00284c d="M677 1164l10-1-9 9-10 1z"/>
<path color=#00284c d="M666 1164l11 0-9 9-10 0z"/>
<path color=#00294c d="M656 1162l10 2-8 9-10-2z"/>
<path color=#002c4c d="M646 1159l10 3-8 9-10-2z"/>
<path color=#00314c d="M636 1155l10 4-8 10-10-4z"/>
<path color=#00364c d="M626 1151l10 4-8 10-10-5z"/>
<path color=#00ced2 d="M566 1144l10-7-8 5-11 4z"/>
<path color=#00c9e1 d="M556 1153l10-9-9 2-10 6z"/>
<path color=#00afe4 d="M546 1163l10-10-9-1-10 9z"/>
<path color=#008fe3 d="M536 1173l10-10-9-2-10 9z"/>
<path color=#006ee2 d="M526 1184l10-11-9-3-10 10z"/>
<path color=#014de1 d="M515 1194l11-10-9-4-10 10z"/>
<path color=#012ddf d="M505 1204l10-10-8-4-10 9z"/>
<path color=#0110dc d="M495 1213l10-9-8-5-10 9z"/>
<path color=#0000cf d="M485 1220l10-7-8-5-10 7z"/>
<path color=#0000b5 d="M475 1227l10-7-8-5-10 7z"/>
<path color=#0000a1 d="M467 1231l8-4-8-5-8 4z"/>
<path color=#00003c d="M876 1208l10 6-8-4-10-6z"/>
<path color=#004 d="M866 1201l10 7-8-4-10-7z"/>
<path color=#00014c d="M856 1193l10 8-8-4-10-8z"/>
<path color=#000b4c d="M846 1184l10 9-8-4-10-9z"/>
<path color=#001750 d="M836 1174l10 10-8-4-10-9z"/>
<path color=#00344c d="M665 1154l10 2-9 8-10-2z"/>
<path color=#00374c d="M655 1151l10 3-9 8-10-3z"/>
<path color=#003b4c d="M645 1147l10 4-9 8-10-4z"/>
<path color=#07ded7 d="M574 1143l10-9-8 3-10 7z"/>
<path color=#00cfe4 d="M564 1153l10-10-8 1-10 9z"/>
<path color=#00aee5 d="M554 1164l10-11-8 0-10 10z"/>
<path color=#008ae4 d="M544 1176l10-12-8-1-10 10z"/>
<path color=#0065e4 d="M534 1187l10-11-8-3-10 11z"/>
<path color=#0042e3 d="M524 1197l10-10-8-3-11 10z"/>
<path color=#0021e2 d="M514 1207l10-10-9-3-10 10z"/>
<path color=#0003e0 d="M504 1216l10-9-9-3-10 9z"/>
<path color=#0000c5 d="M494 1224l10-8-9-3-10 7z"/>
<path color=#0000ac d="M484 1231l10-7-9-4-10 7z"/>
<path color=#000097 d="M476 1235l8-4-9-4-8 4z"/>
<path color=#003 d="M895 1217l8 3-9-2-8-4z"/>
<path color=#000039 d="M885 1211l10 6-9-3-10-6z"/>
<path color=#000041 d="M875 1203l10 8-9-3-10-7z"/>
<path color=#00004b d="M864 1195l11 8-9-2-10-8z"/>
<path color=#00094d d="M854 1186l10 9-8-2-10-9z"/>
<path color=#001652 d="M844 1176l10 10-8-2-10-10z"/>
<path color=#002456 d="M834 1165l10 11-8-2-10-10z"/>
<path color=#2cd8ad d="M593 1131l10-10-9 7-10 6z"/>
<path color=#10e3d3 d="M583 1142l10-11-9 3-10 9z"/>
<path color=#00d2e5 d="M573 1154l10-12-9 1-10 10z"/>
<path color=#00ace5 d="M562 1165l11-11-9-1-10 11z"/>
<path color=#0086e5 d="M552 1177l10-12-8-1-10 12z"/>
<path color=#0060e5 d="M542 1189l10-12-8-1-10 11z"/>
<path color=#003ce4 d="M532 1199l10-10-8-2-10 10z"/>
<path color=#001ae4 d="M522 1209l10-10-8-2-10 10z"/>
<path color=#00d d="M512 1219l10-10-8-2-10 9z"/>
<path color=#0000bf d="M502 1227l10-8-8-3-10 8z"/>
<path color=#0000a5 d="M492 1234l10-7-8-3-10 7z"/>
<path color=#000091 d="M484 1238l8-4-8-3-8 4z"/>
<path color=#000032 d="M903 1218l8 4-8-2-8-3z"/>
<path color=#000038 d="M893 1212l10 6-8-1-10-6z"/>
<path color=#000040 d="M883 1204l10 8-8-1-10-8z"/>
<path color=#000049 d="M873 1196l10 8-8-1-11-8z"/>
<path color=#00074e d="M863 1187l10 9-9-1-10-9z"/>
<path color=#001554 d="M853 1177l10 10-9-1-10-10z"/>
<path color=#002458 d="M843 1166l10 11-9-1-10-11z"/>
<path color=#1e4c2f d="M772 1111l10-10-8 10-10 5z"/>
<path color=#3cdca0 d="M762 1120l10-9-8 5-10 7z"/>
<path color=#22ddbc d="M752 1128l10-8-8 3-10 8z"/>
<path color=#0adbd1 d="M742 1135l10-7-8 3-10 6z"/>
<path color=#00cfd7 d="M732 1141l10-6-8 2-10 6z"/>
<path color=#00bad0 d="M722 1145l10-4-8 2-11 4z"/>
<path color=#00a8c6 d="M712 1148l10-3-9 2-10 3z"/>
<path color=#003f4c d="M702 1149l10-1-9 2-10 1z"/>
<path color=#3ae4aa d="M601 1130l10-11-8 2-10 10z"/>
<path color=#15e5d0 d="M591 1142l10-12-8 1-10 11z"/>
<path color=#00d3e5 d="M581 1154l10-12-8 0-10 12z"/>
<path color=#00abe5 d="M571 1166l10-12-8 0-11 11z"/>
<path color=#0084e5 d="M561 1178l10-12-9-1-10 12z"/>
<path color=#005de5 d="M551 1189l10-11-9-1-10 12z"/>
<path color=#0038e5 d="M541 1200l10-11-9 0-10 10z"/>
<path color=#0016e5 d="M531 1210l10-10-9-1-10 10z"/>
<path color=#0000da d="M520 1220l11-10-9-1-10 10z"/>
<path color=#0000bc d="M510 1228l10-8-8-1-10 8z"/>
<path color=#0000a2 d="M500 1235l10-7-8-1-10 7z"/>
<path color=#00008e d="M492 1239l8-4-8-1-8 4z"/>
<path color=#000032 d="M911 1217l8 4-8 1-8-4z"/>
<path color=#000038 d="M901 1211l10 6-8 1-10-6z"/>
<path color=#000040 d="M891 1204l10 7-8 1-10-8z"/>
<path color=#000049 d="M881 1196l10 8-8 0-10-8z"/>
<path color=#00074e d="M871 1187l10 9-8 0-10-9z"/>
<path color=#001554 d="M861 1177l10 10-8 0-10-10z"/>
<path color=#002458 d="M851 1166l10 11-8 0-10-11z"/>
<path color=#00345a d="M841 1155l10 11-8 0-10-11z"/>
<path color=#255e39 d="M791 1111l10 4-9-4-10-10z"/>
<path color=#50cb7c d="M781 1117l10-6-9-10-10 10z"/>
<path color=#3cdca1 d="M770 1124l11-7-9-6-10 9z"/>
<path color=#22ddbc d="M760 1132l10-8-8-4-10 8z"/>
<path color=#0adbd1 d="M750 1138l10-6-8-4-10 7z"/>
<path color=#00cfd7 d="M740 1144l10-6-8-3-10 6z"/>
<path color=#00bad0 d="M730 1148l10-4-8-3-10 4z"/>
<path color=#00a8c6 d="M720 1150l10-2-8-3-10 3z"/>
<path color=#0098b8 d="M710 1152l10-2-8-2-10 1z"/>
<path color=#008ba8 d="M700 1151l10 1-8-3-10 0z"/>
<path color=#008097 d="M690 1149l10 2-8-2-10-2z"/>
<path color=#007886 d="M680 1146l10 3-8-2-11-4z"/>
<path color=#25603a d="M630 1118l10 4-9-5-10-9z"/>
<path color=#53d27f d="M619 1122l11-4-9-10-10 11z"/>
<path color=#3ae4aa d="M609 1132l10-10-8-3-10 11z"/>
<path color=#15e5d0 d="M599 1143l10-11-8-2-10 12z"/>
<path color=#00d3e5 d="M589 1154l10-11-8-1-10 12z"/>
<path color=#00abe5 d="M579 1166l10-12-8 0-10 12z"/>
<path color=#0084e5 d="M569 1178l10-12-8 0-10 12z"/>
<path color=#005de5 d="M559 1189l10-11-8 0-10 11z"/>
<path color=#0038e5 d="M549 1200l10-11-8 0-10 11z"/>
<path color=#0016e5 d="M539 1210l10-10-8 0-10 10z"/>
<path color=#0000da d="M529 1219l10-9-8 0-11 10z"/>
<path color=#0000bc d="M519 1228l10-9-9 1-10 8z"/>
<path color=#0000a2 d="M509 1234l10-6-9 0-10 7z"/>
<path color=#00008e d="M501 1239l8-5-9 1-8 4z"/>
<path color=#003 d="M920 1216l8 4-9 1-8-4z"/>
<path color=#000039 d="M910 1210l10 6-9 1-10-6z"/>
<path color=#000041 d="M900 1203l10 7-9 1-10-7z"/>
<path color=#00004b d="M890 1194l10 9-9 1-10-8z"/>
<path color=#00094d d="M880 1185l10 9-9 2-10-9z"/>
<path color=#001652 d="M869 1176l11 9-9 2-10-10z"/>
<path color=#002456 d="M859 1165l10 11-8 1-10-11z"/>
<path color=#003458 d="M849 1155l10 10-8 1-10-11z"/>
<path color=#268b65 d="M799 1122l10 0-8-7-10-4z"/>
<path color=#2eb487 d="M789 1126l10-4-8-11-10 6z"/>
<path color=#21c5a4 d="M779 1133l10-7-8-9-11 7z"/>
<path color=#0dcabc d="M769 1139l10-6-9-9-10 8z"/>
<path color=#00c4ca d="M759 1145l10-6-9-7-10 6z"/>
<path color=#00b1c7 d="M749 1150l10-5-9-7-10 6z"/>
<path color=#00a0c0 d="M739 1154l10-4-9-6-10 4z"/>
<path color=#0090b7 d="M729 1157l10-3-9-6-10 2z"/>
<path color=#0084ac d="M718 1158l11-1-9-7-10 2z"/>
<path color=#00799e d="M708 1158l10 0-8-6-10-1z"/>
<path color=#007190 d="M698 1156l10 2-8-7-10-2z"/>
<path color=#006b82 d="M688 1153l10 3-8-7-10-3z"/>
<path color=#006875 d="M678 1149l10 4-8-7-10-4z"/>
<path color=#00676a d="M668 1144l10 5-8-7-10-6z"/>
<path color=#07635c d="M658 1138l10 6-8-8-10-7z"/>
<path color=#106252 d="M648 1132l10 6-8-9-10-7z"/>
<path color=#1d7356 d="M638 1128l10 4-8-10-10-4z"/>
<path color=#2faa7b d="M628 1129l10-1-8-10-11 4z"/>
<path color=#2cd8ad d="M618 1135l10-6-9-7-10 10z"/>
<path color=#10e3d3 d="M608 1144l10-9-9-3-10 11z"/>
<path color=#00d2e5 d="M598 1155l10-11-9-1-10 11z"/>
<path color=#00ace5 d="M588 1166l10-11-9-1-10 12z"/>
<path color=#0086e5 d="M578 1177l10-11-9 0-10 12z"/>
<path color=#0060e5 d="M567 1188l11-11-9 1-10 11z"/>
<path color=#003ce4 d="M557 1199l10-11-8 1-10 11z"/>
<path color=#001ae3 d="M547 1209l10-10-8 1-10 10z"/>
<path color=#00d d="M537 1218l10-9-8 1-10 9z"/>
<path color=#0000bf d="M527 1226l10-8-8 1-10 9z"/>
<path color=#0000a5 d="M517 1233l10-7-8 2-10 6z"/>
<path color=#000091 d="M509 1237l8-4-8 1-8 5z"/>
<path color=#000037 d="M928 1213l8 3-8 4-8-4z"/>
<path color=#00003c d="M918 1207l10 6-8 3-10-6z"/>
<path color=#004 d="M908 1200l10 7-8 3-10-7z"/>
<path color=#00014c d="M898 1192l10 8-8 3-10-9z"/>
<path color=#000b4c d="M888 1183l10 9-8 2-10-9z"/>
<path color=#001750 d="M878 1174l10 9-8 2-11-9z"/>
<path color=#002553 d="M868 1164l10 10-9 2-10-11z"/>
<path color=#003354 d="M858 1154l10 10-9 1-10-10z"/>
<path color=#0f7e6f d="M817 1130l10 2-8-5-10-5z"/>
<path color=#17a189 d="M807 1132l10-2-8-8-10 0z"/>
<path color=#13b4a1 d="M797 1137l10-5-8-10-10 4z"/>
<path color=#05bcb7 d="M787 1143l10-6-8-11-10 7z"/>
<path color=#00b2be d="M777 1149l10-6-8-10-10 6z"/>
<path color=#00a1be d="M767 1155l10-6-8-10-10 6z"/>
<path color=#0090ba d="M757 1159l10-4-8-10-10 5z"/>
<path color=#0081b4 d="M747 1163l10-4-8-9-10 4z"/>
<path color=#0074ac d="M737 1166l10-3-8-9-10 3z"/>
<path color=#006aa2 d="M727 1167l10-1-8-9-11 1z"/>
<path color=#006396 d="M717 1166l10 1-9-9-10 0z"/>
<path color=#005d8a d="M707 1165l10 1-9-8-10-2z"/>
<path color=#005b7e d="M697 1162l10 3-9-9-10-3z"/>
<path color=#005a74 d="M687 1158l10 4-9-9-10-4z"/>
<path color=#005b6b d="M676 1153l11 5-9-9-10-5z"/>
<path color=#006067 d="M666 1148l10 5-8-9-10-6z"/>
<path color=#036765 d="M656 1143l10 5-8-10-10-6z"/>
<path color=#0c7367 d="M646 1139l10 4-8-11-10-4z"/>
<path color=#15957f d="M636 1137l10 2-8-11-10 1z"/>
<path color=#18c4ac d="M626 1140l10-3-8-8-10 6z"/>
<path color=#07ded7 d="M616 1147l10-7-8-5-10 9z"/>
<path color=#00cfe4 d="M606 1155l10-8-8-3-10 11z"/>
<path color=#00aee5 d="M596 1165l10-10-8 0-10 11z"/>
<path color=#008ae4 d="M586 1176l10-11-8 1-10 11z"/>
<path color=#0065e4 d="M576 1186l10-10-8 1-11 11z"/>
<path color=#0042e3 d="M566 1197l10-11-9 2-10 11z"/>
<path color=#0021e1 d="M556 1206l10-9-9 2-10 10z"/>
<path color=#0003e0 d="M546 1215l10-9-9 3-10 9z"/>
<path color=#0000c5 d="M536 1223l10-8-9 3-10 8z"/>
<path color=#0000ab d="M525 1230l11-7-9 3-10 7z"/>
<path color=#000097 d="M518 1234l7-4-8 3-8 4z"/>
<path color=#00003b d="M937 1208l7 4-8 4-8-3z"/>
<path color=#000041 d="M926 1203l11 5-9 5-10-6z"/>
<path color=#000049 d="M916 1196l10 7-8 4-10-7z"/>
<path color=#00054c d="M906 1188l10 8-8 4-10-8z"/>
<path color=#000f4c d="M896 1180l10 8-8 4-10-9z"/>
<path color=#001a4d d="M886 1171l10 9-8 3-10-9z"/>
<path color=#00264f d="M876 1162l10 9-8 3-10-10z"/>
<path color=#00314d d="M866 1153l10 9-8 2-10-10z"/>
<path color=#003b4c d="M856 1146l10 7-8 1-10-9z"/>
<path color=#00787a d="M836 1137l10 3-8-3-11-5z"/>
<path color=#049a96 d="M826 1138l10-1-9-5-10-2z"/>
<path color=#02afad d="M816 1141l10-3-9-8-10 2z"/>
<path color=#00b0b8 d="M806 1147l10-6-9-9-10 5z"/>
<path color=#00a4bb d="M796 1153l10-6-9-10-10 6z"/>
<path color=#0094bb d="M786 1159l10-6-9-10-10 6z"/>
<path color=#0083b9 d="M775 1165l11-6-9-10-10 6z"/>
<path color=#0073b5 d="M765 1170l10-5-8-10-10 4z"/>
<path color=#0065af d="M755 1173l10-3-8-11-10 4z"/>
<path color=#005aa7 d="M745 1176l10-3-8-10-10 3z"/>
<path color=#00529d d="M735 1177l10-1-8-10-10 1z"/>
<path color=#004c93 d="M725 1176l10 1-8-10-10-1z"/>
<path color=#004988 d="M715 1175l10 1-8-10-10-1z"/>
<path color=#00487d d="M705 1172l10 3-8-10-10-3z"/>
<path color=#004974 d="M695 1168l10 4-8-10-10-4z"/>
<path color=#004d6c d="M685 1164l10 4-8-10-11-5z"/>
<path color=#005268 d="M675 1158l10 6-9-11-10-5z"/>
<path color=#005b68 d="M665 1153l10 5-9-10-10-5z"/>
<path color=#006b70 d="M655 1148l10 5-9-10-10-4z"/>
<path color=#028584 d="M645 1145l10 3-9-9-10-2z"/>
<path color=#05ada8 d="M635 1146l10-1-9-8-10 3z"/>
<path color=#00ced2 d="M624 1149l11-3-9-6-10 7z"/>
<path color=#00c9e1 d="M614 1156l10-7-8-2-10 8z"/>
<path color=#00afe4 d="M604 1164l10-8-8-1-10 10z"/>
<path color=#008fe3 d="M594 1174l10-10-8 1-10 11z"/>
<path color=#006de2 d="M584 1184l10-10-8 2-10 10z"/>
<path color=#004ce0 d="M574 1193l10-9-8 2-10 11z"/>
<path color=#002cde d="M564 1203l10-10-8 4-10 9z"/>
<path color=#000fdc d="M554 1211l10-8-8 3-10 9z"/>
<path color=#0000b5 d="M534 1225l10-6-8 4-11 7z"/>
<path color=#0000a1 d="M526 1230l8-5-9 5-7 4z"/>
<path color=#000042 d="M945 1203l8 3-9 6-7-4z"/>
<path color=#000047 d="M935 1197l10 6-8 5-11-5z"/>
<path color=#00024c d="M925 1191l10 6-9 6-10-7z"/>
<path color=#000b4c d="M915 1183l10 8-9 5-10-8z"/>
<path color=#00144c d="M905 1175l10 8-9 5-10-8z"/>
<path color=#001f4c d="M895 1167l10 8-9 5-10-9z"/>
<path color=#00294c d="M885 1159l10 8-9 4-10-9z"/>
<path color=#00334c d="M874 1152l11 7-9 3-10-9z"/>
<path color=#003c4c d="M864 1146l10 6-8 1-10-7z"/>
<path color=#008d98 d="M844 1143l10 0-8-3-10-3z"/>
<path color=#00a4b0 d="M834 1146l10-3-8-6-10 1z"/>
<path color=#00a6ba d="M824 1151l10-5-8-8-10 3z"/>
<path color=#009bbd d="M814 1157l10-6-8-10-10 6z"/>
<path color=#008abe d="M804 1163l10-6-8-10-10 6z"/>
<path color=#0078bc d="M794 1170l10-7-8-10-10 6z"/>
<path color=#0067b8 d="M784 1175l10-5-8-11-11 6z"/>
<path color=#0057b3 d="M774 1180l10-5-9-10-10 5z"/>
<path color=#004bad d="M764 1184l10-4-9-10-10 3z"/>
<path color=#0041a5 d="M754 1186l10-2-9-11-10 3z"/>
<path color=#003a9c d="M744 1187l10-1-9-10-10 1z"/>
<path color=#003691 d="M734 1187l10 0-9-10-10-1z"/>
<path color=#003587 d="M723 1185l11 2-9-11-10-1z"/>
<path color=#00367d d="M713 1183l10 2-8-10-10-3z"/>
<path color=#003874 d="M703 1179l10 4-8-11-10-4z"/>
<path color=#003c6c d="M693 1174l10 5-8-11-10-4z"/>
<path color=#004267 d="M683 1168l10 6-8-10-10-6z"/>
<path color=#004b66 d="M673 1163l10 5-8-10-10-5z"/>
<path color=#00576b d="M663 1157l10 6-8-10-10-5z"/>
<path color=#006c79 d="M653 1153l10 4-8-9-10-3z"/>
<path color=#008c96 d="M643 1151l10 2-8-8-10 1z"/>
<path color=#00b0be d="M633 1152l10-1-8-5-11 3z"/>
<path color=#00bed9 d="M623 1156l10-4-9-3-10 7z"/>
<path color=#00b0e0 d="M613 1163l10-7-9 0-10 8z"/>
<path color=#0095e1 d="M603 1171l10-8-9 1-10 10z"/>
<path color=#0077df d="M593 1180l10-9-9 3-10 10z"/>
<path color=#0058dc d="M583 1189l10-9-9 4-10 9z"/>
<path color=#003ada d="M572 1198l11-9-9 4-10 10z"/>
<path color=#000042 d="M534 1224l8-4-8 5-8 5z"/>
<path color=#000049 d="M953 1196l8 3-8 7-8-3z"/>
<path color=#00024c d="M943 1191l10 5-8 7-10-6z"/>
<path color=#000a4c d="M933 1184l10 7-8 6-10-6z"/>
<path color=#00124c d="M923 1177l10 7-8 7-10-8z"/>
<path color=#001b4c d="M913 1170l10 7-8 6-10-8z"/>
<path color=#00244c d="M903 1163l10 7-8 5-10-8z"/>
<path color=#002e4c d="M893 1156l10 7-8 4-10-8z"/>
<path color=#00364c d="M883 1150l10 6-8 3-11-7z"/>
<path color=#003d4c d="M873 1146l10 4-9 2-10-6z"/>
<path color=#009cb3 d="M853 1148l10-2-9-3-10 0z"/>
<path color=#00a1c1 d="M843 1153l10-5-9-5-10 3z"/>
<path color=#0097c4 d="M832 1159l11-6-9-7-10 5z"/>
<path color=#0086c4 d="M822 1166l10-7-8-8-10 6z"/>
<path color=#0072c2 d="M812 1173l10-7-8-9-10 6z"/>
<path color=#005fbf d="M802 1180l10-7-8-10-10 7z"/>
<path color=#004dbb d="M792 1185l10-5-8-10-10 5z"/>
<path color=#003db5 d="M782 1190l10-5-8-10-10 5z"/>
<path color=#0031ae d="M772 1194l10-4-8-10-10 4z"/>
<path color=#0028a6 d="M762 1196l10-2-8-10-10 2z"/>
<path color=#00239c d="M752 1197l10-1-8-10-10 1z"/>
<path color=#002192 d="M742 1197l10 0-8-10-10 0z"/>
<path color=#002187 d="M732 1196l10 1-8-10-11-2z"/>
<path color=#00237d d="M722 1193l10 3-9-11-10-2z"/>
<path color=#002774 d="M712 1189l10 4-9-10-10-4z"/>
<path color=#002c6c d="M702 1184l10 5-9-10-10-5z"/>
<path color=#036 d="M692 1178l10 6-9-10-10-6z"/>
<path color=#003b64 d="M681 1172l11 6-9-10-10-5z"/>
<path color=#004666 d="M671 1166l10 6-8-9-10-6z"/>
<path color=#00556e d="M661 1161l10 5-8-9-10-4z"/>
<path color=#006d82 d="M651 1157l10 4-8-8-10-2z"/>
<path color=#008fa5 d="M641 1155l10 2-8-6-10 1z"/>
<path color=#00acc9 d="M631 1157l10-2-8-3-10 4z"/>
<path color=#00aed9 d="M621 1161l10-4-8-1-10 7z"/>
<path color=#009cdc d="M611 1167l10-6-8 2-10 8z"/>
<path color=#0082da d="M601 1175l10-8-8 4-10 9z"/>
<path color=#0066d8 d="M591 1183l10-8-8 5-10 9z"/>
<path color=#004bd5 d="M581 1192l10-9-8 6-11 9z"/>
<path color=#000a4c d="M561 1207l10-7-9 6-10 7z"/>
<path color=#00024c d="M551 1213l10-6-9 6-10 7z"/>
<path color=#000049 d="M543 1217l8-4-9 7-8 4z"/>
<path color=#00064c d="M962 1188l8 3-9 8-8-3z"/>
<path color=#000b4c d="M952 1183l10 5-9 8-10-5z"/>
<path color=#00124c d="M942 1177l10 6-9 8-10-7z"/>
<path color=#001a4c d="M931 1170l11 7-9 7-10-7z"/>
<path color=#00224c d="M921 1164l10 6-8 7-10-7z"/>
<path color=#002b4c d="M911 1157l10 7-8 6-10-7z"/>
<path color=#00334c d="M901 1152l10 5-8 6-10-7z"/>
<path color=#003a4c d="M891 1148l10 4-8 4-10-6z"/>
<path color=#003f4c d="M881 1147l10 1-8 2-10-4z"/>
<path color=#0097b4 d="M871 1149l10-2-8-1-10 0z"/>
<path color=#00a2c7 d="M861 1153l10-4-8-3-10 2z"/>
<path color=#09c d="M851 1160l10-7-8-5-10 5z"/>
<path color=#0087cc d="M841 1167l10-7-8-7-11 6z"/>
<path color=#0071ca d="M831 1175l10-8-9-8-10 7z"/>
<path color=#005bc7 d="M821 1182l10-7-9-9-10 7z"/>
<path color=#0046c3 d="M811 1189l10-7-9-9-10 7z"/>
<path color=#0034be d="M801 1195l10-6-9-9-10 5z"/>
<path color=#0024b8 d="M791 1200l10-5-9-10-10 5z"/>
<path color=#0019b1 d="M780 1204l11-4-9-10-10 4z"/>
<path color=#0011a8 d="M770 1206l10-2-8-10-10 2z"/>
<path color=#000d9e d="M760 1207l10-1-8-10-10 1z"/>
<path color=#000c93 d="M750 1207l10 0-8-10-10 0z"/>
<path color=#000e88 d="M740 1205l10 2-8-10-10-1z"/>
<path color=#00127e d="M730 1202l10 3-8-9-10-3z"/>
<path color=#001774 d="M720 1198l10 4-8-9-10-4z"/>
<path color=#001d6b d="M710 1193l10 5-8-9-10-5z"/>
<path color=#002465 d="M700 1187l10 6-8-9-10-6z"/>
<path color=#002c61 d="M690 1181l10 6-8-9-11-6z"/>
<path color=#003661 d="M680 1174l10 7-9-9-10-6z"/>
<path color=#004365 d="M670 1167l10 7-9-8-10-5z"/>
<path color=#005572 d="M660 1162l10 5-9-6-10-4z"/>
<path color=#00718b d="M650 1158l10 4-9-5-10-2z"/>
<path color=#0093b0 d="M640 1157l10 1-9-3-10 2z"/>
<path color=#00a6cb d="M629 1159l11-2-9 0-10 4z"/>
<path color=#00a1d4 d="M619 1164l10-5-8 2-10 6z"/>
<path color=#008ed5 d="M609 1170l10-6-8 3-10 8z"/>
<path color=#0076d2 d="M599 1177l10-7-8 5-10 8z"/>
<path color=#005dd0 d="M589 1185l10-8-8 6-10 9z"/>
<path color=#001a4c d="M579 1192l10-7-8 7-10 8z"/>
<path color=#00124c d="M569 1199l10-7-8 8-10 7z"/>
<path color=#000b4c d="M559 1205l10-6-8 8-10 6z"/>
<path color=#00064c d="M551 1209l8-4-8 8-8 4z"/>
</g>
<use href="#siiil" filter="url(#fsiiil)"/>
<g id="siiiu" class="sf" transform="scale(.5)">
<path color=#6b1d00 d="M457 1008l10 5-8-10-10-5z"/>
<path color=#741700 d="M447 1004l10 4-8-10-10-4z"/>
<path color=#7e1200 d="M437 1001l10 3-8-10-10-3z"/>
<path color=#880e00 d="M427 999l10 2-8-10-10-1z"/>
<path color=#930c00 d="M417 999l10 0-8-9-11-1z"/>
<path color=#9e0d00 d="M407 1000l10-1-9-10-10 2z"/>
<path color=#a81100 d="M397 1003l10-3-9-9-10 2z"/>
<path color=#b11900 d="M387 1006l10-3-9-10-10 4z"/>
<path color=#b82400 d="M377 1011l10-5-9-9-10 5z"/>
<path color=#be3400 d="M367 1017l10-6-9-9-10 6z"/>
<path color=#c34600 d="M356 1023l11-6-9-9-10 6z"/>
<path color=#c75b00 d="M346 1030l10-7-8-9-10 8z"/>
<path color=#4c3f00 d="M286 1047l10 3-8 0-10-1z"/>
<path color=#4c3a00 d="M276 1041l10 6-8 2-10-4z"/>
<path color=#4c3300 d="M266 1034l10 7-8 4-11-6z"/>
<path color=#4c2b00 d="M256 1027l10 7-9 5-10-6z"/>
<path color=#4c2200 d="M246 1019l10 8-9 6-10-7z"/>
<path color=#4c1a00 d="M236 1012l10 7-9 7-10-6z"/>
<path color=#4c1200 d="M226 1006l10 6-9 8-10-6z"/>
<path color=#4c0b00 d="M216 1001l10 5-9 8-10-6z"/>
<path color=#4c0600 d="M208 997l8 4-9 7-8-3z"/>
<path color=#7d2300 d="M445 1011l10 3-8-10-10-3z"/>
<path color=#872100 d="M435 1010l10 1-8-10-10-2z"/>
<path color=#922100 d="M425 1009l10 1-8-11-10 0z"/>
<path color=#9c2300 d="M415 1011l10-2-8-10-10 1z"/>
<path color=#a62800 d="M405 1013l10-2-8-11-10 3z"/>
<path color=#ae3100 d="M395 1017l10-4-8-10-10 3z"/>
<path color=#b53d00 d="M385 1021l10-4-8-11-10 5z"/>
<path color=#bb4d00 d="M375 1027l10-6-8-10-10 6z"/>
<path color=#bf5f00 d="M365 1033l10-6-8-10-11 6z"/>
<path color=#c27200 d="M355 1040l10-7-9-10-10 7z"/>
<path color=#4c3d00 d="M294 1045l10 6-8-1-10-3z"/>
<path color=#4c3600 d="M284 1038l10 7-8 2-10-6z"/>
<path color=#4c2e00 d="M274 1029l10 9-8 3-10-7z"/>
<path color=#4c2400 d="M264 1021l10 8-8 5-10-7z"/>
<path color=#4c1b00 d="M254 1013l10 8-8 6-10-8z"/>
<path color=#4c1200 d="M244 1006l10 7-8 6-10-7z"/>
<path color=#4c0a00 d="M234 999l10 7-8 6-10-6z"/>
<path color=#4c0200 d="M224 994l10 5-8 7-10-5z"/>
<path color=#490000 d="M216 990l8 4-8 7-8-4z"/>
<path color=#873500 d="M444 1020l10 2-9-11-10-1z"/>
<path color=#913600 d="M434 1020l10 0-9-10-10-1z"/>
<path color=#9c3a00 d="M424 1021l10-1-9-11-10 2z"/>
<path color=#a54100 d="M413 1023l11-2-9-10-10 2z"/>
<path color=#ad4b00 d="M403 1027l10-4-8-10-10 4z"/>
<path color=#b35700 d="M393 1032l10-5-8-10-10 4z"/>
<path color=#b86700 d="M383 1037l10-5-8-11-10 6z"/>
<path color=#bc7800 d="M373 1043l10-6-8-10-10 6z"/>
<path color=#be8a00 d="M363 1050l10-7-8-10-10 7z"/>
<path color=#4c4300 d="M313 1051l10 6-9-3-10-3z"/>
<path color=#4c3c00 d="M303 1043l10 8-9 0-10-6z"/>
<path color=#4c3300 d="M293 1035l10 8-9 2-10-7z"/>
<path color=#4c2900 d="M283 1026l10 9-9 3-10-9z"/>
<path color=#4c1f00 d="M273 1017l10 9-9 3-10-8z"/>
<path color=#4c1400 d="M262 1008l11 9-9 4-10-8z"/>
<path color=#4c0b00 d="M252 1001l10 7-8 5-10-7z"/>
<path color=#4c0200 d="M242 994l10 7-8 5-10-7z"/>
<path color=#470000 d="M232 988l10 6-8 5-10-5z"/>
<path color=#420000 d="M224 985l8 3-8 6-8-4z"/>
<path color=#b50000 d="M633 974l10-7-8 4-10 7z"/>
<path color=#9d5200 d="M432 1031l10-1-8-10-10 1z"/>
<path color=#a75a00 d="M422 1033l10-2-8-10-11 2z"/>
<path color=#af6500 d="M412 1037l10-4-9-10-10 4z"/>
<path color=#b57300 d="M402 1042l10-5-9-10-10 5z"/>
<path color=#b98300 d="M392 1048l10-6-9-10-10 5z"/>
<path color=#bb9400 d="M382 1054l10-6-9-11-10 6z"/>
<path color=#4c4400 d="M321 1051l10 8-8-2-10-6z"/>
<path color=#4c3b00 d="M311 1042l10 9-8 0-10-8z"/>
<path color=#4d3100 d="M301 1033l10 9-8 1-10-8z"/>
<path color=#4f2600 d="M291 1023l10 10-8 2-10-9z"/>
<path color=#4d1a00 d="M281 1013l10 10-8 3-10-9z"/>
<path color=#4c0f00 d="M271 1005l10 8-8 4-11-9z"/>
<path color=#4c0500 d="M261 997l10 8-9 3-10-7z"/>
<path color=#490000 d="M251 990l10 7-9 4-10-7z"/>
<path color=#410000 d="M241 984l10 6-9 4-10-6z"/>
<path color=#3b0000 d="M233 980l8 4-9 4-8-3z"/>
<path color=#970000 d="M652 964l8-5-9 4-8 4z"/>
<path color=#ab0000 d="M642 971l10-7-9 3-10 7z"/>
<path color=#c50000 d="M632 979l10-8-9 3-10 7z"/>
<path color=#b48100 d="M420 1046l10-4-8-9-10 4z"/>
<path color=#ba9000 d="M410 1051l10-5-8-9-10 5z"/>
<path color=#bea100 d="M400 1057l10-6-8-9-10 6z"/>
<path color=#bfb200 d="M390 1064l10-7-8-9-10 6z"/>
<path color=#4a4c02 d="M340 1062l10 8-9-5-10-6z"/>
<path color=#4c4500 d="M330 1052l10 10-9-3-10-8z"/>
<path color=#523e00 d="M319 1042l11 10-9-1-10-9z"/>
<path color=#543300 d="M309 1031l10 11-8 0-10-9z"/>
<path color=#532500 d="M299 1021l10 10-8 2-10-10z"/>
<path color=#501700 d="M289 1011l10 10-8 2-10-10z"/>
<path color=#4c0b00 d="M279 1002l10 9-8 2-10-8z"/>
<path color=#4c0100 d="M269 994l10 8-8 3-10-8z"/>
<path color=#400 d="M259 987l10 7-8 3-10-7z"/>
<path color=#3c0000 d="M249 981l10 6-8 3-10-6z"/>
<path color=#370000 d="M241 977l8 4-8 3-8-4z"/>
<path color=#910000 d="M660 962l8-4-8 1-8 5z"/>
<path color=#a50000 d="M650 969l10-7-8 2-10 7z"/>
<path color=#bf0000 d="M640 977l10-8-8 2-10 8z"/>
<path color=#3d4c0f d="M358 1073l10 9-8-7-10-5z"/>
<path color=#494f06 d="M348 1063l10 10-8-3-10-8z"/>
<path color=#564f00 d="M338 1052l10 11-8-1-10-10z"/>
<path color=#584200 d="M328 1041l10 11-8 0-11-10z"/>
<path color=#583400 d="M318 1030l10 11-9 1-10-11z"/>
<path color=#562400 d="M308 1020l10 10-9 1-10-10z"/>
<path color=#521600 d="M298 1010l10 10-9 1-10-10z"/>
<path color=#4d0900 d="M288 1001l10 9-9 1-10-9z"/>
<path color=#4b0000 d="M278 992l10 9-9 1-10-8z"/>
<path color=#410000 d="M267 985l11 7-9 2-10-7z"/>
<path color=#390000 d="M257 979l10 6-8 2-10-6z"/>
<path color=#300 d="M250 975l7 4-8 2-8-4z"/>
<path color=#8e0000 d="M668 962l8-5-8 1-8 4z"/>
<path color=#a20000 d="M658 969l10-7-8 0-10 7z"/>
<path color=#bc0000 d="M648 977l10-8-8 0-10 8z"/>
<path color=#da0000 d="M638 986l10-9-8 0-10 9z"/>
<path color=#384c15 d="M528 1071l10 9-9-6-10-7z"/>
<path color=#414c0c d="M517 1064l11 7-9-4-10-6z"/>
<path color=#3f5415 d="M366 1075l11 11-9-4-10-9z"/>
<path color=#515908 d="M356 1064l10 11-8-2-10-10z"/>
<path color=#5b5400 d="M346 1053l10 11-8-1-10-11z"/>
<path color=#5c4400 d="M336 1041l10 12-8-1-10-11z"/>
<path color=#5a3400 d="M326 1030l10 11-8 0-10-11z"/>
<path color=#582400 d="M316 1020l10 10-8 0-10-10z"/>
<path color=#541500 d="M306 1010l10 10-8 0-10-10z"/>
<path color=#4e0700 d="M296 1001l10 9-8 0-10-9z"/>
<path color=#490000 d="M286 992l10 9-8 0-10-9z"/>
<path color=#400000 d="M276 985l10 7-8 0-11-7z"/>
<path color=#380000 d="M266 979l10 6-9 0-10-6z"/>
<path color=#320000 d="M258 975l8 4-9 0-7-4z"/>
<path color=#8e0000 d="M677 963l8-4-9-2-8 5z"/>
<path color=#a20000 d="M667 970l10-7-9-1-10 7z"/>
<path color=#bc0000 d="M657 978l10-8-9-1-10 8z"/>
<path color=#da0000 d="M647 987l10-9-9-1-10 9z"/>
<path color=#2f4c1e d="M546 1075l10 4-8 10-10-9z"/>
<path color=#384c15 d="M536 1068l10 7-8 5-10-9z"/>
<path color=#414c0c d="M526 1061l10 7-8 3-11-7z"/>
<path color=#494c04 d="M516 1056l10 5-9 3-10-6z"/>
<path color=#2f4c1e d="M395 1086l10-5-8 4-10 11z"/>
<path color=#2e4c1e d="M385 1083l10 3-8 10-10-10z"/>
<path color=#3f5415 d="M375 1074l10 9-8 3-11-11z"/>
<path color=#515908 d="M365 1064l10 10-9 1-10-11z"/>
<path color=#5b5400 d="M355 1053l10 11-9 0-10-11z"/>
<path color=#5c4400 d="M345 1042l10 11-9 0-10-12z"/>
<path color=#5a3400 d="M335 1031l10 11-9-1-10-11z"/>
<path color=#582400 d="M324 1021l11 10-9-1-10-10z"/>
<path color=#541500 d="M314 1011l10 10-8-1-10-10z"/>
<path color=#4e0700 d="M304 1002l10 9-8-1-10-9z"/>
<path color=#490000 d="M294 993l10 9-8-1-10-9z"/>
<path color=#400000 d="M284 986l10 7-8-1-10-7z"/>
<path color=#380000 d="M274 980l10 6-8-1-10-6z"/>
<path color=#320000 d="M266 976l8 4-8-1-8-4z"/>
<path color=#910000 d="M685 966l8-5-8-2-8 4z"/>
<path color=#a50000 d="M675 972l10-6-8-3-10 7z"/>
<path color=#bf0000 d="M665 980l10-8-8-2-10 8z"/>
<path color=#d00 d="M655 989l10-9-8-2-10 9z"/>
<path color=#374c15 d="M564 1070l10-1-8 6-10 4z"/>
<path color=#394c13 d="M554 1066l10 4-8 9-10-4z"/>
<path color=#404c0d d="M544 1061l10 5-8 9-10-7z"/>
<path color=#474c05 d="M534 1055l10 6-8 7-10-7z"/>
<path color=#374c15 d="M393 1077l10 0-8 9-10-3z"/>
<path color=#3d4c0f d="M383 1071l10 6-8 6-10-9z"/>
<path color=#494f06 d="M373 1063l10 8-8 3-10-10z"/>
<path color=#521600 d="M323 1013l10 10-9-2-10-10z"/>
<path color=#4d0900 d="M313 1004l10 9-9-2-10-9z"/>
<path color=#4b0000 d="M303 996l10 8-9-2-10-9z"/>
<path color=#410000 d="M293 988l10 8-9-3-10-7z"/>
<path color=#390000 d="M283 983l10 5-9-2-10-6z"/>
<path color=#300 d="M275 979l8 4-9-3-8-4z"/>
<path color=#970000 d="M694 970l7-5-8-4-8 5z"/>
<path color=#ab0000 d="M684 976l10-6-9-4-10 6z"/>
<path color=#c50000 d="M673 984l11-8-9-4-10 8z"/>
<path color=#e00300 d="M663 993l10-9-8-4-10 9z"/>
<path color=#370000 d="M283 983l8 3-8-3-8-4z"/>
<path color=#a10000 d="M702 975l8-5-9-5-7 5z"/>
<path color=#b50000 d="M692 981l10-6-8-5-10 6z"/>
<path color=#ce0000 d="M682 989l10-8-8-5-11 8z"/>
<path color=#dc0f00 d="M672 998l10-9-9-5-10 9z"/>
<path color=#5a0000 d="M291 988l8 4-8-6-8-3z"/>
<path color=#ad0000 d="M710 981l8-4-8-7-8 5z"/>
<path color=#c00000 d="M700 988l10-7-8-6-10 6z"/>
<path color=#d30600 d="M690 995l10-7-8-7-10 8z"/>
<path color=#d71f00 d="M680 1003l10-8-8-6-10 9z"/>
<path color=#4c0b00 d="M328 1010l10 8-9-6-10-8z"/>
<path color=#600300 d="M318 1004l10 6-9-6-10-7z"/>
<path color=#620000 d="M308 998l10 6-9-7-10-5z"/>
<path color=#630000 d="M300 995l8 3-9-6-8-4z"/>
<path color=#b00 d="M719 989l8-4-9-8-8 4z"/>
<path color=#c90600 d="M709 995l10-6-9-8-10 7z"/>
<path color=#ce1a00 d="M699 1002l10-7-9-7-10 7z"/>
<path color=#d23100 d="M689 1010l10-8-9-7-10 8z"/>
<path color=#5b1500 d="M336 1017l10 7-8-6-10-8z"/>
<path color=#620c00 d="M326 1011l10 6-8-7-10-6z"/>
<path color=#6a0300 d="M316 1006l10 5-8-7-10-6z"/>
<path color=#6e0000 d="M308 1002l8 4-8-8-8-3z"/>
<path color=#be0e00 d="M727 998l8-4-8-9-8 4z"/>
<path color=#c31c00 d="M717 1004l10-6-8-9-10 6z"/>
<path color=#c82f00 d="M707 1010l10-6-8-9-10 7z"/>
<path color=#cc4500 d="M697 1018l10-8-8-8-10 8z"/>
<path color=#5d3400 d="M365 1039l10 6-9-6-10-7z"/>
<path color=#5c2900 d="M355 1032l10 7-9-7-10-8z"/>
<path color=#5e2000 d="M345 1026l10 6-9-8-10-7z"/>
<path color=#631700 d="M334 1020l11 6-9-9-10-6z"/>
<path color=#6b0f00 d="M324 1015l10 5-8-9-10-5z"/>
<path color=#730900 d="M317 1011l7 4-8-9-8-4z"/>
<path color=#b92600 d="M735 1007l8-4-8-9-8 4z"/>
<path color=#be3400 d="M725 1013l10-6-8-9-10 6z"/>
<path color=#c34600 d="M715 1019l10-6-8-9-10 6z"/>
<path color=#c75b00 d="M705 1026l10-7-8-9-10 8z"/>
<path color=#b09300 d="M403 1058l10-2-8 0-10-1z"/>
<path color=#8b7100 d="M393 1056l10 2-8-3-10-4z"/>
<path color=#725500 d="M383 1052l10 4-8-5-10-6z"/>
<path color=#654300 d="M373 1047l10 5-8-7-10-6z"/>
<path color=#613600 d="M363 1041l10 6-8-8-10-7z"/>
<path color=#612c00 d="M353 1035l10 6-8-9-10-6z"/>
<path color=#652400 d="M343 1029l10 6-8-9-11-6z"/>
<path color=#6b1d00 d="M333 1024l10 5-9-9-10-5z"/>
<path color=#731800 d="M325 1021l8 3-9-9-7-4z"/>
<path color=#b63f00 d="M744 1017l8-4-9-10-8 4z"/>
<path color=#bb4d00 d="M734 1023l10-6-9-10-10 6z"/>
<path color=#bf5f00 d="M724 1029l10-6-9-10-10 6z"/>
<path color=#c27200 d="M714 1036l10-7-9-10-10 7z"/>
<path color=#826d00 d="M392 1060l10 2-9-6-10-4z"/>
<path color=#6e5500 d="M381 1055l11 5-9-8-10-5z"/>
<path color=#664600 d="M371 1050l10 5-8-8-10-6z"/>
<path color=#643b00 d="M361 1044l10 6-8-9-10-6z"/>
<path color=#630 d="M351 1039l10 5-8-9-10-6z"/>
<path color=#6c2c00 d="M341 1034l10 5-8-10-10-5z"/>
<path color=#732800 d="M333 1031l8 3-8-10-8-3z"/>
<path color=#796c00 d="M390 1065l10 2-8-7-11-5z"/>
<path color=#6b5700 d="M380 1060l10 5-9-10-10-5z"/>
<path color=#664b00 d="M370 1055l10 5-9-10-10-6z"/>
<path color=#674200 d="M360 1049l10 6-9-11-10-5z"/>
<path color=#6c3c00 d="M350 1045l10 4-9-10-10-5z"/>
<path color=#733900 d="M342 1041l8 4-9-11-8-3z"/>
<path color=#9e0000 d="M519 983l10-5-8 4-10 6z"/>
<path color=#b50000 d="M509 990l10-7-8 5-10 6z"/>
<path color=#706b00 d="M388 1070l10 4-8-9-10-5z"/>
<path color=#685b00 d="M378 1065l10 5-8-10-10-5z"/>
<path color=#685200 d="M368 1060l10 5-8-10-10-6z"/>
<path color=#6c4d00 d="M358 1055l10 5-8-11-10-4z"/>
<path color=#734a00 d="M350 1052l8 3-8-10-8-4z"/>
<path color=#4a4c02 d="M699 1057l10 9-9-5-10-6z"/>
<path color=#820000 d="M537 975l11-5-9 4-10 4z"/>
<path color=#950000 d="M527 980l10-5-8 3-10 5z"/>
<path color=#ab0000 d="M517 987l10-7-8 3-10 7z"/>
<path color=#c50000 d="M507 995l10-8-8 3-10 8z"/>
<path color=#656703 d="M386 1075l11 6-9-11-10-5z"/>
<path color=#676000 d="M376 1069l10 6-8-10-10-5z"/>
<path color=#6b5b00 d="M366 1064l10 5-8-9-10-5z"/>
<path color=#735a00 d="M358 1061l8 3-8-9-8-3z"/>
<path color=#494f06 d="M707 1059l10 10-8-3-10-9z"/>
<path color=#280000 d="M566 966l10-1-8 2-10 1z"/>
<path color=#6d0000 d="M556 969l10-3-8 2-10 2z"/>
<path color=#7c0000 d="M546 973l10-4-8 1-11 5z"/>
<path color=#8f0000 d="M536 978l10-5-9 2-10 5z"/>
<path color=#a50000 d="M526 985l10-7-9 2-10 7z"/>
<path color=#bf0000 d="M516 993l10-8-9 2-10 8z"/>
<path color=#6a6700 d="M375 1071l10 6-9-8-10-5z"/>
<path color=#736800 d="M367 1067l8 4-9-7-8-3z"/>
<path color=#3f5415 d="M725 1071l10 10-8-3-10-9z"/>
<path color=#515908 d="M715 1060l10 11-8-2-10-10z"/>
<path color=#5e0000 d="M574 966l10-2-8 1-10 1z"/>
<path color=#6a0000 d="M564 968l10-2-8 0-10 3z"/>
<path color=#790000 d="M554 973l10-5-8 1-10 4z"/>
<path color=#8c0000 d="M544 978l10-5-8 0-10 5z"/>
<path color=#a20000 d="M534 985l10-7-8 0-10 7z"/>
<path color=#bc0000 d="M524 993l10-8-8 0-10 8z"/>
<path color=#da0000 d="M514 1002l10-9-8 0-10 10z"/>
<path color=#384c15 d="M403 1087l10 9-8-6-10-6z"/>
<path color=#414c0c d="M393 1080l10 7-8-3-10-7z"/>
<path color=#494c04 d="M383 1074l10 6-8-3-10-6z"/>
<path color=#4c4a00 d="M375 1070l8 4-8-3-8-4z"/>
<path color=#2f4c1e d="M754 1082l10-5-8 4-11 11z"/>
<path color=#2e4c1e d="M744 1079l10 3-9 10-10-11z"/>
<path color=#3f5415 d="M734 1070l10 9-9 2-10-10z"/>
<path color=#515908 d="M724 1060l10 10-9 1-10-11z"/>
<path color=#280000 d="M603 966l10 2-8-1-11-2z"/>
<path color=#560000 d="M593 966l10 0-9-1-10-1z"/>
<path color=#5e0000 d="M583 967l10-1-9-2-10 2z"/>
<path color=#6a0000 d="M573 970l10-3-9-1-10 2z"/>
<path color=#790000 d="M563 974l10-4-9-2-10 5z"/>
<path color=#8c0000 d="M553 979l10-5-9-1-10 5z"/>
<path color=#a20000 d="M542 986l11-7-9-1-10 7z"/>
<path color=#bc0000 d="M532 994l10-8-8-1-10 8z"/>
<path color=#da0000 d="M522 1003l10-9-8-1-10 9z"/>
<path color=#7fd253 d="M432 1096l10-5-9 3-10 11z"/>
<path color=#2f4c1e d="M422 1091l10 5-9 9-10-9z"/>
<path color=#384c15 d="M412 1084l10 7-9 5-10-9z"/>
<path color=#414c0c d="M402 1078l10 6-9 3-10-7z"/>
<path color=#494c04 d="M391 1072l11 6-9 2-10-6z"/>
<path color=#4c4a00 d="M384 1068l7 4-8 2-8-4z"/>
<path color=#374c15 d="M752 1073l10 0-8 9-10-3z"/>
<path color=#3d4c0f d="M742 1067l10 6-8 6-10-9z"/>
<path color=#494f06 d="M732 1059l10 8-8 3-10-10z"/>
<path color=#530000 d="M611 969l10 1-8-2-10-2z"/>
<path color=#590000 d="M601 968l10 1-8-3-10 0z"/>
<path color=#610000 d="M591 970l10-2-8-2-10 1z"/>
<path color=#6d0000 d="M581 972l10-2-8-3-10 3z"/>
<path color=#7c0000 d="M571 976l10-4-8-2-10 4z"/>
<path color=#8f0000 d="M561 982l10-6-8-2-10 5z"/>
<path color=#a50000 d="M551 989l10-7-8-3-11 7z"/>
<path color=#bf0000 d="M541 997l10-8-9-3-10 8z"/>
<path color=#d00 d="M531 1006l10-9-9-3-10 9z"/>
<path color=#374c15 d="M440 1086l10-1-8 6-10 5z"/>
<path color=#394c13 d="M430 1082l10 4-8 10-10-5z"/>
<path color=#404c0d d="M420 1077l10 5-8 9-10-7z"/>
<path color=#474c05 d="M410 1071l10 6-8 7-10-6z"/>
<path color=#4c4a00 d="M400 1066l10 5-8 7-11-6z"/>
<path color=#4c4500 d="M392 1062l8 4-9 6-7-4z"/>
<path color=#500 d="M630 975l10 3-9-4-10-4z"/>
<path color=#590000 d="M620 973l10 2-9-5-10-1z"/>
<path color=#5e0000 d="M610 972l10 1-9-4-10-1z"/>
<path color=#670000 d="M599 974l11-2-9-4-10 2z"/>
<path color=#730000 d="M589 976l10-2-8-4-10 2z"/>
<path color=#820000 d="M579 980l10-4-8-4-10 4z"/>
<path color=#950000 d="M569 986l10-6-8-4-10 6z"/>
<path color=#ab0000 d="M559 992l10-6-8-4-10 7z"/>
<path color=#c50000 d="M549 1000l10-8-8-3-10 8z"/>
<path color=#e00300 d="M539 1009l10-9-8-3-10 9z"/>
<path color=#434c09 d="M459 1078l10-3-9 4-10 6z"/>
<path color=#414c0b d="M448 1077l11 1-9 7-10 1z"/>
<path color=#454c08 d="M438 1073l10 4-8 9-10-4z"/>
<path color=#4b4c02 d="M428 1068l10 5-8 9-10-5z"/>
<path color=#4c4800 d="M418 1062l10 6-8 9-10-6z"/>
<path color=#4c4100 d="M408 1057l10 5-8 9-10-5z"/>
<path color=#4c3c00 d="M400 1054l8 3-8 9-8-4z"/>
<path color=#5a0000 d="M648 983l10 5-8-6-10-4z"/>
<path color=#5c0000 d="M638 980l10 3-8-5-10-3z"/>
<path color=#600000 d="M628 978l10 2-8-5-10-2z"/>
<path color=#670000 d="M618 978l10 0-8-5-10-1z"/>
<path color=#700000 d="M608 979l10-1-8-6-11 2z"/>
<path color=#7c0000 d="M598 982l10-3-9-5-10 2z"/>
<path color=#8b0000 d="M588 986l10-4-9-6-10 4z"/>
<path color=#9e0000 d="M578 991l10-5-9-6-10 6z"/>
<path color=#b50000 d="M568 998l10-7-9-5-10 6z"/>
<path color=#ce0000 d="M558 1005l10-7-9-6-10 8z"/>
<path color=#dc0f00 d="M547 1014l11-9-9-5-10 9z"/>
<path color=#4a4c02 d="M467 1071l10 0-8 4-10 3z"/>
<path color=#4b4c01 d="M457 1068l10 3-8 7-11-1z"/>
<path color=#4c4900 d="M447 1063l10 5-9 9-10-4z"/>
<path color=#4c4300 d="M437 1058l10 5-9 10-10-5z"/>
<path color=#4c3c00 d="M427 1053l10 5-9 10-10-6z"/>
<path color=#4c3600 d="M417 1048l10 5-9 9-10-5z"/>
<path color=#4c3100 d="M409 1045l8 3-9 9-8-3z"/>
<path color=#4c0b00 d="M687 1006l10 8-9-6-10-8z"/>
<path color=#600300 d="M677 1000l10 6-9-6-10-7z"/>
<path color=#620000 d="M667 994l10 6-9-7-10-5z"/>
<path color=#630000 d="M656 990l11 4-9-6-10-5z"/>
<path color=#600 d="M646 987l10 3-8-7-10-3z"/>
<path color=#6b0000 d="M636 985l10 2-8-7-10-2z"/>
<path color=#720000 d="M626 985l10 0-8-7-10 0z"/>
<path color=#7b0000 d="M616 986l10-1-8-7-10 1z"/>
<path color=#800 d="M606 988l10-2-8-7-10 3z"/>
<path color=#970000 d="M596 992l10-4-8-6-10 4z"/>
<path color=#a00 d="M586 998l10-6-8-6-10 5z"/>
<path color=#c00000 d="M576 1004l10-6-8-7-10 7z"/>
<path color=#d30600 d="M566 1011l10-7-8-6-10 7z"/>
<path color=#d71f00 d="M556 1020l10-9-8-6-11 9z"/>
<path color=#4c4700 d="M485 1066l10-1-8 2-10 4z"/>
<path color=#4c4700 d="M475 1064l10 2-8 5-10 0z"/>
<path color=#4c4400 d="M465 1060l10 4-8 7-10-3z"/>
<path color=#4c3e00 d="M455 1054l10 6-8 8-10-5z"/>
<path color=#4c3800 d="M445 1049l10 5-8 9-10-5z"/>
<path color=#4c3100 d="M435 1043l10 6-8 9-10-5z"/>
<path color=#4c2b00 d="M425 1038l10 5-8 10-10-5z"/>
<path color=#4c2600 d="M417 1035l8 3-8 10-8-3z"/>
<path color=#5b1500 d="M695 1013l10 7-8-6-10-8z"/>
<path color=#620c00 d="M685 1007l10 6-8-7-10-6z"/>
<path color=#6a0300 d="M675 1002l10 5-8-7-10-6z"/>
<path color=#6f0000 d="M665 998l10 4-8-8-11-4z"/>
<path color=#720000 d="M655 995l10 3-9-8-10-3z"/>
<path color=#700 d="M645 993l10 2-9-8-10-2z"/>
<path color=#7f0000 d="M635 993l10 0-9-8-10 0z"/>
<path color=#890000 d="M625 994l10-1-9-8-10 1z"/>
<path color=#960000 d="M615 996l10-2-9-8-10 2z"/>
<path color=#a60000 d="M604 1000l11-4-9-8-10 4z"/>
<path color=#b90000 d="M594 1005l10-5-8-8-10 6z"/>
<path color=#c90600 d="M584 1011l10-6-8-7-10 6z"/>
<path color=#ce1a00 d="M574 1018l10-7-8-7-10 7z"/>
<path color=#d23100 d="M564 1026l10-8-8-7-10 9z"/>
<path color=#4c4300 d="M494 1061l10 2-9 2-10 1z"/>
<path color=#4c4000 d="M484 1057l10 4-9 5-10-2z"/>
<path color=#4c3b00 d="M474 1052l10 5-9 7-10-4z"/>
<path color=#4c3400 d="M464 1046l10 6-9 8-10-6z"/>
<path color=#4c2d00 d="M453 1040l11 6-9 8-10-5z"/>
<path color=#4c2600 d="M443 1034l10 6-8 9-10-6z"/>
<path color=#4c1f00 d="M433 1029l10 5-8 9-10-5z"/>
<path color=#4c1a00 d="M425 1026l8 3-8 9-8-3z"/>
<path color=#5c2900 d="M714 1028l10 7-9-7-10-8z"/>
<path color=#5e2000 d="M703 1022l11 6-9-8-10-7z"/>
<path color=#631700 d="M693 1016l10 6-8-9-10-6z"/>
<path color=#6b0f00 d="M683 1010l10 6-8-9-10-5z"/>
<path color=#740800 d="M673 1006l10 4-8-8-10-4z"/>
<path color=#7f0100 d="M663 1003l10 3-8-8-10-3z"/>
<path color=#860000 d="M653 1002l10 1-8-8-10-2z"/>
<path color=#8e0000 d="M643 1002l10 0-8-9-10 0z"/>
<path color=#900 d="M633 1003l10-1-8-9-10 1z"/>
<path color=#a60000 d="M623 1005l10-2-8-9-10 2z"/>
<path color=#b50100 d="M613 1009l10-4-8-9-11 4z"/>
<path color=#bd0d00 d="M603 1014l10-5-9-9-10 5z"/>
<path color=#c31c00 d="M593 1020l10-6-9-9-10 6z"/>
<path color=#c82f00 d="M583 1027l10-7-9-9-10 7z"/>
<path color=#cd4500 d="M573 1034l10-7-9-9-10 8z"/>
<path color=#4c4000 d="M512 1061l10 1-8-1-10 2z"/>
<path color=#4c3e00 d="M502 1057l10 4-8 2-10-2z"/>
<path color=#4c3900 d="M492 1052l10 5-8 4-10-4z"/>
<path color=#4c3300 d="M482 1045l10 7-8 5-10-5z"/>
<path color=#4c2b00 d="M472 1038l10 7-8 7-10-6z"/>
<path color=#4c2300 d="M462 1032l10 6-8 8-11-6z"/>
<path color=#4c1c00 d="M452 1026l10 6-9 8-10-6z"/>
<path color=#4c1500 d="M442 1021l10 5-9 8-10-5z"/>
<path color=#4c1000 d="M434 1017l8 4-9 8-8-3z"/>
<path color=#612c00 d="M712 1031l10 6-8-9-11-6z"/>
<path color=#652400 d="M702 1025l10 6-9-9-10-6z"/>
<path color=#6b1d00 d="M692 1020l10 5-9-9-10-6z"/>
<path color=#741700 d="M682 1016l10 4-9-10-10-4z"/>
<path color=#7e1200 d="M672 1013l10 3-9-10-10-3z"/>
<path color=#880e00 d="M661 1012l11 1-9-10-10-1z"/>
<path color=#930c00 d="M651 1011l10 1-8-10-10 0z"/>
<path color=#9e0d00 d="M641 1012l10-1-8-9-10 1z"/>
<path color=#a81100 d="M631 1015l10-3-8-9-10 2z"/>
<path color=#b11900 d="M621 1018l10-3-8-10-10 4z"/>
<path color=#b82400 d="M611 1023l10-5-8-9-10 5z"/>
<path color=#be3400 d="M601 1029l10-6-8-9-10 6z"/>
<path color=#c34600 d="M591 1036l10-7-8-9-10 7z"/>
<path color=#c75b00 d="M581 1043l10-7-8-9-10 7z"/>
<path color=#4c3f00 d="M521 1059l10 3-9 0-10-1z"/>
<path color=#4c3a00 d="M510 1053l11 6-9 2-10-4z"/>
<path color=#4c3300 d="M500 1046l10 7-8 4-10-5z"/>
<path color=#4c2b00 d="M490 1039l10 7-8 6-10-7z"/>
<path color=#4c2200 d="M480 1031l10 8-8 6-10-7z"/>
<path color=#4c1a00 d="M470 1024l10 7-8 7-10-6z"/>
<path color=#4c1200 d="M460 1018l10 6-8 8-10-6z"/>
<path color=#4c0b00 d="M450 1013l10 5-8 8-10-5z"/>
<path color=#4c0600 d="M442 1009l8 4-8 8-8-4z"/>
<path color=#d23100 d="M831 1011l10-8-8 6-10 8z"/>
<path color=#d54b00 d="M821 1020l10-9-8 6-11 8z"/>
<path color=#d86600 d="M811 1029l10-9-9 5-10 9z"/>
<path color=#630 d="M710 1035l10 5-8-9-10-6z"/>
<path color=#6c2c00 d="M700 1030l10 5-8-10-10-5z"/>
<path color=#742700 d="M690 1026l10 4-8-10-10-4z"/>
<path color=#7d2300 d="M680 1023l10 3-8-10-10-3z"/>
<path color=#872100 d="M670 1022l10 1-8-10-11-1z"/>
<path color=#922100 d="M660 1022l10 0-9-10-10-1z"/>
<path color=#9c2300 d="M650 1023l10-1-9-11-10 1z"/>
<path color=#a62800 d="M640 1025l10-2-9-11-10 3z"/>
<path color=#ae3100 d="M630 1029l10-4-9-10-10 3z"/>
<path color=#b53d00 d="M620 1033l10-4-9-11-10 5z"/>
<path color=#bb4d00 d="M609 1039l11-6-9-10-10 6z"/>
<path color=#bf5f00 d="M599 1045l10-6-8-10-10 7z"/>
<path color=#c27200 d="M589 1052l10-7-8-9-10 7z"/>
<path color=#4c3d00 d="M529 1057l10 6-8-1-10-3z"/>
<path color=#4c3600 d="M519 1050l10 7-8 2-11-6z"/>
<path color=#4c2e00 d="M509 1042l10 8-9 3-10-7z"/>
<path color=#4c2400 d="M499 1033l10 9-9 4-10-7z"/>
<path color=#4c1b00 d="M489 1025l10 8-9 6-10-8z"/>
<path color=#4c1200 d="M479 1018l10 7-9 6-10-7z"/>
<path color=#4c0a00 d="M469 1012l10 6-9 6-10-6z"/>
<path color=#4c0200 d="M458 1006l11 6-9 6-10-5z"/>
<path color=#490000 d="M451 1002l7 4-8 7-8-4z"/>
<path color=#d30600 d="M849 998l10-8-8 5-10 8z"/>
<path color=#d71f00 d="M839 1006l10-8-8 5-10 8z"/>
<path color=#da3a00 d="M829 1015l10-9-8 5-10 9z"/>
<path color=#dc5800 d="M819 1025l10-10-8 5-10 9z"/>
<path color=#743800 d="M698 1037l10 3-8-10-10-4z"/>
<path color=#7d3600 d="M688 1034l10 3-8-11-10-3z"/>
<path color=#873500 d="M678 1032l10 2-8-11-10-1z"/>
<path color=#913600 d="M668 1032l10 0-8-10-10 0z"/>
<path color=#9c3a00 d="M658 1033l10-1-8-10-10 1z"/>
<path color=#a54100 d="M648 1035l10-2-8-10-10 2z"/>
<path color=#ad4b00 d="M638 1039l10-4-8-10-10 4z"/>
<path color=#b35700 d="M628 1044l10-5-8-10-10 4z"/>
<path color=#b86700 d="M618 1049l10-5-8-11-11 6z"/>
<path color=#bc7800 d="M608 1056l10-7-9-10-10 6z"/>
<path color=#be8a00 d="M598 1062l10-6-9-11-10 7z"/>
<path color=#4c4300 d="M547 1063l10 6-8-3-10-3z"/>
<path color=#4c3c00 d="M537 1055l10 8-8 0-10-6z"/>
<path color=#4c3300 d="M527 1047l10 8-8 2-10-7z"/>
<path color=#4c2900 d="M517 1038l10 9-8 3-10-8z"/>
<path color=#4c1f00 d="M507 1029l10 9-8 4-10-9z"/>
<path color=#4c1400 d="M497 1021l10 8-8 4-10-8z"/>
<path color=#4c0b00 d="M487 1013l10 8-8 4-10-7z"/>
<path color=#4c0200 d="M477 1006l10 7-8 5-10-6z"/>
<path color=#470000 d="M467 1000l10 6-8 6-11-6z"/>
<path color=#420000 d="M459 997l8 3-9 6-7-4z"/>
<path color=#b50000 d="M868 986l10-7-8 4-11 7z"/>
<path color=#ce0000 d="M858 994l10-8-9 4-10 8z"/>
<path color=#dc0f00 d="M848 1002l10-8-9 4-10 8z"/>
<path color=#de2c00 d="M838 1012l10-10-9 4-10 9z"/>
<path color=#e04c00 d="M828 1022l10-10-9 3-10 10z"/>
<path color=#e26d00 d="M817 1033l11-11-9 3-10 10z"/>
<path color=#7d4800 d="M697 1044l10 3-9-10-10-3z"/>
<path color=#884900 d="M687 1042l10 2-9-10-10-2z"/>
<path color=#934c00 d="M677 1042l10 0-9-10-10 0z"/>
<path color=#9d5200 d="M666 1043l11-1-9-10-10 1z"/>
<path color=#a75a00 d="M656 1046l10-3-8-10-10 2z"/>
<path color=#af6500 d="M646 1049l10-3-8-11-10 4z"/>
<path color=#b57300 d="M636 1054l10-5-8-10-10 5z"/>
<path color=#b98300 d="M626 1060l10-6-8-10-10 5z"/>
<path color=#bb9400 d="M616 1066l10-6-8-11-10 7z"/>
<path color=#4c4400 d="M556 1064l10 7-9-2-10-6z"/>
<path color=#4c3b00 d="M546 1054l10 10-9-1-10-8z"/>
<path color=#4d3100 d="M536 1045l10 9-9 1-10-8z"/>
<path color=#4f2600 d="M526 1035l10 10-9 2-10-9z"/>
<path color=#4d1a00 d="M515 1026l11 9-9 3-10-9z"/>
<path color=#4c0f00 d="M505 1017l10 9-8 3-10-8z"/>
<path color=#4c0500 d="M495 1009l10 8-8 4-10-8z"/>
<path color=#490000 d="M485 1002l10 7-8 4-10-7z"/>
<path color=#410000 d="M475 996l10 6-8 4-10-6z"/>
<path color=#3b0000 d="M467 992l8 4-8 4-8-3z"/>
<path color=#970000 d="M886 976l8-4-8 3-8 4z"/>
<path color=#ab0000 d="M876 983l10-7-8 3-10 7z"/>
<path color=#c50000 d="M866 991l10-8-8 3-10 8z"/>
<path color=#e00300 d="M856 1000l10-9-8 3-10 8z"/>
<path color=#e12100 d="M846 1010l10-10-8 2-10 10z"/>
<path color=#e34200 d="M836 1020l10-10-8 2-10 10z"/>
<path color=#e46500 d="M826 1031l10-11-8 2-11 11z"/>
<path color=#966300 d="M685 1051l10 0-8-9-10 0z"/>
<path color=#a26a00 d="M675 1052l10-1-8-9-11 1z"/>
<path color=#ac7400 d="M665 1054l10-2-9-9-10 3z"/>
<path color=#b48100 d="M655 1058l10-4-9-8-10 3z"/>
<path color=#ba9000 d="M645 1063l10-5-9-9-10 5z"/>
<path color=#bea100 d="M635 1069l10-6-9-9-10 6z"/>
<path color=#beb200 d="M625 1076l10-7-9-9-10 6z"/>
<path color=#4a4c02 d="M574 1074l10 8-8-5-10-6z"/>
<path color=#4c4500 d="M564 1064l10 10-8-3-10-7z"/>
<path color=#523e00 d="M554 1054l10 10-8 0-10-10z"/>
<path color=#543300 d="M544 1043l10 11-8 0-10-9z"/>
<path color=#532500 d="M534 1033l10 10-8 2-10-10z"/>
<path color=#501700 d="M524 1023l10 10-8 2-11-9z"/>
<path color=#4c0b00 d="M514 1014l10 9-9 3-10-9z"/>
<path color=#4c0100 d="M504 1006l10 8-9 3-10-8z"/>
<path color=#400 d="M494 999l10 7-9 3-10-7z"/>
<path color=#3c0000 d="M484 993l10 6-9 3-10-6z"/>
<path color=#370000 d="M476 989l8 4-9 3-8-4z"/>
<path color=#910000 d="M895 974l8-4-9 2-8 4z"/>
<path color=#a50000 d="M885 981l10-7-9 2-10 7z"/>
<path color=#bf0000 d="M875 989l10-8-9 2-10 8z"/>
<path color=#d00 d="M864 998l11-9-9 2-10 9z"/>
<path color=#e31a00 d="M854 1009l10-11-8 2-10 10z"/>
<path color=#e43c00 d="M844 1019l10-10-8 1-10 10z"/>
<path color=#e56000 d="M834 1031l10-12-8 1-10 11z"/>
<path color=#e58600 d="M824 1042l10-11-8 0-10 12z"/>
<path color=#b79000 d="M673 1061l10-3-8-6-10 2z"/>
<path color=#c0a000 d="M663 1065l10-4-8-7-10 4z"/>
<path color=#c7b100 d="M653 1070l10-5-8-7-10 5z"/>
<path color=#cac400 d="M643 1077l10-7-8-7-10 6z"/>
<path color=#3d4c0f d="M593 1085l10 9-9-7-10-5z"/>
<path color=#494f06 d="M583 1075l10 10-9-3-10-8z"/>
<path color=#564f00 d="M573 1064l10 11-9-1-10-10z"/>
<path color=#584200 d="M562 1053l11 11-9 0-10-10z"/>
<path color=#583400 d="M552 1043l10 10-8 1-10-11z"/>
<path color=#562400 d="M542 1032l10 11-8 0-10-10z"/>
<path color=#521600 d="M532 1022l10 10-8 1-10-10z"/>
<path color=#4d0900 d="M522 1013l10 9-8 1-10-9z"/>
<path color=#4b0000 d="M512 1005l10 8-8 1-10-8z"/>
<path color=#410000 d="M502 997l10 8-8 1-10-7z"/>
<path color=#390000 d="M492 991l10 6-8 2-10-6z"/>
<path color=#300 d="M484 987l8 4-8 2-8-4z"/>
<path color=#8e0000 d="M903 974l8-4-8 0-8 4z"/>
<path color=#a20000 d="M893 981l10-7-8 0-10 7z"/>
<path color=#bc0000 d="M883 989l10-8-8 0-10 8z"/>
<path color=#da0000 d="M873 998l10-9-8 0-11 9z"/>
<path color=#e51600 d="M863 1008l10-10-9 0-10 11z"/>
<path color=#e53800 d="M853 1019l10-11-9 1-10 10z"/>
<path color=#e55d00 d="M843 1031l10-12-9 0-10 12z"/>
<path color=#e58400 d="M833 1043l10-12-9 0-10 11z"/>
<path color=#384c15 d="M762 1083l10 9-8-6-10-7z"/>
<path color=#414c0c d="M752 1076l10 7-8-4-10-6z"/>
<path color=#494c04 d="M742 1070l10 6-8-3-10-6z"/>
<path color=#4c4a00 d="M732 1065l10 5-8-3-10-5z"/>
<path color=#867800 d="M722 1062l10 3-8-3-11-3z"/>
<path color=#978000 d="M712 1060l10 2-9-3-10-2z"/>
<path color=#3f5415 d="M601 1087l10 11-8-4-10-9z"/>
<path color=#515908 d="M591 1076l10 11-8-2-10-10z"/>
<path color=#5b5400 d="M581 1065l10 11-8-1-10-11z"/>
<path color=#5c4400 d="M571 1054l10 11-8-1-11-11z"/>
<path color=#5a3400 d="M561 1043l10 11-9-1-10-10z"/>
<path color=#582400 d="M551 1032l10 11-9 0-10-11z"/>
<path color=#541500 d="M541 1022l10 10-9 0-10-10z"/>
<path color=#4e0700 d="M531 1013l10 9-9 0-10-9z"/>
<path color=#490000 d="M520 1004l11 9-9 0-10-8z"/>
<path color=#400000 d="M510 997l10 7-8 1-10-8z"/>
<path color=#380000 d="M500 991l10 6-8 0-10-6z"/>
<path color=#320000 d="M492 987l8 4-8 0-8-4z"/>
<path color=#8e0000 d="M911 975l8-4-8-1-8 4z"/>
<path color=#a20000 d="M901 982l10-7-8-1-10 7z"/>
<path color=#bc0000 d="M891 990l10-8-8-1-10 8z"/>
<path color=#da0000 d="M881 999l10-9-8-1-10 9z"/>
<path color=#e51600 d="M871 1009l10-10-8-1-10 10z"/>
<path color=#e53800 d="M861 1020l10-11-8-1-10 11z"/>
<path color=#e55d00 d="M851 1032l10-12-8-1-10 12z"/>
<path color=#e58400 d="M841 1043l10-11-8-1-10 12z"/>
<path color=#7fd253 d="M791 1091l10-4-9 3-10 11z"/>
<path color=#2f4c1e d="M781 1087l10 4-9 10-10-9z"/>
<path color=#384c15 d="M770 1080l11 7-9 5-10-9z"/>
<path color=#414c0c d="M760 1074l10 6-8 3-10-7z"/>
<path color=#494c04 d="M750 1068l10 6-8 2-10-6z"/>
<path color=#4c4a00 d="M740 1063l10 5-8 2-10-5z"/>
<path color=#4c4400 d="M730 1060l10 3-8 2-10-3z"/>
<path color=#4c4100 d="M720 1058l10 2-8 2-10-2z"/>
<path color=#4c3f00 d="M710 1058l10 0-8 2-10 0z"/>
<path color=#4c3f00 d="M700 1059l10-1-8 2-10 1z"/>
<path color=#2f4c1e d="M630 1098l10-5-9 5-10 10z"/>
<path color=#2e4c1e d="M619 1095l11 3-9 10-10-10z"/>
<path color=#3f5415 d="M609 1086l10 9-8 3-10-11z"/>
<path color=#515908 d="M599 1076l10 10-8 1-10-11z"/>
<path color=#5b5400 d="M589 1065l10 11-8 0-10-11z"/>
<path color=#5c4400 d="M579 1054l10 11-8 0-10-11z"/>
<path color=#5a3400 d="M569 1043l10 11-8 0-10-11z"/>
<path color=#582400 d="M559 1033l10 10-8 0-10-11z"/>
<path color=#541500 d="M549 1023l10 10-8-1-10-10z"/>
<path color=#4e0700 d="M539 1014l10 9-8-1-10-9z"/>
<path color=#490000 d="M529 1005l10 9-8-1-11-9z"/>
<path color=#400000 d="M519 998l10 7-9-1-10-7z"/>
<path color=#380000 d="M509 992l10 6-9-1-10-6z"/>
<path color=#320000 d="M501 988l8 4-9-1-8-4z"/>
<path color=#910000 d="M920 978l8-5-9-2-8 4z"/>
<path color=#a50000 d="M910 985l10-7-9-3-10 7z"/>
<path color=#bf0000 d="M900 993l10-8-9-3-10 8z"/>
<path color=#d00 d="M890 1002l10-9-9-3-10 9z"/>
<path color=#e41a00 d="M880 1011l10-9-9-3-10 10z"/>
<path color=#e43c00 d="M869 1022l11-11-9-2-10 11z"/>
<path color=#e56000 d="M859 1033l10-11-8-2-10 12z"/>
<path color=#e58600 d="M849 1044l10-11-8-1-10 11z"/>
<path color=#374c15 d="M799 1082l10-1-8 6-10 4z"/>
<path color=#394c13 d="M789 1078l10 4-8 9-10-4z"/>
<path color=#404c0d d="M779 1073l10 5-8 9-11-7z"/>
<path color=#474c05 d="M769 1067l10 6-9 7-10-6z"/>
<path color=#4c4a00 d="M759 1062l10 5-9 7-10-6z"/>
<path color=#4c4400 d="M749 1058l10 4-9 6-10-5z"/>
<path color=#4c3f00 d="M739 1054l10 4-9 5-10-3z"/>
<path color=#4c3c00 d="M729 1053l10 1-9 6-10-2z"/>
<path color=#4c3b00 d="M718 1053l11 0-9 5-10 0z"/>
<path color=#4c3b00 d="M708 1054l10-1-8 5-10 1z"/>
<path color=#4c3c00 d="M698 1056l10-2-8 5-10 3z"/>
<path color=#4c3f00 d="M688 1060l10-4-8 6-10 4z"/>
<path color=#4c4400 d="M678 1065l10-5-8 6-10 5z"/>
<path color=#4c4a00 d="M668 1071l10-6-8 6-10 7z"/>
<path color=#474c05 d="M658 1078l10-7-8 7-10 7z"/>
<path color=#404c0d d="M648 1084l10-6-8 7-10 8z"/>
<path color=#394c13 d="M638 1089l10-5-8 9-10 5z"/>
<path color=#374c15 d="M628 1089l10 0-8 9-11-3z"/>
<path color=#3d4c0f d="M618 1084l10 5-9 6-10-9z"/>
<path color=#494f06 d="M608 1075l10 9-9 2-10-10z"/>
<path color=#564f00 d="M598 1066l10 9-9 1-10-11z"/>
<path color=#584200 d="M588 1055l10 11-9-1-10-11z"/>
<path color=#583400 d="M578 1045l10 10-9-1-10-11z"/>
<path color=#562400 d="M567 1035l11 10-9-2-10-10z"/>
<path color=#521600 d="M557 1025l10 10-8-2-10-10z"/>
<path color=#4d0900 d="M547 1016l10 9-8-2-10-9z"/>
<path color=#4b0000 d="M537 1008l10 8-8-2-10-9z"/>
<path color=#410000 d="M527 1001l10 7-8-3-10-7z"/>
<path color=#390000 d="M517 995l10 6-8-3-10-6z"/>
<path color=#300 d="M509 991l8 4-8-3-8-4z"/>
<path color=#970000 d="M928 982l8-5-8-4-8 5z"/>
<path color=#ab0000 d="M918 988l10-6-8-4-10 7z"/>
<path color=#c50000 d="M908 996l10-8-8-3-10 8z"/>
<path color=#e00300 d="M898 1005l10-9-8-3-10 9z"/>
<path color=#e12100 d="M888 1015l10-10-8-3-10 9z"/>
<path color=#e34200 d="M878 1025l10-10-8-4-11 11z"/>
<path color=#e46500 d="M868 1035l10-10-9-3-10 11z"/>
<path color=#e48a00 d="M858 1046l10-11-9-2-10 11z"/>
<path color=#e5ae00 d="M848 1056l10-10-9-2-10 12z"/>
<path color=#434c09 d="M817 1074l10-3-8 4-10 6z"/>
<path color=#414c0b d="M807 1073l10 1-8 7-10 1z"/>
<path color=#454c08 d="M797 1069l10 4-8 9-10-4z"/>
<path color=#4b4c02 d="M787 1064l10 5-8 9-10-5z"/>
<path color=#4c4800 d="M777 1058l10 6-8 9-10-6z"/>
<path color=#4c4100 d="M767 1053l10 5-8 9-10-5z"/>
<path color=#4c3b00 d="M757 1049l10 4-8 9-10-4z"/>
<path color=#4c3700 d="M747 1046l10 3-8 9-10-4z"/>
<path color=#4c3400 d="M737 1045l10 1-8 8-10-1z"/>
<path color=#4c3200 d="M727 1045l10 0-8 8-11 0z"/>
<path color=#4c3200 d="M717 1046l10-1-9 8-10 1z"/>
<path color=#4c3400 d="M707 1048l10-2-9 8-10 2z"/>
<path color=#4c3700 d="M697 1052l10-4-9 8-10 4z"/>
<path color=#4c3b00 d="M687 1057l10-5-9 8-10 5z"/>
<path color=#4c4100 d="M676 1062l11-5-9 8-10 6z"/>
<path color=#4c4800 d="M666 1069l10-7-8 9-10 7z"/>
<path color=#4b4c02 d="M656 1075l10-6-8 9-10 6z"/>
<path color=#454c08 d="M646 1080l10-5-8 9-10 5z"/>
<path color=#414c0b d="M636 1082l10-2-8 9-10 0z"/>
<path color=#434c09 d="M626 1080l10 2-8 7-10-5z"/>
<path color=#4a4c02 d="M616 1074l10 6-8 4-10-9z"/>
<path color=#4c4500 d="M606 1066l10 8-8 1-10-9z"/>
<path color=#523e00 d="M596 1057l10 9-8 0-10-11z"/>
<path color=#543300 d="M586 1047l10 10-8-2-10-10z"/>
<path color=#532500 d="M576 1038l10 9-8-2-11-10z"/>
<path color=#501700 d="M566 1028l10 10-9-3-10-10z"/>
<path color=#370000 d="M518 995l7 4-8-4-8-4z"/>
<path color=#a10000 d="M937 987l7-4-8-6-8 5z"/>
<path color=#b50000 d="M926 993l11-6-9-5-10 6z"/>
<path color=#ce0000 d="M916 1001l10-8-8-5-10 8z"/>
<path color=#dc0f00 d="M906 1010l10-9-8-5-10 9z"/>
<path color=#de2c00 d="M896 1019l10-9-8-5-10 10z"/>
<path color=#e04c00 d="M886 1029l10-10-8-4-10 10z"/>
<path color=#e26d00 d="M876 1038l10-9-8-4-10 10z"/>
<path color=#e38f00 d="M866 1048l10-10-8-3-10 11z"/>
<path color=#e4af00 d="M856 1056l10-8-8-2-10 10z"/>
<path color=#4a4c02 d="M826 1067l10 0-9 4-10 3z"/>
<path color=#4b4c01 d="M816 1064l10 3-9 7-10-1z"/>
<path color=#4c4900 d="M806 1059l10 5-9 9-10-4z"/>
<path color=#4c4300 d="M796 1054l10 5-9 10-10-5z"/>
<path color=#4c3c00 d="M786 1049l10 5-9 10-10-6z"/>
<path color=#4c3600 d="M775 1044l11 5-9 9-10-5z"/>
<path color=#4c3100 d="M765 1040l10 4-8 9-10-4z"/>
<path color=#4c2c00 d="M755 1037l10 3-8 9-10-3z"/>
<path color=#4c2900 d="M745 1036l10 1-8 9-10-1z"/>
<path color=#4c2800 d="M735 1035l10 1-8 9-10 0z"/>
<path color=#4c2800 d="M725 1037l10-2-8 10-10 1z"/>
<path color=#4c2900 d="M715 1039l10-2-8 9-10 2z"/>
<path color=#4c2c00 d="M705 1043l10-4-8 9-10 4z"/>
<path color=#4c3100 d="M695 1047l10-4-8 9-10 5z"/>
<path color=#4c3600 d="M685 1053l10-6-8 10-11 5z"/>
<path color=#4c3c00 d="M675 1059l10-6-9 9-10 7z"/>
<path color=#4c4300 d="M665 1065l10-6-9 10-10 6z"/>
<path color=#4c4900 d="M655 1071l10-6-9 10-10 5z"/>
<path color=#4b4c01 d="M645 1074l10-3-9 9-10 2z"/>
<path color=#4a4c02 d="M635 1075l10-1-9 8-10-2z"/>
<path color=#4c4b00 d="M624 1072l11 3-9 5-10-6z"/>
<path color=#4c4400 d="M614 1067l10 5-8 2-10-8z"/>
<path color=#4c3b00 d="M604 1059l10 8-8-1-10-9z"/>
<path color=#4d3100 d="M594 1050l10 9-8-2-10-10z"/>
<path color=#4f2600 d="M584 1041l10 9-8-3-10-9z"/>
<path color=#4d1a00 d="M574 1032l10 9-8-3-10-10z"/>
<path color=#590000 d="M534 1004l10 6-8-6-11-5z"/>
<path color=#5a0000 d="M526 1000l8 4-9-5-7-4z"/>
<path color=#ad0000 d="M945 993l8-4-9-6-7 4z"/>
<path color=#c00000 d="M935 1000l10-7-8-6-11 6z"/>
<path color=#d30600 d="M925 1007l10-7-9-7-10 8z"/>
<path color=#d71f00 d="M915 1015l10-8-9-6-10 9z"/>
<path color=#da3b00 d="M905 1024l10-9-9-5-10 9z"/>
<path color=#dd5800 d="M895 1033l10-9-9-5-10 10z"/>
<path color=#df7700 d="M885 1042l10-9-9-4-10 9z"/>
<path color=#e19500 d="M874 1050l11-8-9-4-10 10z"/>
<path color=#e0b000 d="M864 1057l10-7-8-2-10 8z"/>
<path color=#4c4700 d="M844 1062l10-1-8 2-10 4z"/>
<path color=#4c4700 d="M834 1060l10 2-8 5-10 0z"/>
<path color=#4c4400 d="M824 1056l10 4-8 7-10-3z"/>
<path color=#4c3e00 d="M814 1050l10 6-8 8-10-5z"/>
<path color=#4c3800 d="M804 1045l10 5-8 9-10-5z"/>
<path color=#4c3100 d="M794 1039l10 6-8 9-10-5z"/>
<path color=#4c2b00 d="M784 1034l10 5-8 10-11-5z"/>
<path color=#4c2500 d="M774 1030l10 4-9 10-10-4z"/>
<path color=#4c2100 d="M764 1028l10 2-9 10-10-3z"/>
<path color=#4c1e00 d="M754 1026l10 2-9 9-10-1z"/>
<path color=#4c1d00 d="M744 1026l10 0-9 10-10-1z"/>
<path color=#4c1d00 d="M734 1027l10-1-9 9-10 2z"/>
<path color=#4c1e00 d="M723 1029l11-2-9 10-10 2z"/>
<path color=#4c2100 d="M713 1033l10-4-8 10-10 4z"/>
<path color=#4c2500 d="M703 1038l10-5-8 10-10 4z"/>
<path color=#4c2b00 d="M693 1043l10-5-8 9-10 6z"/>
<path color=#4c3100 d="M683 1050l10-7-8 10-10 6z"/>
<path color=#4c3800 d="M673 1056l10-6-8 9-10 6z"/>
<path color=#4c3e00 d="M663 1062l10-6-8 9-10 6z"/>
<path color=#4c4400 d="M653 1068l10-6-8 9-10 3z"/>
<path color=#4c4700 d="M643 1070l10-2-8 6-10 1z"/>
<path color=#4c4700 d="M633 1070l10 0-8 5-11-3z"/>
<path color=#4c4300 d="M623 1067l10 3-9 2-10-5z"/>
<path color=#4c3c00 d="M613 1061l10 6-9 0-10-8z"/>
<path color=#4c3300 d="M603 1054l10 7-9-2-10-9z"/>
<path color=#4c2900 d="M593 1046l10 8-9-4-10-9z"/>
<path color=#620000 d="M542 1010l10 6-8-6-10-6z"/>
<path color=#630000 d="M534 1007l8 3-8-6-8-4z"/>
<path color=#b00 d="M953 1001l8-4-8-8-8 4z"/>
<path color=#c90600 d="M943 1007l10-6-8-8-10 7z"/>
<path color=#ce1a00 d="M933 1014l10-7-8-7-10 7z"/>
<path color=#d23100 d="M923 1022l10-8-8-7-10 8z"/>
<path color=#d54b00 d="M913 1030l10-8-8-7-10 9z"/>
<path color=#d86700 d="M903 1039l10-9-8-6-10 9z"/>
<path color=#db8200 d="M893 1046l10-7-8-6-10 9z"/>
<path color=#dc9c00 d="M883 1053l10-7-8-4-11 8z"/>
<path color=#d9ae00 d="M873 1057l10-4-9-3-10 7z"/>
<path color=#4c4300 d="M853 1057l10 2-9 2-10 1z"/>
<path color=#4c4000 d="M843 1053l10 4-9 5-10-2z"/>
<path color=#4c3b00 d="M832 1048l11 5-9 7-10-4z"/>
<path color=#4c3400 d="M822 1042l10 6-8 8-10-6z"/>
<path color=#4c2d00 d="M812 1036l10 6-8 8-10-5z"/>
<path color=#4c2600 d="M802 1030l10 6-8 9-10-6z"/>
<path color=#4c1f00 d="M792 1025l10 5-8 9-10-5z"/>
<path color=#4c1a00 d="M782 1021l10 4-8 9-10-4z"/>
<path color=#4c1600 d="M772 1018l10 3-8 9-10-2z"/>
<path color=#4c1300 d="M762 1017l10 1-8 10-10-2z"/>
<path color=#4c1100 d="M752 1017l10 0-8 9-10 0z"/>
<path color=#4c1100 d="M742 1018l10-1-8 9-10 1z"/>
<path color=#4c1300 d="M732 1020l10-2-8 9-11 2z"/>
<path color=#4c1600 d="M722 1024l10-4-9 9-10 4z"/>
<path color=#4c1a00 d="M712 1029l10-5-9 9-10 5z"/>
<path color=#4c1f00 d="M702 1034l10-5-9 9-10 5z"/>
<path color=#4c2600 d="M692 1041l10-7-9 9-10 7z"/>
<path color=#4c2d00 d="M681 1048l11-7-9 9-10 6z"/>
<path color=#4c3400 d="M671 1055l10-7-8 8-10 6z"/>
<path color=#4c3b00 d="M661 1061l10-6-8 7-10 6z"/>
<path color=#4c4000 d="M651 1066l10-5-8 7-10 2z"/>
<path color=#4c4300 d="M641 1068l10-2-8 4-10 0z"/>
<path color=#4c4200 d="M631 1067l10 1-8 2-10-3z"/>
<path color=#4c3d00 d="M621 1064l10 3-8 0-10-6z"/>
<path color=#4c3600 d="M611 1058l10 6-8-3-10-7z"/>
<path color=#4c2e00 d="M601 1051l10 7-8-4-10-8z"/>
<path color=#571f00 d="M581 1037l10 7-8-6-11-8z"/>
<path color=#5b1500 d="M571 1030l10 7-9-7-10-8z"/>
<path color=#620c00 d="M561 1023l10 7-9-8-10-6z"/>
<path color=#6a0300 d="M551 1018l10 5-9-7-10-6z"/>
<path color=#6e0000 d="M543 1015l8 3-9-8-8-3z"/>
<path color=#be0e00 d="M962 1010l8-4-9-9-8 4z"/>
<path color=#c31c00 d="M952 1016l10-6-9-9-10 6z"/>
<path color=#c82f00 d="M942 1023l10-7-9-9-10 7z"/>
<path color=#cc4500 d="M931 1030l11-7-9-9-10 8z"/>
<path color=#d05d00 d="M921 1038l10-8-8-8-10 8z"/>
<path color=#d27600 d="M911 1045l10-7-8-8-10 9z"/>
<path color=#d58e00 d="M901 1051l10-6-8-6-10 7z"/>
<path color=#d4a100 d="M891 1056l10-5-8-5-10 7z"/>
<path color=#cba600 d="M881 1058l10-2-8-3-10 4z"/>
<path color=#4c4000 d="M871 1057l10 1-8-1-10 2z"/>
<path color=#4c3e00 d="M861 1053l10 4-8 2-10-2z"/>
<path color=#4c3900 d="M851 1047l10 6-8 4-10-4z"/>
<path color=#4c3300 d="M841 1041l10 6-8 6-11-5z"/>
<path color=#4c2b00 d="M831 1034l10 7-9 7-10-6z"/>
<path color=#4c2300 d="M821 1028l10 6-9 8-10-6z"/>
<path color=#4c1c00 d="M811 1022l10 6-9 8-10-6z"/>
<path color=#4c1500 d="M801 1016l10 6-9 8-10-5z"/>
<path color=#4c0f00 d="M791 1012l10 4-9 9-10-4z"/>
<path color=#4c0b00 d="M780 1010l11 2-9 9-10-3z"/>
<path color=#4c0800 d="M770 1008l10 2-8 8-10-1z"/>
<path color=#4c0600 d="M760 1008l10 0-8 9-10 0z"/>
<path color=#4c0600 d="M750 1009l10-1-8 9-10 1z"/>
<path color=#4c0800 d="M740 1011l10-2-8 9-10 2z"/>
<path color=#4c0b00 d="M730 1015l10-4-8 9-10 4z"/>
<path color=#4c0f00 d="M720 1020l10-5-8 9-10 5z"/>
<path color=#4c1500 d="M710 1026l10-6-8 9-10 5z"/>
<path color=#4c1c00 d="M700 1033l10-7-8 8-10 7z"/>
<path color=#4c2300 d="M690 1040l10-7-8 8-11 7z"/>
<path color=#4c2b00 d="M680 1048l10-8-9 8-10 7z"/>
<path color=#4c3300 d="M670 1055l10-7-9 7-10 6z"/>
<path color=#4c3900 d="M660 1061l10-6-9 6-10 5z"/>
<path color=#4c3e00 d="M650 1066l10-5-9 5-10 2z"/>
<path color=#4c4000 d="M640 1068l10-2-9 2-10-1z"/>
<path color=#4c3f00 d="M629 1067l11 1-9-1-10-3z"/>
<path color=#4c3a00 d="M619 1063l10 4-8-3-10-6z"/>
<path color=#644300 d="M609 1058l10 5-8-5-10-7z"/>
<path color=#5d3400 d="M599 1051l10 7-8-7-10-7z"/>
<path color=#5c2900 d="M589 1044l10 7-8-7-10-7z"/>
<path color=#5e2000 d="M579 1038l10 6-8-7-10-7z"/>
<path color=#631700 d="M569 1032l10 6-8-8-10-7z"/>
<path color=#6b0f00 d="M559 1027l10 5-8-9-10-5z"/>
<path color=#730900 d="M551 1023l8 4-8-9-8-3z"/>
</g>
<use href="#siiiu" filter="url(#fsiiiu)"/>
<g id="sivl" class="sf" transform="scale(.5)">
<path color=#007b94 d="M1564 1113l10 2-8-3-10-1z"/>
<path color=#009ebb d="M1553 1113l11 0-8-2-11 2z"/>
<path color=#00a9d1 d="M1543 1117l10-4-8 0-10 5z"/>
<path color=#009ed7 d="M1533 1122l10-5-8 1-10 7z"/>
<path color=#000a4c d="M1409 1162l10 1-8 8-10-2z"/>
<path color=#000e4c d="M1399 1159l10 3-8 7-10-3z"/>
<path color=#00134c d="M1388 1156l11 3-8 7-11-4z"/>
<path color=#0090aa d="M1316 1131l11-1-9 0-10 0z"/>
<path color=#00a8ca d="M1306 1135l10-4-8-1-10 2z"/>
<path color=#00a5d6 d="M1296 1141l10-6-8-3-10 5z"/>
<path color=#0092d9 d="M1285 1149l11-8-8-4-11 7z"/>
<path color=#027bda d="M1275 1157l10-8-8-5-10 7z"/>
<path color=#0463d9 d="M1265 1165l10-8-8-6-10 8z"/>
<path color=#0449d5 d="M1254 1173l11-8-8-6-11 7z"/>
<path color=#0230ce d="M1244 1180l10-7-8-7-10 6z"/>
<path color=#001bc6 d="M1234 1186l10-6-8-8-10 6z"/>
<path color=#000dbe d="M1226 1190l8-4-8-8-8 4z"/>
<path color=#006781 d="M1572 1115l10 4-8-4-10-2z"/>
<path color=#008ca6 d="M1562 1114l10 1-8-2-11 0z"/>
<path color=#00a5c6 d="M1551 1116l11-2-9-1-10 4z"/>
<path color=#00a5d2 d="M1541 1120l10-4-8 1-10 5z"/>
<path color=#0096d4 d="M1531 1125l10-5-8 2-10 7z"/>
<path color=#009fbd d="M1325 1134l10-3-8-1-11 1z"/>
<path color=#00a8d2 d="M1314 1139l11-5-9-3-10 4z"/>
<path color=#009cd9 d="M1304 1146l10-7-8-4-10 6z"/>
<path color=#0186db d="M1294 1154l10-8-8-5-11 8z"/>
<path color=#046ddd d="M1283 1163l11-9-9-5-10 8z"/>
<path color=#0652dd d="M1273 1172l10-9-8-6-10 8z"/>
<path color=#0537d9 d="M1263 1180l10-8-8-7-11 8z"/>
<path color=#031cd3 d="M1252 1187l11-7-9-7-10 7z"/>
<path color=#0106cb d="M1242 1193l10-6-8-7-10 6z"/>
<path color=#0000bc d="M1234 1198l8-5-8-7-8 4z"/>
<path color=#005773 d="M1580 1118l10 5-8-4-10-4z"/>
<path color=#007992 d="M1570 1116l10 2-8-3-10-1z"/>
<path color=#0099b5 d="M1559 1116l11 0-8-2-11 2z"/>
<path color=#00a5ca d="M1549 1118l10-2-8 0-10 4z"/>
<path color=#009fcf d="M1539 1122l10-4-8 2-10 5z"/>
<path color=#0094b0 d="M1343 1133l10-2-8 0-10 0z"/>
<path color=#00a7ca d="M1333 1137l10-4-8-2-10 3z"/>
<path color=#00a4d7 d="M1322 1143l11-6-8-3-11 5z"/>
<path color=#0091dc d="M1312 1151l10-8-8-4-10 7z"/>
<path color=#0278de d="M1302 1160l10-9-8-5-10 8z"/>
<path color=#045ddf d="M1291 1169l11-9-8-6-11 9z"/>
<path color=#0541df d="M1281 1178l10-9-8-6-10 9z"/>
<path color=#0424dc d="M1271 1186l10-8-8-6-10 8z"/>
<path color=#0209d6 d="M1261 1193l10-7-8-6-11 7z"/>
<path color=#0101c2 d="M1250 1200l11-7-9-6-10 6z"/>
<path color=#0000ad d="M1242 1204l8-4-8-7-8 5z"/>
<path color=#006883 d="M1578 1118l10 3-8-3-10-2z"/>
<path color=#0089a3 d="M1568 1117l10 1-8-2-11 0z"/>
<path color=#009ebd d="M1557 1118l11-1-9-1-10 2z"/>
<path color=#00a2c8 d="M1547 1120l10-2-8 0-10 4z"/>
<path color=#00404c d="M1361 1132l11 0-8 0-11-1z"/>
<path color=#00a1c0 d="M1351 1135l10-3-8-1-10 2z"/>
<path color=#00a8d3 d="M1341 1140l10-5-8-2-10 4z"/>
<path color=#009ddb d="M1331 1147l10-7-8-3-11 6z"/>
<path color=#0087de d="M1320 1155l11-8-9-4-10 8z"/>
<path color=#016bdf d="M1310 1164l10-9-8-4-10 9z"/>
<path color=#024ee0 d="M1300 1173l10-9-8-4-11 9z"/>
<path color=#022fdf d="M1289 1182l11-9-9-4-10 9z"/>
<path color=#0212dd d="M1279 1191l10-9-8-4-10 8z"/>
<path color=#0101d0 d="M1269 1199l10-8-8-5-10 7z"/>
<path color=#0000b6 d="M1258 1205l11-6-8-6-11 7z"/>
<path color=#0000a1 d="M1250 1209l8-4-8-5-8 4z"/>
<path color=#007a94 d="M1576 1118l10 2-8-2-10-1z"/>
<path color=#00a0be d="M1555 1119l10-1-8 0-10 2z"/>
<path color=#009fc3 d="M1545 1121l10-2-8 1-10 3z"/>
<path color=#009bb7 d="M1370 1133l10-1-8 0-11 0z"/>
<path color=#00a7cb d="M1359 1137l11-4-9-1-10 3z"/>
<path color=#00a6d8 d="M1349 1143l10-6-8-2-10 5z"/>
<path color=#0096de d="M1339 1150l10-7-8-3-10 7z"/>
<path color=#007de0 d="M1328 1159l11-9-8-3-11 8z"/>
<path color=#0060e1 d="M1318 1168l10-9-8-4-10 9z"/>
<path color=#0041e1 d="M1308 1177l10-9-8-4-10 9z"/>
<path color=#0022e1 d="M1297 1186l11-9-8-4-11 9z"/>
<path color=#0004df d="M1287 1195l10-9-8-4-10 9z"/>
<path color=#0000c6 d="M1277 1203l10-8-8-4-10 8z"/>
<path color=#0000ac d="M1267 1209l10-6-8-4-11 6z"/>
<path color=#000098 d="M1258 1214l9-5-9-4-8 4z"/>
<path color=#003e4c d="M1584 1119l10 3-8-2-10-2z"/>
<path color=#008aa2 d="M1574 1118l10 1-8-1-11 0z"/>
<path color=#00a0bc d="M1553 1120l10-1-8 0-10 2z"/>
<path color=#009dbd d="M1543 1122l10-2-8 1-10 3z"/>
<path color=#003e4c d="M1532 1123l11-1-8 2-11 2z"/>
<path color=#003d4c d="M1522 1125l10-2-8 3-10 2z"/>
<path color=#00414c d="M1398 1131l11 0-8 1-11-1z"/>
<path color=#0098b1 d="M1388 1132l10-1-8 0-10 1z"/>
<path color=#00a4c1 d="M1378 1134l10-2-8 0-10 1z"/>
<path color=#00aad1 d="M1367 1139l11-5-8-1-11 4z"/>
<path color=#00a3db d="M1357 1145l10-6-8-2-10 6z"/>
<path color=#0091e0 d="M1347 1153l10-8-8-2-10 7z"/>
<path color=#0077e2 d="M1337 1161l10-8-8-3-11 9z"/>
<path color=#0058e3 d="M1326 1171l11-10-9-2-10 9z"/>
<path color=#0039e3 d="M1316 1180l10-9-8-3-10 9z"/>
<path color=#0019e3 d="M1306 1189l10-9-8-3-11 9z"/>
<path color=#0000dc d="M1295 1198l11-9-9-3-10 9z"/>
<path color=#0000bf d="M1285 1206l10-8-8-3-10 8z"/>
<path color=#0000a5 d="M1275 1212l10-6-8-3-10 6z"/>
<path color=#000091 d="M1267 1217l8-5-8-3-9 5z"/>
<path color=#0097ae d="M1572 1119l10 0-8-1-11 1z"/>
<path color=#009fb7 d="M1561 1120l11-1-9 0-10 1z"/>
<path color=#00a0ba d="M1551 1122l10-2-8 0-10 2z"/>
<path color=#009db9 d="M1541 1123l10-1-8 0-11 1z"/>
<path color=#0099b6 d="M1530 1124l11-1-9 0-10 2z"/>
<path color=#00404c d="M1510 1126l10-1-8 1-11 1z"/>
<path color=#00404c d="M1499 1126l11 0-9 1-10 0z"/>
<path color=#00404c d="M1479 1128l10-1-8 1-10 1z"/>
<path color=#00404c d="M1468 1129l11-1-8 1-11 1z"/>
<path color=#00404c d="M1458 1130l10-1-8 1-10 0z"/>
<path color=#00404c d="M1448 1130l10 0-8 0-10 1z"/>
<path color=#0092aa d="M1417 1131l10 0-8 0-10 0z"/>
<path color=#00a0b7 d="M1396 1133l11-1-9-1-10 1z"/>
<path color=#00a9c6 d="M1386 1136l10-3-8-1-10 2z"/>
<path color=#00abd4 d="M1376 1140l10-4-8-2-11 5z"/>
<path color=#00a2dd d="M1365 1146l11-6-9-1-10 6z"/>
<path color=#008ee1 d="M1355 1154l10-8-8-1-10 8z"/>
<path color=#0073e3 d="M1345 1163l10-9-8-1-10 8z"/>
<path color=#0055e4 d="M1334 1172l11-9-8-2-11 10z"/>
<path color=#0034e4 d="M1324 1182l10-10-8-1-10 9z"/>
<path color=#0014e4 d="M1314 1191l10-9-8-2-10 9z"/>
<path color=#0000d9 d="M1303 1199l11-8-8-2-11 9z"/>
<path color=#0000bc d="M1293 1207l10-8-8-1-10 8z"/>
<path color=#0000a2 d="M1283 1214l10-7-8-1-10 6z"/>
<path color=#00008e d="M1275 1218l8-4-8-2-8 5z"/>
<path color=#00859c d="M1590 1120l10 1-8-1-10-1z"/>
<path color=#0097ae d="M1580 1121l10-1-8-1-10 0z"/>
<path color=#009fb7 d="M1569 1122l11-1-8-2-11 1z"/>
<path color=#00a0ba d="M1559 1124l10-2-8-2-10 2z"/>
<path color=#009db9 d="M1549 1125l10-1-8-2-10 1z"/>
<path color=#0099b6 d="M1538 1127l11-2-8-2-11 1z"/>
<path color=#0095b3 d="M1528 1128l10-1-8-3-10 1z"/>
<path color=#0093b0 d="M1518 1128l10 0-8-3-10 1z"/>
<path color=#0093af d="M1508 1129l10-1-8-2-11 0z"/>
<path color=#0093b0 d="M1497 1130l11-1-9-3-10 1z"/>
<path color=#0095b1 d="M1487 1131l10-1-8-3-10 1z"/>
<path color=#0095b2 d="M1477 1132l10-1-8-3-11 1z"/>
<path color=#0094b2 d="M1466 1132l11 0-9-3-10 1z"/>
<path color=#0093b0 d="M1456 1133l10-1-8-2-10 0z"/>
<path color=#0091ad d="M1446 1133l10 0-8-3-10 1z"/>
<path color=#0090aa d="M1435 1133l11 0-8-2-11 0z"/>
<path color=#0092aa d="M1425 1133l10 0-8-2-10 0z"/>
<path color=#0097ae d="M1415 1133l10 0-8-2-10 1z"/>
<path color=#00a0b7 d="M1404 1134l11-1-8-1-11 1z"/>
<path color=#00a9c6 d="M1394 1136l10-2-8-1-10 3z"/>
<path color=#00abd4 d="M1384 1141l10-5-8 0-10 4z"/>
<path color=#00a2dd d="M1374 1147l10-6-8-1-11 6z"/>
<path color=#008ee1 d="M1363 1154l11-7-9-1-10 8z"/>
<path color=#0073e3 d="M1353 1163l10-9-8 0-10 9z"/>
<path color=#0055e4 d="M1343 1173l10-10-8 0-11 9z"/>
<path color=#0034e4 d="M1332 1182l11-9-9-1-10 10z"/>
<path color=#0014e4 d="M1322 1191l10-9-8 0-10 9z"/>
<path color=#0000d9 d="M1312 1200l10-9-8 0-11 8z"/>
<path color=#0000bc d="M1301 1207l11-7-9-1-10 8z"/>
<path color=#0000a2 d="M1291 1214l10-7-8 0-10 7z"/>
<path color=#00008e d="M1283 1219l8-5-8 0-8 4z"/>
<path color=#008aa2 d="M1598 1121l10 1-8-1-10-1z"/>
<path color=#009bb4 d="M1588 1123l10-2-8-1-10 1z"/>
<path color=#00a0bc d="M1578 1125l10-2-8-2-11 1z"/>
<path color=#009dbd d="M1567 1127l11-2-9-3-10 2z"/>
<path color=#0097ba d="M1557 1130l10-3-8-3-10 1z"/>
<path color=#008fb4 d="M1547 1132l10-2-8-5-11 2z"/>
<path color=#0089af d="M1536 1133l11-1-9-5-10 1z"/>
<path color=#0084aa d="M1526 1134l10-1-8-5-10 0z"/>
<path color=#0082a7 d="M1516 1136l10-2-8-6-10 1z"/>
<path color=#0081a6 d="M1505 1136l11 0-8-7-11 1z"/>
<path color=#0080a6 d="M1495 1137l10-1-8-6-10 1z"/>
<path color=#0080a6 d="M1485 1138l10-1-8-6-10 1z"/>
<path color=#0081a5 d="M1474 1138l11 0-8-6-11 0z"/>
<path color=#0081a4 d="M1464 1138l10 0-8-6-10 1z"/>
<path color=#0081a2 d="M1454 1137l10 1-8-5-10 0z"/>
<path color=#0082a1 d="M1444 1137l10 0-8-4-11 0z"/>
<path color=#0086a1 d="M1433 1136l11 1-9-4-10 0z"/>
<path color=#008da6 d="M1423 1135l10 1-8-3-10 0z"/>
<path color=#0098b1 d="M1413 1135l10 0-8-2-11 1z"/>
<path color=#00a4c1 d="M1402 1137l11-2-9-1-10 2z"/>
<path color=#00aad1 d="M1392 1141l10-4-8-1-10 5z"/>
<path color=#00a3db d="M1382 1146l10-5-8 0-10 6z"/>
<path color=#0091e0 d="M1371 1154l11-8-8 1-11 7z"/>
<path color=#0077e2 d="M1361 1162l10-8-8 0-10 9z"/>
<path color=#0058e3 d="M1351 1172l10-10-8 1-10 10z"/>
<path color=#0039e3 d="M1340 1181l11-9-8 1-11 9z"/>
<path color=#0019e3 d="M1330 1190l10-9-8 1-10 9z"/>
<path color=#0000dc d="M1320 1199l10-9-8 1-10 9z"/>
<path color=#0000bf d="M1310 1206l10-7-8 1-11 7z"/>
<path color=#0000a5 d="M1299 1213l11-7-9 1-10 7z"/>
<path color=#000091 d="M1291 1218l8-5-8 1-8 5z"/>
<path color=#003f4c d="M1617 1122l10 1-8 1-11-2z"/>
<path color=#0094ae d="M1606 1123l11-1-9 0-10-1z"/>
<path color=#00a0be d="M1596 1126l10-3-8-2-10 2z"/>
<path color=#009fc3 d="M1586 1129l10-3-8-3-10 2z"/>
<path color=#0096c1 d="M1575 1133l11-4-8-4-11 2z"/>
<path color=#008bbb d="M1565 1136l10-3-8-6-10 3z"/>
<path color=#0081b4 d="M1555 1139l10-3-8-6-10 2z"/>
<path color=#0078ac d="M1544 1141l11-2-8-7-11 1z"/>
<path color=#0071a6 d="M1534 1143l10-2-8-8-10 1z"/>
<path color=#006ca1 d="M1524 1144l10-1-8-9-10 2z"/>
<path color=#00699e d="M1514 1145l10-1-8-8-11 0z"/>
<path color=#00689c d="M1503 1146l11-1-9-9-10 1z"/>
<path color=#00679a d="M1493 1146l10 0-8-9-10 1z"/>
<path color=#006899 d="M1483 1146l10 0-8-8-11 0z"/>
<path color=#006997 d="M1472 1145l11 1-9-8-10 0z"/>
<path color=#006a94 d="M1462 1144l10 1-8-7-10-1z"/>
<path color=#006d93 d="M1452 1142l10 2-8-7-10 0z"/>
<path color=#007393 d="M1441 1140l11 2-8-5-11-1z"/>
<path color=#007c98 d="M1431 1138l10 2-8-4-10-1z"/>
<path color=#008aa4 d="M1421 1137l10 1-8-3-10 0z"/>
<path color=#009bb7 d="M1410 1138l11-1-8-2-11 2z"/>
<path color=#00a7cb d="M1400 1140l10-2-8-1-10 4z"/>
<path color=#00a6d8 d="M1390 1146l10-6-8 1-10 5z"/>
<path color=#0096de d="M1380 1152l10-6-8 0-11 8z"/>
<path color=#007de0 d="M1369 1161l11-9-9 2-10 8z"/>
<path color=#0060e1 d="M1359 1170l10-9-8 1-10 10z"/>
<path color=#0041e1 d="M1349 1179l10-9-8 2-11 9z"/>
<path color=#0021e0 d="M1338 1188l11-9-9 2-10 9z"/>
<path color=#0004df d="M1328 1197l10-9-8 2-10 9z"/>
<path color=#0000c6 d="M1318 1204l10-7-8 2-10 7z"/>
<path color=#0000ac d="M1307 1211l11-7-8 2-11 7z"/>
<path color=#000098 d="M1299 1215l8-4-8 2-8 5z"/>
<path color=#0089a3 d="M1625 1123l10 0-8 0-10-1z"/>
<path color=#009ebd d="M1614 1126l11-3-8-1-11 1z"/>
<path color=#00a2c8 d="M1604 1130l10-4-8-3-10 3z"/>
<path color=#0099c9 d="M1594 1134l10-4-8-4-10 3z"/>
<path color=#008bc5 d="M1584 1139l10-5-8-5-11 4z"/>
<path color=#007dbe d="M1573 1143l11-4-9-6-10 3z"/>
<path color=#006fb5 d="M1563 1147l10-4-8-7-10 3z"/>
<path color=#0064ad d="M1553 1150l10-3-8-8-11 2z"/>
<path color=#005ca6 d="M1542 1152l11-2-9-9-10 2z"/>
<path color=#00569f d="M1532 1154l10-2-8-9-10 1z"/>
<path color=#00529a d="M1522 1155l10-1-8-10-10 1z"/>
<path color=#005096 d="M1511 1155l11 0-8-10-11 1z"/>
<path color=#004f93 d="M1501 1155l10 0-8-9-10 0z"/>
<path color=#004f8f d="M1491 1154l10 1-8-9-10 0z"/>
<path color=#00518c d="M1480 1153l11 1-8-8-11-1z"/>
<path color=#005488 d="M1470 1151l10 2-8-8-10-1z"/>
<path color=#005885 d="M1460 1148l10 3-8-7-10-2z"/>
<path color=#005e84 d="M1450 1145l10 3-8-6-11-2z"/>
<path color=#006787 d="M1439 1142l11 3-9-5-10-2z"/>
<path color=#007692 d="M1429 1140l10 2-8-4-10-1z"/>
<path color=#008ca7 d="M1419 1139l10 1-8-3-11 1z"/>
<path color=#00a1c0 d="M1408 1140l11-1-9-1-10 2z"/>
<path color=#00a8d3 d="M1398 1144l10-4-8 0-10 6z"/>
<path color=#009ddb d="M1388 1150l10-6-8 2-10 6z"/>
<path color=#0086de d="M1377 1158l11-8-8 2-11 9z"/>
<path color=#006ade d="M1367 1167l10-9-8 3-10 9z"/>
<path color=#004cde d="M1357 1176l10-9-8 3-10 9z"/>
<path color=#002ddd d="M1346 1185l11-9-8 3-11 9z"/>
<path color=#0011db d="M1336 1193l10-8-8 3-10 9z"/>
<path color=#0000cf d="M1326 1201l10-8-8 4-10 7z"/>
<path color=#0000b6 d="M1316 1207l10-6-8 3-11 7z"/>
<path color=#0000a1 d="M1307 1212l9-5-9 4-8 4z"/>
<path color=#0099b5 d="M1633 1125l10-2-8 0-10 0z"/>
<path color=#00a5ca d="M1623 1129l10-4-8-2-11 3z"/>
<path color=#009fcf d="M1612 1135l11-6-9-3-10 4z"/>
<path color=#008fce d="M1602 1140l10-5-8-5-10 4z"/>
<path color=#007dc8 d="M1592 1146l10-6-8-6-10 5z"/>
<path color=#006bc1 d="M1581 1151l11-5-8-7-11 4z"/>
<path color=#005cb8 d="M1571 1155l10-4-8-8-10 4z"/>
<path color=#004fb0 d="M1561 1159l10-4-8-8-10 3z"/>
<path color=#0046a8 d="M1551 1162l10-3-8-9-11 2z"/>
<path color=#003fa0 d="M1540 1164l11-2-9-10-10 2z"/>
<path color=#003b9a d="M1530 1165l10-1-8-10-10 1z"/>
<path color=#003894 d="M1520 1165l10 0-8-10-11 0z"/>
<path color=#003b84 d="M1489 1162l10 2-8-10-11-1z"/>
<path color=#003f7f d="M1478 1159l11 3-9-9-10-2z"/>
<path color=#00447a d="M1468 1155l10 4-8-8-10-3z"/>
<path color=#004a77 d="M1458 1151l10 4-8-7-10-3z"/>
<path color=#005378 d="M1447 1147l11 4-8-6-11-3z"/>
<path color=#006280 d="M1437 1143l10 4-8-5-10-2z"/>
<path color=#007893 d="M1427 1141l10 2-8-3-10-1z"/>
<path color=#0094b0 d="M1416 1140l11 1-8-2-11 1z"/>
<path color=#00a7ca d="M1406 1143l10-3-8 0-10 4z"/>
<path color=#00a4d7 d="M1396 1148l10-5-8 1-10 6z"/>
<path color=#0091db d="M1386 1156l10-8-8 2-11 8z"/>
<path color=#000042 d="M1316 1207l8-4-8 4-9 5z"/>
<path color=#008ca6 d="M1651 1125l11-1-8 1-11-2z"/>
<path color=#00a5c6 d="M1641 1128l10-3-8-2-10 2z"/>
<path color=#00a5d2 d="M1631 1134l10-6-8-3-10 4z"/>
<path color=#0096d4 d="M1621 1140l10-6-8-5-11 6z"/>
<path color=#0081d1 d="M1610 1147l11-7-9-5-10 5z"/>
<path color=#006bcb d="M1600 1153l10-6-8-7-10 6z"/>
<path color=#0057c4 d="M1590 1159l10-6-8-7-11 5z"/>
<path color=#0046bc d="M1579 1164l11-5-9-8-10 4z"/>
<path color=#0039b4 d="M1569 1168l10-4-8-9-10 4z"/>
<path color=#00426b d="M1456 1152l10 6-8-7-11-4z"/>
<path color=#004f70 d="M1445 1147l11 5-9-5-10-4z"/>
<path color=#00637e d="M1435 1144l10 3-8-4-10-2z"/>
<path color=#00819b d="M1425 1142l10 2-8-3-11-1z"/>
<path color=#009fbd d="M1414 1143l11-1-9-2-10 3z"/>
<path color=#00a8d2 d="M1404 1146l10-3-8 0-10 5z"/>
<path color=#009cd9 d="M1394 1153l10-7-8 2-10 8z"/>
<path color=#0085da d="M1383 1160l11-7-8 3-11 8z"/>
<path color=#00024c d="M1332 1198l10-6-8 5-10 6z"/>
<path color=#000049 d="M1324 1201l8-3-8 5-8 4z"/>
<path color=#00404c d="M1670 1124l10 1-8 1-10-2z"/>
<path color=#009ebb d="M1660 1127l10-3-8 0-11 1z"/>
<path color=#00a9d1 d="M1649 1132l11-5-9-2-10 3z"/>
<path color=#009ed7 d="M1639 1138l10-6-8-4-10 6z"/>
<path color=#0089d6 d="M1629 1146l10-8-8-4-10 6z"/>
<path color=#0171d3 d="M1618 1154l11-8-8-6-11 7z"/>
<path color=#0059cf d="M1608 1161l10-7-8-7-10 6z"/>
<path color=#0043c8 d="M1598 1167l10-6-8-8-10 6z"/>
<path color=#00516e d="M1443 1147l10 5-8-5-10-3z"/>
<path color=#006c85 d="M1433 1144l10 3-8-3-10-2z"/>
<path color=#0090aa d="M1423 1143l10 1-8-2-11 1z"/>
<path color=#00a8ca d="M1412 1145l11-2-9 0-10 3z"/>
<path color=#00a5d6 d="M1402 1150l10-5-8 1-10 7z"/>
<path color=#0092d9 d="M1392 1157l10-7-8 3-11 7z"/>
<path color=#00114c d="M1350 1186l11-7-8 6-11 7z"/>
<path color=#000a4c d="M1340 1191l10-5-8 6-10 6z"/>
<path color=#00054c d="M1332 1195l8-4-8 7-8 3z"/>
<path color=#0090aa d="M1678 1126l10-1-8 0-10-1z"/>
<path color=#00a8ca d="M1668 1130l10-4-8-2-10 3z"/>
<path color=#00a5d6 d="M1657 1136l11-6-8-3-11 5z"/>
<path color=#0092d9 d="M1647 1144l10-8-8-4-10 6z"/>
<path color=#017ad9 d="M1637 1152l10-8-8-6-10 8z"/>
<path color=#0260d7 d="M1627 1160l10-8-8-6-11 8z"/>
<path color=#0146d2 d="M1616 1168l11-8-9-6-10 7z"/>
<path color=#005974 d="M1441 1147l10 5-8-5-10-3z"/>
<path color=#007b94 d="M1431 1144l10 3-8-3-10-1z"/>
<path color=#009ebb d="M1420 1145l11-1-8-1-11 2z"/>
<path color=#00a9d1 d="M1410 1149l10-4-8 0-10 5z"/>
<path color=#009ed7 d="M1400 1154l10-5-8 1-10 7z"/>
<path color=#001a4c d="M1359 1180l10-6-8 5-11 7z"/>
<path color=#00134c d="M1348 1185l11-5-9 6-10 5z"/>
<path color=#000f4c d="M1340 1188l8-3-8 6-8 4z"/>
<path color=#00404c d="M1697 1126l10 0-8 1-11-2z"/>
<path color=#009fbd d="M1686 1128l11-2-9-1-10 1z"/>
<path color=#00a8d2 d="M1676 1134l10-6-8-2-10 4z"/>
<path color=#009cd9 d="M1666 1141l10-7-8-4-11 6z"/>
<path color=#0185db d="M1655 1149l11-8-9-5-10 8z"/>
<path color=#036cdc d="M1645 1158l10-9-8-5-10 8z"/>
<path color=#0350db d="M1635 1167l10-9-8-6-10 8z"/>
<path color=#006781 d="M1439 1147l10 4-8-4-10-3z"/>
<path color=#008ca6 d="M1429 1146l10 1-8-3-11 1z"/>
<path color=#00a5c6 d="M1418 1148l11-2-9-1-10 4z"/>
<path color=#00a5d2 d="M1408 1152l10-4-8 1-10 5z"/>
<path color=#0096d4 d="M1398 1157l10-5-8 2-11 7z"/>
<path color=#00224c d="M1367 1173l10-5-8 6-10 6z"/>
<path color=#001d4c d="M1356 1178l11-5-8 7-11 5z"/>
<path color=#00194c d="M1348 1181l8-3-8 7-8 3z"/>
<path color=#003f4c d="M1715 1126l10 1-8 1-10-2z"/>
<path color=#0094b0 d="M1705 1127l10-1-8 0-10 0z"/>
<path color=#00a7ca d="M1694 1131l11-4-8-1-11 2z"/>
<path color=#00a4d7 d="M1684 1138l10-7-8-3-10 6z"/>
<path color=#0091dc d="M1674 1146l10-8-8-4-10 7z"/>
<path color=#0178dd d="M1664 1154l10-8-8-5-11 8z"/>
<path color=#035ddf d="M1653 1163l11-9-9-5-10 9z"/>
<path color=#007992 d="M1437 1148l10 2-8-3-10-1z"/>
<path color=#0099b5 d="M1426 1148l11 0-8-2-11 2z"/>
<path color=#00a5ca d="M1416 1150l10-2-8 0-10 4z"/>
<path color=#009fcf d="M1406 1154l10-4-8 2-10 5z"/>
<path color=#002a4c d="M1375 1167l10-4-8 5-10 5z"/>
<path color=#00264c d="M1365 1171l10-4-8 6-11 5z"/>
<path color=#00234c d="M1356 1173l9-2-9 7-8 3z"/>
<path color=#00a1c0 d="M1713 1130l10-3-8-1-10 1z"/>
<path color=#00a8d3 d="M1703 1135l10-5-8-3-11 4z"/>
<path color=#009ddb d="M1692 1142l11-7-9-4-10 7z"/>
<path color=#0087de d="M1682 1150l10-8-8-4-10 8z"/>
<path color=#016bdf d="M1672 1159l10-9-8-4-10 8z"/>
<path color=#024ee0 d="M1661 1168l11-9-8-5-11 9z"/>
<path color=#006883 d="M1445 1150l10 3-8-3-10-2z"/>
<path color=#0089a3 d="M1435 1149l10 1-8-2-11 0z"/>
<path color=#009ebd d="M1424 1149l11 0-9-1-10 2z"/>
<path color=#00a2c8 d="M1414 1152l10-3-8 1-10 4z"/>
<path color=#00364c d="M1393 1159l11-4-9 4-10 4z"/>
<path color=#00324c d="M1383 1162l10-3-8 4-10 4z"/>
<path color=#002f4c d="M1373 1165l10-3-8 5-10 4z"/>
<path color=#002c4c d="M1365 1167l8-2-8 6-9 2z"/>
<path color=#009bb7 d="M1731 1128l11-2-8 0-11 1z"/>
<path color=#00a7cb d="M1721 1132l10-4-8-1-10 3z"/>
<path color=#00a6d8 d="M1711 1137l10-5-8-2-10 5z"/>
<path color=#0096de d="M1700 1145l11-8-8-2-11 7z"/>
<path color=#007de0 d="M1690 1153l10-8-8-3-10 8z"/>
<path color=#0060e1 d="M1680 1163l10-10-8-3-10 9z"/>
<path color=#007a94 d="M1443 1150l10 2-8-2-10-1z"/>
<path color=#00a0be d="M1422 1151l10-1-8-1-10 3z"/>
<path color=#009fc3 d="M1412 1153l10-2-8 1-10 3z"/>
<path color=#00394c d="M1391 1158l11-3-9 4-10 3z"/>
<path color=#00374c d="M1381 1160l10-2-8 4-10 3z"/>
<path color=#00354c d="M1373 1161l8-1-8 5-8 2z"/>
<path color=#0098b1 d="M1750 1127l10-1-8 0-10 0z"/>
<path color=#00a4c1 d="M1740 1129l10-2-8-1-11 2z"/>
<path color=#00aad1 d="M1729 1134l11-5-9-1-10 4z"/>
<path color=#00a3db d="M1719 1140l10-6-8-2-10 5z"/>
<path color=#0091e0 d="M1709 1147l10-7-8-3-11 8z"/>
<path color=#0077e2 d="M1698 1156l11-9-9-2-10 8z"/>
<path color=#0059e3 d="M1688 1165l10-9-8-3-10 10z"/>
<path color=#009bb4 d="M1430 1151l11-1-9 0-10 1z"/>
<path color=#00a0bc d="M1420 1152l10-1-8 0-10 2z"/>
<path color=#009dbd d="M1410 1154l10-2-8 1-10 2z"/>
<path color=#003e4c d="M1399 1155l11-1-8 1-11 3z"/>
<path color=#003d4c d="M1389 1157l10-2-8 3-10 2z"/>
<path color=#003c4c d="M1381 1157l8 0-8 3-8 1z"/>
<path color=#00404c d="M1810 1125l8 0-9 0-8 1z"/>
<path color=#0097ae d="M1768 1126l11 0-9 0-10 0z"/>
<path color=#00a0b7 d="M1758 1128l10-2-8 0-10 1z"/>
<path color=#00a9c6 d="M1748 1130l10-2-8-1-10 2z"/>
<path color=#00abd4 d="M1737 1135l11-5-8-1-11 5z"/>
<path color=#00a2dd d="M1727 1141l10-6-8-1-10 6z"/>
<path color=#008ee1 d="M1717 1149l10-8-8-1-10 7z"/>
<path color=#0073e3 d="M1706 1158l11-9-8-2-11 9z"/>
<path color=#000051 d="M1583 1221l10 2-8-2-10-1z"/>
<path color=#00002c d="M1572 1219l11 2-8-1-11-3z"/>
<path color=#00859c d="M1449 1151l10 1-8-1-10-1z"/>
<path color=#0097ae d="M1438 1151l11 0-8-1-11 1z"/>
<path color=#009fb7 d="M1428 1152l10-1-8 0-10 1z"/>
<path color=#00a0ba d="M1418 1154l10-2-8 0-10 2z"/>
<path color=#009db9 d="M1408 1155l10-1-8 0-11 1z"/>
<path color=#0099b6 d="M1397 1156l11-1-9 0-10 2z"/>
<path color=#0095b3 d="M1389 1157l8-1-8 1-8 0z"/>
<path color=#0093b0 d="M1818 1128l8-1-8-2-8 0z"/>
<path color=#0091ad d="M1807 1128l11 0-8-3-11 1z"/>
<path color=#0090aa d="M1797 1128l10 0-8-2-10 0z"/>
<path color=#0092aa d="M1787 1128l10 0-8-2-10 0z"/>
<path color=#0097ae d="M1777 1128l10 0-8-2-11 0z"/>
<path color=#00a0b7 d="M1766 1129l11-1-9-2-10 2z"/>
<path color=#00a9c6 d="M1756 1131l10-2-8-1-10 2z"/>
<path color=#00abd4 d="M1746 1135l10-4-8-1-11 5z"/>
<path color=#00a2dd d="M1735 1142l11-7-9 0-10 6z"/>
<path color=#008ee1 d="M1725 1149l10-7-8-1-10 8z"/>
<path color=#0073e3 d="M1715 1158l10-9-8 0-11 9z"/>
<path color=#000028 d="M1591 1222l10 1-8 0-10-2z"/>
<path color=#00002c d="M1581 1219l10 3-8-1-11-2z"/>
<path color=#000031 d="M1570 1215l11 4-9 0-10-4z"/>
<path color=#00859c d="M1457 1152l10 1-8-1-10-1z"/>
<path color=#0097ae d="M1447 1152l10 0-8-1-11 0z"/>
<path color=#009fb7 d="M1436 1154l11-2-9-1-10 1z"/>
<path color=#00a0ba d="M1426 1156l10-2-8-2-10 2z"/>
<path color=#009db9 d="M1416 1157l10-1-8-2-10 1z"/>
<path color=#0099b6 d="M1405 1158l11-1-8-2-11 1z"/>
<path color=#0095b3 d="M1397 1159l8-1-8-2-8 1z"/>
<path color=#0081a4 d="M1826 1133l8 0-8-6-8 1z"/>
<path color=#0081a2 d="M1816 1132l10 1-8-5-11 0z"/>
<path color=#0082a1 d="M1805 1131l11 1-9-4-10 0z"/>
<path color=#0086a1 d="M1795 1131l10 0-8-3-10 0z"/>
<path color=#008da6 d="M1785 1130l10 1-8-3-10 0z"/>
<path color=#0098b1 d="M1774 1130l11 0-8-2-11 1z"/>
<path color=#00a4c1 d="M1764 1132l10-2-8-1-10 2z"/>
<path color=#00aad1 d="M1754 1135l10-3-8-1-10 4z"/>
<path color=#00a3db d="M1743 1141l11-6-8 0-11 7z"/>
<path color=#0091e0 d="M1733 1149l10-8-8 1-10 7z"/>
<path color=#0077e2 d="M1723 1157l10-8-8 0-10 9z"/>
<path color=#000061 d="M1620 1222l10-2-8 2-10 1z"/>
<path color=#000028 d="M1609 1222l11 0-8 1-11 0z"/>
<path color=#00002a d="M1599 1221l10 1-8 1-10-1z"/>
<path color=#00002e d="M1589 1218l10 3-8 1-10-3z"/>
<path color=#003 d="M1579 1214l10 4-8 1-11-4z"/>
<path color=#008aa2 d="M1465 1153l10 0-8 0-10-1z"/>
<path color=#009bb4 d="M1455 1155l10-2-8-1-10 0z"/>
<path color=#00a0bc d="M1444 1157l11-2-8-3-11 2z"/>
<path color=#009dbd d="M1434 1159l10-2-8-3-10 2z"/>
<path color=#0097ba d="M1424 1162l10-3-8-3-10 1z"/>
<path color=#008fb4 d="M1414 1164l10-2-8-5-11 1z"/>
<path color=#008aaf d="M1405 1165l9-1-9-6-8 1z"/>
<path color=#006996 d="M1834 1140l8 0-8-7-8 0z"/>
<path color=#006a94 d="M1824 1138l10 2-8-7-10-1z"/>
<path color=#006d93 d="M1813 1137l11 1-8-6-11-1z"/>
<path color=#007393 d="M1803 1135l10 2-8-6-10 0z"/>
<path color=#007c98 d="M1793 1133l10 2-8-4-10-1z"/>
<path color=#008aa4 d="M1783 1132l10 1-8-3-11 0z"/>
<path color=#009bb7 d="M1772 1133l11-1-9-2-10 2z"/>
<path color=#00a7cb d="M1762 1135l10-2-8-1-10 3z"/>
<path color=#00a6d8 d="M1752 1140l10-5-8 0-11 6z"/>
<path color=#0096de d="M1741 1147l11-7-9 1-10 8z"/>
<path color=#007de0 d="M1731 1156l10-9-8 2-10 8z"/>
<path color=#00002e d="M1638 1218l11-3-9 3-10 2z"/>
<path color=#00002c d="M1628 1219l10-1-8 2-10 2z"/>
<path color=#00002c d="M1618 1220l10-1-8 3-11 0z"/>
<path color=#00002e d="M1607 1218l11 2-9 2-10-1z"/>
<path color=#000031 d="M1597 1216l10 2-8 3-10-3z"/>
<path color=#000036 d="M1587 1212l10 4-8 2-10-4z"/>
<path color=#00003d d="M1576 1207l11 5-8 2-11-5z"/>
<path color=#003f4c d="M1484 1154l10 1-8 1-11-3z"/>
<path color=#0094ae d="M1473 1155l11-1-9-1-10 0z"/>
<path color=#00a0be d="M1463 1158l10-3-8-2-10 2z"/>
<path color=#009fc3 d="M1453 1161l10-3-8-3-11 2z"/>
<path color=#0096c1 d="M1442 1165l11-4-9-4-10 2z"/>
<path color=#008bbb d="M1432 1168l10-3-8-6-10 3z"/>
<path color=#0081b4 d="M1422 1171l10-3-8-6-10 2z"/>
<path color=#0079ad d="M1414 1172l8-1-8-7-9 1z"/>
<path color=#00518c d="M1842 1148l8 1-8-9-8 0z"/>
<path color=#005488 d="M1832 1146l10 2-8-8-10-2z"/>
<path color=#005885 d="M1822 1143l10 3-8-8-11-1z"/>
<path color=#005e84 d="M1811 1140l11 3-9-6-10-2z"/>
<path color=#006787 d="M1801 1137l10 3-8-5-10-2z"/>
<path color=#007692 d="M1791 1135l10 2-8-4-10-1z"/>
<path color=#008ca7 d="M1780 1134l11 1-8-3-11 1z"/>
<path color=#00a1c0 d="M1770 1135l10-1-8-1-10 2z"/>
<path color=#00a8d3 d="M1760 1139l10-4-8 0-10 5z"/>
<path color=#009ddb d="M1749 1145l11-6-8 1-11 7z"/>
<path color=#0086de d="M1739 1153l10-8-8 2-10 9z"/>
<path color=#000036 d="M1657 1212l10-5-8 4-10 4z"/>
<path color=#003 d="M1646 1214l11-2-8 3-11 3z"/>
<path color=#000031 d="M1636 1216l10-2-8 4-10 1z"/>
<path color=#000031 d="M1626 1216l10 0-8 3-10 1z"/>
<path color=#003 d="M1615 1215l11 1-8 4-11-2z"/>
<path color=#000036 d="M1605 1212l10 3-8 3-10-2z"/>
<path color=#00003b d="M1595 1208l10 4-8 4-10-4z"/>
<path color=#000041 d="M1585 1203l10 5-8 4-11-5z"/>
<path color=#0089a3 d="M1492 1155l10 0-8 0-10-1z"/>
<path color=#009ebd d="M1481 1158l11-3-8-1-11 1z"/>
<path color=#00a2c8 d="M1471 1162l10-4-8-3-10 3z"/>
<path color=#0099c9 d="M1461 1166l10-4-8-4-10 3z"/>
<path color=#008bc5 d="M1451 1171l10-5-8-5-11 4z"/>
<path color=#007dbe d="M1440 1175l11-4-9-6-10 3z"/>
<path color=#006fb5 d="M1430 1179l10-4-8-7-10 3z"/>
<path color=#0065ae d="M1422 1181l8-2-8-8-8 1z"/>
<path color=#003c83 d="M1850 1156l8 2-8-9-8-1z"/>
<path color=#003f7f d="M1840 1154l10 2-8-8-10-2z"/>
<path color=#00447a d="M1830 1150l10 4-8-8-10-3z"/>
<path color=#004a77 d="M1819 1146l11 4-8-7-11-3z"/>
<path color=#005378 d="M1809 1142l10 4-8-6-10-3z"/>
<path color=#006280 d="M1799 1138l10 4-8-5-10-2z"/>
<path color=#007893 d="M1789 1135l10 3-8-3-11-1z"/>
<path color=#0094b0 d="M1778 1135l11 0-9-1-10 1z"/>
<path color=#00a7ca d="M1768 1138l10-3-8 0-10 4z"/>
<path color=#00a4d7 d="M1758 1143l10-5-8 1-11 6z"/>
<path color=#0091db d="M1747 1150l11-7-9 2-10 8z"/>
<path color=#000041 d="M1675 1203l10-5-8 4-10 5z"/>
<path color=#00003c d="M1665 1207l10-4-8 4-10 5z"/>
<path color=#000039 d="M1655 1209l10-2-8 5-11 2z"/>
<path color=#000037 d="M1644 1211l11-2-9 5-10 2z"/>
<path color=#000037 d="M1634 1211l10 0-8 5-10 0z"/>
<path color=#000039 d="M1624 1210l10 1-8 5-11-1z"/>
<path color=#00003c d="M1613 1207l11 3-9 5-10-3z"/>
<path color=#000041 d="M1603 1204l10 3-8 5-10-4z"/>
<path color=#000047 d="M1593 1199l10 5-8 4-10-5z"/>
<path color=#0099b5 d="M1500 1157l10-2-8 0-10 0z"/>
<path color=#00a5ca d="M1490 1161l10-4-8-2-11 3z"/>
<path color=#009fcf d="M1479 1167l11-6-9-3-10 4z"/>
<path color=#008fce d="M1469 1172l10-5-8-5-10 4z"/>
<path color=#007dc8 d="M1459 1178l10-6-8-6-10 5z"/>
<path color=#006bc1 d="M1448 1183l11-5-8-7-11 4z"/>
<path color=#005cb8 d="M1438 1187l10-4-8-8-10 4z"/>
<path color=#0050b1 d="M1430 1190l8-3-8-8-8 2z"/>
<path color=#00426b d="M1817 1147l11 5-9-6-10-4z"/>
<path color=#004f70 d="M1807 1142l10 5-8-5-10-4z"/>
<path color=#00637e d="M1797 1138l10 4-8-4-10-3z"/>
<path color=#00819b d="M1786 1136l11 2-8-3-11 0z"/>
<path color=#009fbd d="M1776 1137l10-1-8-1-10 3z"/>
<path color=#00a8d2 d="M1766 1141l10-4-8 1-10 5z"/>
<path color=#009cd9 d="M1755 1147l11-6-8 2-11 7z"/>
<path color=#0085da d="M1745 1155l10-8-8 3-10 9z"/>
<path color=#00024c d="M1694 1192l10-6-8 5-11 7z"/>
<path color=#000049 d="M1683 1197l11-5-9 6-10 5z"/>
<path color=#004 d="M1673 1201l10-4-8 6-10 4z"/>
<path color=#000041 d="M1663 1203l10-2-8 6-10 2z"/>
<path color=#00003f d="M1652 1205l11-2-8 6-11 2z"/>
<path color=#00003f d="M1642 1205l10 0-8 6-10 0z"/>
<path color=#000041 d="M1632 1204l10 1-8 6-10-1z"/>
<path color=#004 d="M1621 1202l11 2-8 6-11-3z"/>
<path color=#000049 d="M1611 1198l10 4-8 5-10-3z"/>
<path color=#00024c d="M1601 1194l10 4-8 6-10-5z"/>
<path color=#008ca6 d="M1518 1156l11 0-8 0-11-1z"/>
<path color=#00a5c6 d="M1508 1160l10-4-8-1-10 2z"/>
<path color=#00a5d2 d="M1498 1165l10-5-8-3-10 4z"/>
<path color=#0096d4 d="M1487 1172l11-7-8-4-11 6z"/>
<path color=#0081d1 d="M1477 1179l10-7-8-5-10 5z"/>
<path color=#006bcb d="M1467 1185l10-6-8-7-10 6z"/>
<path color=#0057c4 d="M1457 1191l10-6-8-7-11 5z"/>
<path color=#0046bc d="M1446 1196l11-5-9-8-10 4z"/>
<path color=#003ab5 d="M1438 1199l8-3-8-9-8 3z"/>
<path color=#00516e d="M1805 1142l10 5-8-5-10-4z"/>
<path color=#006c85 d="M1795 1138l10 4-8-4-11-2z"/>
<path color=#0090aa d="M1784 1138l11 0-9-2-10 1z"/>
<path color=#00a8ca d="M1774 1140l10-2-8-1-10 4z"/>
<path color=#00a5d6 d="M1764 1145l10-5-8 1-11 6z"/>
<path color=#0092d9 d="M1753 1152l11-7-9 2-10 8z"/>
<path color=#00054c d="M1692 1191l10-5-8 6-11 5z"/>
<path color=#00014c d="M1681 1194l11-3-9 6-10 4z"/>
<path color=#00004a d="M1671 1197l10-3-8 7-10 2z"/>
<path color=#000049 d="M1661 1198l10-1-8 6-11 2z"/>
<path color=#000049 d="M1650 1198l11 0-9 7-10 0z"/>
<path color=#00004a d="M1640 1197l10 1-8 7-10-1z"/>
<path color=#00014c d="M1630 1195l10 2-8 7-11-2z"/>
<path color=#00054c d="M1619 1192l11 3-9 7-10-4z"/>
<path color=#000a4c d="M1609 1188l10 4-8 6-10-4z"/>
<path color=#00404c d="M1537 1156l10 1-8 1-10-2z"/>
<path color=#009ebb d="M1527 1159l10-3-8 0-11 0z"/>
<path color=#00a9d1 d="M1516 1164l11-5-9-3-10 4z"/>
<path color=#009ed7 d="M1506 1170l10-6-8-4-10 5z"/>
<path color=#0089d6 d="M1496 1178l10-8-8-5-11 7z"/>
<path color=#0171d4 d="M1485 1185l11-7-9-6-10 7z"/>
<path color=#0159cf d="M1475 1193l10-8-8-6-10 6z"/>
<path color=#0043c8 d="M1465 1199l10-6-8-8-10 6z"/>
<path color=#0031c1 d="M1454 1205l11-6-8-8-11 5z"/>
<path color=#0024b9 d="M1446 1208l8-3-8-9-8 3z"/>
<path color=#005974 d="M1803 1142l10 4-8-4-10-4z"/>
<path color=#007b94 d="M1792 1139l11 3-8-4-11 0z"/>
<path color=#009ebb d="M1782 1140l10-1-8-1-10 2z"/>
<path color=#00a9d1 d="M1772 1143l10-3-8 0-10 5z"/>
<path color=#009ed7 d="M1762 1149l10-6-8 2-11 7z"/>
<path color=#000e4c d="M1700 1184l10-5-8 7-10 5z"/>
<path color=#000a4c d="M1689 1187l11-3-8 7-11 3z"/>
<path color=#00084c d="M1679 1189l10-2-8 7-10 3z"/>
<path color=#00074c d="M1669 1190l10-1-8 8-10 1z"/>
<path color=#00074c d="M1658 1191l11-1-8 8-11 0z"/>
<path color=#00084c d="M1648 1190l10 1-8 7-10-1z"/>
<path color=#000a4c d="M1638 1188l10 2-8 7-10-2z"/>
<path color=#000e4c d="M1628 1186l10 2-8 7-11-3z"/>
<path color=#00134c d="M1617 1182l11 4-9 6-10-4z"/>
<path color=#0090aa d="M1545 1158l10-1-8 0-10-1z"/>
<path color=#00a8ca d="M1535 1162l10-4-8-2-10 3z"/>
<path color=#00a5d6 d="M1524 1168l11-6-8-3-11 5z"/>
<path color=#0092d9 d="M1514 1176l10-8-8-4-10 6z"/>
<path color=#027bda d="M1504 1184l10-8-8-6-10 8z"/>
<path color=#0362d8 d="M1494 1192l10-8-8-6-11 7z"/>
<path color=#0347d4 d="M1483 1200l11-8-9-7-10 8z"/>
<path color=#012fcd d="M1473 1207l10-7-8-7-10 6z"/>
<path color=#001bc5 d="M1463 1213l10-6-8-8-11 6z"/>
<path color=#000dbe d="M1454 1217l9-4-9-8-8 3z"/>
<path color=#006781 d="M1801 1142l10 3-8-3-11-3z"/>
<path color=#008ca6 d="M1790 1141l11 1-9-3-10 1z"/>
<path color=#00a5c6 d="M1780 1142l10-1-8-1-10 3z"/>
<path color=#00a5d2 d="M1770 1146l10-4-8 1-10 6z"/>
<path color=#0096d4 d="M1759 1152l11-6-8 3-11 6z"/>
<path color=#00134c d="M1687 1181l11-2-9 8-10 2z"/>
<path color=#00124c d="M1677 1182l10-1-8 8-10 1z"/>
<path color=#00124c d="M1667 1182l10 0-8 8-11 1z"/>
<path color=#00134c d="M1656 1182l11 0-9 9-10-1z"/>
<path color=#00154c d="M1646 1181l10 1-8 8-10-2z"/>
<path color=#00184c d="M1636 1179l10 2-8 7-10-2z"/>
<path color=#001d4c d="M1625 1176l11 3-8 7-11-4z"/>
<path color=#00404c d="M1564 1158l10 0-8 1-11-2z"/>
<path color=#009fbd d="M1553 1160l11-2-9-1-10 1z"/>
<path color=#00a8d2 d="M1543 1165l10-5-8-2-10 4z"/>
<path color=#009cd9 d="M1533 1173l10-8-8-3-11 6z"/>
<path color=#0186db d="M1522 1181l11-8-9-5-10 8z"/>
<path color=#046ddd d="M1512 1190l10-9-8-5-10 8z"/>
<path color=#0552dd d="M1502 1198l10-8-8-6-10 8z"/>
<path color=#0436d8 d="M1491 1207l11-9-8-6-11 8z"/>
<path color=#021bd2 d="M1481 1214l10-7-8-7-10 7z"/>
<path color=#0006cb d="M1471 1220l10-6-8-7-10 6z"/>
<path color=#0000bc d="M1463 1224l8-4-8-7-9 4z"/>
<path color=#007992 d="M1798 1142l11 3-8-3-11-1z"/>
<path color=#0099b5 d="M1788 1142l10 0-8-1-10 1z"/>
<path color=#00a5ca d="M1778 1145l10-3-8 0-10 4z"/>
<path color=#009fcf d="M1768 1149l10-4-8 1-11 6z"/>
<path color=#001d4c d="M1685 1174l10-1-8 8-10 1z"/>
<path color=#001d4c d="M1675 1174l10 0-8 8-10 0z"/>
<path color=#001e4c d="M1664 1174l11 0-8 8-11 0z"/>
<path color=#00204c d="M1654 1173l10 1-8 8-10-1z"/>
<path color=#00224c d="M1644 1172l10 1-8 8-10-2z"/>
<path color=#00264c d="M1634 1170l10 2-8 7-11-3z"/>
<path color=#0094b0 d="M1572 1159l10-1-8 0-10 0z"/>
<path color=#00a7ca d="M1561 1163l11-4-8-1-11 2z"/>
<path color=#00a4d7 d="M1551 1170l10-7-8-3-10 5z"/>
<path color=#0091dc d="M1541 1177l10-7-8-5-10 8z"/>
<path color=#0279de d="M1530 1186l11-9-8-4-11 8z"/>
<path color=#045ee0 d="M1520 1195l10-9-8-5-10 9z"/>
<path color=#0541df d="M1510 1204l10-9-8-5-10 8z"/>
<path color=#0424db d="M1500 1212l10-8-8-6-11 9z"/>
<path color=#0209d6 d="M1489 1220l11-8-9-5-10 7z"/>
<path color=#0000c2 d="M1479 1226l10-6-8-6-10 6z"/>
<path color=#0000ad d="M1471 1231l8-5-8-6-8 4z"/>
<path color=#00064c d="M1868 1183l11 7-8-5-11-7z"/>
<path color=#00104c d="M1858 1175l10 8-8-5-10-7z"/>
<path color=#006883 d="M1807 1144l10 4-8-3-11-3z"/>
<path color=#0089a3 d="M1796 1143l11 1-9-2-10 0z"/>
<path color=#009ebd d="M1786 1144l10-1-8-1-10 3z"/>
<path color=#00a2c8 d="M1776 1147l10-3-8 1-10 4z"/>
<path color=#00294c d="M1673 1167l10 0-8 7-11 0z"/>
<path color=#002a4c d="M1662 1167l11 0-9 7-10-1z"/>
<path color=#002c4c d="M1652 1166l10 1-8 6-10-1z"/>
<path color=#002f4c d="M1642 1165l10 1-8 6-10-2z"/>
<path color=#00404c d="M1590 1159l10-1-8 1-10-1z"/>
<path color=#00a1c0 d="M1580 1161l10-2-8-1-10 1z"/>
<path color=#00a8d3 d="M1570 1166l10-5-8-2-11 4z"/>
<path color=#009ddb d="M1559 1173l11-7-9-3-10 7z"/>
<path color=#0087de d="M1549 1182l10-9-8-3-10 7z"/>
<path color=#016ce0 d="M1539 1191l10-9-8-5-11 9z"/>
<path color=#034ee1 d="M1528 1200l11-9-9-5-10 9z"/>
<path color=#0330e0 d="M1518 1209l10-9-8-5-10 9z"/>
<path color=#0213dd d="M1508 1218l10-9-8-5-10 8z"/>
<path color=#0101d0 d="M1497 1225l11-7-8-6-11 8z"/>
<path color=#0000b6 d="M1487 1232l10-7-8-5-10 6z"/>
<path color=#0000a1 d="M1479 1236l8-4-8-6-8 5z"/>
<path color=#000045 d="M1887 1194l10 6-8-4-10-6z"/>
<path color=#00014c d="M1877 1187l10 7-8-4-11-7z"/>
<path color=#000b4c d="M1866 1179l11 8-9-4-10-8z"/>
<path color=#00164c d="M1856 1171l10 8-8-4-10-7z"/>
<path color=#007a94 d="M1805 1144l10 3-8-3-11-1z"/>
<path color=#00a0be d="M1784 1146l10-2-8 0-10 3z"/>
<path color=#009fc3 d="M1774 1148l10-2-8 1-11 3z"/>
<path color=#00404c d="M1609 1158l10 0-8 1-11-1z"/>
<path color=#009bb7 d="M1598 1160l11-2-9 0-10 1z"/>
<path color=#00a7cb d="M1588 1164l10-4-8-1-10 2z"/>
<path color=#00a6d8 d="M1578 1169l10-5-8-3-10 5z"/>
<path color=#0096de d="M1567 1177l11-8-8-3-11 7z"/>
<path color=#007de0 d="M1557 1185l10-8-8-4-10 9z"/>
<path color=#0060e1 d="M1547 1195l10-10-8-3-10 9z"/>
<path color=#0141e1 d="M1536 1204l11-9-8-4-11 9z"/>
<path color=#0122e1 d="M1526 1213l10-9-8-4-10 9z"/>
<path color=#0004df d="M1516 1222l10-9-8-4-10 9z"/>
<path color=#0000c6 d="M1506 1229l10-7-8-4-11 7z"/>
<path color=#0000ac d="M1495 1236l11-7-9-4-10 7z"/>
<path color=#000098 d="M1487 1240l8-4-8-4-8 4z"/>
<path color=#003 d="M1916 1208l8 3-8-3-8-3z"/>
<path color=#000039 d="M1905 1203l11 5-8-3-11-5z"/>
<path color=#000041 d="M1895 1197l10 6-8-3-10-6z"/>
<path color=#00004b d="M1885 1190l10 7-8-3-10-7z"/>
<path color=#00084c d="M1875 1182l10 8-8-3-11-8z"/>
<path color=#00134c d="M1864 1174l11 8-9-3-10-8z"/>
<path color=#001e4c d="M1854 1166l10 8-8-3-10-7z"/>
<path color=#009bb4 d="M1792 1145l10 0-8-1-10 2z"/>
<path color=#00a0bc d="M1782 1147l10-2-8 1-10 2z"/>
<path color=#009dbd d="M1771 1148l11-1-8 1-11 2z"/>
<path color=#003e4c d="M1761 1150l10-2-8 2-10 3z"/>
<path color=#0098b1 d="M1617 1159l10-1-8 0-10 0z"/>
<path color=#00a4c1 d="M1607 1161l10-2-8-1-11 2z"/>
<path color=#00aad1 d="M1596 1165l11-4-9-1-10 4z"/>
<path color=#00a3db d="M1586 1172l10-7-8-1-10 5z"/>
<path color=#0091e0 d="M1576 1179l10-7-8-3-11 8z"/>
<path color=#0077e2 d="M1565 1188l11-9-9-2-10 8z"/>
<path color=#0059e3 d="M1555 1197l10-9-8-3-10 10z"/>
<path color=#0039e3 d="M1545 1207l10-10-8-2-11 9z"/>
<path color=#0019e3 d="M1534 1216l11-9-9-3-10 9z"/>
<path color=#0000dc d="M1524 1224l10-8-8-3-10 9z"/>
<path color=#0000bf d="M1514 1232l10-8-8-2-10 7z"/>
<path color=#0000a5 d="M1503 1239l11-7-8-3-11 7z"/>
<path color=#000091 d="M1495 1243l8-4-8-3-8 4z"/>
<path color=#000032 d="M1924 1210l8 3-8-2-8-3z"/>
<path color=#000038 d="M1914 1204l10 6-8-2-11-5z"/>
<path color=#000040 d="M1903 1198l11 6-9-1-10-6z"/>
<path color=#000049 d="M1893 1191l10 7-8-1-10-7z"/>
<path color=#00074c d="M1883 1183l10 8-8-1-10-8z"/>
<path color=#00124c d="M1872 1176l11 7-8-1-11-8z"/>
<path color=#001c4c d="M1862 1168l10 8-8-2-10-8z"/>
<path color=#00859c d="M1811 1146l10 1-8-1-11-1z"/>
<path color=#009fb7 d="M1790 1147l10-1-8-1-10 2z"/>
<path color=#00a0ba d="M1780 1148l10-1-8 0-11 1z"/>
<path color=#009db9 d="M1769 1150l11-2-9 0-10 2z"/>
<path color=#0099b6 d="M1759 1151l10-1-8 0-10 1z"/>
<path color=#0095b3 d="M1749 1152l10-1-8 0-10 1z"/>
<path color=#00404c d="M1738 1152l11 0-8 0-11 1z"/>
<path color=#00404c d="M1718 1154l10-1-8 1-10 1z"/>
<path color=#00404c d="M1707 1154l11 0-8 1-11 0z"/>
<path color=#00404c d="M1697 1155l10-1-8 1-10 1z"/>
<path color=#00404c d="M1687 1156l10-1-8 1-10 1z"/>
<path color=#00404c d="M1666 1157l11 0-9 0-10 1z"/>
<path color=#0097ae d="M1635 1158l11 0-9-1-10 1z"/>
<path color=#00a0b7 d="M1625 1159l10-1-8 0-10 1z"/>
<path color=#00a9c6 d="M1615 1162l10-3-8 0-10 2z"/>
<path color=#00abd4 d="M1604 1167l11-5-8-1-11 4z"/>
<path color=#00a2dd d="M1594 1173l10-6-8-2-10 7z"/>
<path color=#008ee1 d="M1584 1181l10-8-8-1-10 7z"/>
<path color=#0073e3 d="M1573 1189l11-8-8-2-11 9z"/>
<path color=#0055e4 d="M1563 1199l10-10-8-1-10 9z"/>
<path color=#0034e4 d="M1553 1208l10-9-8-2-10 10z"/>
<path color=#0014e4 d="M1543 1217l10-9-8-1-11 9z"/>
<path color=#0000d9 d="M1532 1226l11-9-9-1-10 8z"/>
<path color=#0000bc d="M1522 1234l10-8-8-2-10 8z"/>
<path color=#0000a2 d="M1512 1241l10-7-8-2-11 7z"/>
<path color=#00008e d="M1503 1245l9-4-9-2-8 4z"/>
<path color=#000032 d="M1932 1210l8 3-8 0-8-3z"/>
<path color=#000038 d="M1922 1205l10 5-8 0-10-6z"/>
<path color=#000040 d="M1911 1198l11 7-8-1-11-6z"/>
<path color=#000049 d="M1901 1191l10 7-8 0-10-7z"/>
<path color=#00074c d="M1891 1184l10 7-8 0-10-8z"/>
<path color=#00124c d="M1881 1176l10 8-8-1-11-7z"/>
<path color=#001c4c d="M1870 1168l11 8-9 0-10-8z"/>
<path color=#00274c d="M1860 1161l10 7-8 0-10-7z"/>
<path color=#00859c d="M1819 1147l10 1-8-1-10-1z"/>
<path color=#0097ae d="M1808 1147l11 0-8-1-11 0z"/>
<path color=#009fb7 d="M1798 1149l10-2-8-1-10 1z"/>
<path color=#00a0ba d="M1788 1150l10-1-8-2-10 1z"/>
<path color=#009db9 d="M1777 1152l11-2-8-2-11 2z"/>
<path color=#0099b6 d="M1767 1153l10-1-8-2-10 1z"/>
<path color=#0095b3 d="M1757 1154l10-1-8-2-10 1z"/>
<path color=#0093b0 d="M1747 1155l10-1-8-2-11 0z"/>
<path color=#0093af d="M1736 1156l11-1-9-3-10 1z"/>
<path color=#0093b0 d="M1726 1157l10-1-8-3-10 1z"/>
<path color=#0095b1 d="M1716 1157l10 0-8-3-11 0z"/>
<path color=#0095b2 d="M1705 1158l11-1-9-3-10 1z"/>
<path color=#0094b2 d="M1695 1159l10-1-8-3-10 1z"/>
<path color=#0093b0 d="M1685 1159l10 0-8-3-10 1z"/>
<path color=#0091ad d="M1674 1160l11-1-8-2-11 0z"/>
<path color=#0090aa d="M1664 1160l10 0-8-3-10 1z"/>
<path color=#0092aa d="M1654 1159l10 1-8-2-10 0z"/>
<path color=#0097ae d="M1643 1160l11-1-8-1-11 0z"/>
<path color=#00a0b7 d="M1633 1161l10-1-8-2-10 1z"/>
<path color=#00a9c6 d="M1623 1163l10-2-8-2-10 3z"/>
<path color=#00abd4 d="M1613 1167l10-4-8-1-11 5z"/>
<path color=#00a2dd d="M1602 1173l11-6-9 0-10 6z"/>
<path color=#008ee1 d="M1592 1181l10-8-8 0-10 8z"/>
<path color=#0073e3 d="M1582 1190l10-9-8 0-11 8z"/>
<path color=#0055e4 d="M1571 1199l11-9-9-1-10 10z"/>
<path color=#0034e4 d="M1561 1209l10-10-8 0-10 9z"/>
<path color=#0014e4 d="M1551 1218l10-9-8-1-10 9z"/>
<path color=#0000d9 d="M1540 1226l11-8-8-1-11 9z"/>
<path color=#0000bc d="M1530 1234l10-8-8 0-10 8z"/>
<path color=#0000a2 d="M1520 1241l10-7-8 0-10 7z"/>
<path color=#00008e d="M1512 1245l8-4-8 0-9 4z"/>
<path color=#003 d="M1940 1209l8 3-8 1-8-3z"/>
<path color=#000039 d="M1930 1204l10 5-8 1-10-5z"/>
<path color=#000041 d="M1920 1198l10 6-8 1-11-7z"/>
<path color=#00004b d="M1909 1191l11 7-9 0-10-7z"/>
<path color=#00084c d="M1899 1183l10 8-8 0-10-7z"/>
<path color=#00134c d="M1889 1175l10 8-8 1-10-8z"/>
<path color=#001e4c d="M1878 1167l11 8-8 1-11-8z"/>
<path color=#00284c d="M1868 1160l10 7-8 1-10-7z"/>
<path color=#008aa2 d="M1827 1148l10 0-8 0-10-1z"/>
<path color=#009bb4 d="M1817 1149l10-1-8-1-11 0z"/>
<path color=#00a0bc d="M1806 1152l11-3-9-2-10 2z"/>
<path color=#009dbd d="M1796 1154l10-2-8-3-10 1z"/>
<path color=#0097ba d="M1786 1156l10-2-8-4-11 2z"/>
<path color=#008fb4 d="M1775 1158l11-2-9-4-10 1z"/>
<path color=#0089af d="M1765 1160l10-2-8-5-10 1z"/>
<path color=#0084aa d="M1755 1161l10-1-8-6-10 1z"/>
<path color=#0082a7 d="M1744 1162l11-1-8-6-11 1z"/>
<path color=#0081a6 d="M1734 1163l10-1-8-6-10 1z"/>
<path color=#0080a6 d="M1724 1164l10-1-8-6-10 0z"/>
<path color=#0080a6 d="M1713 1164l11 0-8-7-11 1z"/>
<path color=#0081a5 d="M1703 1165l10-1-8-6-10 1z"/>
<path color=#0081a4 d="M1693 1164l10 1-8-6-10 0z"/>
<path color=#0081a2 d="M1683 1164l10 0-8-5-11 1z"/>
<path color=#0082a1 d="M1672 1163l11 1-9-4-10 0z"/>
<path color=#0086a1 d="M1662 1162l10 1-8-3-10-1z"/>
<path color=#008da6 d="M1652 1162l10 0-8-3-11 1z"/>
<path color=#0098b1 d="M1641 1162l11 0-9-2-10 1z"/>
<path color=#00a4c1 d="M1631 1164l10-2-8-1-10 2z"/>
<path color=#00aad1 d="M1621 1167l10-3-8-1-10 4z"/>
<path color=#00a3db d="M1610 1173l11-6-8 0-11 6z"/>
<path color=#0091e0 d="M1600 1181l10-8-8 0-10 8z"/>
<path color=#0077e2 d="M1590 1189l10-8-8 0-10 9z"/>
<path color=#0058e3 d="M1579 1198l11-9-8 1-11 9z"/>
<path color=#0039e3 d="M1569 1208l10-10-8 1-10 10z"/>
<path color=#0019e3 d="M1559 1217l10-9-8 1-10 9z"/>
<path color=#0000dc d="M1549 1225l10-8-8 1-11 8z"/>
<path color=#0000bf d="M1538 1233l11-8-9 1-10 8z"/>
<path color=#0000a5 d="M1528 1240l10-7-8 1-10 7z"/>
<path color=#000091 d="M1520 1244l8-4-8 1-8 4z"/>
<path color=#000037 d="M1948 1207l9 3-9 2-8-3z"/>
<path color=#00003d d="M1938 1201l10 6-8 2-10-5z"/>
<path color=#000045 d="M1928 1195l10 6-8 3-10-6z"/>
<path color=#00014c d="M1918 1189l10 6-8 3-11-7z"/>
<path color=#000b4c d="M1907 1181l11 8-9 2-10-8z"/>
<path color=#00164c d="M1897 1173l10 8-8 2-10-8z"/>
<path color=#00214c d="M1887 1166l10 7-8 2-11-8z"/>
<path color=#002b4c d="M1876 1159l11 7-9 1-10-7z"/>
<path color=#0094ae d="M1835 1150l10-1-8-1-10 0z"/>
<path color=#00a0be d="M1825 1152l10-2-8-2-10 1z"/>
<path color=#009fc3 d="M1814 1156l11-4-8-3-11 3z"/>
<path color=#0096c1 d="M1804 1159l10-3-8-4-10 2z"/>
<path color=#008bbb d="M1794 1163l10-4-8-5-10 2z"/>
<path color=#0081b4 d="M1783 1165l11-2-8-7-11 2z"/>
<path color=#0078ac d="M1773 1168l10-3-8-7-10 2z"/>
<path color=#0071a6 d="M1763 1169l10-1-8-8-10 1z"/>
<path color=#006ca1 d="M1753 1171l10-2-8-8-11 1z"/>
<path color=#00699e d="M1742 1172l11-1-9-9-10 1z"/>
<path color=#00689c d="M1732 1172l10 0-8-9-10 1z"/>
<path color=#00679a d="M1722 1172l10 0-8-8-11 0z"/>
<path color=#006899 d="M1711 1172l11 0-9-8-10 1z"/>
<path color=#006997 d="M1701 1171l10 1-8-7-10-1z"/>
<path color=#006a94 d="M1691 1170l10 1-8-7-10 0z"/>
<path color=#006d93 d="M1680 1169l11 1-8-6-11-1z"/>
<path color=#007393 d="M1670 1167l10 2-8-6-10-1z"/>
<path color=#007c98 d="M1660 1165l10 2-8-5-10 0z"/>
<path color=#008aa4 d="M1649 1164l11 1-8-3-11 0z"/>
<path color=#009bb7 d="M1639 1164l10 0-8-2-10 2z"/>
<path color=#00a7cb d="M1629 1167l10-3-8 0-10 3z"/>
<path color=#00a6d8 d="M1619 1172l10-5-8 0-11 6z"/>
<path color=#0096de d="M1608 1179l11-7-9 1-10 8z"/>
<path color=#007de0 d="M1598 1187l10-8-8 2-10 8z"/>
<path color=#0060e1 d="M1588 1197l10-10-8 2-11 9z"/>
<path color=#0041e1 d="M1577 1206l11-9-9 1-10 10z"/>
<path color=#0021e0 d="M1567 1215l10-9-8 2-10 9z"/>
<path color=#0004df d="M1557 1223l10-8-8 2-10 8z"/>
<path color=#0000c6 d="M1546 1231l11-8-8 2-11 8z"/>
<path color=#0000ac d="M1536 1237l10-6-8 2-10 7z"/>
<path color=#000098 d="M1528 1242l8-5-8 3-8 4z"/>
<path color=#00003c d="M1957 1203l8 3-8 4-9-3z"/>
<path color=#000041 d="M1946 1198l11 5-9 4-10-6z"/>
<path color=#000049 d="M1936 1192l10 6-8 3-10-6z"/>
<path color=#00064c d="M1926 1185l10 7-8 3-10-6z"/>
<path color=#00104c d="M1915 1178l11 7-8 4-11-8z"/>
<path color=#001a4c d="M1905 1171l10 7-8 3-10-8z"/>
<path color=#00254c d="M1895 1163l10 8-8 2-10-7z"/>
<path color=#002e4c d="M1884 1157l11 6-8 3-11-7z"/>
<path color=#00374c d="M1874 1152l10 5-8 2-10-5z"/>
<path color=#0089a3 d="M1854 1150l10 0-8 0-11-1z"/>
<path color=#009ebd d="M1843 1153l11-3-9-1-10 1z"/>
<path color=#00a2c8 d="M1833 1156l10-3-8-3-10 2z"/>
<path color=#0099c9 d="M1823 1161l10-5-8-4-11 4z"/>
<path color=#008bc5 d="M1812 1166l11-5-9-5-10 3z"/>
<path color=#007dbe d="M1802 1170l10-4-8-7-10 4z"/>
<path color=#006fb5 d="M1792 1173l10-3-8-7-11 2z"/>
<path color=#0064ad d="M1781 1176l11-3-9-8-10 3z"/>
<path color=#005ca6 d="M1771 1179l10-3-8-8-10 1z"/>
<path color=#00569f d="M1761 1180l10-1-8-10-10 2z"/>
<path color=#00529a d="M1750 1181l11-1-8-9-11 1z"/>
<path color=#005096 d="M1740 1182l10-1-8-9-10 0z"/>
<path color=#004f93 d="M1730 1182l10 0-8-10-10 0z"/>
<path color=#004f8f d="M1720 1181l10 1-8-10-11 0z"/>
<path color=#00518c d="M1709 1180l11 1-9-9-10-1z"/>
<path color=#005488 d="M1699 1178l10 2-8-9-10-1z"/>
<path color=#005885 d="M1689 1175l10 3-8-8-11-1z"/>
<path color=#005e84 d="M1678 1172l11 3-9-6-10-2z"/>
<path color=#006787 d="M1668 1169l10 3-8-5-10-2z"/>
<path color=#007692 d="M1658 1166l10 3-8-4-11-1z"/>
<path color=#008ca7 d="M1647 1166l11 0-9-2-10 0z"/>
<path color=#00a1c0 d="M1637 1167l10-1-8-2-10 3z"/>
<path color=#00a8d3 d="M1627 1171l10-4-8 0-10 5z"/>
<path color=#009ddb d="M1616 1177l11-6-8 1-11 7z"/>
<path color=#0086de d="M1606 1185l10-8-8 2-10 8z"/>
<path color=#006ade d="M1596 1194l10-9-8 2-10 10z"/>
<path color=#004cde d="M1585 1203l11-9-8 3-11 9z"/>
<path color=#002ddd d="M1575 1212l10-9-8 3-10 9z"/>
<path color=#0011db d="M1565 1220l10-8-8 3-10 8z"/>
<path color=#0000cf d="M1555 1228l10-8-8 3-11 8z"/>
<path color=#0000b6 d="M1544 1234l11-6-9 3-10 6z"/>
<path color=#0000a1 d="M1536 1238l8-4-8 3-8 5z"/>
<path color=#000042 d="M1965 1199l8 3-8 4-8-3z"/>
<path color=#000047 d="M1954 1194l11 5-8 4-11-5z"/>
<path color=#00034c d="M1944 1188l10 6-8 4-10-6z"/>
<path color=#000b4c d="M1934 1182l10 6-8 4-10-7z"/>
<path color=#00154c d="M1924 1175l10 7-8 3-11-7z"/>
<path color=#001f4c d="M1913 1167l11 8-9 3-10-7z"/>
<path color=#00294c d="M1903 1161l10 6-8 4-10-8z"/>
<path color=#00334c d="M1893 1155l10 6-8 2-11-6z"/>
<path color=#003a4c d="M1882 1151l11 4-9 2-10-5z"/>
<path color=#003f4c d="M1872 1150l10 1-8 1-10-2z"/>
<path color=#0099b5 d="M1862 1152l10-2-8 0-10 0z"/>
<path color=#00a5ca d="M1851 1156l11-4-8-2-11 3z"/>
<path color=#009fcf d="M1841 1161l10-5-8-3-10 3z"/>
<path color=#008fce d="M1831 1167l10-6-8-5-10 5z"/>
<path color=#007dc8 d="M1820 1173l11-6-8-6-11 5z"/>
<path color=#006bc1 d="M1810 1178l10-5-8-7-10 4z"/>
<path color=#005cb8 d="M1800 1182l10-4-8-8-10 3z"/>
<path color=#004fb0 d="M1790 1186l10-4-8-9-11 3z"/>
<path color=#0046a8 d="M1779 1188l11-2-9-10-10 3z"/>
<path color=#003fa0 d="M1769 1190l10-2-8-9-10 1z"/>
<path color=#003b9a d="M1759 1192l10-2-8-10-11 1z"/>
<path color=#003894 d="M1748 1192l11 0-9-11-10 1z"/>
<path color=#00388f d="M1738 1192l10 0-8-10-10 0z"/>
<path color=#003989 d="M1728 1190l10 2-8-10-10-1z"/>
<path color=#003b84 d="M1717 1188l11 2-8-9-11-1z"/>
<path color=#003f7f d="M1707 1185l10 3-8-8-10-2z"/>
<path color=#00447a d="M1697 1182l10 3-8-7-10-3z"/>
<path color=#004a77 d="M1686 1178l11 4-8-7-11-3z"/>
<path color=#005378 d="M1676 1174l10 4-8-6-10-3z"/>
<path color=#006280 d="M1666 1170l10 4-8-5-10-3z"/>
<path color=#007893 d="M1656 1167l10 3-8-4-11 0z"/>
<path color=#0094b0 d="M1645 1167l11 0-9-1-10 1z"/>
<path color=#00a7ca d="M1635 1170l10-3-8 0-10 4z"/>
<path color=#00a4d7 d="M1625 1175l10-5-8 1-11 6z"/>
<path color=#0091db d="M1614 1182l11-7-9 2-10 8z"/>
<path color=#0077dc d="M1604 1191l10-9-8 3-10 9z"/>
<path color=#005adc d="M1594 1199l10-8-8 3-11 9z"/>
<path color=#003cda d="M1583 1208l11-9-9 4-10 9z"/>
<path color=#0020d8 d="M1573 1216l10-8-8 4-10 8z"/>
<path color=#000042 d="M1544 1234l8-4-8 4-8 4z"/>
<path color=#000049 d="M1973 1193l8 3-8 6-8-3z"/>
<path color=#00024c d="M1963 1189l10 4-8 6-11-5z"/>
<path color=#000a4c d="M1952 1183l11 6-9 5-10-6z"/>
<path color=#00124c d="M1942 1177l10 6-8 5-10-6z"/>
<path color=#001b4c d="M1932 1171l10 6-8 5-10-7z"/>
<path color=#00254c d="M1921 1164l11 7-8 4-11-8z"/>
<path color=#002e4c d="M1911 1158l10 6-8 3-10-6z"/>
<path color=#00374c d="M1901 1153l10 5-8 3-10-6z"/>
<path color=#003d4c d="M1890 1151l11 2-8 2-11-4z"/>
<path color=#008ca6 d="M1880 1151l10 0-8 0-10-1z"/>
<path color=#00a5c6 d="M1870 1155l10-4-8-1-10 2z"/>
<path color=#00a5d2 d="M1860 1160l10-5-8-3-11 4z"/>
<path color=#0096d4 d="M1849 1167l11-7-9-4-10 5z"/>
<path color=#0081d1 d="M1839 1174l10-7-8-6-10 6z"/>
<path color=#006bcb d="M1829 1180l10-6-8-7-11 6z"/>
<path color=#0057c4 d="M1818 1186l11-6-9-7-10 5z"/>
<path color=#0046bc d="M1808 1191l10-5-8-8-10 4z"/>
<path color=#0039b4 d="M1798 1195l10-4-8-9-10 4z"/>
<path color=#002fab d="M1787 1198l11-3-8-9-11 2z"/>
<path color=#0028a3 d="M1777 1200l10-2-8-10-10 2z"/>
<path color=#00249b d="M1767 1202l10-2-8-10-10 2z"/>
<path color=#002294 d="M1756 1202l11 0-8-10-11 0z"/>
<path color=#00228d d="M1746 1201l10 1-8-10-10 0z"/>
<path color=#002586 d="M1736 1200l10 1-8-9-10-2z"/>
<path color=#00287e d="M1726 1197l10 3-8-10-11-2z"/>
<path color=#002d77 d="M1715 1194l11 3-9-9-10-3z"/>
<path color=#003271 d="M1705 1189l10 5-8-9-10-3z"/>
<path color=#00396c d="M1695 1184l10 5-8-7-11-4z"/>
<path color=#00426b d="M1684 1179l11 5-9-6-10-4z"/>
<path color=#004f70 d="M1674 1174l10 5-8-5-10-4z"/>
<path color=#00637e d="M1664 1170l10 4-8-4-10-3z"/>
<path color=#00819b d="M1653 1168l11 2-8-3-11 0z"/>
<path color=#009fbd d="M1643 1169l10-1-8-1-10 3z"/>
<path color=#00a8d2 d="M1633 1173l10-4-8 1-10 5z"/>
<path color=#009cd9 d="M1622 1179l11-6-8 2-11 7z"/>
<path color=#0085da d="M1612 1187l10-8-8 3-10 9z"/>
<path color=#0069d9 d="M1602 1195l10-8-8 4-10 8z"/>
<path color=#004dd7 d="M1592 1204l10-9-8 4-11 9z"/>
<path color=#0032d4 d="M1581 1211l11-7-9 4-10 8z"/>
<path color=#00024c d="M1561 1224l10-6-8 5-11 7z"/>
<path color=#000049 d="M1553 1228l8-4-9 6-8 4z"/>
<path color=#00054c d="M1981 1187l8 3-8 6-8-3z"/>
<path color=#000a4c d="M1971 1183l10 4-8 6-10-4z"/>
<path color=#00114c d="M1960 1178l11 5-8 6-11-6z"/>
<path color=#00194c d="M1950 1172l10 6-8 5-10-6z"/>
<path color=#00224c d="M1940 1166l10 6-8 5-10-6z"/>
<path color=#002b4c d="M1930 1160l10 6-8 5-11-7z"/>
<path color=#00344c d="M1919 1155l11 5-9 4-10-6z"/>
<path color=#003b4c d="M1909 1152l10 3-8 3-10-5z"/>
<path color=#00404c d="M1899 1151l10 1-8 1-11-2z"/>
<path color=#009ebb d="M1888 1153l11-2-9 0-10 0z"/>
<path color=#00a9d1 d="M1878 1158l10-5-8-2-10 4z"/>
<path color=#009ed7 d="M1868 1165l10-7-8-3-10 5z"/>
<path color=#0088d6 d="M1857 1173l11-8-8-5-11 7z"/>
<path color=#0070d3 d="M1847 1180l10-7-8-6-10 7z"/>
<path color=#0058ce d="M1837 1187l10-7-8-6-10 6z"/>
<path color=#0043c8 d="M1826 1194l11-7-8-7-11 6z"/>
<path color=#0031c1 d="M1816 1199l10-5-8-8-10 5z"/>
<path color=#0022b8 d="M1806 1204l10-5-8-8-10 4z"/>
<path color=#0018b0 d="M1796 1207l10-3-8-9-11 3z"/>
<path color=#0011a7 d="M1785 1210l11-3-9-9-10 2z"/>
<path color=#000d9e d="M1775 1211l10-1-8-10-10 2z"/>
<path color=#000d95 d="M1765 1211l10 0-8-9-11 0z"/>
<path color=#000e8c d="M1754 1211l11 0-9-9-10-1z"/>
<path color=#001283 d="M1744 1209l10 2-8-10-10-1z"/>
<path color=#00177a d="M1734 1206l10 3-8-9-10-3z"/>
<path color=#001d72 d="M1723 1202l11 4-8-9-11-3z"/>
<path color=#00246b d="M1713 1197l10 5-8-8-10-5z"/>
<path color=#002b65 d="M1703 1191l10 6-8-8-10-5z"/>
<path color=#003462 d="M1692 1185l11 6-8-7-11-5z"/>
<path color=#004064 d="M1682 1179l10 6-8-6-10-5z"/>
<path color=#00516e d="M1672 1174l10 5-8-5-10-4z"/>
<path color=#006c85 d="M1662 1170l10 4-8-4-11-2z"/>
<path color=#0090aa d="M1651 1170l11 0-9-2-10 1z"/>
<path color=#00a8ca d="M1641 1172l10-2-8-1-10 4z"/>
<path color=#00a5d6 d="M1631 1177l10-5-8 1-11 6z"/>
<path color=#0092d9 d="M1620 1184l11-7-9 2-10 8z"/>
<path color=#0079d8 d="M1610 1191l10-7-8 3-10 8z"/>
<path color=#005ed5 d="M1600 1199l10-8-8 4-10 9z"/>
<path color=#0045d1 d="M1589 1206l11-7-8 5-11 7z"/>
<path color=#00114c d="M1579 1212l10-6-8 5-10 7z"/>
<path color=#000a4c d="M1569 1218l10-6-8 6-10 6z"/>
<path color=#00054c d="M1561 1222l8-4-8 6-8 4z"/>
</g>
<use href="#sivl" filter="url(#fsivl)"/>
<g id="sivu" class="sf" transform="scale(.5)">
<path color=#662a00 d="M1502 1010l10 5-8-7-10-5z"/>
<path color=#6c2200 d="M1492 1006l10 4-8-7-11-5z"/>
<path color=#731b00 d="M1481 1003l11 3-9-8-10-4z"/>
<path color=#7c1500 d="M1471 1000l10 3-8-9-10-3z"/>
<path color=#841000 d="M1461 998l10 2-8-9-11-2z"/>
<path color=#8d0d00 d="M1450 998l11 0-9-9-10-1z"/>
<path color=#960b00 d="M1440 998l10 0-8-10-10 1z"/>
<path color=#9e0c00 d="M1430 999l10-1-8-9-10 1z"/>
<path color=#a70f00 d="M1419 1002l11-3-8-9-11 2z"/>
<path color=#b01600 d="M1409 1005l10-3-8-10-10 4z"/>
<path color=#b92000 d="M1399 1009l10-4-8-9-10 4z"/>
<path color=#c12e00 d="M1388 1014l11-5-8-9-11 6z"/>
<path color=#c84000 d="M1378 1019l10-5-8-8-10 6z"/>
<path color=#ce5500 d="M1368 1026l10-7-8-7-10 7z"/>
<path color=#d36c00 d="M1358 1032l10-6-8-7-11 8z"/>
<path color=#4c3e00 d="M1306 1046l10 2-8 0-10-1z"/>
<path color=#4c3900 d="M1296 1041l10 5-8 1-10-3z"/>
<path color=#4c3200 d="M1285 1035l11 6-8 3-11-5z"/>
<path color=#4c2900 d="M1275 1029l10 6-8 4-10-6z"/>
<path color=#4c2000 d="M1265 1022l10 7-8 4-10-6z"/>
<path color=#4c1800 d="M1254 1016l11 6-8 5-11-6z"/>
<path color=#4c1000 d="M1244 1011l10 5-8 5-10-4z"/>
<path color=#4c0900 d="M1234 1007l10 4-8 6-10-4z"/>
<path color=#4c0400 d="M1226 1004l8 3-8 6-8-3z"/>
<path color=#d01700 d="M1634 984l10-7-8 5-10 6z"/>
<path color=#723100 d="M1500 1014l10 3-8-7-10-4z"/>
<path color=#782b00 d="M1489 1011l11 3-8-8-11-3z"/>
<path color=#7f2600 d="M1479 1009l10 2-8-8-10-3z"/>
<path color=#862300 d="M1469 1008l10 1-8-9-10-2z"/>
<path color=#8d2100 d="M1459 1008l10 0-8-10-11 0z"/>
<path color=#952000 d="M1448 1008l11 0-9-10-10 0z"/>
<path color=#9c2200 d="M1438 1009l10-1-8-10-10 1z"/>
<path color=#a32600 d="M1428 1011l10-2-8-10-11 3z"/>
<path color=#ac2c00 d="M1417 1014l11-3-9-9-10 3z"/>
<path color=#b43600 d="M1407 1017l10-3-8-9-10 4z"/>
<path color=#bc4300 d="M1397 1022l10-5-8-8-11 5z"/>
<path color=#c45400 d="M1386 1027l11-5-9-8-10 5z"/>
<path color=#cb6700 d="M1376 1032l10-5-8-8-10 7z"/>
<path color=#d17c00 d="M1366 1038l10-6-8-6-10 6z"/>
<path color=#a78800 d="M1325 1048l10 1-8-1-11 0z"/>
<path color=#4c3b00 d="M1314 1044l11 4-9 0-10-2z"/>
<path color=#4c3500 d="M1304 1039l10 5-8 2-10-5z"/>
<path color=#4c2d00 d="M1294 1032l10 7-8 2-11-6z"/>
<path color=#4c2300 d="M1283 1025l11 7-9 3-10-6z"/>
<path color=#4c1a00 d="M1273 1018l10 7-8 4-10-7z"/>
<path color=#4c1100 d="M1263 1012l10 6-8 4-11-6z"/>
<path color=#4c0900 d="M1252 1006l11 6-9 4-10-5z"/>
<path color=#4c0100 d="M1242 1001l10 5-8 5-10-4z"/>
<path color=#490000 d="M1234 999l8 2-8 6-8-3z"/>
<path color=#c00000 d="M1652 972l11-6-9 4-10 7z"/>
<path color=#d40500 d="M1642 980l10-8-8 5-10 7z"/>
<path color=#d81d00 d="M1632 988l10-8-8 4-11 8z"/>
<path color=#803d00 d="M1498 1020l10 2-8-8-11-3z"/>
<path color=#853900 d="M1487 1018l11 2-9-9-10-2z"/>
<path color=#8a3700 d="M1477 1018l10 0-8-9-10-1z"/>
<path color=#903600 d="M1467 1017l10 1-8-10-10 0z"/>
<path color=#953600 d="M1456 1018l11-1-8-9-11 0z"/>
<path color=#9b3800 d="M1446 1019l10-1-8-10-10 1z"/>
<path color=#a13c00 d="M1436 1021l10-2-8-10-10 2z"/>
<path color=#a84300 d="M1425 1023l11-2-8-10-11 3z"/>
<path color=#b04c00 d="M1415 1026l10-3-8-9-10 3z"/>
<path color=#b95800 d="M1405 1029l10-3-8-9-10 5z"/>
<path color=#c16700 d="M1395 1034l10-5-8-7-11 5z"/>
<path color=#c87800 d="M1384 1038l11-4-9-7-10 5z"/>
<path color=#cd8a00 d="M1374 1043l10-5-8-6-10 6z"/>
<path color=#4c3d00 d="M1333 1047l10 2-8 0-10-1z"/>
<path color=#4c3800 d="M1322 1042l11 5-8 1-11-4z"/>
<path color=#4c3100 d="M1312 1036l10 6-8 2-10-5z"/>
<path color=#4c2800 d="M1302 1029l10 7-8 3-10-7z"/>
<path color=#4c1e00 d="M1291 1021l11 8-8 3-11-7z"/>
<path color=#4c1400 d="M1281 1014l10 7-8 4-10-7z"/>
<path color=#4c0a00 d="M1271 1008l10 6-8 4-10-6z"/>
<path color=#4c0200 d="M1261 1002l10 6-8 4-11-6z"/>
<path color=#470000 d="M1250 997l11 5-9 4-10-5z"/>
<path color=#410000 d="M1242 994l8 3-8 4-8-2z"/>
<path color=#a00000 d="M1671 963l8-5-8 4-8 4z"/>
<path color=#b40000 d="M1660 969l11-6-8 3-11 6z"/>
<path color=#cd0000 d="M1650 977l10-8-8 3-10 8z"/>
<path color=#db0e00 d="M1640 985l10-8-8 3-10 8z"/>
<path color=#944c00 d="M1475 1027l10 0-8-9-10-1z"/>
<path color=#974d00 d="M1465 1028l10-1-8-10-11 1z"/>
<path color=#9b4f00 d="M1454 1029l11-1-9-10-10 1z"/>
<path color=#a05300 d="M1444 1030l10-1-8-10-10 2z"/>
<path color=#a65800 d="M1434 1032l10-2-8-9-11 2z"/>
<path color=#ae6100 d="M1423 1034l11-2-9-9-10 3z"/>
<path color=#b66b00 d="M1413 1037l10-3-8-8-10 3z"/>
<path color=#be7800 d="M1403 1040l10-3-8-8-10 5z"/>
<path color=#c58700 d="M1392 1043l11-3-8-6-11 4z"/>
<path color=#c99400 d="M1382 1046l10-3-8-5-10 5z"/>
<path color=#a38400 d="M1351 1049l10 1-8-1-10 0z"/>
<path color=#4c3b00 d="M1341 1045l10 4-8 0-10-2z"/>
<path color=#4c3500 d="M1331 1040l10 5-8 2-11-5z"/>
<path color=#4c2d00 d="M1320 1034l11 6-9 2-10-6z"/>
<path color=#4c2300 d="M1310 1026l10 8-8 2-10-7z"/>
<path color=#4c1900 d="M1300 1019l10 7-8 3-11-8z"/>
<path color=#4c0f00 d="M1289 1011l11 8-9 2-10-7z"/>
<path color=#4c0500 d="M1279 1005l10 6-8 3-10-6z"/>
<path color=#490000 d="M1269 999l10 6-8 3-10-6z"/>
<path color=#410000 d="M1258 994l11 5-8 3-11-5z"/>
<path color=#3b0000 d="M1250 991l8 3-8 3-8-3z"/>
<path color=#970000 d="M1679 961l8-5-8 2-8 5z"/>
<path color=#ab0000 d="M1669 967l10-6-8 2-11 6z"/>
<path color=#c40000 d="M1658 975l11-8-9 2-10 8z"/>
<path color=#df0100 d="M1648 983l10-8-8 2-10 8z"/>
<path color=#a26900 d="M1452 1038l10-1-8-8-10 1z"/>
<path color=#a76d00 d="M1442 1039l10-1-8-8-10 2z"/>
<path color=#ad7400 d="M1431 1041l11-2-8-7-11 2z"/>
<path color=#b47d00 d="M1421 1043l10-2-8-7-10 3z"/>
<path color=#bb8700 d="M1411 1045l10-2-8-6-10 3z"/>
<path color=#c19100 d="M1401 1047l10-2-8-5-11 3z"/>
<path color=#c29900 d="M1390 1050l11-3-9-4-10 3z"/>
<path color=#4c3900 d="M1349 1045l10 4-8 0-10-4z"/>
<path color=#4c3200 d="M1339 1039l10 6-8 0-10-5z"/>
<path color=#4c2900 d="M1328 1032l11 7-8 1-11-6z"/>
<path color=#4c1f00 d="M1318 1024l10 8-8 2-10-8z"/>
<path color=#4c1500 d="M1308 1017l10 7-8 2-10-7z"/>
<path color=#4c0a00 d="M1297 1009l11 8-8 2-11-8z"/>
<path color=#4c0100 d="M1287 1002l10 7-8 2-10-6z"/>
<path color=#400 d="M1277 996l10 6-8 3-10-6z"/>
<path color=#3c0000 d="M1267 991l10 5-8 3-11-5z"/>
<path color=#360000 d="M1258 988l9 3-9 3-8-3z"/>
<path color=#900000 d="M1687 960l8-5-8 1-8 5z"/>
<path color=#a40000 d="M1677 966l10-6-8 1-10 6z"/>
<path color=#be0000 d="M1666 974l11-8-8 1-11 8z"/>
<path color=#da0000 d="M1656 982l10-8-8 1-10 8z"/>
<path color=#e21600 d="M1646 991l10-9-8 1-10 9z"/>
<path color=#af8500 d="M1440 1046l10-1-8-6-11 2z"/>
<path color=#b48b00 d="M1429 1047l11-1-9-5-10 2z"/>
<path color=#ba9200 d="M1419 1049l10-2-8-4-10 2z"/>
<path color=#bd9800 d="M1409 1050l10-1-8-4-10 2z"/>
<path color=#bc9b00 d="M1398 1052l11-2-8-3-11 3z"/>
<path color=#b49600 d="M1388 1052l10 0-8-2-10 1z"/>
<path color=#4c3000 d="M1347 1038l10 6-8 1-10-6z"/>
<path color=#4c2700 d="M1337 1031l10 7-8 1-11-7z"/>
<path color=#4c1c00 d="M1326 1024l11 7-9 1-10-8z"/>
<path color=#4c1200 d="M1316 1016l10 8-8 0-10-7z"/>
<path color=#4c0700 d="M1306 1008l10 8-8 1-11-8z"/>
<path color=#4a0000 d="M1295 1002l11 6-9 1-10-7z"/>
<path color=#410000 d="M1285 996l10 6-8 0-10-6z"/>
<path color=#390000 d="M1275 990l10 6-8 0-10-5z"/>
<path color=#300 d="M1267 987l8 3-8 1-9-3z"/>
<path color=#8d0000 d="M1695 960l8-5-8 0-8 5z"/>
<path color=#a10000 d="M1685 966l10-6-8 0-10 6z"/>
<path color=#ba0000 d="M1675 974l10-8-8 0-11 8z"/>
<path color=#d70000 d="M1664 982l11-8-9 0-10 8z"/>
<path color=#e41200 d="M1654 992l10-10-8 0-10 9z"/>
<path color=#b69400 d="M1438 1049l10-1-8-2-11 1z"/>
<path color=#b99800 d="M1427 1051l11-2-9-2-10 2z"/>
<path color=#ba9b00 d="M1417 1052l10-1-8-2-10 1z"/>
<path color=#b79a00 d="M1407 1053l10-1-8-2-11 2z"/>
<path color=#ae9200 d="M1396 1053l11 0-9-1-10 0z"/>
<path color=#4c2500 d="M1345 1032l10 7-8-1-10-7z"/>
<path color=#4c1b00 d="M1334 1024l11 8-8-1-11-7z"/>
<path color=#4c1000 d="M1324 1016l10 8-8 0-10-8z"/>
<path color=#4c0600 d="M1314 1009l10 7-8 0-10-8z"/>
<path color=#480000 d="M1303 1002l11 7-8-1-11-6z"/>
<path color=#3f0000 d="M1293 996l10 6-8 0-10-6z"/>
<path color=#370000 d="M1283 991l10 5-8 0-10-6z"/>
<path color=#310000 d="M1275 988l8 3-8-1-8-3z"/>
<path color=#8d0000 d="M1703 961l8-4-8-2-8 5z"/>
<path color=#a10000 d="M1693 968l10-7-8-1-10 6z"/>
<path color=#ba0000 d="M1683 976l10-8-8-2-10 8z"/>
<path color=#d70000 d="M1672 984l11-8-8-2-11 8z"/>
<path color=#e41200 d="M1662 993l10-9-8-2-10 10z"/>
<path color=#ba9b00 d="M1425 1052l10-1-8 0-10 1z"/>
<path color=#b79a00 d="M1415 1054l10-2-8 0-10 1z"/>
<path color=#ae9200 d="M1404 1054l11 0-8-1-11 0z"/>
<path color=#4c0600 d="M1322 1010l10 8-8-2-10-7z"/>
<path color=#480000 d="M1312 1003l10 7-8-1-11-7z"/>
<path color=#3f0000 d="M1301 997l11 6-9-1-10-6z"/>
<path color=#370000 d="M1291 992l10 5-8-1-10-5z"/>
<path color=#310000 d="M1283 989l8 3-8-1-8-3z"/>
<path color=#900000 d="M1712 964l8-4-9-3-8 4z"/>
<path color=#a40000 d="M1701 971l11-7-9-3-10 7z"/>
<path color=#be0000 d="M1691 978l10-7-8-3-10 8z"/>
<path color=#da0000 d="M1681 987l10-9-8-2-11 8z"/>
<path color=#e21600 d="M1670 996l11-9-9-3-10 9z"/>
<path color=#b49600 d="M1413 1055l10-2-8 1-11 0z"/>
<path color=#a38600 d="M1402 1055l11 0-9-1-10-1z"/>
<path color=#300 d="M1291 992l8 3-8-3-8-3z"/>
<path color=#970000 d="M1720 968l8-4-8-4-8 4z"/>
<path color=#ab0000 d="M1709 975l11-7-8-4-11 7z"/>
<path color=#c40000 d="M1699 982l10-7-8-4-10 7z"/>
<path color=#df0200 d="M1689 991l10-9-8-4-10 9z"/>
<path color=#e01e00 d="M1678 1000l11-9-8-4-11 9z"/>
<path color=#be9a00 d="M1421 1055l10-3-8 1-10 2z"/>
<path color=#ae8f00 d="M1410 1056l11-1-8 0-11 0z"/>
<path color=#540000 d="M1299 996l8 3-8-4-8-3z"/>
<path color=#a00000 d="M1728 974l8-4-8-6-8 4z"/>
<path color=#b40000 d="M1718 980l10-6-8-6-11 7z"/>
<path color=#cd0000 d="M1707 987l11-7-9-5-10 7z"/>
<path color=#dc0e00 d="M1697 996l10-9-8-5-10 9z"/>
<path color=#de2b00 d="M1687 1004l10-8-8-5-11 9z"/>
<path color=#bd9900 d="M1419 1056l10-2-8 1-11 1z"/>
<path color=#a38400 d="M1408 1057l11-1-9 0-10-1z"/>
<path color=#5c0000 d="M1326 1009l10 6-8-5-10-6z"/>
<path color=#5b0000 d="M1316 1005l10 4-8-5-11-5z"/>
<path color=#5b0000 d="M1307 1002l9 3-9-6-8-3z"/>
<path color=#ac0000 d="M1736 980l8-4-8-6-8 4z"/>
<path color=#c00000 d="M1726 986l10-6-8-6-10 6z"/>
<path color=#d40500 d="M1715 993l11-7-8-6-11 7z"/>
<path color=#d81e00 d="M1705 1001l10-8-8-6-10 9z"/>
<path color=#db3a01 d="M1695 1010l10-9-8-5-10 8z"/>
<path color=#b59400 d="M1416 1058l11-1-8-1-11 1z"/>
<path color=#937500 d="M1406 1057l10 1-8-1-10-3z"/>
<path color=#5a0c00 d="M1344 1021l11 7-9-6-10-7z"/>
<path color=#620200 d="M1334 1016l10 5-8-6-10-6z"/>
<path color=#640000 d="M1324 1011l10 5-8-7-10-4z"/>
<path color=#640000 d="M1316 1008l8 3-8-6-9-3z"/>
<path color=#ba0000 d="M1744 987l8-4-8-7-8 4z"/>
<path color=#ca0400 d="M1734 993l10-6-8-7-10 6z"/>
<path color=#d01700 d="M1724 1000l10-7-8-7-11 7z"/>
<path color=#d52f00 d="M1713 1007l11-7-9-7-10 8z"/>
<path color=#d84a01 d="M1703 1015l10-8-8-6-10 9z"/>
<path color=#c59f00 d="M1425 1059l10-3-8 1-11 1z"/>
<path color=#a78800 d="M1414 1060l11-1-9-1-10-1z"/>
<path color=#826400 d="M1404 1057l10 3-8-3-10-3z"/>
<path color=#572800 d="M1373 1040l10 7-8-6-10-7z"/>
<path color=#5d1400 d="M1353 1028l10 6-8-6-11-7z"/>
<path color=#640b00 d="M1342 1022l11 6-9-7-10-5z"/>
<path color=#6d0200 d="M1332 1018l10 4-8-6-10-5z"/>
<path color=#700000 d="M1324 1015l8 3-8-7-8-3z"/>
<path color=#bf0b00 d="M1752 995l8-4-8-8-8 4z"/>
<path color=#c51800 d="M1742 1001l10-6-8-8-10 6z"/>
<path color=#cc2b00 d="M1732 1007l10-6-8-8-10 7z"/>
<path color=#d14200 d="M1721 1014l11-7-8-7-11 7z"/>
<path color=#d55b00 d="M1711 1021l10-7-8-7-10 8z"/>
<path color=#ba9900 d="M1423 1061l10-2-8 0-11 1z"/>
<path color=#957800 d="M1412 1061l11 0-9-1-10-3z"/>
<path color=#755700 d="M1402 1057l10 4-8-4-10-4z"/>
<path color=#634100 d="M1392 1052l10 5-8-4-11-6z"/>
<path color=#5d3200 d="M1381 1046l11 6-9-5-10-7z"/>
<path color=#5d2700 d="M1371 1040l10 6-8-6-10-6z"/>
<path color=#601e00 d="M1361 1035l10 5-8-6-10-6z"/>
<path color=#671600 d="M1350 1030l11 5-8-7-11-6z"/>
<path color=#6f0e00 d="M1340 1026l10 4-8-8-10-4z"/>
<path color=#780700 d="M1332 1024l8 2-8-8-8-3z"/>
<path color=#ba2100 d="M1761 1003l8-3-9-9-8 4z"/>
<path color=#c12e00 d="M1750 1008l11-5-9-8-10 6z"/>
<path color=#c84000 d="M1740 1014l10-6-8-7-10 6z"/>
<path color=#ce5500 d="M1730 1021l10-7-8-7-11 7z"/>
<path color=#d36c00 d="M1719 1027l11-6-9-7-10 7z"/>
<path color=#aa8b00 d="M1420 1063l11-1-8-1-11 0z"/>
<path color=#866900 d="M1410 1061l10 2-8-2-10-4z"/>
<path color=#633300 d="M1379 1047l10 5-8-6-10-6z"/>
<path color=#662a00 d="M1369 1042l10 5-8-7-10-5z"/>
<path color=#6c2200 d="M1359 1038l10 4-8-7-11-5z"/>
<path color=#731b00 d="M1348 1034l11 4-9-8-10-4z"/>
<path color=#7b1600 d="M1340 1032l8 2-8-8-8-2z"/>
<path color=#b53700 d="M1769 1012l8-3-8-9-8 3z"/>
<path color=#bc4300 d="M1758 1016l11-4-8-9-11 5z"/>
<path color=#c45400 d="M1748 1021l10-5-8-8-10 6z"/>
<path color=#cb6700 d="M1738 1027l10-6-8-7-10 7z"/>
<path color=#d17c00 d="M1727 1033l11-6-8-6-11 6z"/>
<path color=#d01700 d="M1501 1016l10-7-8 5-10 6z"/>
<path color=#9c7d00 d="M1418 1063l11 1-9-1-10-2z"/>
<path color=#7f6100 d="M1408 1061l10 2-8-2-10-4z"/>
<path color=#714d00 d="M1398 1057l10 4-8-4-11-5z"/>
<path color=#6c4000 d="M1387 1053l11 4-9-5-10-5z"/>
<path color=#6e3800 d="M1377 1049l10 4-8-6-10-5z"/>
<path color=#723100 d="M1367 1046l10 3-8-7-10-4z"/>
<path color=#782b00 d="M1356 1043l11 3-8-8-11-4z"/>
<path color=#7f2700 d="M1348 1041l8 2-8-9-8-2z"/>
<path color=#b14d00 d="M1777 1021l8-3-8-9-8 3z"/>
<path color=#b95800 d="M1767 1024l10-3-8-9-11 4z"/>
<path color=#c16700 d="M1756 1028l11-4-9-8-10 5z"/>
<path color=#c87800 d="M1746 1033l10-5-8-7-10 6z"/>
<path color=#cd8a00 d="M1736 1037l10-4-8-6-11 6z"/>
<path color=#c00000 d="M1519 1004l10-6-8 4-10 7z"/>
<path color=#d40500 d="M1509 1012l10-8-8 5-10 7z"/>
<path color=#d81d00 d="M1499 1020l10-8-8 4-11 8z"/>
<path color=#937500 d="M1416 1064l10 1-8-2-10-2z"/>
<path color=#815f00 d="M1406 1062l10 2-8-3-10-4z"/>
<path color=#795100 d="M1395 1059l11 3-8-5-11-4z"/>
<path color=#784800 d="M1385 1056l10 3-8-6-10-4z"/>
<path color=#7b4200 d="M1375 1054l10 2-8-7-10-3z"/>
<path color=#803d00 d="M1365 1052l10 2-8-8-11-3z"/>
<path color=#843a00 d="M1356 1050l9 2-9-9-8-2z"/>
<path color=#ae6200 d="M1785 1029l8-2-8-9-8 3z"/>
<path color=#b66b00 d="M1775 1031l10-2-8-8-10 3z"/>
<path color=#be7800 d="M1764 1035l11-4-8-7-11 4z"/>
<path color=#c58700 d="M1754 1038l10-3-8-7-10 5z"/>
<path color=#c99400 d="M1744 1041l10-3-8-5-10 4z"/>
<path color=#9e0000 d="M1538 995l10-6-8 4-11 5z"/>
<path color=#b40000 d="M1527 1001l11-6-9 3-10 6z"/>
<path color=#cd0000 d="M1517 1009l10-8-8 3-10 8z"/>
<path color=#db0e00 d="M1507 1017l10-8-8 3-10 8z"/>
<path color=#937300 d="M1414 1066l10 1-8-3-10-2z"/>
<path color=#886400 d="M1404 1064l10 2-8-4-11-3z"/>
<path color=#855b00 d="M1393 1062l11 2-9-5-10-3z"/>
<path color=#865500 d="M1383 1061l10 1-8-6-10-2z"/>
<path color=#895100 d="M1373 1060l10 1-8-7-10-2z"/>
<path color=#8c4f00 d="M1365 1059l8 1-8-8-9-2z"/>
<path color=#ae7500 d="M1793 1035l8-1-8-7-8 2z"/>
<path color=#2d0000 d="M1566 983l11-3-8 2-11 3z"/>
<path color=#820000 d="M1556 987l10-4-8 2-10 4z"/>
<path color=#940000 d="M1546 992l10-5-8 2-10 6z"/>
<path color=#ab0000 d="M1536 999l10-7-8 3-11 6z"/>
<path color=#c40000 d="M1525 1007l11-8-9 2-10 8z"/>
<path color=#df0100 d="M1515 1015l10-8-8 2-10 8z"/>
<path color=#987800 d="M1412 1068l10 1-8-3-10-2z"/>
<path color=#946f00 d="M1402 1068l10 0-8-4-11-2z"/>
<path color=#936a00 d="M1391 1067l11 1-9-6-10-1z"/>
<path color=#956700 d="M1381 1066l10 1-8-6-10-1z"/>
<path color=#976600 d="M1373 1066l8 0-8-6-8-1z"/>
<path color=#610000 d="M1585 979l10-1-8 1-10 1z"/>
<path color=#6c0000 d="M1575 982l10-3-8 1-11 3z"/>
<path color=#7b0000 d="M1564 986l11-4-9 1-10 4z"/>
<path color=#8e0000 d="M1554 991l10-5-8 1-10 5z"/>
<path color=#a40000 d="M1544 998l10-7-8 1-10 7z"/>
<path color=#be0000 d="M1533 1006l11-8-8 1-11 8z"/>
<path color=#da0000 d="M1523 1014l10-8-8 1-10 8z"/>
<path color=#e21600 d="M1513 1023l10-9-8 1-10 9z"/>
<path color=#a18200 d="M1410 1071l10 0-8-3-10 0z"/>
<path color=#a17f00 d="M1399 1071l11 0-8-3-11-1z"/>
<path color=#a37d00 d="M1389 1071l10 0-8-4-10-1z"/>
<path color=#a47d00 d="M1381 1072l8-1-8-5-8 0z"/>
<path color=#5e0000 d="M1593 979l10-1-8 0-10 1z"/>
<path color=#690000 d="M1583 982l10-3-8 0-10 3z"/>
<path color=#780000 d="M1572 986l11-4-8 0-11 4z"/>
<path color=#8b0000 d="M1562 992l10-6-8 0-10 5z"/>
<path color=#a10000 d="M1552 998l10-6-8-1-10 7z"/>
<path color=#ba0000 d="M1542 1006l10-8-8 0-11 8z"/>
<path color=#d70000 d="M1531 1014l11-8-9 0-10 8z"/>
<path color=#e41200 d="M1521 1023l10-9-8 0-10 9z"/>
<path color=#ad8d00 d="M1397 1074l11-1-9-2-10 0z"/>
<path color=#b08e00 d="M1389 1074l8 0-8-3-8 1z"/>
<path color=#2c0000 d="M1632 981l10 2-8-1-10-3z"/>
<path color=#510000 d="M1622 979l10 2-8-2-10-1z"/>
<path color=#560000 d="M1612 979l10 0-8-1-11 0z"/>
<path color=#5e0000 d="M1601 981l11-2-9-1-10 1z"/>
<path color=#690000 d="M1591 984l10-3-8-2-10 3z"/>
<path color=#780000 d="M1581 988l10-4-8-2-11 4z"/>
<path color=#8b0000 d="M1570 993l11-5-9-2-10 6z"/>
<path color=#a10000 d="M1560 1000l10-7-8-1-10 6z"/>
<path color=#ba0000 d="M1550 1008l10-8-8-2-10 8z"/>
<path color=#d70000 d="M1539 1016l11-8-8-2-11 8z"/>
<path color=#e41200 d="M1529 1025l10-9-8-2-10 9z"/>
<path color=#4c3e00 d="M1397 1074l8-1-8 1-8 0z"/>
<path color=#510000 d="M1640 984l11 2-9-3-10-2z"/>
<path color=#540000 d="M1630 982l10 2-8-3-10-2z"/>
<path color=#590000 d="M1620 982l10 0-8-3-10 0z"/>
<path color=#610000 d="M1609 984l11-2-8-3-11 2z"/>
<path color=#6c0000 d="M1599 987l10-3-8-3-10 3z"/>
<path color=#7b0000 d="M1589 991l10-4-8-3-10 4z"/>
<path color=#8e0000 d="M1579 996l10-5-8-3-11 5z"/>
<path color=#a40000 d="M1568 1003l11-7-9-3-10 7z"/>
<path color=#be0000 d="M1558 1010l10-7-8-3-10 8z"/>
<path color=#da0000 d="M1548 1019l10-9-8-2-11 8z"/>
<path color=#e21600 d="M1537 1028l11-9-9-3-10 9z"/>
<path color=#b19300 d="M1455 1073l10 0-8-1-10 1z"/>
<path color=#4c3f00 d="M1444 1072l11 1-8 0-11 0z"/>
<path color=#4c3e00 d="M1434 1071l10 1-8 1-10 0z"/>
<path color=#4c3c00 d="M1424 1071l10 0-8 2-10 0z"/>
<path color=#4c3b00 d="M1414 1070l10 1-8 2-11 0z"/>
<path color=#4c3a00 d="M1405 1070l9 0-9 3-8 1z"/>
<path color=#540000 d="M1659 990l10 4-8-4-10-4z"/>
<path color=#560000 d="M1649 988l10 2-8-4-11-2z"/>
<path color=#590000 d="M1638 987l11 1-9-4-10-2z"/>
<path color=#5f0000 d="M1628 987l10 0-8-5-10 0z"/>
<path color=#670000 d="M1618 988l10-1-8-5-11 2z"/>
<path color=#730000 d="M1607 991l11-3-9-4-10 3z"/>
<path color=#820000 d="M1597 995l10-4-8-4-10 4z"/>
<path color=#940000 d="M1587 1000l10-5-8-4-10 5z"/>
<path color=#ab0000 d="M1576 1007l11-7-8-4-11 7z"/>
<path color=#c40000 d="M1566 1014l10-7-8-4-10 7z"/>
<path color=#df0200 d="M1556 1023l10-9-8-4-10 9z"/>
<path color=#e01e00 d="M1545 1031l11-8-8-4-11 9z"/>
<path color=#4c3e00 d="M1463 1072l10 1-8 0-10 0z"/>
<path color=#4c3c00 d="M1453 1070l10 2-8 1-11-1z"/>
<path color=#4c3a00 d="M1442 1068l11 2-9 2-10-1z"/>
<path color=#4c3700 d="M1432 1066l10 2-8 3-10 0z"/>
<path color=#4c3500 d="M1422 1065l10 1-8 5-10-1z"/>
<path color=#4c3300 d="M1414 1065l8 0-8 5-9 0z"/>
<path color=#4c0500 d="M1698 1010l10 7-8-5-10-7z"/>
<path color=#5c0000 d="M1688 1004l10 6-8-5-11-6z"/>
<path color=#5b0000 d="M1677 999l11 5-9-5-10-5z"/>
<path color=#5b0000 d="M1667 996l10 3-8-5-10-4z"/>
<path color=#5d0000 d="M1657 993l10 3-8-6-10-2z"/>
<path color=#610000 d="M1646 992l11 1-8-5-11-1z"/>
<path color=#670000 d="M1636 992l10 0-8-5-10 0z"/>
<path color=#700000 d="M1626 994l10-2-8-5-10 1z"/>
<path color=#7c0000 d="M1615 996l11-2-8-6-11 3z"/>
<path color=#8b0000 d="M1605 1000l10-4-8-5-10 4z"/>
<path color=#9e0000 d="M1595 1006l10-6-8-5-10 5z"/>
<path color=#b40000 d="M1585 1012l10-6-8-6-11 7z"/>
<path color=#cd0000 d="M1574 1019l11-7-9-5-10 7z"/>
<path color=#dc0e00 d="M1564 1027l10-8-8-5-10 9z"/>
<path color=#de2b01 d="M1554 1036l10-9-8-4-11 8z"/>
<path color=#4c3e00 d="M1481 1072l11 1-8-1-11 1z"/>
<path color=#4c3c00 d="M1471 1070l10 2-8 1-10-1z"/>
<path color=#4c3800 d="M1461 1067l10 3-8 2-10-2z"/>
<path color=#4c3400 d="M1451 1064l10 3-8 3-11-2z"/>
<path color=#4c3100 d="M1440 1061l11 3-9 4-10-2z"/>
<path color=#4c2d00 d="M1430 1059l10 2-8 5-10-1z"/>
<path color=#4c2b00 d="M1422 1058l8 1-8 6-8 0z"/>
<path color=#4c1400 d="M1716 1022l11 7-8-5-11-7z"/>
<path color=#5a0c00 d="M1706 1016l10 6-8-5-10-7z"/>
<path color=#620200 d="M1696 1010l10 6-8-6-10-6z"/>
<path color=#640000 d="M1685 1006l11 4-8-6-11-5z"/>
<path color=#650000 d="M1675 1002l10 4-8-7-10-3z"/>
<path color=#670000 d="M1665 1000l10 2-8-6-10-3z"/>
<path color=#6b0000 d="M1655 999l10 1-8-7-11-1z"/>
<path color=#720000 d="M1644 999l11 0-9-7-10 0z"/>
<path color=#7b0000 d="M1634 1000l10-1-8-7-10 2z"/>
<path color=#870000 d="M1624 1003l10-3-8-6-11 2z"/>
<path color=#970000 d="M1613 1007l11-4-9-7-10 4z"/>
<path color=#a00 d="M1603 1012l10-5-8-7-10 6z"/>
<path color=#c00000 d="M1593 1018l10-6-8-6-10 6z"/>
<path color=#d40500 d="M1582 1025l11-7-8-6-11 7z"/>
<path color=#d81e01 d="M1572 1033l10-8-8-6-10 8z"/>
<path color=#db3a01 d="M1562 1042l10-9-8-6-10 9z"/>
<path color=#b09000 d="M1500 1073l10 0-8-1-10 1z"/>
<path color=#4c3d00 d="M1490 1071l10 2-8 0-11-1z"/>
<path color=#4c3900 d="M1479 1067l11 4-9 1-10-2z"/>
<path color=#4c3300 d="M1469 1063l10 4-8 3-10-3z"/>
<path color=#4c2e00 d="M1459 1059l10 4-8 4-10-3z"/>
<path color=#4c2900 d="M1448 1055l11 4-8 5-11-3z"/>
<path color=#4c2400 d="M1438 1053l10 2-8 6-10-2z"/>
<path color=#4c2100 d="M1430 1051l8 2-8 6-8-1z"/>
<path color=#581e00 d="M1725 1028l10 7-8-6-11-7z"/>
<path color=#5d1400 d="M1714 1022l11 6-9-6-10-6z"/>
<path color=#640b00 d="M1704 1017l10 5-8-6-10-6z"/>
<path color=#6d0200 d="M1694 1013l10 4-8-7-11-4z"/>
<path color=#710000 d="M1683 1010l11 3-9-7-10-4z"/>
<path color=#740000 d="M1673 1007l10 3-8-8-10-2z"/>
<path color=#780000 d="M1663 1007l10 0-8-7-10-1z"/>
<path color=#7f0000 d="M1652 1007l11 0-8-8-11 0z"/>
<path color=#890000 d="M1642 1008l10-1-8-8-10 1z"/>
<path color=#950000 d="M1632 1011l10-3-8-8-10 3z"/>
<path color=#a50000 d="M1621 1014l11-3-8-8-11 4z"/>
<path color=#b80000 d="M1611 1019l10-5-8-7-10 5z"/>
<path color=#ca0400 d="M1601 1025l10-6-8-7-10 6z"/>
<path color=#d01700 d="M1591 1032l10-7-8-7-11 7z"/>
<path color=#d52f01 d="M1580 1039l11-7-9-7-10 8z"/>
<path color=#d94a01 d="M1570 1047l10-8-8-6-10 9z"/>
<path color=#4c3e00 d="M1508 1072l10 2-8-1-10 0z"/>
<path color=#4c3a00 d="M1498 1068l10 4-8 1-10-2z"/>
<path color=#4c3400 d="M1487 1063l11 5-8 3-11-4z"/>
<path color=#4c2e00 d="M1477 1058l10 5-8 4-10-4z"/>
<path color=#4c2700 d="M1467 1053l10 5-8 5-10-4z"/>
<path color=#4c2100 d="M1457 1049l10 4-8 6-11-4z"/>
<path color=#4c1b00 d="M1446 1046l11 3-9 6-10-2z"/>
<path color=#4c1700 d="M1438 1044l8 2-8 7-8-2z"/>
<path color=#ce5500 d="M1836 1027l10-7-8 6-10 6z"/>
<path color=#d36c00 d="M1826 1035l10-8-8 5-11 7z"/>
<path color=#5d3200 d="M1743 1041l10 6-8-5-10-7z"/>
<path color=#5d2700 d="M1733 1035l10 6-8-6-10-7z"/>
<path color=#601e00 d="M1722 1030l11 5-8-7-11-6z"/>
<path color=#671600 d="M1712 1025l10 5-8-8-10-5z"/>
<path color=#6f0e00 d="M1702 1021l10 4-8-8-10-4z"/>
<path color=#790600 d="M1692 1018l10 3-8-8-11-3z"/>
<path color=#830000 d="M1681 1016l11 2-9-8-10-3z"/>
<path color=#800 d="M1671 1015l10 1-8-9-10 0z"/>
<path color=#8f0000 d="M1661 1015l10 0-8-8-11 0z"/>
<path color=#980000 d="M1650 1017l11-2-9-8-10 1z"/>
<path color=#a50000 d="M1640 1019l10-2-8-9-10 3z"/>
<path color=#b50000 d="M1630 1022l10-3-8-8-11 3z"/>
<path color=#be0a00 d="M1619 1027l11-5-9-8-10 5z"/>
<path color=#c51800 d="M1609 1032l10-5-8-8-10 6z"/>
<path color=#cc2b00 d="M1599 1039l10-7-8-7-10 7z"/>
<path color=#d24200 d="M1588 1046l11-7-8-7-11 7z"/>
<path color=#d65b01 d="M1578 1053l10-7-8-7-10 8z"/>
<path color=#aa8b00 d="M1527 1074l10 1-8-2-11 1z"/>
<path color=#4c3c00 d="M1516 1070l11 4-9 0-10-2z"/>
<path color=#4c3600 d="M1506 1065l10 5-8 2-10-4z"/>
<path color=#4c2f00 d="M1496 1059l10 6-8 3-11-5z"/>
<path color=#4c2700 d="M1485 1054l11 5-9 4-10-5z"/>
<path color=#4c1f00 d="M1475 1048l10 6-8 4-10-5z"/>
<path color=#4c1800 d="M1465 1043l10 5-8 5-10-4z"/>
<path color=#4c1200 d="M1454 1039l11 4-8 6-11-3z"/>
<path color=#4c0e00 d="M1446 1037l8 2-8 7-8-2z"/>
<path color=#4c1000 d="M1854 1015l11-7-9 6-10 6z"/>
<path color=#d55a00 d="M1834 1031l10-8-8 4-10 8z"/>
<path color=#d87400 d="M1823 1039l11-8-8 4-11 7z"/>
<path color=#662a00 d="M1731 1037l10 5-8-7-11-5z"/>
<path color=#6c2200 d="M1720 1033l11 4-9-7-10-5z"/>
<path color=#731b00 d="M1710 1029l10 4-8-8-10-4z"/>
<path color=#7c1500 d="M1700 1027l10 2-8-8-10-3z"/>
<path color=#841000 d="M1689 1025l11 2-8-9-11-2z"/>
<path color=#8d0d00 d="M1679 1024l10 1-8-9-10-1z"/>
<path color=#960b00 d="M1669 1025l10-1-8-9-10 0z"/>
<path color=#9e0c00 d="M1658 1026l11-1-8-10-11 2z"/>
<path color=#a70f00 d="M1648 1028l10-2-8-9-10 2z"/>
<path color=#b01600 d="M1638 1031l10-3-8-9-10 3z"/>
<path color=#b92000 d="M1628 1035l10-4-8-9-11 5z"/>
<path color=#c12e00 d="M1617 1040l11-5-9-8-10 5z"/>
<path color=#c84000 d="M1607 1046l10-6-8-8-10 7z"/>
<path color=#ce5500 d="M1597 1052l10-6-8-7-11 7z"/>
<path color=#d36c00 d="M1586 1059l11-7-9-6-10 7z"/>
<path color=#4c3e00 d="M1535 1073l10 2-8 0-10-1z"/>
<path color=#4c3900 d="M1524 1068l11 5-8 1-11-4z"/>
<path color=#4c3200 d="M1514 1062l10 6-8 2-10-5z"/>
<path color=#4c2900 d="M1504 1055l10 7-8 3-10-6z"/>
<path color=#4c2000 d="M1494 1049l10 6-8 4-11-5z"/>
<path color=#4c1800 d="M1483 1043l11 6-9 5-10-6z"/>
<path color=#4c1000 d="M1473 1038l10 5-8 5-10-5z"/>
<path color=#4c0900 d="M1463 1033l10 5-8 5-11-4z"/>
<path color=#4c0400 d="M1454 1031l9 2-9 6-8-2z"/>
<path color=#d01700 d="M1862 1010l11-7-8 5-11 7z"/>
<path color=#d42f00 d="M1852 1018l10-8-8 5-10 8z"/>
<path color=#d74900 d="M1842 1027l10-9-8 5-10 8z"/>
<path color=#d96500 d="M1832 1035l10-8-8 4-11 8z"/>
<path color=#da8000 d="M1821 1044l11-9-9 4-10 7z"/>
<path color=#6e3800 d="M1739 1044l10 4-8-6-10-5z"/>
<path color=#723100 d="M1728 1041l11 3-8-7-11-4z"/>
<path color=#782b00 d="M1718 1038l10 3-8-8-10-4z"/>
<path color=#7f2600 d="M1708 1036l10 2-8-9-10-2z"/>
<path color=#862300 d="M1698 1035l10 1-8-9-11-2z"/>
<path color=#8d2100 d="M1687 1034l11 1-9-10-10-1z"/>
<path color=#952000 d="M1677 1035l10-1-8-10-10 1z"/>
<path color=#9c2200 d="M1667 1036l10-1-8-10-11 1z"/>
<path color=#a32600 d="M1656 1038l11-2-9-10-10 2z"/>
<path color=#ac2c00 d="M1646 1040l10-2-8-10-10 3z"/>
<path color=#b43600 d="M1636 1044l10-4-8-9-10 4z"/>
<path color=#bc4300 d="M1625 1048l11-4-8-9-11 5z"/>
<path color=#c45400 d="M1615 1053l10-5-8-8-10 6z"/>
<path color=#cb6700 d="M1605 1059l10-6-8-7-10 6z"/>
<path color=#d17c00 d="M1594 1064l11-5-8-7-11 7z"/>
<path color=#a78800 d="M1553 1074l11 1-9-1-10 1z"/>
<path color=#4c3b00 d="M1543 1071l10 3-8 1-10-2z"/>
<path color=#4c3500 d="M1533 1065l10 6-8 2-11-5z"/>
<path color=#4c2d00 d="M1522 1059l11 6-9 3-10-6z"/>
<path color=#4c2300 d="M1512 1052l10 7-8 3-10-7z"/>
<path color=#4c1a00 d="M1502 1045l10 7-8 3-10-6z"/>
<path color=#4c1100 d="M1491 1038l11 7-8 4-11-6z"/>
<path color=#4c0900 d="M1481 1033l10 5-8 5-10-5z"/>
<path color=#4c0100 d="M1471 1028l10 5-8 5-10-5z"/>
<path color=#490000 d="M1463 1025l8 3-8 5-9-2z"/>
<path color=#c00000 d="M1881 999l10-6-8 4-10 6z"/>
<path color=#d40500 d="M1871 1006l10-7-8 4-11 7z"/>
<path color=#d81d00 d="M1860 1015l11-9-9 4-10 8z"/>
<path color=#da3900 d="M1850 1023l10-8-8 3-10 9z"/>
<path color=#dc5600 d="M1840 1032l10-9-8 4-10 8z"/>
<path color=#dc7200 d="M1829 1041l11-9-8 3-11 9z"/>
<path color=#803d00 d="M1726 1046l11 2-9-7-10-3z"/>
<path color=#853900 d="M1716 1045l10 1-8-8-10-2z"/>
<path color=#8a3700 d="M1706 1044l10 1-8-9-10-1z"/>
<path color=#903600 d="M1695 1044l11 0-8-9-11-1z"/>
<path color=#953600 d="M1685 1045l10-1-8-10-10 1z"/>
<path color=#9b3800 d="M1675 1046l10-1-8-10-10 1z"/>
<path color=#a13c00 d="M1664 1047l11-1-8-10-11 2z"/>
<path color=#a84300 d="M1654 1050l10-3-8-9-10 2z"/>
<path color=#b04c00 d="M1644 1052l10-2-8-10-10 4z"/>
<path color=#b95800 d="M1634 1056l10-4-8-8-11 4z"/>
<path color=#c16700 d="M1623 1060l11-4-9-8-10 5z"/>
<path color=#c87800 d="M1613 1065l10-5-8-7-10 6z"/>
<path color=#cd8a00 d="M1603 1069l10-4-8-6-11 5z"/>
<path color=#4c3d00 d="M1561 1073l11 3-8-1-11-1z"/>
<path color=#4c3800 d="M1551 1069l10 4-8 1-10-3z"/>
<path color=#4c3100 d="M1541 1063l10 6-8 2-10-6z"/>
<path color=#4c2800 d="M1530 1055l11 8-8 2-11-6z"/>
<path color=#4c1e00 d="M1520 1048l10 7-8 4-10-7z"/>
<path color=#4c1400 d="M1510 1041l10 7-8 4-10-7z"/>
<path color=#4c0a00 d="M1500 1034l10 7-8 4-11-7z"/>
<path color=#4c0200 d="M1489 1028l11 6-9 4-10-5z"/>
<path color=#470000 d="M1479 1024l10 4-8 5-10-5z"/>
<path color=#410000 d="M1471 1021l8 3-8 4-8-3z"/>
<path color=#a00000 d="M1899 989l9-4-9 4-8 4z"/>
<path color=#b40000 d="M1889 996l10-7-8 4-10 6z"/>
<path color=#cd0000 d="M1879 1003l10-7-8 3-10 7z"/>
<path color=#db0e00 d="M1868 1012l11-9-8 3-11 9z"/>
<path color=#dd2a00 d="M1858 1021l10-9-8 3-10 8z"/>
<path color=#de4800 d="M1848 1030l10-9-8 2-10 9z"/>
<path color=#de6600 d="M1838 1039l10-9-8 2-11 9z"/>
<path color=#de8100 d="M1827 1047l11-8-9 2-10 8z"/>
<path color=#8d4e00 d="M1724 1054l10 0-8-8-10-1z"/>
<path color=#904d00 d="M1714 1053l10 1-8-9-10-1z"/>
<path color=#944c00 d="M1704 1054l10-1-8-9-11 0z"/>
<path color=#974d00 d="M1693 1054l11 0-9-10-10 1z"/>
<path color=#9b4f00 d="M1683 1055l10-1-8-9-10 1z"/>
<path color=#a05300 d="M1673 1057l10-2-8-9-11 1z"/>
<path color=#a65800 d="M1662 1058l11-1-9-10-10 3z"/>
<path color=#ae6100 d="M1652 1060l10-2-8-8-10 2z"/>
<path color=#b66b00 d="M1642 1063l10-3-8-8-10 4z"/>
<path color=#be7800 d="M1631 1066l11-3-8-7-11 4z"/>
<path color=#c58700 d="M1621 1070l10-4-8-6-10 5z"/>
<path color=#c99400 d="M1611 1073l10-3-8-5-10 4z"/>
<path color=#a38400 d="M1580 1075l10 2-8-2-10 1z"/>
<path color=#4c3b00 d="M1570 1072l10 3-8 1-11-3z"/>
<path color=#4c3500 d="M1559 1067l11 5-9 1-10-4z"/>
<path color=#4c2d00 d="M1549 1060l10 7-8 2-10-6z"/>
<path color=#4c2300 d="M1539 1053l10 7-8 3-11-8z"/>
<path color=#4c1900 d="M1528 1045l11 8-9 2-10-7z"/>
<path color=#4c0f00 d="M1518 1038l10 7-8 3-10-7z"/>
<path color=#4c0500 d="M1508 1031l10 7-8 3-10-7z"/>
<path color=#490000 d="M1497 1025l11 6-8 3-11-6z"/>
<path color=#410000 d="M1487 1020l10 5-8 3-10-4z"/>
<path color=#3b0000 d="M1479 1017l8 3-8 4-8-3z"/>
<path color=#970000 d="M1908 987l8-4-8 2-9 4z"/>
<path color=#ab0000 d="M1897 994l11-7-9 2-10 7z"/>
<path color=#c40000 d="M1887 1001l10-7-8 2-10 7z"/>
<path color=#df0100 d="M1877 1010l10-9-8 2-11 9z"/>
<path color=#e01e00 d="M1866 1019l11-9-9 2-10 9z"/>
<path color=#e13d00 d="M1856 1028l10-9-8 2-10 9z"/>
<path color=#e15c00 d="M1846 1037l10-9-8 2-10 9z"/>
<path color=#e07800 d="M1835 1045l11-8-8 2-11 8z"/>
<path color=#9b6400 d="M1712 1062l10-1-8-8-10 1z"/>
<path color=#9c6400 d="M1701 1063l11-1-8-8-11 0z"/>
<path color=#9f6600 d="M1691 1064l10-1-8-9-10 1z"/>
<path color=#a26900 d="M1681 1065l10-1-8-9-10 2z"/>
<path color=#a76d00 d="M1670 1066l11-1-8-8-11 1z"/>
<path color=#ad7400 d="M1660 1067l10-1-8-8-10 2z"/>
<path color=#b47d00 d="M1650 1069l10-2-8-7-10 3z"/>
<path color=#bb8700 d="M1640 1072l10-3-8-6-11 3z"/>
<path color=#c19100 d="M1629 1074l11-2-9-6-10 4z"/>
<path color=#c29900 d="M1619 1076l10-2-8-4-10 3z"/>
<path color=#4c3d00 d="M1588 1075l10 2-8 0-10-2z"/>
<path color=#4c3900 d="M1578 1071l10 4-8 0-10-3z"/>
<path color=#4c3200 d="M1567 1065l11 6-8 1-11-5z"/>
<path color=#4c2900 d="M1557 1059l10 6-8 2-10-7z"/>
<path color=#4c1f00 d="M1547 1051l10 8-8 1-10-7z"/>
<path color=#4c1500 d="M1536 1043l11 8-8 2-11-8z"/>
<path color=#4c0a00 d="M1526 1036l10 7-8 2-10-7z"/>
<path color=#4c0100 d="M1516 1029l10 7-8 2-10-7z"/>
<path color=#400 d="M1506 1023l10 6-8 2-11-6z"/>
<path color=#3c0000 d="M1495 1018l11 5-9 2-10-5z"/>
<path color=#360000 d="M1487 1015l8 3-8 2-8-3z"/>
<path color=#900000 d="M1916 986l8-4-8 1-8 4z"/>
<path color=#a40000 d="M1905 993l11-7-8 1-11 7z"/>
<path color=#be0000 d="M1895 1000l10-7-8 1-10 7z"/>
<path color=#da0000 d="M1885 1009l10-9-8 1-10 9z"/>
<path color=#e21600 d="M1875 1018l10-9-8 1-11 9z"/>
<path color=#e33500 d="M1864 1027l11-9-9 1-10 9z"/>
<path color=#e35400 d="M1854 1036l10-9-8 1-10 9z"/>
<path color=#e27200 d="M1844 1045l10-9-8 1-11 8z"/>
<path color=#a87e00 d="M1689 1071l10-1-8-6-10 1z"/>
<path color=#ab8000 d="M1679 1071l10 0-8-6-11 1z"/>
<path color=#af8500 d="M1668 1072l11-1-9-5-10 1z"/>
<path color=#b48b00 d="M1658 1074l10-2-8-5-10 2z"/>
<path color=#ba9200 d="M1648 1075l10-1-8-5-10 3z"/>
<path color=#bd9800 d="M1637 1077l11-2-8-3-11 2z"/>
<path color=#bc9b00 d="M1627 1078l10-1-8-3-10 2z"/>
<path color=#b49600 d="M1617 1079l10-1-8-2-10 1z"/>
<path color=#4c3c00 d="M1596 1075l11 3-9-1-10-2z"/>
<path color=#4c3700 d="M1586 1071l10 4-8 0-10-4z"/>
<path color=#4c3000 d="M1576 1065l10 6-8 0-11-6z"/>
<path color=#4c2700 d="M1565 1058l11 7-9 0-10-6z"/>
<path color=#4c1c00 d="M1555 1050l10 8-8 1-10-8z"/>
<path color=#4c1200 d="M1545 1043l10 7-8 1-11-8z"/>
<path color=#4c0700 d="M1534 1035l11 8-9 0-10-7z"/>
<path color=#4a0000 d="M1524 1028l10 7-8 1-10-7z"/>
<path color=#410000 d="M1514 1022l10 6-8 1-10-6z"/>
<path color=#390000 d="M1503 1017l11 5-8 1-11-5z"/>
<path color=#300 d="M1495 1014l8 3-8 1-8-3z"/>
<path color=#8d0000 d="M1924 986l8-4-8 0-8 4z"/>
<path color=#a10000 d="M1914 993l10-7-8 0-11 7z"/>
<path color=#ba0000 d="M1903 1001l11-8-9 0-10 7z"/>
<path color=#d70000 d="M1893 1009l10-8-8-1-10 9z"/>
<path color=#e41200 d="M1883 1018l10-9-8 0-10 9z"/>
<path color=#e43100 d="M1872 1027l11-9-8 0-11 9z"/>
<path color=#e45100 d="M1862 1037l10-10-8 0-10 9z"/>
<path color=#e36f00 d="M1852 1045l10-8-8-1-10 9z"/>
<path color=#e18900 d="M1841 1053l11-8-8 0-11 7z"/>
<path color=#b39000 d="M1677 1075l10-1-8-3-11 1z"/>
<path color=#b69400 d="M1666 1076l11-1-9-3-10 2z"/>
<path color=#b99800 d="M1656 1077l10-1-8-2-10 1z"/>
<path color=#ba9b00 d="M1646 1079l10-2-8-2-11 2z"/>
<path color=#b79a00 d="M1635 1080l11-1-9-2-10 1z"/>
<path color=#ae9200 d="M1625 1080l10 0-8-2-10 1z"/>
<path color=#4c3c00 d="M1604 1076l11 3-8-1-11-3z"/>
<path color=#4c3600 d="M1594 1071l10 5-8-1-10-4z"/>
<path color=#4c2e00 d="M1584 1065l10 6-8 0-10-6z"/>
<path color=#4c2500 d="M1573 1058l11 7-8 0-11-7z"/>
<path color=#4c1b00 d="M1563 1051l10 7-8 0-10-8z"/>
<path color=#4c1000 d="M1553 1043l10 8-8-1-10-7z"/>
<path color=#4c0600 d="M1543 1035l10 8-8 0-11-8z"/>
<path color=#480000 d="M1532 1029l11 6-9 0-10-7z"/>
<path color=#3f0000 d="M1522 1022l10 7-8-1-10-6z"/>
<path color=#370000 d="M1512 1017l10 5-8 0-11-5z"/>
<path color=#310000 d="M1503 1014l9 3-9 0-8-3z"/>
<path color=#8d0000 d="M1932 988l8-4-8-2-8 4z"/>
<path color=#a10000 d="M1922 995l10-7-8-2-10 7z"/>
<path color=#ba0000 d="M1911 1002l11-7-8-2-11 8z"/>
<path color=#d70000 d="M1901 1011l10-9-8-1-10 8z"/>
<path color=#e41200 d="M1891 1020l10-9-8-2-10 9z"/>
<path color=#e43100 d="M1881 1029l10-9-8-2-11 9z"/>
<path color=#e45100 d="M1870 1038l11-9-9-2-10 10z"/>
<path color=#e36f00 d="M1860 1047l10-9-8-1-10 8z"/>
<path color=#e18900 d="M1850 1054l10-7-8-2-11 8z"/>
<path color=#aa8d00 d="M1788 1068l10 0-8 0-10 0z"/>
<path color=#4c3f00 d="M1777 1068l11 0-8 0-11 0z"/>
<path color=#4c3e00 d="M1757 1069l10-1-8 1-10 0z"/>
<path color=#4c3e00 d="M1747 1069l10 0-8 0-11 1z"/>
<path color=#4c3e00 d="M1736 1070l11-1-9 1-10 1z"/>
<path color=#4c3e00 d="M1726 1071l10-1-8 1-10 1z"/>
<path color=#4c3e00 d="M1716 1072l10-1-8 1-11 1z"/>
<path color=#4c3e00 d="M1705 1072l11 0-9 1-10 0z"/>
<path color=#b99800 d="M1664 1077l10-1-8 0-10 1z"/>
<path color=#b79a00 d="M1643 1080l11-1-8 0-11 1z"/>
<path color=#ae9200 d="M1633 1081l10-1-8 0-10 0z"/>
<path color=#4c3c00 d="M1613 1077l10 3-8-1-11-3z"/>
<path color=#4c3600 d="M1602 1073l11 4-9-1-10-5z"/>
<path color=#4c2e00 d="M1592 1067l10 6-8-2-10-6z"/>
<path color=#4c2500 d="M1582 1060l10 7-8-2-11-7z"/>
<path color=#4c1b00 d="M1571 1052l11 8-9-2-10-7z"/>
<path color=#4c0600 d="M1551 1037l10 7-8-1-10-8z"/>
<path color=#480000 d="M1540 1030l11 7-8-2-11-6z"/>
<path color=#3f0000 d="M1530 1024l10 6-8-1-10-7z"/>
<path color=#370000 d="M1520 1019l10 5-8-2-10-5z"/>
<path color=#310000 d="M1512 1016l8 3-8-2-9-3z"/>
<path color=#900000 d="M1940 991l8-4-8-3-8 4z"/>
<path color=#a40000 d="M1930 998l10-7-8-3-10 7z"/>
<path color=#be0000 d="M1920 1005l10-7-8-3-11 7z"/>
<path color=#da0000 d="M1909 1013l11-8-9-3-10 9z"/>
<path color=#e21600 d="M1899 1022l10-9-8-2-10 9z"/>
<path color=#e33500 d="M1889 1032l10-10-8-2-10 9z"/>
<path color=#e35400 d="M1878 1041l11-9-8-3-11 9z"/>
<path color=#e27200 d="M1868 1049l10-8-8-3-10 9z"/>
<path color=#e08b00 d="M1858 1056l10-7-8-2-10 7z"/>
<path color=#4c3f00 d="M1806 1067l11 1-9 0-10 0z"/>
<path color=#4c3e00 d="M1796 1066l10 1-8 1-10 0z"/>
<path color=#4c3c00 d="M1786 1065l10 1-8 2-11 0z"/>
<path color=#4c3b00 d="M1775 1065l11 0-9 3-10 0z"/>
<path color=#4c3a00 d="M1765 1065l10 0-8 3-10 1z"/>
<path color=#4c3a00 d="M1755 1065l10 0-8 4-10 0z"/>
<path color=#4c3900 d="M1744 1066l11-1-8 4-11 1z"/>
<path color=#4c3900 d="M1734 1067l10-1-8 4-10 1z"/>
<path color=#4c3900 d="M1724 1067l10 0-8 4-10 1z"/>
<path color=#4c3900 d="M1713 1068l11-1-8 5-11 0z"/>
<path color=#4c3a00 d="M1703 1070l10-2-8 4-10 1z"/>
<path color=#4c3a00 d="M1693 1071l10-1-8 3-10 1z"/>
<path color=#4c3b00 d="M1683 1073l10-2-8 3-11 2z"/>
<path color=#bc9b00 d="M1652 1080l10-2-8 1-11 1z"/>
<path color=#b49600 d="M1641 1081l11-1-9 0-10 1z"/>
<path color=#a38600 d="M1631 1081l10 0-8 0-10-1z"/>
<path color=#4c3700 d="M1610 1075l11 4-8-2-11-4z"/>
<path color=#4c3000 d="M1600 1069l10 6-8-2-10-6z"/>
<path color=#4c2700 d="M1590 1062l10 7-8-2-10-7z"/>
<path color=#4c1c00 d="M1579 1055l11 7-8-2-11-8z"/>
<path color=#390000 d="M1528 1022l10 5-8-3-10-5z"/>
<path color=#300 d="M1520 1019l8 3-8-3-8-3z"/>
<path color=#970000 d="M1948 995l9-4-9-4-8 4z"/>
<path color=#ab0000 d="M1938 1002l10-7-8-4-10 7z"/>
<path color=#c40000 d="M1928 1009l10-7-8-4-10 7z"/>
<path color=#df0200 d="M1918 1017l10-8-8-4-11 8z"/>
<path color=#e01f00 d="M1907 1026l11-9-9-4-10 9z"/>
<path color=#e13d00 d="M1897 1035l10-9-8-4-10 10z"/>
<path color=#e15c00 d="M1887 1044l10-9-8-3-11 9z"/>
<path color=#e07800 d="M1876 1052l11-8-9-3-10 8z"/>
<path color=#de9100 d="M1866 1059l10-7-8-3-10 7z"/>
<path color=#4c3e00 d="M1825 1066l10 1-8 0-10 1z"/>
<path color=#4c3c00 d="M1814 1065l11 1-8 2-11-1z"/>
<path color=#4c3a00 d="M1804 1063l10 2-8 2-10-1z"/>
<path color=#4c3700 d="M1794 1061l10 2-8 3-10-1z"/>
<path color=#4c3500 d="M1783 1060l11 1-8 4-11 0z"/>
<path color=#4c3300 d="M1773 1059l10 1-8 5-10 0z"/>
<path color=#4c3200 d="M1763 1059l10 0-8 6-10 0z"/>
<path color=#4c3100 d="M1753 1059l10 0-8 6-11 1z"/>
<path color=#4c3100 d="M1742 1060l11-1-9 7-10 1z"/>
<path color=#4c3100 d="M1732 1061l10-1-8 7-10 0z"/>
<path color=#4c3100 d="M1722 1062l10-1-8 6-11 1z"/>
<path color=#4c3200 d="M1711 1064l11-2-9 6-10 2z"/>
<path color=#4c3300 d="M1701 1066l10-2-8 6-10 1z"/>
<path color=#4c3500 d="M1691 1069l10-3-8 5-10 2z"/>
<path color=#c29900 d="M1660 1079l10-3-8 2-10 2z"/>
<path color=#be9a00 d="M1649 1081l11-2-8 1-11 1z"/>
<path color=#ae8f00 d="M1639 1082l10-1-8 0-10 0z"/>
<path color=#4c3900 d="M1619 1078l10 3-8-2-11-4z"/>
<path color=#4c3200 d="M1608 1073l11 5-9-3-10-6z"/>
<path color=#4c2900 d="M1598 1066l10 7-8-4-10-7z"/>
<path color=#4c1f00 d="M1588 1059l10 7-8-4-11-7z"/>
<path color=#540000 d="M1536 1026l10 5-8-4-10-5z"/>
<path color=#540000 d="M1528 1023l8 3-8-4-8-3z"/>
<path color=#a00000 d="M1957 1000l8-4-8-5-9 4z"/>
<path color=#b40000 d="M1946 1007l11-7-9-5-10 7z"/>
<path color=#cd0000 d="M1936 1014l10-7-8-5-10 7z"/>
<path color=#dc0e00 d="M1926 1022l10-8-8-5-10 8z"/>
<path color=#dd2b00 d="M1915 1031l11-9-8-5-11 9z"/>
<path color=#df4900 d="M1905 1040l10-9-8-5-10 9z"/>
<path color=#df6600 d="M1895 1048l10-8-8-5-10 9z"/>
<path color=#de8100 d="M1884 1056l11-8-8-4-11 8z"/>
<path color=#db9700 d="M1874 1062l10-6-8-4-10 7z"/>
<path color=#d2a200 d="M1864 1066l10-4-8-3-10 5z"/>
<path color=#4c3e00 d="M1843 1067l11 1-9-1-10 0z"/>
<path color=#4c3c00 d="M1833 1064l10 3-8 0-10-1z"/>
<path color=#4c3800 d="M1823 1061l10 3-8 2-11-1z"/>
<path color=#4c3400 d="M1812 1059l11 2-9 4-10-2z"/>
<path color=#4c3100 d="M1802 1056l10 3-8 4-10-2z"/>
<path color=#4c2d00 d="M1792 1054l10 2-8 5-11-1z"/>
<path color=#4c2b00 d="M1781 1053l11 1-9 6-10-1z"/>
<path color=#4c2900 d="M1771 1052l10 1-8 6-10 0z"/>
<path color=#4c2700 d="M1761 1052l10 0-8 7-10 0z"/>
<path color=#4c2700 d="M1750 1052l11 0-8 7-11 1z"/>
<path color=#4c2700 d="M1740 1053l10-1-8 8-10 1z"/>
<path color=#4c2700 d="M1730 1055l10-2-8 8-10 1z"/>
<path color=#4c2900 d="M1720 1057l10-2-8 7-11 2z"/>
<path color=#4c2b00 d="M1709 1060l11-3-9 7-10 2z"/>
<path color=#4c2d00 d="M1699 1064l10-4-8 6-10 3z"/>
<path color=#4c3100 d="M1689 1068l10-4-8 5-11 3z"/>
<path color=#c89c00 d="M1658 1081l10-4-8 2-11 2z"/>
<path color=#bd9900 d="M1647 1083l11-2-9 0-10 1z"/>
<path color=#a38400 d="M1637 1083l10 0-8-1-10-1z"/>
<path color=#4c2d00 d="M1606 1070l10 6-8-3-10-7z"/>
<path color=#5c0000 d="M1555 1036l10 6-8-5-11-6z"/>
<path color=#5b0000 d="M1544 1031l11 5-9-5-10-5z"/>
<path color=#5b0000 d="M1536 1028l8 3-8-5-8-3z"/>
<path color=#ac0000 d="M1965 1007l8-4-8-7-8 4z"/>
<path color=#c00000 d="M1954 1013l11-6-8-7-11 7z"/>
<path color=#d40500 d="M1944 1020l10-7-8-6-10 7z"/>
<path color=#d81e00 d="M1934 1028l10-8-8-6-10 8z"/>
<path color=#db3901 d="M1924 1036l10-8-8-6-11 9z"/>
<path color=#dc5601 d="M1913 1045l11-9-9-5-10 9z"/>
<path color=#dc7300 d="M1903 1053l10-8-8-5-10 8z"/>
<path color=#db8c00 d="M1893 1060l10-7-8-5-11 8z"/>
<path color=#d79e00 d="M1882 1065l11-5-9-4-10 6z"/>
<path color=#caa100 d="M1872 1068l10-3-8-3-10 4z"/>
<path color=#4c3d00 d="M1851 1065l11 3-8 0-11-1z"/>
<path color=#4c3900 d="M1841 1062l10 3-8 2-10-3z"/>
<path color=#4c3300 d="M1831 1057l10 5-8 2-10-3z"/>
<path color=#4c2e00 d="M1820 1054l11 3-8 4-11-2z"/>
<path color=#4c2900 d="M1810 1050l10 4-8 5-10-3z"/>
<path color=#4c2400 d="M1800 1047l10 3-8 6-10-2z"/>
<path color=#4c2100 d="M1790 1045l10 2-8 7-11-1z"/>
<path color=#4c1e00 d="M1779 1044l11 1-9 8-10-1z"/>
<path color=#4c1d00 d="M1769 1044l10 0-8 8-10 0z"/>
<path color=#4c1c00 d="M1759 1044l10 0-8 8-11 0z"/>
<path color=#4c1c00 d="M1748 1045l11-1-9 8-10 1z"/>
<path color=#4c1d00 d="M1738 1047l10-2-8 8-10 2z"/>
<path color=#4c1e00 d="M1728 1050l10-3-8 8-10 2z"/>
<path color=#4c2100 d="M1717 1053l11-3-8 7-11 3z"/>
<path color=#4c2400 d="M1707 1058l10-5-8 7-10 4z"/>
<path color=#4c2900 d="M1697 1063l10-5-8 6-10 4z"/>
<path color=#cf9900 d="M1666 1079l10-5-8 3-10 4z"/>
<path color=#c9a000 d="M1656 1083l10-4-8 2-11 2z"/>
<path color=#b59400 d="M1645 1085l11-2-9 0-10 0z"/>
<path color=#937500 d="M1635 1084l10 1-8-2-10-2z"/>
<path color=#745500 d="M1625 1080l10 4-8-3-11-5z"/>
<path color=#4c1400 d="M1583 1054l11 7-9-5-10-7z"/>
<path color=#5a0c00 d="M1573 1048l10 6-8-5-10-7z"/>
<path color=#620200 d="M1563 1042l10 6-8-6-10-6z"/>
<path color=#640000 d="M1552 1038l11 4-8-6-11-5z"/>
<path color=#640000 d="M1544 1035l8 3-8-7-8-3z"/>
<path color=#ba0000 d="M1973 1014l8-4-8-7-8 4z"/>
<path color=#ca0400 d="M1963 1020l10-6-8-7-11 6z"/>
<path color=#d01700 d="M1952 1026l11-6-9-7-10 7z"/>
<path color=#d52f00 d="M1942 1034l10-8-8-6-10 8z"/>
<path color=#d84a00 d="M1932 1042l10-8-8-6-10 8z"/>
<path color=#da6500 d="M1921 1050l11-8-8-6-11 9z"/>
<path color=#da8000 d="M1911 1058l10-8-8-5-10 8z"/>
<path color=#d99600 d="M1901 1064l10-6-8-5-10 7z"/>
<path color=#d2a300 d="M1890 1068l11-4-8-4-11 5z"/>
<path color=#bd9a00 d="M1880 1069l10-1-8-3-10 3z"/>
<path color=#4c3e00 d="M1870 1067l10 2-8-1-10 0z"/>
<path color=#4c3a00 d="M1860 1063l10 4-8 1-11-3z"/>
<path color=#4c3400 d="M1849 1058l11 5-9 2-10-3z"/>
<path color=#4c2e00 d="M1839 1053l10 5-8 4-10-5z"/>
<path color=#4c2700 d="M1829 1048l10 5-8 4-11-3z"/>
<path color=#4c2100 d="M1818 1044l11 4-9 6-10-4z"/>
<path color=#4c1b00 d="M1808 1041l10 3-8 6-10-3z"/>
<path color=#4c1700 d="M1798 1038l10 3-8 6-10-2z"/>
<path color=#4c1400 d="M1787 1036l11 2-8 7-11-1z"/>
<path color=#4c1200 d="M1777 1036l10 0-8 8-10 0z"/>
<path color=#4c1100 d="M1767 1036l10 0-8 8-10 0z"/>
<path color=#4c1100 d="M1756 1037l11-1-8 8-11 1z"/>
<path color=#4c1200 d="M1746 1040l10-3-8 8-10 2z"/>
<path color=#4c1400 d="M1736 1043l10-3-8 7-10 3z"/>
<path color=#4c1700 d="M1726 1047l10-4-8 7-11 3z"/>
<path color=#4c1b00 d="M1715 1052l11-5-9 6-10 5z"/>
<path color=#4c2100 d="M1705 1057l10-5-8 6-10 5z"/>
<path color=#d17c00 d="M1684 1071l11-7-9 4-10 6z"/>
<path color=#d49000 d="M1674 1077l10-6-8 3-10 5z"/>
<path color=#d29f00 d="M1664 1082l10-5-8 2-10 4z"/>
<path color=#c59f00 d="M1653 1086l11-4-8 1-11 2z"/>
<path color=#a78800 d="M1643 1086l10 0-8-1-10-1z"/>
<path color=#826400 d="M1633 1084l10 2-8-2-10-4z"/>
<path color=#684800 d="M1622 1079l11 5-8-4-11-5z"/>
<path color=#581e00 d="M1592 1060l10 7-8-6-11-7z"/>
<path color=#5d1400 d="M1581 1054l11 6-9-6-10-6z"/>
<path color=#640b00 d="M1571 1049l10 5-8-6-10-6z"/>
<path color=#6d0200 d="M1561 1045l10 4-8-7-11-4z"/>
<path color=#700000 d="M1553 1042l8 3-9-7-8-3z"/>
<path color=#bf0b00 d="M1981 1022l8-4-8-8-8 4z"/>
<path color=#c51800 d="M1971 1027l10-5-8-8-10 6z"/>
<path color=#cc2b00 d="M1960 1034l11-7-8-7-11 6z"/>
<path color=#d14200 d="M1950 1041l10-7-8-8-10 8z"/>
<path color=#d55b00 d="M1940 1048l10-7-8-7-10 8z"/>
<path color=#d87500 d="M1930 1055l10-7-8-6-11 8z"/>
<path color=#d98d00 d="M1919 1062l11-7-9-5-10 8z"/>
<path color=#d69f00 d="M1909 1067l10-5-8-4-10 6z"/>
<path color=#c9a200 d="M1899 1069l10-2-8-3-11 4z"/>
<path color=#aa8b00 d="M1888 1069l11 0-9-1-10 1z"/>
<path color=#4c3c00 d="M1878 1065l10 4-8 0-10-2z"/>
<path color=#4c3600 d="M1868 1060l10 5-8 2-10-4z"/>
<path color=#4c2f00 d="M1857 1054l11 6-8 3-11-5z"/>
<path color=#4c2700 d="M1847 1048l10 6-8 4-10-5z"/>
<path color=#4c1f00 d="M1837 1043l10 5-8 5-10-5z"/>
<path color=#4c1800 d="M1826 1038l11 5-8 5-11-4z"/>
<path color=#4c1200 d="M1816 1034l10 4-8 6-10-3z"/>
<path color=#4c0d00 d="M1806 1031l10 3-8 7-10-3z"/>
<path color=#4c0900 d="M1796 1029l10 2-8 7-11-2z"/>
<path color=#4c0700 d="M1785 1028l11 1-9 7-10 0z"/>
<path color=#4c0600 d="M1775 1029l10-1-8 8-10 0z"/>
<path color=#4c0600 d="M1765 1030l10-1-8 7-11 1z"/>
<path color=#4c0700 d="M1754 1032l11-2-9 7-10 3z"/>
<path color=#4c0900 d="M1744 1036l10-4-8 8-10 3z"/>
<path color=#4c0d00 d="M1734 1040l10-4-8 7-10 4z"/>
<path color=#4c1200 d="M1723 1046l11-6-8 7-11 5z"/>
<path color=#4c1800 d="M1713 1052l10-6-8 6-10 5z"/>
<path color=#ce5500 d="M1703 1059l10-7-8 5-10 7z"/>
<path color=#d36c00 d="M1692 1067l11-8-8 5-11 7z"/>
<path color=#d68300 d="M1682 1074l10-7-8 4-10 6z"/>
<path color=#d69800 d="M1672 1081l10-7-8 3-10 5z"/>
<path color=#d0a300 d="M1662 1086l10-5-8 1-11 4z"/>
<path color=#ba9900 d="M1651 1088l11-2-9 0-10 0z"/>
<path color=#957800 d="M1641 1087l10 1-8-2-10-2z"/>
<path color=#755700 d="M1631 1084l10 3-8-3-11-5z"/>
<path color=#634100 d="M1620 1079l11 5-9-5-10-6z"/>
<path color=#5d3200 d="M1610 1073l10 6-8-6-10-6z"/>
<path color=#5d2700 d="M1600 1067l10 6-8-6-10-7z"/>
<path color=#601e00 d="M1589 1061l11 6-8-7-11-6z"/>
<path color=#671600 d="M1579 1057l10 4-8-7-10-5z"/>
<path color=#6f0e00 d="M1569 1053l10 4-8-8-10-4z"/>
<path color=#780700 d="M1561 1050l8 3-8-8-8-3z"/>
</g>
<use href="#sivu" filter="url(#fsivu)"/>
<g id="a-i">
<polyline fill="none" stroke="#262626" stroke-width="3.8" stroke-linejoin="miter" points="100.8,75.0 100.8,280.5 286.8,299.0 486.3,282.2"/>
<path fill="none" stroke="#262626" stroke-width="3.5" d="M253.0 295.6v7.5M322.8 296.0v7.5M193.8 289.8v7.5M385.8 290.6v7.5M134.6 283.9v7.5M448.8 285.3v7.5M100.8 280.5l-8.5 -0.8M100.8 109.2l-8.5 -0.8"/>
</g>
<g id="a-ii">
<polyline fill="none" stroke="#262626" stroke-width="3.8" stroke-linejoin="miter" points="608.7,84.7 608.7,264.4 781.5,298.6 996.0,269.9"/>
<path fill="none" stroke="#262626" stroke-width="3.5" d="M746.6 293.5L753.6 292.5M816.8 293.3L823.6 294.7M691.6 282.6L698.6 281.6M884.6 284.3L891.4 285.6M636.6 271.7L643.6 270.8M952.4 275.2L959.2 276.5M608.7 264.4l-8.3 -1.6M608.7 114.7l-8.3 -1.6"/>
</g>
<g id="a-iii">
<polyline fill="none" stroke="#262626" stroke-width="3.8" stroke-linejoin="miter" points="101.0,477.5 101.0,698.0 275.6,708.7 485.9,699.3"/>
<path fill="none" stroke="#262626" stroke-width="3.5" d="M243.9 706.7v7.5M313.5 707.0v7.5M188.3 703.3v7.5M380.0 704.0v7.5M132.7 700.0v7.5M446.5 701.0v7.5M101.0 698.0l-8.5 -0.5M101.0 540.5l-8.5 -0.5"/>
</g>
<g id="a-iv">
<polyline fill="none" stroke="#262626" stroke-width="3.8" stroke-linejoin="miter" points="608.8,482.4 608.8,688.0 780.3,708.0 996.1,693.0"/>
<path fill="none" stroke="#262626" stroke-width="3.5" d="M749.2 704.4v7.5M819.3 705.3v7.5M694.6 698.0v7.5M887.5 700.5v7.5M640.0 691.7v7.5M955.7 695.8v7.5M608.8 688.0l-8.4 -1.0M608.8 541.2l-8.4 -1.0"/>
</g>
<g font-family="Liberation Sans, Arial, Helvetica, sans-serif" font-size="42" fill="#262626">
<text x="109.8" y="333.0">2</text>
<text x="168.8" y="339.4">0</text>
<text x="215.3" y="345.0">-2</text>
<text x="323.1" y="345.0">-2</text>
<text x="383.6" y="339.0">0</text>
<text x="448.8" y="333.0">2</text>
<text x="58.9" y="120.4">5</text>
<text x="59.2" y="291.0">0</text>
<text x="597.1" y="304.8">2</text>
<text x="654.1" y="314.5">0</text>
<text x="695.7" y="326.4">-2</text>
<text x="837.6" y="327.7">-2</text>
<text x="904.2" y="319.5">0</text>
<text x="971.2" y="310.0">2</text>
<text x="566.7" y="125.0">5</text>
<text x="566.2" y="272.7">0</text>
<text x="108.2" y="749.0">2</text>
<text x="163.7" y="752.2">0</text>
<text x="205.8" y="754.5">-2</text>
<text x="313.0" y="756.1">-2</text>
<text x="380.4" y="753.0">0</text>
<text x="446.2" y="750.0">2</text>
<text x="58.9" y="550.4">5</text>
<text x="59.2" y="708.0">0</text>
<text x="613.4" y="741.5">2</text>
<text x="668.4" y="748.6">0</text>
<text x="710.1" y="753.6">-2</text>
<text x="818.7" y="754.8">-2</text>
<text x="887.0" y="750.2">0</text>
<text x="953.7" y="745.3">2</text>
<text x="566.7" y="552.0">5</text>
<text x="566.4" y="698.6">0</text>
</g>
<g font-family="Liberation Serif, Times New Roman, serif" fill="#1c1c1c">
<text><tspan x="268.0" y="38.6" font-size="51">(</tspan><tspan x="284.9" y="37.7" font-size="45.7" font-style="italic">i</tspan><tspan x="301.0" y="38.6" font-size="51">)</tspan></text>
<text font-style="italic"><tspan x="107.4" y="387.6" font-size="46.4">k</tspan><tspan x="133.3" y="393.8" font-size="30">y</tspan></text>
<text font-style="italic"><tspan x="429.8" y="387.6" font-size="46.4">k</tspan><tspan x="453.1" y="393.8" font-size="30">x</tspan></text>
<text transform="translate(37.2 255.0) rotate(-90)" font-size="46"><tspan x="-1.1" y="0" font-style="italic">ħ</tspan><tspan x="21.5" y="0" font-size="41" font-style="italic">ω</tspan><tspan x="52.6" y="7.1" font-size="32" font-weight="bold">k</tspan><tspan x="76.9" y="10" font-size="62">/</tspan><tspan x="93.5" y="0" font-style="italic">J</tspan><tspan x="122.6" y="0" font-size="50" font-style="italic">S</tspan></text>
<text><tspan x="768.9" y="37.3" font-size="51">(</tspan><tspan x="786.8" y="36.4" font-size="45.7" font-style="italic">i</tspan><tspan x="802.6" y="36.4" font-size="45.7" font-style="italic">i</tspan><tspan x="816.8" y="37.3" font-size="51">)</tspan></text>
<text font-style="italic"><tspan x="605.0" y="383.8" font-size="46.4">k</tspan><tspan x="632.2" y="390.0" font-size="30">y</tspan></text>
<text font-style="italic"><tspan x="926.9" y="383.8" font-size="46.4">k</tspan><tspan x="951.9" y="390.0" font-size="30">x</tspan></text>
<text transform="translate(544.4 251.0) rotate(-90)" font-size="46"><tspan x="-1.1" y="0" font-style="italic">ħ</tspan><tspan x="21.5" y="0" font-size="41" font-style="italic">ω</tspan><tspan x="52.6" y="7.1" font-size="32" font-weight="bold">k</tspan><tspan x="76.9" y="10" font-size="62">/</tspan><tspan x="93.5" y="0" font-style="italic">J</tspan><tspan x="122.6" y="0" font-size="50" font-style="italic">S</tspan></text>
<text><tspan x="252.4" y="446.1" font-size="51">(</tspan><tspan x="270.3" y="445.2" font-size="45.7" font-style="italic">i</tspan><tspan x="286.3" y="445.2" font-size="45.7" font-style="italic">i</tspan><tspan x="302.1" y="445.2" font-size="45.7" font-style="italic">i</tspan><tspan x="316.3" y="446.1" font-size="51">)</tspan></text>
<text font-style="italic"><tspan x="98.8" y="799.2" font-size="46.4">k</tspan><tspan x="126.0" y="805.4" font-size="30">y</tspan></text>
<text font-style="italic"><tspan x="422.8" y="799.2" font-size="46.4">k</tspan><tspan x="447.0" y="805.4" font-size="30">x</tspan></text>
<text transform="translate(37.2 665.0) rotate(-90)" font-size="46"><tspan x="-1.1" y="0" font-style="italic">ħ</tspan><tspan x="21.5" y="0" font-size="41" font-style="italic">ω</tspan><tspan x="52.6" y="7.1" font-size="32" font-weight="bold">k</tspan><tspan x="76.9" y="10" font-size="62">/</tspan><tspan x="93.5" y="0" font-style="italic">J</tspan><tspan x="122.6" y="0" font-size="50" font-style="italic">S</tspan></text>
<text><tspan x="764.8" y="447.2" font-size="51">(</tspan><tspan x="782.0" y="446.3" font-size="45.7" font-style="italic">i</tspan><tspan x="797.3" y="446.3" font-size="45.7" font-style="italic">v</tspan><tspan x="820.9" y="447.2" font-size="51">)</tspan></text>
<text font-style="italic"><tspan x="604.2" y="796.6" font-size="46.4">k</tspan><tspan x="630.5" y="802.8" font-size="30">y</tspan></text>
<text font-style="italic"><tspan x="925.6" y="796.6" font-size="46.4">k</tspan><tspan x="951.1" y="802.8" font-size="30">x</tspan></text>
<text transform="translate(544.4 661.0) rotate(-90)" font-size="46"><tspan x="-1.1" y="0" font-style="italic">ħ</tspan><tspan x="21.5" y="0" font-size="41" font-style="italic">ω</tspan><tspan x="52.6" y="7.1" font-size="32" font-weight="bold">k</tspan><tspan x="76.9" y="10" font-size="62">/</tspan><tspan x="93.5" y="0" font-style="italic">J</tspan><tspan x="122.6" y="0" font-size="50" font-style="italic">S</tspan></text>
</g>
</svg>
</body></html>
